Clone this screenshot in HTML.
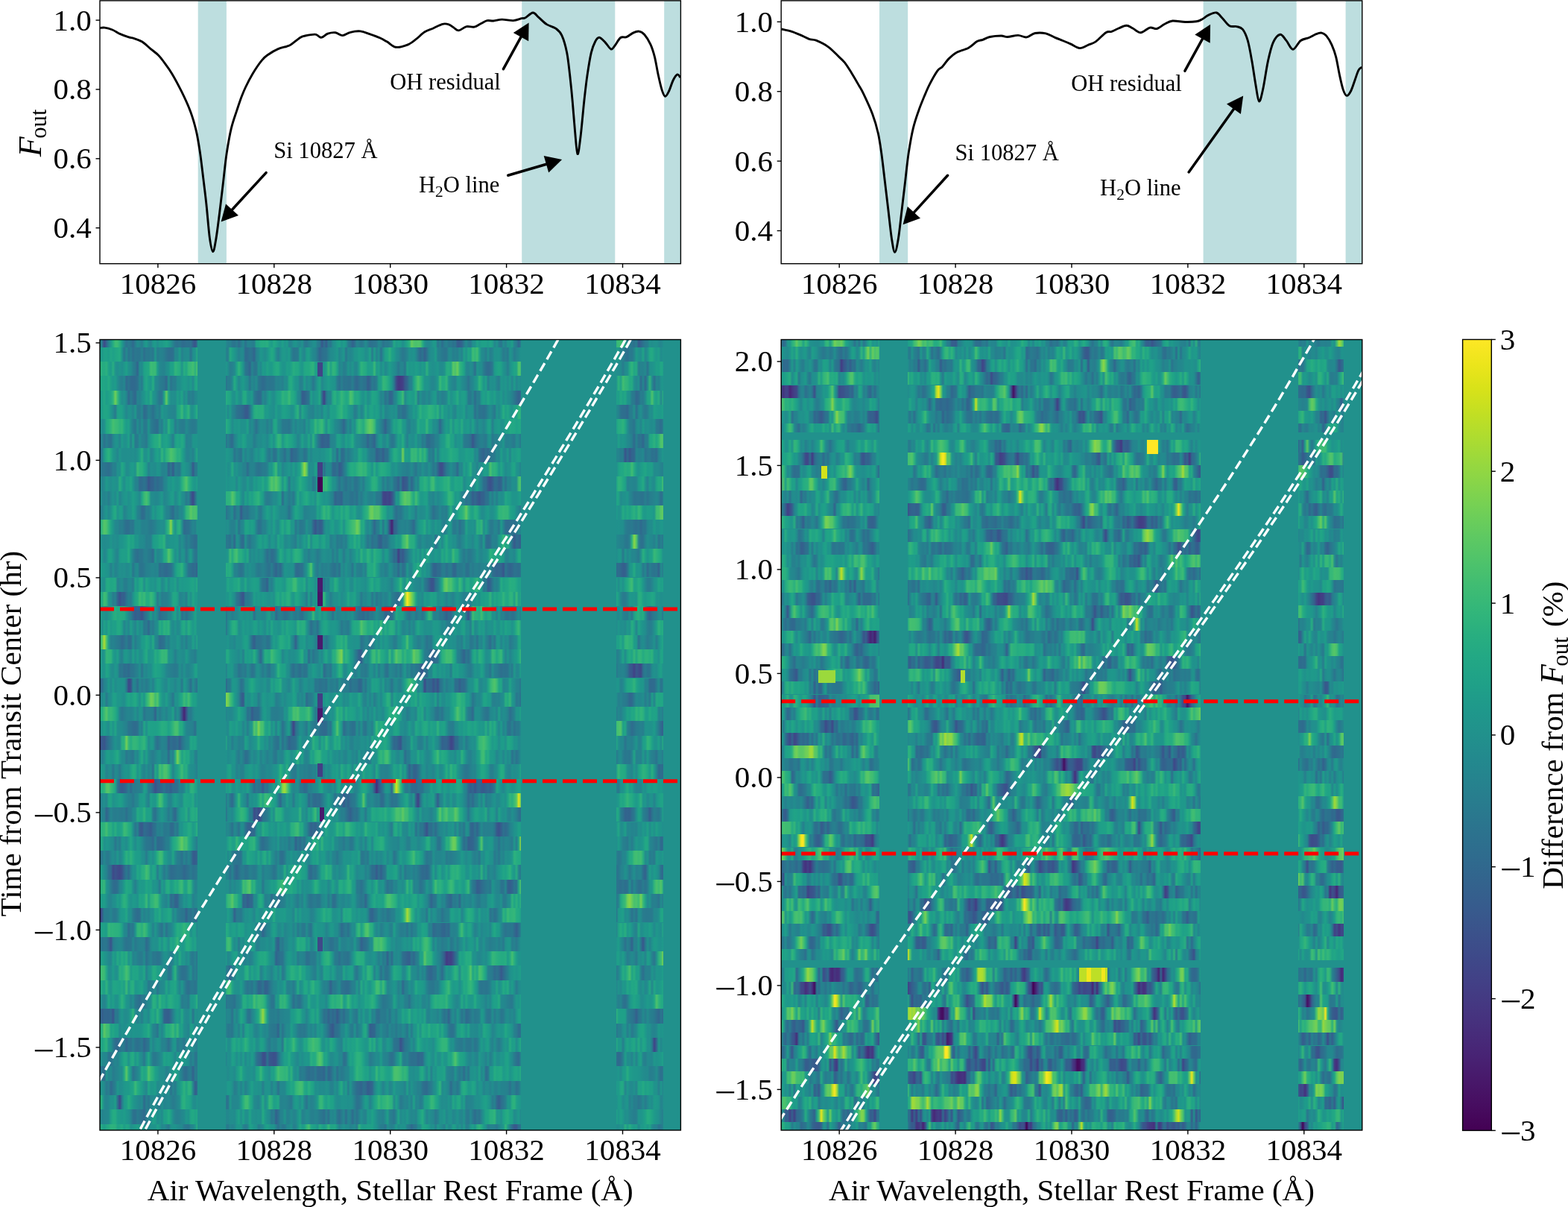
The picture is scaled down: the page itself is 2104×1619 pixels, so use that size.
<!DOCTYPE html>
<html><head><meta charset="utf-8"><title>Figure</title>
<style>
html,body{margin:0;padding:0;background:#fff}
#fig{position:relative;width:2104px;height:1619px;overflow:hidden;background:#fff}
#fig>div{position:absolute}
#ov{position:absolute;left:0;top:0}
#ov text{font-family:"Liberation Serif", "Times New Roman", serif;fill:#000}
#ov line{stroke:#000;stroke-width:1.4}
</style></head><body><div id="fig">
<div style="left:134.0px;top:455.0px;width:779.4px;height:1061.0px;background:#21918c"></div>
<div style="left:134.0px;top:455.0px;width:130.5px;height:10.8px;background:linear-gradient(90deg,#228d8d,#2a788e,#3f4788,#31688e,#26828e,#1f988b,#26ad81,#3dbc74,#3aba76,#29af7f,#1e9b8a,#25838e,#2c738e,#297b8e,#2a768e,#30698e,#287d8e,#228c8d,#25858e,#287d8e,#20928c,#1e9b8a,#238a8d,#26828e,#1f978b,#1e9b8a,#218e8d,#1f9a8a,#1f998a,#1f9e89,#20a386,#1e9c89,#21918c,#26818e,#2b758e,#2c728e,#2a778e,#2e6d8e,#2f6c8e,#2d718e,#2d708e,#2c738e,#355f8d,#3b528b,#2a788e)"></div>
<div style="left:302.5px;top:455.0px;width:396.6px;height:10.8px;background:linear-gradient(90deg,#238a8d,#27808e,#26828e,#2a768e,#2c738e,#287d8e,#2f6c8e,#297b8e,#23888e,#2c718e,#26828e,#25838e,#277f8e,#287c8e,#20a486,#20a486,#25ac82,#26ad81,#25ac82,#29af7f,#20a386,#1e9c89,#23a983,#20a386,#1f9a8a,#1f948c,#1fa088,#20938c,#1e9c89,#25838e,#25848e,#20928c,#1f958b,#228c8d,#24878e,#20928c,#29798e,#2a778e,#26818e,#23888e,#218f8d,#218f8d,#287d8e,#29798e,#39568c,#2d708e,#365c8d,#287c8e,#2b758e,#228d8d,#20928c,#1e9d89,#1fa188,#1f948c,#1e9d89,#1f958b,#297b8e,#2b748e,#33628d,#2e6e8e,#25858e,#277e8e,#2a768e,#287d8e,#228d8d,#287d8e,#2e6f8e,#2c738e,#2b758e,#2a788e,#23898e,#26828e,#2c728e,#297b8e,#29798e,#277f8e,#25858e,#23a983,#1f998a,#1f9f88,#1e9c89,#218e8d,#1f9a8a,#21a585,#2ab07f,#65cb5e,#50c46a,#4ac16d,#50c46a,#4cc26c,#27ad81,#20928c,#23898e,#23898e,#218f8d,#1f998a,#1f998a,#2b758e,#26828e,#2e6d8e,#287c8e,#26828e,#2a768e,#297a8e,#2c718e,#2a768e,#365c8d,#355e8d,#32658e,#297b8e,#228b8d,#287c8e,#29798e,#21908d,#20928c,#20a486,#1f998a,#1fa088,#1fa188,#1fa187,#1f9a8a,#20a486,#1f9e89,#25858e,#1f948c,#277e8e,#2b748e,#228d8d,#26818e,#1f958b,#20928c,#1f9f88,#26828e,#287c8e,#32658e,#287d8e)"></div>
<div style="left:827.4px;top:455.0px;width:62.8px;height:10.8px;background:linear-gradient(90deg,#34b679,#3bbb75,#40bd72,#2db27d,#21a585,#287c8e,#287c8e,#2a768e,#2d708e,#277e8e,#38598c,#31668e,#2c728e,#287c8e,#277f8e,#20928c,#228d8d,#21918c,#20928c,#228b8d,#25858e,#218e8d)"></div>
<div style="left:134.0px;top:465.8px;width:130.5px;height:19.3px;background:linear-gradient(90deg,#1fa188,#1f9a8a,#1fa188,#1fa287,#1e9d89,#22a785,#1fa188,#21a585,#22a884,#25ac82,#20938c,#2b758e,#238a8d,#2b748e,#277e8e,#2e6f8e,#2a788e,#2b758e,#2a768e,#26818e,#2e6f8e,#297a8e,#2a788e,#287d8e,#2a778e,#1f978b,#287c8e,#25838e,#26828e,#287d8e,#2b758e,#2e6f8e,#2e6f8e,#2d708e,#238a8d,#24878e,#1e9c89,#27808e,#228b8d,#228c8d,#228d8d,#2c728e,#218f8d,#20938c,#26ad81)"></div>
<div style="left:302.5px;top:465.8px;width:396.6px;height:19.3px;background:linear-gradient(90deg,#25838e,#287d8e,#25ab82,#1f9f88,#1f978b,#228d8d,#26828e,#238a8d,#23898e,#2f6b8e,#2e6d8e,#2b758e,#2d718e,#32648e,#26828e,#23888e,#1f978b,#20928c,#228c8d,#1f958b,#1fa188,#23a983,#20a386,#228d8d,#277f8e,#218e8d,#1f998a,#1f998a,#1f948c,#1e9c89,#25848e,#2b758e,#29798e,#29798e,#1e9d89,#228d8d,#24868e,#1e9c89,#1f9f88,#21918c,#23888e,#25858e,#2a768e,#32648e,#2e6e8e,#2c728e,#2c738e,#26828e,#228b8d,#228d8d,#20928c,#1f988b,#24868e,#218e8d,#1f978b,#2a778e,#238a8d,#24868e,#228b8d,#1f968b,#1f968b,#1f9e89,#1f9a8a,#1f988b,#228d8d,#20928c,#1fa287,#297b8e,#1e9d89,#26828e,#20928c,#2c718e,#228d8d,#1fa187,#20a486,#2db27d,#1fa187,#1e9c89,#218f8d,#228b8d,#27808e,#2a788e,#287c8e,#25858e,#20938c,#218f8d,#1f948c,#23898e,#2a778e,#30698e,#2b748e,#34618d,#2c738e,#23888e,#218f8d,#21908d,#1e9d89,#25838e,#277f8e,#29798e,#2b758e,#2b758e,#238a8d,#228b8d,#277e8e,#25838e,#277e8e,#218e8d,#26828e,#1fa088,#20938c,#21a685,#1f9f88,#3dbc74,#32b67a,#40bd72,#20a486,#228b8d,#23898e,#287d8e,#20928c,#277e8e,#25858e,#1f948c,#20928c,#1f948c,#238a8d,#297b8e,#26828e,#29798e,#1f958b,#228d8d,#287c8e,#25848e,#238a8d,#20928c)"></div>
<div style="left:827.4px;top:465.8px;width:62.8px;height:19.3px;background:linear-gradient(90deg,#1f9a8a,#1e9b8a,#25848e,#27808e,#2b758e,#2e6e8e,#297b8e,#2a788e,#25858e,#1e9c89,#20928c,#218e8d,#20a486,#24868e,#20938c,#22a884,#24aa83,#1f9f88,#1f988b,#1f9f88,#228b8d,#20938c)"></div>
<div style="left:134.0px;top:485.1px;width:130.5px;height:19.3px;background:linear-gradient(90deg,#32b67a,#27ad81,#25ab82,#2cb17e,#1fa188,#1e9b8a,#28ae80,#20938c,#218e8d,#1f958b,#218e8d,#1f978b,#1fa088,#21908d,#228d8d,#277f8e,#2a788e,#32658e,#218e8d,#228b8d,#1fa287,#21a685,#22a884,#3dbc74,#38b977,#3aba76,#1e9c89,#23888e,#25858e,#25838e,#228d8d,#20928c,#1fa287,#1fa188,#31b57b,#2ab07f,#26ad81,#20938c,#28ae80,#21a685,#35b779,#38b977,#44bf70,#2cb17e,#4cc26c)"></div>
<div style="left:302.5px;top:485.1px;width:396.6px;height:19.3px;background:linear-gradient(90deg,#1f998a,#218e8d,#287d8e,#26828e,#23898e,#1fa287,#2fb47c,#21a585,#20938c,#2a768e,#2d718e,#32658e,#25848e,#2a768e,#2b758e,#20928c,#23888e,#1e9d89,#1f988b,#20a386,#1e9c89,#1e9b8a,#21a585,#24aa83,#25ab82,#1e9d89,#1f958b,#1f948c,#1f9f88,#1e9d89,#20a386,#28ae80,#23a983,#23a983,#1f9e89,#1f978b,#22a785,#23a983,#23a983,#2ab07f,#2eb37c,#1fa188,#1e9b8a,#24878e,#21918c,#1f968b,#1f9f88,#3aba76,#1fa088,#31b57b,#2db27d,#1fa287,#25848e,#228b8d,#277e8e,#26828e,#1f958b,#238a8d,#1f968b,#24878e,#23888e,#1f9e89,#2fb47c,#28ae80,#25ab82,#1f9e89,#1fa088,#1fa088,#38b977,#1f998a,#1fa188,#228b8d,#1e9b8a,#23888e,#20928c,#1e9d89,#1f948c,#218e8d,#24868e,#2a778e,#25858e,#25848e,#2a768e,#1f9f88,#1f978b,#1f9a8a,#1f978b,#1f9e89,#1e9b8a,#20928c,#1e9d89,#1f948c,#2db27d,#1f968b,#20928c,#21908d,#1f948c,#1f978b,#228c8d,#228c8d,#21918c,#25ab82,#27ad81,#21a685,#5ac864,#4ac16d,#69cd5b,#31b57b,#26ad81,#1fa287,#23888e,#25858e,#218e8d,#23888e,#2e6f8e,#1f958b,#218e8d,#228d8d,#297b8e,#2c718e,#2f6b8e,#2e6f8e,#29798e,#1e9c89,#1fa188,#21a585,#1fa088,#20928c,#228c8d,#277e8e,#21918c,#1e9b8a,#20a486,#20a386,#56c667,#3fbc73)"></div>
<div style="left:827.4px;top:485.1px;width:62.8px;height:19.3px;background:linear-gradient(90deg,#228d8d,#228d8d,#228b8d,#287c8e,#228c8d,#218f8d,#24aa83,#31b57b,#21a685,#25ab82,#287d8e,#25848e,#26828e,#238a8d,#2c728e,#20928c,#20938c,#1f978b,#1f9f88,#1e9d89,#22a884,#1fa187)"></div>
<div style="left:134.0px;top:504.4px;width:130.5px;height:19.3px;background:linear-gradient(90deg,#22a884,#21a685,#21a585,#20a386,#25ab82,#1fa088,#1f988b,#1e9d89,#228d8d,#26828e,#277e8e,#24878e,#306a8e,#2b758e,#306a8e,#30698e,#2f6b8e,#2d718e,#24868e,#287c8e,#1f9e89,#22a785,#1e9d89,#1f988b,#25ac82,#228b8d,#24878e,#287d8e,#29798e,#2a768e,#31688e,#21918c,#2c738e,#277e8e,#287c8e,#218e8d,#218e8d,#1f978b,#1e9b8a,#1f998a,#20928c,#1e9c89,#23898e,#21a585,#22a884)"></div>
<div style="left:302.5px;top:504.4px;width:396.6px;height:19.3px;background:linear-gradient(90deg,#2c728e,#277e8e,#287c8e,#228b8d,#25ac82,#1e9b8a,#24878e,#1f958b,#1e9b8a,#21918c,#228c8d,#2a768e,#238a8d,#26828e,#228d8d,#2a768e,#2d718e,#2f6b8e,#2d708e,#2a778e,#2b758e,#2a768e,#2a778e,#25858e,#26828e,#24868e,#27808e,#218e8d,#228b8d,#23a983,#25ab82,#1f9e89,#1f958b,#1f948c,#27808e,#26828e,#1e9c89,#23898e,#20928c,#238a8d,#2a778e,#24878e,#1f998a,#20a486,#24878e,#20928c,#1f968b,#1f9e89,#1f978b,#1f958b,#20928c,#297b8e,#2c718e,#277f8e,#2c738e,#2a768e,#2c728e,#2c728e,#277f8e,#2e6e8e,#31688e,#2c728e,#29798e,#2c738e,#2c728e,#355e8d,#31678e,#297a8e,#2b758e,#277e8e,#1f9f88,#1fa088,#34b679,#2fb47c,#27ad81,#1fa187,#1f948c,#2a778e,#3e4a89,#453781,#443a83,#424186,#375a8c,#31678e,#277f8e,#26828e,#1fa287,#2eb37c,#48c16e,#32b67a,#22a884,#20938c,#1f968b,#21908d,#23888e,#24878e,#218e8d,#1f988b,#38b977,#25ab82,#25ac82,#32b67a,#1f948c,#228c8d,#25858e,#26828e,#1f978b,#1f978b,#228d8d,#24878e,#26818e,#2c738e,#26828e,#23888e,#20938c,#1f9a8a,#31b57b,#23a983,#1f958b,#1fa188,#277e8e,#21918c,#218e8d,#21918c,#25848e,#287d8e,#1f978b,#20928c,#1f978b,#228d8d,#1f998a,#25858e,#1e9c89,#24868e,#21918c,#228c8d)"></div>
<div style="left:827.4px;top:504.4px;width:62.8px;height:19.3px;background:linear-gradient(90deg,#1f948c,#2eb37c,#1fa187,#42be71,#34b679,#2fb47c,#23a983,#25ab82,#21908d,#24878e,#21908d,#306a8e,#23888e,#31688e,#228b8d,#31b57b,#228b8d,#2e6e8e,#23888e,#26818e,#20938c,#1f978b)"></div>
<div style="left:134.0px;top:523.7px;width:130.5px;height:19.3px;background:linear-gradient(90deg,#1f998a,#1f9f88,#22a785,#1e9d89,#1fa287,#22a785,#31b57b,#70cf57,#37b878,#1f9e89,#228d8d,#20938c,#24868e,#30698e,#287c8e,#2e6f8e,#31688e,#25858e,#26818e,#218e8d,#1f958b,#1fa188,#1f9a8a,#27ad81,#1f958b,#218f8d,#26828e,#2b758e,#2a788e,#1fa188,#63cb5f,#20a486,#228d8d,#21908d,#228c8d,#1f9f88,#1f958b,#20a486,#238a8d,#1f978b,#297b8e,#25838e,#287c8e,#23888e,#228c8d)"></div>
<div style="left:302.5px;top:523.7px;width:396.6px;height:19.3px;background:linear-gradient(90deg,#28ae80,#22a884,#21a585,#1f948c,#21918c,#1fa188,#20928c,#218f8d,#23a983,#25ab82,#1f968b,#20938c,#1e9b8a,#297b8e,#2c718e,#2f6b8e,#2e6d8e,#228b8d,#27808e,#21908d,#1e9d89,#20928c,#228c8d,#1f9a8a,#1fa287,#20a386,#2fb47c,#28ae80,#28ae80,#3bbb75,#25ac82,#23a983,#1f9e89,#23898e,#25858e,#355e8d,#33628d,#2f6c8e,#2b758e,#1fa088,#218f8d,#1f978b,#1f998a,#24aa83,#2e6d8e,#424086,#29798e,#23888e,#25848e,#24aa83,#2ab07f,#20a386,#25ab82,#35b779,#29af7f,#22a884,#24aa83,#4cc26c,#3dbc74,#22a785,#25ab82,#21a685,#1f988b,#20928c,#1fa088,#228d8d,#1f958b,#21a685,#20a486,#1fa187,#1f958b,#26828e,#228b8d,#2d718e,#277e8e,#31668e,#31688e,#26828e,#228b8d,#20a386,#24aa83,#3dbc74,#238a8d,#1f9a8a,#1fa187,#1e9d89,#1f9a8a,#27ad81,#297a8e,#20928c,#25848e,#25848e,#218e8d,#25838e,#218f8d,#1f988b,#1e9b8a,#27808e,#23898e,#277f8e,#26828e,#23898e,#20a486,#21918c,#1f9a8a,#1f9f88,#27ad81,#1f978b,#1f9e89,#1f9f88,#1f988b,#29798e,#29798e,#24868e,#2e6d8e,#27808e,#287d8e,#1e9b8a,#1fa187,#1f9a8a,#22a884,#1e9d89,#1f988b,#1fa187,#20928c,#21918c,#1e9b8a,#228c8d,#1f968b,#228d8d,#228b8d,#26828e,#2a778e,#2f6b8e,#34618d,#30698e)"></div>
<div style="left:827.4px;top:523.7px;width:62.8px;height:19.3px;background:linear-gradient(90deg,#1f9f88,#1f9e89,#23a983,#1fa187,#22a884,#20938c,#20928c,#297a8e,#29798e,#31678e,#2e6d8e,#277f8e,#297b8e,#228c8d,#21a685,#21a685,#4ec36b,#22a785,#1fa088,#27ad81,#24878e,#28ae80)"></div>
<div style="left:134.0px;top:543.0px;width:130.5px;height:19.3px;background:linear-gradient(90deg,#1f978b,#1f9f88,#21a585,#21a585,#1fa287,#1f968b,#228b8d,#29798e,#1fa287,#1fa287,#1fa088,#1f948c,#24878e,#20928c,#21908d,#25858e,#1f988b,#297b8e,#297b8e,#24878e,#2f6b8e,#2c728e,#26828e,#297b8e,#2c718e,#277e8e,#24868e,#287d8e,#1f9a8a,#21908d,#21918c,#23888e,#24878e,#25858e,#25848e,#20a486,#22a884,#38b977,#1fa088,#22a884,#32b67a,#20928c,#20928c,#1fa188,#2ab07f)"></div>
<div style="left:302.5px;top:543.0px;width:396.6px;height:19.3px;background:linear-gradient(90deg,#1fa088,#23898e,#1e9c89,#25858e,#27808e,#2c738e,#2e6f8e,#2e6d8e,#31668e,#375b8d,#375b8d,#2c728e,#218f8d,#25ab82,#2ab07f,#27ad81,#28ae80,#29af7f,#1f998a,#1e9c89,#1f948c,#20928c,#218e8d,#1f9e89,#1f948c,#1f958b,#1fa188,#1fa187,#1e9d89,#1f998a,#21908d,#1f948c,#22a785,#2db27d,#24868e,#22a785,#1f998a,#20928c,#24868e,#25858e,#26818e,#20928c,#238a8d,#20928c,#25838e,#1e9b8a,#1f978b,#228b8d,#1fa188,#1f9f88,#1f9f88,#23a983,#2ab07f,#31b57b,#21a685,#22a884,#1e9c89,#1f958b,#20928c,#297b8e,#25848e,#1f998a,#25848e,#218f8d,#25ac82,#1f958b,#20a386,#20a486,#1e9c89,#1fa187,#1e9b8a,#23888e,#1e9d89,#25848e,#23888e,#228d8d,#20928c,#228c8d,#1f948c,#2b758e,#297b8e,#2d708e,#2d718e,#277e8e,#228c8d,#218e8d,#1e9d89,#1f948c,#20a386,#2db27d,#21a585,#23a983,#25ac82,#2fb47c,#2db27d,#28ae80,#22a785,#2db27d,#20938c,#24aa83,#1f978b,#1f9a8a,#218e8d,#1f9a8a,#228b8d,#25848e,#1e9b8a,#1f968b,#1f988b,#1fa088,#23888e,#20928c,#20928c,#21918c,#2d718e,#27808e,#2c728e,#2b748e,#2d708e,#2a768e,#25848e,#228d8d,#25838e,#2a778e,#1f968b,#238a8d,#1e9b8a,#27ad81,#1f9f88,#22a785,#1f9a8a,#20928c,#1fa187,#1fa088,#31b57b,#2ab07f)"></div>
<div style="left:827.4px;top:543.0px;width:62.8px;height:19.3px;background:linear-gradient(90deg,#238a8d,#25838e,#2c728e,#2e6e8e,#2e6e8e,#31668e,#287c8e,#287c8e,#21918c,#2e6d8e,#23888e,#21908d,#27808e,#2a788e,#277e8e,#21918c,#228d8d,#1fa287,#1e9d89,#1f9a8a,#1e9b8a,#1fa187)"></div>
<div style="left:134.0px;top:562.3px;width:130.5px;height:19.3px;background:linear-gradient(90deg,#1f948c,#228d8d,#21908d,#23a983,#27ad81,#31b57b,#46c06f,#3bbb75,#38b977,#2db27d,#32b67a,#21a685,#1e9b8a,#1fa187,#228d8d,#277e8e,#2b758e,#218e8d,#287c8e,#218f8d,#29798e,#297a8e,#1f958b,#287d8e,#2a768e,#2c718e,#2f6c8e,#24878e,#277e8e,#1f9a8a,#218f8d,#2db27d,#1e9d89,#1e9b8a,#297b8e,#228b8d,#277f8e,#287c8e,#287c8e,#228c8d,#26828e,#287c8e,#297a8e,#297b8e,#24868e)"></div>
<div style="left:302.5px;top:562.3px;width:396.6px;height:19.3px;background:linear-gradient(90deg,#29af7f,#22a785,#1f9e89,#228b8d,#1f988b,#1f958b,#1f9a8a,#21918c,#20928c,#20928c,#1fa187,#25848e,#218e8d,#27808e,#2d718e,#25838e,#228d8d,#238a8d,#228b8d,#287d8e,#238a8d,#26818e,#21a585,#22a785,#228d8d,#238a8d,#29798e,#2a788e,#29798e,#2b748e,#27808e,#218f8d,#26828e,#218f8d,#24878e,#238a8d,#277f8e,#1f978b,#228c8d,#1f9f88,#1fa187,#37b878,#25ab82,#31b57b,#3bbb75,#23a983,#218f8d,#25ab82,#1f9e89,#1f988b,#228b8d,#24878e,#27808e,#2a778e,#31678e,#297b8e,#218e8d,#277e8e,#1f988b,#228c8d,#26ad81,#37b878,#2eb37c,#25ab82,#3dbc74,#54c568,#63cb5f,#56c667,#3aba76,#1f978b,#228d8d,#26828e,#2b758e,#34618d,#2a788e,#277e8e,#20928c,#21a585,#1f9f88,#24aa83,#28ae80,#1f9a8a,#1f978b,#25848e,#277f8e,#218e8d,#228b8d,#21918c,#26ad81,#1fa188,#20a386,#1fa187,#37b878,#1f9f88,#1f9e89,#228d8d,#218f8d,#24868e,#30698e,#27808e,#20928c,#1e9d89,#1f958b,#26ad81,#20928c,#21a585,#20a486,#1f998a,#27ad81,#1f968b,#1f998a,#1e9c89,#218f8d,#1fa287,#21908d,#25838e,#21908d,#228d8d,#25858e,#218f8d,#1fa088,#1fa188,#277e8e,#1f968b,#1f988b,#1e9d89,#20928c,#1f948c,#1fa188,#1fa187,#24aa83,#22a785,#22a884,#1fa287,#21a685,#22a884)"></div>
<div style="left:827.4px;top:562.3px;width:62.8px;height:19.3px;background:linear-gradient(90deg,#1fa188,#26ad81,#27ad81,#2eb37c,#22a884,#21908d,#277e8e,#297b8e,#2b748e,#228b8d,#20928c,#25858e,#1e9c89,#228d8d,#20938c,#228d8d,#228b8d,#21908d,#29798e,#2a788e,#2f6c8e,#27808e)"></div>
<div style="left:134.0px;top:581.6px;width:130.5px;height:19.3px;background:linear-gradient(90deg,#2f6c8e,#24878e,#2d718e,#26818e,#2a768e,#2c718e,#24878e,#20928c,#20938c,#25848e,#1e9d89,#21908d,#20938c,#1fa188,#27808e,#1fa188,#29798e,#297b8e,#218e8d,#26828e,#27808e,#2a788e,#20928c,#1f9a8a,#21a585,#25ab82,#25ab82,#34b679,#1e9c89,#1fa188,#20a386,#1e9d89,#21908d,#287d8e,#1f9f88,#21a685,#1fa188,#24aa83,#1fa188,#27808e,#24868e,#26828e,#1f968b,#1f958b,#1f968b)"></div>
<div style="left:302.5px;top:581.6px;width:396.6px;height:19.3px;background:linear-gradient(90deg,#2c728e,#25838e,#2c738e,#2f6b8e,#25848e,#228d8d,#1e9b8a,#1f978b,#20a386,#1e9d89,#218f8d,#218f8d,#228d8d,#287c8e,#25858e,#228d8d,#228b8d,#20928c,#21908d,#23888e,#1f968b,#1fa188,#20928c,#22a785,#34b679,#2db27d,#1f978b,#21a685,#26ad81,#21a685,#20a486,#1e9b8a,#20938c,#25848e,#228d8d,#1fa287,#20928c,#20928c,#21a685,#21908d,#2cb17e,#1f968b,#277e8e,#2e6e8e,#355e8d,#33638d,#31668e,#34608d,#25858e,#25858e,#23888e,#1fa088,#1fa188,#1f968b,#218e8d,#1fa187,#1f988b,#1fa088,#25ac82,#20928c,#238a8d,#23898e,#26828e,#287c8e,#297a8e,#32658e,#2a778e,#2e6f8e,#32648e,#26828e,#20938c,#1e9b8a,#23898e,#238a8d,#1f998a,#26818e,#2a768e,#297a8e,#21908d,#1fa287,#1f998a,#26ad81,#20928c,#27808e,#1f948c,#218f8d,#218e8d,#1e9d89,#23898e,#218f8d,#29798e,#26828e,#2f6c8e,#2f6b8e,#2b748e,#2b758e,#26828e,#26828e,#21918c,#1f9a8a,#1e9c89,#27ad81,#2cb17e,#1fa287,#20a386,#218e8d,#1f968b,#1f948c,#1f9a8a,#297b8e,#29798e,#2a778e,#2e6f8e,#39568c,#30698e,#2b758e,#287c8e,#26818e,#287d8e,#2a788e,#218e8d,#1f948c,#2a778e,#26828e,#277f8e,#238a8d,#228b8d,#1f978b,#27808e,#26818e,#25838e,#287d8e,#2a788e,#228d8d,#24878e,#2a778e)"></div>
<div style="left:827.4px;top:581.6px;width:62.8px;height:19.3px;background:linear-gradient(90deg,#228b8d,#1fa088,#20938c,#1f978b,#20938c,#238a8d,#24868e,#277e8e,#30698e,#25848e,#2d708e,#2b758e,#31668e,#277f8e,#287d8e,#22a785,#23a983,#2db27d,#21a685,#2eb37c,#52c569,#4ac16d)"></div>
<div style="left:134.0px;top:600.9px;width:130.5px;height:19.3px;background:linear-gradient(90deg,#2f6b8e,#277e8e,#1f9a8a,#24aa83,#2db27d,#22a785,#1f978b,#21918c,#24868e,#1f978b,#218e8d,#218e8d,#218e8d,#218f8d,#228d8d,#218f8d,#228b8d,#20928c,#1f9f88,#29af7f,#20928c,#20928c,#1f9f88,#25858e,#228b8d,#1e9b8a,#1fa287,#1f998a,#31b57b,#1fa187,#2db27d,#38b977,#4ec36b,#42be71,#37b878,#28ae80,#2cb17e,#20a486,#1f968b,#24868e,#25838e,#228c8d,#26818e,#1f968b,#23a983)"></div>
<div style="left:302.5px;top:600.9px;width:396.6px;height:19.3px;background:linear-gradient(90deg,#1f998a,#1f978b,#20928c,#218f8d,#2b748e,#26828e,#29798e,#2c738e,#20928c,#26828e,#218e8d,#24878e,#26818e,#218e8d,#1f988b,#218f8d,#1e9b8a,#1fa188,#1f948c,#27808e,#2a778e,#24868e,#2c718e,#2a768e,#21918c,#26828e,#287d8e,#2e6e8e,#25838e,#26828e,#34618d,#2e6d8e,#2f6c8e,#2a768e,#26818e,#26818e,#2c728e,#29798e,#20928c,#24868e,#20928c,#21918c,#20928c,#218e8d,#20938c,#20928c,#1f9a8a,#1e9c89,#22a785,#24878e,#218f8d,#2f6b8e,#218e8d,#2e6d8e,#2e6f8e,#25848e,#297a8e,#25838e,#238a8d,#1f948c,#21918c,#23a983,#20a386,#1f968b,#1f9a8a,#23888e,#277e8e,#287c8e,#297b8e,#34618d,#31688e,#2e6e8e,#355f8d,#2c718e,#2e6f8e,#228c8d,#1e9c89,#26ad81,#25ac82,#20a386,#1e9c89,#70cf57,#1f9f88,#1fa187,#1e9b8a,#38b977,#34b679,#38b977,#22a884,#3bbb75,#23a983,#34b679,#1f9f88,#297b8e,#25838e,#2a778e,#1e9c89,#26828e,#1f988b,#1fa187,#1f9f88,#1fa188,#22a884,#28ae80,#22a884,#22a785,#20a486,#1f968b,#1f998a,#1f998a,#1fa187,#1f9e89,#1e9d89,#1f9f88,#24878e,#218e8d,#2c718e,#306a8e,#33638d,#2e6f8e,#31678e,#2a788e,#2a778e,#297b8e,#228b8d,#24868e,#1f9f88,#218e8d,#218f8d,#1f9e89,#25858e,#1f9f88,#1f998a,#1f9e89,#20a386,#1e9d89)"></div>
<div style="left:827.4px;top:600.9px;width:62.8px;height:19.3px;background:linear-gradient(90deg,#25858e,#25858e,#287c8e,#277f8e,#3a538b,#2e6d8e,#39568c,#32658e,#32658e,#24878e,#26818e,#25838e,#23898e,#2c728e,#297a8e,#297b8e,#2d708e,#2b748e,#2f6c8e,#24868e,#228d8d,#1f998a)"></div>
<div style="left:134.0px;top:620.1px;width:130.5px;height:19.3px;background:linear-gradient(90deg,#287c8e,#2a768e,#2b758e,#2c728e,#2e6e8e,#2b748e,#26828e,#277e8e,#20928c,#218f8d,#23a983,#1f9e89,#228c8d,#218f8d,#1f998a,#1e9b8a,#20928c,#38b977,#2ab07f,#2ab07f,#21a585,#1f9a8a,#26828e,#218f8d,#228d8d,#228c8d,#1f958b,#20928c,#25838e,#25838e,#24878e,#33628d,#2a788e,#365c8d,#27808e,#297a8e,#2a778e,#1f978b,#1f998a,#20928c,#228d8d,#26818e,#38598c,#297a8e,#287c8e)"></div>
<div style="left:302.5px;top:620.1px;width:396.6px;height:19.3px;background:linear-gradient(90deg,#1f9a8a,#218e8d,#20928c,#25ac82,#21908d,#1f968b,#228b8d,#228b8d,#26828e,#26828e,#2e6d8e,#26828e,#25848e,#26828e,#2a778e,#2c738e,#2a768e,#287c8e,#297b8e,#26818e,#1f988b,#1f968b,#25ab82,#3bbb75,#1f948c,#1e9c89,#25858e,#218e8d,#20928c,#1f988b,#218f8d,#1f9f88,#21908d,#1e9c89,#20a486,#4ec36b,#95d840,#58c765,#228c8d,#21908d,#228d8d,#1fa188,#21908d,#1f998a,#1f958b,#2e6e8e,#238a8d,#238a8d,#23888e,#30698e,#306a8e,#2c728e,#365c8d,#31668e,#2a788e,#23888e,#1f9e89,#24aa83,#26ad81,#23a983,#2cb17e,#35b779,#38b977,#2eb37c,#34b679,#21a585,#20a386,#1f948c,#27ad81,#1f978b,#21a585,#27ad81,#25ac82,#23a983,#20a386,#1fa187,#21908d,#20928c,#1f988b,#228c8d,#23898e,#25838e,#26828e,#277e8e,#26828e,#228c8d,#27808e,#2b758e,#23888e,#26828e,#21918c,#23888e,#25838e,#21918c,#25858e,#2a768e,#27808e,#31678e,#3c4f8a,#3d4e8a,#31668e,#29798e,#26818e,#218e8d,#25838e,#27808e,#31688e,#228b8d,#25858e,#1fa188,#1f958b,#1fa188,#2ab07f,#21908d,#21918c,#26828e,#20928c,#228b8d,#1e9d89,#1f9e89,#1f9a8a,#4cc26c,#2cb17e,#2fb47c,#26ad81,#1f978b,#21a685,#1f988b,#228b8d,#20928c,#21918c,#1fa287,#21a585,#1f948c,#21908d,#26818e)"></div>
<div style="left:827.4px;top:620.1px;width:62.8px;height:19.3px;background:linear-gradient(90deg,#228d8d,#1fa187,#22a785,#22a884,#29af7f,#25ab82,#26ad81,#40bd72,#25ab82,#1e9b8a,#20928c,#1e9c89,#1fa187,#21a685,#1e9d89,#1f9e89,#1f9f88,#238a8d,#228c8d,#238a8d,#26828e,#26818e)"></div>
<div style="left:134.0px;top:639.4px;width:130.5px;height:19.3px;background:linear-gradient(90deg,#1f958b,#25848e,#238a8d,#1f9a8a,#21918c,#228d8d,#1f958b,#21918c,#21908d,#29af7f,#1e9c89,#218e8d,#1f9e89,#1e9c89,#21a685,#1f948c,#25838e,#26828e,#306a8e,#2e6d8e,#2c738e,#2f6b8e,#39568c,#33628d,#32648e,#2c718e,#30698e,#2d718e,#2d718e,#25848e,#23888e,#1f988b,#1f948c,#1e9d89,#1f958b,#20938c,#1f998a,#28ae80,#3bbb75,#52c569,#2eb37c,#22a884,#1e9b8a,#1f978b,#1fa188)"></div>
<div style="left:302.5px;top:639.4px;width:396.6px;height:19.3px;background:linear-gradient(90deg,#1f988b,#20928c,#1f968b,#1f978b,#1f998a,#24878e,#1e9c89,#20938c,#238a8d,#238a8d,#1e9b8a,#218e8d,#228b8d,#1e9d89,#1f968b,#1fa088,#1f9e89,#24aa83,#1e9c89,#20a386,#37b878,#52c569,#42be71,#58c765,#40bd72,#2cb17e,#1f958b,#26ad81,#1e9b8a,#2a778e,#1f968b,#218f8d,#1f978b,#1fa188,#28ae80,#21a585,#1f9f88,#1f978b,#228c8d,#218f8d,#2a768e,#25848e,#1e9c89,#1fa188,#35b779,#34b679,#3aba76,#25ab82,#20a486,#20928c,#21918c,#26828e,#2c738e,#26828e,#29798e,#2d718e,#287d8e,#2a788e,#25838e,#2c738e,#2b748e,#277e8e,#238a8d,#287c8e,#21918c,#1f968b,#1f9e89,#29af7f,#2cb17e,#26ad81,#1f988b,#20938c,#297b8e,#228c8d,#297a8e,#26828e,#23898e,#2b748e,#2d708e,#34608d,#297b8e,#3a538b,#375a8c,#34608d,#277f8e,#31678e,#29798e,#218f8d,#26828e,#23a983,#23a983,#2db27d,#27ad81,#1fa187,#37b878,#3fbc73,#22a785,#1fa188,#21a585,#22a884,#29af7f,#29af7f,#31b57b,#1fa088,#1e9d89,#22a884,#21a585,#20a486,#22a884,#238a8d,#1f948c,#1f998a,#1f9a8a,#25838e,#20928c,#1fa188,#228d8d,#25838e,#2e6d8e,#2f6c8e,#38598c,#3c508b,#375b8d,#2e6e8e,#2f6c8e,#34618d,#32658e,#25858e,#2c728e,#24868e,#26828e,#218f8d,#218f8d,#228d8d,#48c16e,#4ec36b)"></div>
<div style="left:827.4px;top:639.4px;width:62.8px;height:19.3px;background:linear-gradient(90deg,#1fa287,#2fb47c,#2cb17e,#23a983,#1fa287,#26828e,#25858e,#24868e,#25838e,#25858e,#1f9a8a,#1fa088,#25ab82,#20928c,#26828e,#1f998a,#218f8d,#228b8d,#20a386,#25ab82,#22a884,#46c06f)"></div>
<div style="left:134.0px;top:658.7px;width:130.5px;height:19.3px;background:linear-gradient(90deg,#1f998a,#24878e,#25838e,#238a8d,#287c8e,#238a8d,#1f948c,#238a8d,#1e9d89,#25838e,#218f8d,#1f958b,#1f988b,#218f8d,#1f978b,#1fa088,#1f998a,#20938c,#23898e,#22a785,#38b977,#46c06f,#31b57b,#228d8d,#228c8d,#23888e,#23888e,#218f8d,#1f988b,#24868e,#238a8d,#21918c,#1e9b8a,#1f9e89,#23898e,#20928c,#1fa187,#218f8d,#228c8d,#29798e,#25858e,#34618d,#3f4788,#2e6e8e,#20938c)"></div>
<div style="left:302.5px;top:658.7px;width:396.6px;height:19.3px;background:linear-gradient(90deg,#2cb17e,#2db27d,#2fb47c,#56c667,#3dbc74,#22a785,#22a884,#1f958b,#23888e,#1fa187,#1f958b,#21a685,#1f9f88,#24aa83,#29af7f,#2fb47c,#20a486,#1e9d89,#26828e,#297b8e,#277e8e,#25858e,#228d8d,#228c8d,#1f968b,#1f9e89,#2f6b8e,#228d8d,#24878e,#297a8e,#25848e,#2a778e,#20928c,#24aa83,#1f968b,#1fa088,#22a785,#25ac82,#1fa287,#1f988b,#1f9f88,#21908d,#25ab82,#1fa188,#1f9a8a,#1f948c,#1f988b,#21918c,#23888e,#26818e,#33638d,#2f6b8e,#30698e,#32648e,#287d8e,#297a8e,#287c8e,#2b748e,#2c728e,#297a8e,#2e6f8e,#25848e,#297a8e,#24878e,#218f8d,#24868e,#26828e,#26828e,#23898e,#2a788e,#2a788e,#2c738e,#404588,#414287,#3e4989,#424186,#3a538b,#2e6e8e,#1f988b,#20928c,#32b67a,#48c16e,#5ec962,#50c46a,#52c569,#32b67a,#22a785,#42be71,#27ad81,#1f9a8a,#1e9b8a,#1fa088,#1fa188,#23888e,#238a8d,#25838e,#21918c,#23888e,#218e8d,#1f948c,#1e9d89,#20a486,#34b679,#31b57b,#25ac82,#1f978b,#1f9e89,#1f968b,#26818e,#26818e,#2c728e,#297a8e,#2c728e,#355f8d,#306a8e,#355f8d,#39568c,#33628d,#33628d,#2d718e,#2c718e,#228c8d,#297b8e,#218f8d,#277e8e,#20938c,#218e8d,#21908d,#22a785,#1fa187,#1f9f88,#1f958b,#1f958b,#1f958b,#1f9a8a,#1fa287)"></div>
<div style="left:827.4px;top:658.7px;width:62.8px;height:19.3px;background:linear-gradient(90deg,#20a486,#20a486,#238a8d,#20928c,#21918c,#1f978b,#24878e,#27808e,#2b748e,#2a768e,#2a778e,#2b748e,#2c738e,#277f8e,#2b748e,#277e8e,#27808e,#25848e,#23898e,#26818e,#2f6c8e,#277f8e)"></div>
<div style="left:134.0px;top:678.0px;width:130.5px;height:19.3px;background:linear-gradient(90deg,#27808e,#26818e,#228d8d,#1f978b,#23888e,#20928c,#20a486,#25ab82,#20938c,#1f9e89,#1e9d89,#26828e,#238a8d,#20938c,#20938c,#1fa187,#1f978b,#25838e,#287d8e,#2f6c8e,#2e6f8e,#27808e,#287d8e,#23888e,#1e9c89,#21918c,#1e9d89,#1fa088,#21a685,#21918c,#25848e,#25838e,#2a768e,#2f6b8e,#26828e,#287c8e,#228b8d,#24878e,#1f978b,#31b57b,#3bbb75,#5cc863,#46c06f,#4ec36b,#38b977)"></div>
<div style="left:302.5px;top:678.0px;width:396.6px;height:19.3px;background:linear-gradient(90deg,#2c738e,#287c8e,#25838e,#218e8d,#2f6c8e,#27808e,#26828e,#375b8d,#2c738e,#2a768e,#2c728e,#277f8e,#25858e,#25858e,#20938c,#277f8e,#2a778e,#228b8d,#1f958b,#1fa188,#1e9b8a,#21918c,#1fa287,#1f998a,#20938c,#238a8d,#228b8d,#238a8d,#25848e,#2c718e,#25848e,#1f968b,#21a685,#1fa188,#1f988b,#1f948c,#26818e,#25838e,#25858e,#23898e,#23898e,#238a8d,#20a386,#1f998a,#25ab82,#35b779,#25ab82,#31b57b,#21a585,#1f968b,#1fa287,#21a685,#1fa088,#28ae80,#1fa187,#27ad81,#25ac82,#1f9a8a,#1f9e89,#21a685,#21918c,#218f8d,#20938c,#21a585,#28ae80,#31b57b,#63cb5f,#6ece58,#50c46a,#56c667,#54c568,#34b679,#25ab82,#21a685,#21918c,#1f948c,#1f958b,#277e8e,#2e6f8e,#29798e,#2a768e,#26828e,#218e8d,#228c8d,#1f9a8a,#21918c,#218e8d,#297b8e,#20928c,#228b8d,#228d8d,#218f8d,#1e9b8a,#228d8d,#277f8e,#2e6f8e,#29798e,#287d8e,#23898e,#277e8e,#26828e,#297b8e,#1f968b,#28ae80,#218e8d,#20938c,#1fa088,#26ad81,#2ab07f,#3aba76,#63cb5f,#31b57b,#21a585,#1fa187,#29af7f,#25ac82,#1e9b8a,#228d8d,#218e8d,#1f978b,#1e9c89,#21918c,#21908d,#1f978b,#1fa287,#32b67a,#31b57b,#37b878,#34b679,#34b679,#21a585,#1f9e89,#1e9c89,#228d8d,#24868e,#2b758e)"></div>
<div style="left:827.4px;top:678.0px;width:62.8px;height:19.3px;background:linear-gradient(90deg,#1e9b8a,#21918c,#1f958b,#25ab82,#1f9f88,#23a983,#1fa187,#25ab82,#2cb17e,#21a685,#37b878,#2ab07f,#1e9c89,#1f998a,#1f9f88,#1f9e89,#1e9d89,#1f968b,#40bd72,#40bd72,#5cc863,#5ec962)"></div>
<div style="left:134.0px;top:697.3px;width:130.5px;height:19.3px;background:linear-gradient(90deg,#1f988b,#38b977,#54c568,#4ac16d,#2fb47c,#20a486,#1f968b,#24878e,#23888e,#287d8e,#27808e,#2a768e,#2e6e8e,#2e6f8e,#2a788e,#2b758e,#228c8d,#238a8d,#228c8d,#26818e,#26818e,#26828e,#287d8e,#2a788e,#287d8e,#26828e,#228b8d,#218e8d,#21908d,#228d8d,#22a785,#35b779,#8bd646,#27ad81,#20928c,#25ac82,#2cb17e,#21908d,#306a8e,#2d708e,#2d718e,#287c8e,#24868e,#27808e,#1f988b)"></div>
<div style="left:302.5px;top:697.3px;width:396.6px;height:19.3px;background:linear-gradient(90deg,#228c8d,#21918c,#25838e,#27808e,#27808e,#20938c,#2b748e,#25858e,#23898e,#20a486,#20a486,#1e9c89,#1fa188,#1e9b8a,#26828e,#2d718e,#2b748e,#25838e,#26818e,#21908d,#1f998a,#21908d,#1fa187,#21908d,#228b8d,#1f9f88,#25ac82,#1f9a8a,#23a983,#26ad81,#1f958b,#1f998a,#2a778e,#23888e,#2a778e,#297a8e,#277e8e,#20928c,#25858e,#24868e,#31688e,#3a548c,#30698e,#365d8d,#33628d,#24868e,#1f968b,#21908d,#1e9c89,#1fa188,#20938c,#1f948c,#1e9d89,#23a983,#20928c,#22a884,#29af7f,#34b679,#40bd72,#48c16e,#70cf57,#56c667,#21a585,#25ac82,#21908d,#23888e,#20928c,#277f8e,#31688e,#287c8e,#27808e,#1e9b8a,#2a768e,#1f958b,#26818e,#3d4d8a,#481f70,#33628d,#31678e,#287d8e,#26828e,#25848e,#26818e,#25858e,#277f8e,#2a768e,#30698e,#25838e,#1f948c,#1e9d89,#1fa187,#27ad81,#20938c,#1fa188,#1f948c,#228d8d,#1f9a8a,#20928c,#1f948c,#25858e,#287d8e,#23888e,#1f9a8a,#1f978b,#297a8e,#297a8e,#25848e,#2d708e,#287d8e,#27808e,#20a386,#20928c,#20928c,#1f948c,#218e8d,#2db27d,#25ac82,#34b679,#218e8d,#1fa088,#228c8d,#297a8e,#297a8e,#24878e,#25848e,#2a778e,#1e9c89,#25838e,#2e6e8e,#2f6c8e,#2e6e8e,#2c728e,#2d718e,#2c738e,#23898e,#26828e)"></div>
<div style="left:827.4px;top:697.3px;width:62.8px;height:19.3px;background:linear-gradient(90deg,#21908d,#20928c,#218f8d,#218f8d,#277f8e,#297a8e,#2a788e,#297a8e,#2c738e,#2d708e,#2a768e,#30698e,#2b758e,#2b748e,#23888e,#228c8d,#228d8d,#1e9c89,#20928c,#20928c,#1f988b,#1f978b)"></div>
<div style="left:134.0px;top:716.6px;width:130.5px;height:19.3px;background:linear-gradient(90deg,#20928c,#218e8d,#238a8d,#228d8d,#228d8d,#1f968b,#228d8d,#21908d,#228b8d,#1f948c,#1f948c,#1f998a,#1f9e89,#24aa83,#1fa187,#21a585,#1f958b,#1f978b,#228b8d,#228b8d,#23898e,#277f8e,#26818e,#277f8e,#1e9b8a,#1f9f88,#1fa187,#24aa83,#23a983,#2eb37c,#21918c,#20928c,#1f968b,#1f958b,#1f978b,#1f998a,#25848e,#21918c,#24868e,#2a788e,#26828e,#2a778e,#2c738e,#2f6c8e,#2b758e)"></div>
<div style="left:302.5px;top:716.6px;width:396.6px;height:19.3px;background:linear-gradient(90deg,#2a778e,#2a788e,#2c718e,#25858e,#31678e,#20938c,#23898e,#2c718e,#306a8e,#20938c,#287d8e,#2b758e,#25838e,#24868e,#21908d,#1e9d89,#1fa287,#1f968b,#1fa088,#1f998a,#23888e,#1f988b,#1f968b,#228b8d,#21a685,#1f998a,#1f9f88,#238a8d,#228c8d,#20928c,#23888e,#25848e,#297b8e,#1f968b,#24878e,#20928c,#1f9e89,#1f948c,#28ae80,#228d8d,#20a386,#20a386,#21a585,#1f958b,#1fa188,#21a685,#1f958b,#1f998a,#277e8e,#24868e,#238a8d,#29798e,#277f8e,#297a8e,#25858e,#277e8e,#1f968b,#1fa287,#1f9f88,#2ab07f,#1fa187,#25ac82,#20928c,#1f9a8a,#24878e,#2a778e,#26828e,#2e6f8e,#2a778e,#2a778e,#32648e,#34608d,#2b758e,#2d708e,#2b758e,#25858e,#228d8d,#218f8d,#1f9e89,#1f978b,#1f9f88,#38b977,#46c06f,#63cb5f,#2cb17e,#27ad81,#27ad81,#1e9b8a,#23888e,#26828e,#21908d,#228b8d,#25848e,#24878e,#24878e,#20928c,#2c718e,#25858e,#1f9a8a,#238a8d,#1f9e89,#25ab82,#1f968b,#1f988b,#218f8d,#21918c,#25838e,#287c8e,#24878e,#228d8d,#1f9a8a,#218f8d,#218f8d,#24878e,#1f958b,#1f988b,#23888e,#287c8e,#1e9c89,#2c718e,#2f6b8e,#2d718e,#25838e,#26818e,#26818e,#1e9b8a,#20a386,#35b779,#21a685,#25ac82,#21918c,#2c738e,#38598c,#2e6d8e,#31678e,#355e8d)"></div>
<div style="left:827.4px;top:716.6px;width:62.8px;height:19.3px;background:linear-gradient(90deg,#23888e,#24868e,#26828e,#26818e,#29798e,#2a768e,#27808e,#2db27d,#8bd646,#52c569,#277f8e,#2d718e,#2c728e,#25848e,#218f8d,#23898e,#23888e,#277f8e,#21908d,#2c738e,#26818e,#2a768e)"></div>
<div style="left:134.0px;top:735.9px;width:130.5px;height:19.3px;background:linear-gradient(90deg,#218e8d,#1f988b,#25858e,#218f8d,#1fa287,#1fa287,#1f978b,#238a8d,#25838e,#1e9b8a,#1f9f88,#1f9f88,#1f9e89,#26ad81,#1f958b,#26818e,#2b748e,#2e6f8e,#2a768e,#2b758e,#277f8e,#27808e,#297a8e,#2a768e,#2f6c8e,#1f958b,#25858e,#238a8d,#21908d,#24aa83,#28ae80,#56c667,#38b977,#21a585,#218e8d,#1e9b8a,#26818e,#1f948c,#20928c,#2a788e,#228d8d,#1e9d89,#25848e,#2b748e,#2a788e)"></div>
<div style="left:302.5px;top:735.9px;width:396.6px;height:19.3px;background:linear-gradient(90deg,#20938c,#1f968b,#3fbc73,#23a983,#3bbb75,#46c06f,#27ad81,#28ae80,#21a585,#1e9b8a,#23a983,#25858e,#21908d,#228b8d,#20938c,#228b8d,#20928c,#228d8d,#277e8e,#2e6e8e,#297a8e,#2f6c8e,#2c728e,#277e8e,#1f968b,#25ab82,#20a386,#1f948c,#1fa188,#21a585,#1f978b,#24aa83,#2db27d,#2ab07f,#25ac82,#1f9e89,#23888e,#238a8d,#287d8e,#23888e,#228c8d,#25858e,#297a8e,#26828e,#228d8d,#21918c,#218e8d,#238a8d,#218f8d,#297b8e,#228c8d,#287c8e,#1f958b,#218f8d,#297b8e,#228d8d,#20928c,#26828e,#218e8d,#1f958b,#20a486,#1f978b,#2eb37c,#1fa187,#20a386,#2fb47c,#25ab82,#1e9c89,#2cb17e,#23a983,#21a685,#1fa188,#23898e,#1e9c89,#1e9b8a,#25848e,#287d8e,#31688e,#2e6f8e,#433e85,#33638d,#38598c,#2f6b8e,#2a788e,#24878e,#21918c,#1fa188,#20938c,#1fa187,#228d8d,#20a486,#20928c,#22a884,#1e9c89,#1f948c,#21918c,#1e9b8a,#1f968b,#20928c,#23a983,#1f9f88,#26ad81,#1fa088,#1e9d89,#3bbb75,#24aa83,#23a983,#21908d,#25848e,#29798e,#25848e,#29798e,#297a8e,#26818e,#23888e,#1f958b,#238a8d,#24868e,#218f8d,#218f8d,#1f988b,#2db27d,#25ab82,#22a884,#1fa287,#22a884,#1fa088,#1e9d89,#26828e,#26828e,#228d8d,#228d8d,#24868e,#1f988b,#23a983,#22a785)"></div>
<div style="left:827.4px;top:735.9px;width:62.8px;height:19.3px;background:linear-gradient(90deg,#228b8d,#1f968b,#1f988b,#2a778e,#1f968b,#25858e,#20928c,#24868e,#24878e,#26818e,#29798e,#21918c,#2ab07f,#1fa287,#1f958b,#1fa088,#20a386,#38b977,#2eb37c,#26ad81,#21a685,#218e8d)"></div>
<div style="left:134.0px;top:755.2px;width:130.5px;height:19.3px;background:linear-gradient(90deg,#1f9e89,#1f998a,#1f988b,#1f958b,#20928c,#277f8e,#20928c,#26828e,#23888e,#21918c,#228d8d,#21918c,#238a8d,#228c8d,#1f958b,#2a768e,#23888e,#228c8d,#2b748e,#2b748e,#29798e,#26818e,#26828e,#25858e,#24878e,#25838e,#24878e,#2f6c8e,#2d718e,#2e6d8e,#30698e,#2e6f8e,#2d718e,#26818e,#1e9b8a,#22a884,#25ab82,#2fb47c,#1e9d89,#23898e,#2c738e,#2c718e,#306a8e,#2e6e8e,#34618d)"></div>
<div style="left:302.5px;top:755.2px;width:396.6px;height:19.3px;background:linear-gradient(90deg,#28ae80,#24aa83,#28ae80,#1f9f88,#26828e,#25838e,#2a788e,#2c738e,#29798e,#21918c,#238a8d,#20928c,#228b8d,#228b8d,#277f8e,#29798e,#287d8e,#26828e,#287d8e,#2b758e,#2d718e,#277f8e,#2d708e,#32648e,#2b748e,#30698e,#27808e,#1f958b,#20928c,#21908d,#20928c,#21908d,#2e6e8e,#2f6b8e,#2d718e,#2c728e,#24868e,#20938c,#28ae80,#50c46a,#1e9c89,#25858e,#297a8e,#23898e,#287d8e,#25838e,#27808e,#25858e,#297b8e,#2b748e,#2c728e,#277e8e,#2d708e,#21908d,#25858e,#1f948c,#238a8d,#23888e,#2b748e,#1f948c,#27808e,#27808e,#287c8e,#228c8d,#277f8e,#23a983,#24aa83,#22a884,#2db27d,#1fa187,#1f968b,#25848e,#23888e,#287d8e,#25838e,#20928c,#228c8d,#297b8e,#27808e,#30698e,#25848e,#2e6f8e,#2a768e,#1f978b,#25858e,#24868e,#1fa188,#1fa187,#28ae80,#20a486,#20928c,#1e9c89,#218e8d,#21908d,#297a8e,#32658e,#32648e,#2e6d8e,#2e6d8e,#287c8e,#277e8e,#2d708e,#297a8e,#287d8e,#30698e,#31678e,#287c8e,#29798e,#297a8e,#26818e,#2c728e,#2d718e,#26828e,#297b8e,#26828e,#26828e,#287d8e,#25848e,#25848e,#23898e,#29798e,#228b8d,#2d708e,#306a8e,#32648e,#31688e,#31668e,#39558c,#2a768e,#306a8e,#32648e,#31688e,#2c728e,#2d718e,#2e6d8e,#2a768e)"></div>
<div style="left:827.4px;top:755.2px;width:62.8px;height:19.3px;background:linear-gradient(90deg,#306a8e,#2e6e8e,#31688e,#355f8d,#34618d,#2b758e,#1f958b,#1f998a,#25ab82,#1f958b,#1f978b,#20938c,#29798e,#23888e,#306a8e,#277f8e,#2a768e,#2c738e,#2a778e,#33628d,#228d8d,#297b8e)"></div>
<div style="left:134.0px;top:774.5px;width:130.5px;height:19.3px;background:linear-gradient(90deg,#26828e,#1f968b,#228d8d,#23a983,#24aa83,#21a585,#22a785,#24aa83,#27808e,#23888e,#228c8d,#277e8e,#287d8e,#23888e,#24878e,#287d8e,#1fa287,#1f978b,#22a785,#24aa83,#218f8d,#21a585,#1e9d89,#1f958b,#1f988b,#21918c,#1f9e89,#1fa187,#23898e,#21918c,#1fa188,#228b8d,#1e9b8a,#1f988b,#20a386,#228d8d,#1e9d89,#1f998a,#1e9b8a,#1e9c89,#1e9d89,#1fa287,#21a585,#1f9e89,#25ac82)"></div>
<div style="left:302.5px;top:774.5px;width:396.6px;height:19.3px;background:linear-gradient(90deg,#1f978b,#22a785,#1f9e89,#1f9f88,#21a685,#21a585,#27ad81,#1f988b,#1f968b,#23a983,#1f948c,#1f998a,#1f9e89,#1fa187,#1f9f88,#1e9d89,#27808e,#2d718e,#2c718e,#34618d,#24878e,#277f8e,#218f8d,#1fa188,#1f9f88,#1fa188,#1e9c89,#1f968b,#24aa83,#28ae80,#26ad81,#3bbb75,#3dbc74,#22a785,#20a486,#1fa188,#25ac82,#218e8d,#1fa187,#1e9d89,#1f9a8a,#21908d,#218f8d,#1f988b,#277f8e,#2a778e,#24878e,#277f8e,#1f9e89,#1f988b,#29af7f,#22a884,#1f948c,#20928c,#228b8d,#1f988b,#1f9e89,#228d8d,#228d8d,#1fa088,#1f948c,#1f988b,#20938c,#20928c,#218e8d,#1f998a,#21a585,#25ac82,#1e9d89,#20a486,#21a585,#1f958b,#21908d,#20938c,#218e8d,#238a8d,#277f8e,#21908d,#1f998a,#20a386,#35b779,#1f9e89,#20928c,#29af7f,#1f958b,#1f978b,#228d8d,#23898e,#23888e,#25838e,#20928c,#297a8e,#2d718e,#33628d,#3b528b,#39558c,#2c718e,#287c8e,#20928c,#24aa83,#56c667,#69cd5b,#46c06f,#4cc26c,#32b67a,#25ac82,#1fa287,#3aba76,#27ad81,#20928c,#24aa83,#26ad81,#1f9f88,#20a486,#28ae80,#37b878,#20a486,#1e9b8a,#2b748e,#297b8e,#365c8d,#32648e,#2a778e,#24868e,#26818e,#228c8d,#25ac82,#1fa187,#21a585,#22a785,#29af7f,#26ad81,#27ad81,#22a785,#1f9e89,#1fa287)"></div>
<div style="left:827.4px;top:774.5px;width:62.8px;height:19.3px;background:linear-gradient(90deg,#1fa088,#228c8d,#1f9e89,#20928c,#1fa287,#24aa83,#32b67a,#3fbc73,#1fa188,#20a386,#26ad81,#21a685,#1f968b,#24878e,#287c8e,#287c8e,#25858e,#20938c,#1f978b,#21a685,#1f9e89,#1fa287)"></div>
<div style="left:134.0px;top:793.8px;width:130.5px;height:19.3px;background:linear-gradient(90deg,#24aa83,#22a785,#40bd72,#34b679,#20938c,#21908d,#297b8e,#25838e,#32648e,#3b518b,#34618d,#355f8d,#2b748e,#26828e,#297b8e,#1f948c,#20a486,#23a983,#3dbc74,#2eb37c,#3aba76,#26ad81,#26ad81,#38b977,#2db27d,#1fa188,#287c8e,#218f8d,#287c8e,#27808e,#277f8e,#24868e,#21918c,#22a785,#22a884,#1fa188,#25838e,#24868e,#228d8d,#287d8e,#1f9f88,#218f8d,#21a685,#1f9a8a,#1e9b8a)"></div>
<div style="left:302.5px;top:793.8px;width:396.6px;height:19.3px;background:linear-gradient(90deg,#1f978b,#1f958b,#1fa188,#1f968b,#228c8d,#2a768e,#2e6f8e,#355e8d,#3b528b,#297a8e,#29798e,#277f8e,#23888e,#1f9f88,#1f968b,#1e9c89,#1f958b,#1e9b8a,#1f978b,#20938c,#21918c,#1f988b,#21918c,#21a585,#25ab82,#1f9f88,#27ad81,#21a585,#29af7f,#2cb17e,#1f9e89,#1f968b,#22a884,#21a685,#1e9d89,#20938c,#218e8d,#297a8e,#1f9e89,#277e8e,#1f978b,#1f948c,#1f968b,#23888e,#1e9c89,#37b878,#1f968b,#218e8d,#287d8e,#228c8d,#21918c,#21908d,#1f988b,#228c8d,#20928c,#1f968b,#24aa83,#1e9b8a,#1f9f88,#20a486,#20928c,#21908d,#2a788e,#238a8d,#25858e,#218f8d,#20928c,#2a778e,#228b8d,#2a768e,#25838e,#287c8e,#23898e,#26818e,#25858e,#1f958b,#287d8e,#2a788e,#2c718e,#2f6b8e,#277f8e,#1e9b8a,#89d548,#fde725,#bade28,#7cd250,#4ac16d,#20a486,#228d8d,#20928c,#23888e,#1f9e89,#1f978b,#1f9a8a,#20a386,#1f9f88,#1fa188,#228d8d,#21918c,#1f958b,#218f8d,#26828e,#21908d,#238a8d,#26828e,#218f8d,#1f968b,#218f8d,#24868e,#277f8e,#26828e,#25848e,#25838e,#21918c,#20938c,#1f9a8a,#20928c,#1f9e89,#1e9d89,#1fa187,#1fa187,#31b57b,#1f9a8a,#22a884,#1fa088,#22a884,#22a785,#31b57b,#23a983,#22a785,#2eb37c,#2fb47c,#1e9d89,#3bbb75,#1f9a8a,#22a884)"></div>
<div style="left:827.4px;top:793.8px;width:62.8px;height:19.3px;background:linear-gradient(90deg,#22a884,#1e9d89,#24868e,#297b8e,#297b8e,#24868e,#1f988b,#1f968b,#1f978b,#20928c,#29af7f,#28ae80,#1f9f88,#1f998a,#1f9f88,#1fa187,#22a785,#20a486,#20928c,#1f958b,#218e8d,#21918c)"></div>
<div style="left:134.0px;top:813.1px;width:130.5px;height:19.3px;background:linear-gradient(90deg,#1f9a8a,#1f968b,#20938c,#228c8d,#1f978b,#1e9d89,#24aa83,#29af7f,#23a983,#25ac82,#25ab82,#24aa83,#1f9a8a,#228b8d,#277f8e,#2f6b8e,#365d8d,#32648e,#355f8d,#3a548c,#306a8e,#2a778e,#24868e,#1e9c89,#24868e,#20938c,#26828e,#2f6c8e,#2c738e,#2a788e,#297a8e,#23888e,#23888e,#1f9a8a,#20a486,#23898e,#1f9e89,#2e6f8e,#277f8e,#2d708e,#277e8e,#24868e,#20928c,#20a486,#21908d)"></div>
<div style="left:302.5px;top:813.1px;width:396.6px;height:19.3px;background:linear-gradient(90deg,#2c718e,#24878e,#23888e,#277e8e,#24868e,#24878e,#218f8d,#1f978b,#20938c,#20928c,#1f968b,#20928c,#1f978b,#2d708e,#23898e,#238a8d,#228b8d,#23888e,#23898e,#1f9a8a,#1f9f88,#25858e,#218f8d,#306a8e,#29798e,#277f8e,#297a8e,#2d718e,#2b758e,#287c8e,#23888e,#277e8e,#2a788e,#277f8e,#2b748e,#2e6f8e,#26828e,#23888e,#1f958b,#1f998a,#38b977,#1f9a8a,#1f978b,#20a486,#20928c,#1f9e89,#1f998a,#228c8d,#23898e,#2c738e,#228d8d,#26828e,#25858e,#238a8d,#228b8d,#24868e,#218f8d,#238a8d,#1f948c,#26818e,#2a788e,#2e6e8e,#2d708e,#31688e,#2a768e,#2f6c8e,#297a8e,#29798e,#25838e,#228d8d,#25858e,#287c8e,#29798e,#32658e,#31688e,#2d718e,#306a8e,#24878e,#25ab82,#1fa187,#1fa187,#1f9f88,#228d8d,#277e8e,#2a768e,#27808e,#24878e,#2a768e,#287d8e,#25838e,#2b758e,#25858e,#1fa287,#37b878,#2ab07f,#25838e,#26818e,#26828e,#2a768e,#2a778e,#2e6e8e,#34618d,#2e6e8e,#306a8e,#27808e,#20928c,#20938c,#20928c,#23888e,#1f968b,#2c728e,#3a538b,#26828e,#3fbc73,#2cb17e,#2cb17e,#25ac82,#40bd72,#25ab82,#1fa088,#23a983,#25ac82,#218f8d,#1f958b,#26828e,#1f998a,#277f8e,#25838e,#2b758e,#2b748e,#297a8e,#2d718e,#2b758e,#26828e,#218e8d,#277f8e)"></div>
<div style="left:827.4px;top:813.1px;width:62.8px;height:19.3px;background:linear-gradient(90deg,#228c8d,#23888e,#1f948c,#26828e,#277e8e,#287c8e,#218f8d,#29798e,#1fa187,#26ad81,#2cb17e,#22a785,#26ad81,#21908d,#2c728e,#31668e,#2c738e,#287c8e,#26818e,#228d8d,#20928c,#2c738e)"></div>
<div style="left:134.0px;top:832.4px;width:130.5px;height:19.3px;background:linear-gradient(90deg,#22a785,#228c8d,#1fa287,#1f968b,#22a884,#1f998a,#1fa187,#1f9e89,#23a983,#23a983,#1f9f88,#25838e,#20938c,#24868e,#1f9f88,#21908d,#25858e,#1f9a8a,#228b8d,#20928c,#2a768e,#287c8e,#30698e,#26828e,#297b8e,#238a8d,#218e8d,#28ae80,#20a486,#2db27d,#26ad81,#2fb47c,#20938c,#23898e,#1f958b,#23898e,#218e8d,#21a585,#25ab82,#1f9a8a,#29af7f,#20a386,#1f988b,#20a386,#21908d)"></div>
<div style="left:302.5px;top:832.4px;width:396.6px;height:19.3px;background:linear-gradient(90deg,#2c728e,#228c8d,#1e9c89,#27ad81,#2ab07f,#23a983,#228d8d,#20928c,#1e9d89,#1f958b,#1f9a8a,#1f948c,#1f988b,#1fa187,#1fa088,#20928c,#1e9c89,#1f948c,#228c8d,#1fa088,#20928c,#22a785,#1f978b,#1f988b,#20938c,#1f958b,#21a585,#1f998a,#23a983,#1fa187,#1fa187,#1e9d89,#1f968b,#2eb37c,#24aa83,#29af7f,#29af7f,#1f978b,#25858e,#2e6e8e,#287c8e,#26818e,#2e6f8e,#228c8d,#1f9e89,#21a585,#21a685,#1e9d89,#1f968b,#1f988b,#1f988b,#1f948c,#238a8d,#2a788e,#26828e,#277f8e,#29798e,#228c8d,#21a585,#24aa83,#23a983,#27ad81,#54c568,#3aba76,#32b67a,#24aa83,#26ad81,#2cb17e,#20a386,#23a983,#1f9e89,#38b977,#1e9d89,#27ad81,#1fa287,#28ae80,#2ab07f,#25ab82,#218e8d,#1fa287,#1f958b,#25848e,#24878e,#218f8d,#27808e,#218f8d,#25838e,#1f998a,#21a685,#1f9a8a,#1f988b,#218f8d,#20928c,#20928c,#21908d,#1f9a8a,#1f998a,#1f998a,#20928c,#24868e,#228c8d,#277f8e,#297b8e,#26828e,#21918c,#1e9b8a,#20938c,#20928c,#1f9e89,#20a386,#218e8d,#21908d,#277f8e,#22a884,#228b8d,#218f8d,#1f9f88,#1f988b,#1f9e89,#238a8d,#20928c,#1f948c,#21918c,#1fa187,#1f948c,#20928c,#1fa088,#1f968b,#20a486,#1f9e89,#1f9e89,#20938c,#1f9e89,#29af7f,#38b977,#1fa287)"></div>
<div style="left:827.4px;top:832.4px;width:62.8px;height:19.3px;background:linear-gradient(90deg,#238a8d,#1f978b,#218e8d,#21908d,#238a8d,#1f998a,#20928c,#28ae80,#1fa188,#25848e,#20a486,#1f998a,#20928c,#228d8d,#27808e,#287c8e,#26828e,#21918c,#1f9f88,#2eb37c,#23a983,#26ad81)"></div>
<div style="left:134.0px;top:851.7px;width:130.5px;height:19.3px;background:linear-gradient(90deg,#27ad81,#50c46a,#addc30,#48c16e,#1e9b8a,#27808e,#25838e,#277e8e,#297a8e,#2a768e,#306a8e,#2d718e,#287d8e,#2e6d8e,#2e6e8e,#21918c,#297b8e,#23888e,#228b8d,#1e9b8a,#1e9d89,#22a884,#1fa287,#1f948c,#24aa83,#23888e,#26828e,#2f6b8e,#2e6f8e,#2c738e,#24878e,#277e8e,#21918c,#218e8d,#228c8d,#1f988b,#20928c,#26818e,#218e8d,#287c8e,#218e8d,#238a8d,#1fa188,#21908d,#22a785)"></div>
<div style="left:302.5px;top:851.7px;width:396.6px;height:19.3px;background:linear-gradient(90deg,#218f8d,#1f968b,#228b8d,#218e8d,#24868e,#20938c,#21918c,#21918c,#1e9c89,#1fa187,#1f9e89,#23888e,#2e6e8e,#355e8d,#2c738e,#2c728e,#2c738e,#297a8e,#287d8e,#2c728e,#2a768e,#21908d,#1f9f88,#1f978b,#1fa187,#27ad81,#25ab82,#21a585,#1fa188,#24aa83,#218f8d,#26818e,#34608d,#25858e,#1f998a,#1f998a,#1f9e89,#228b8d,#20928c,#21918c,#228d8d,#25838e,#2b748e,#2c728e,#2d708e,#26828e,#2b748e,#26828e,#21908d,#1f948c,#1e9b8a,#26ad81,#25ac82,#2cb17e,#21a585,#2eb37c,#1f958b,#1f958b,#20938c,#21918c,#1f948c,#21918c,#2c728e,#297b8e,#25858e,#26828e,#2b748e,#287d8e,#23888e,#1f958b,#23898e,#1e9d89,#21908d,#1f9a8a,#1f968b,#228c8d,#23898e,#287c8e,#277f8e,#20928c,#21918c,#1fa187,#21a585,#46c06f,#1fa188,#1fa187,#228d8d,#23898e,#277f8e,#26828e,#228b8d,#26818e,#2c738e,#287c8e,#2a768e,#20928c,#1e9d89,#1f998a,#1fa187,#1fa287,#218f8d,#1f998a,#218f8d,#20938c,#218f8d,#21908d,#26828e,#24878e,#287d8e,#1f988b,#24878e,#23898e,#2a778e,#297b8e,#24868e,#2c728e,#228c8d,#25848e,#1f988b,#25838e,#297b8e,#2f6c8e,#25858e,#2b748e,#1f978b,#1f988b,#25858e,#1f948c,#23898e,#218f8d,#297a8e,#277f8e,#23888e,#228c8d,#22a884,#22a884)"></div>
<div style="left:827.4px;top:851.7px;width:62.8px;height:19.3px;background:linear-gradient(90deg,#1fa188,#1fa088,#25ac82,#1e9b8a,#31b57b,#35b779,#2cb17e,#2eb37c,#1e9c89,#1f9a8a,#2d718e,#23898e,#218e8d,#25858e,#297b8e,#26828e,#24868e,#20938c,#287d8e,#20928c,#1f9e89,#21a585)"></div>
<div style="left:134.0px;top:871.0px;width:130.5px;height:19.3px;background:linear-gradient(90deg,#22a884,#20938c,#1f958b,#35b779,#2fb47c,#2fb47c,#1e9d89,#1f948c,#1fa088,#23888e,#277f8e,#1f978b,#1f998a,#21918c,#23888e,#1fa088,#218e8d,#1e9d89,#218f8d,#20928c,#1fa187,#25ab82,#1f968b,#1f988b,#1f9a8a,#27ad81,#21a585,#29af7f,#37b878,#34b679,#38b977,#20928c,#1f968b,#218f8d,#277e8e,#228d8d,#21918c,#228d8d,#228b8d,#1e9c89,#218f8d,#25858e,#25848e,#287c8e,#218e8d)"></div>
<div style="left:302.5px;top:871.0px;width:396.6px;height:19.3px;background:linear-gradient(90deg,#21a685,#25ab82,#1f9a8a,#1f968b,#20928c,#218f8d,#23898e,#1f958b,#26818e,#1fa187,#1e9b8a,#1fa187,#1e9b8a,#29af7f,#1e9c89,#26828e,#31668e,#228c8d,#28ae80,#25ab82,#22a884,#40bd72,#31b57b,#27ad81,#22a785,#1fa287,#24868e,#20938c,#1f978b,#228c8d,#21908d,#218e8d,#20928c,#1f988b,#21a585,#29af7f,#218e8d,#1f948c,#2f6b8e,#24878e,#2b748e,#277e8e,#27808e,#20938c,#23888e,#1f9e89,#22a785,#1f968b,#1f948c,#28ae80,#29af7f,#46c06f,#65cb5e,#7cd250,#25ab82,#31b57b,#26ad81,#1e9d89,#1f968b,#26828e,#2c738e,#34608d,#34608d,#27808e,#218f8d,#23888e,#1f9a8a,#35b779,#3dbc74,#24aa83,#3fbc73,#25ac82,#23a983,#1fa188,#1f998a,#3dbc74,#1e9c89,#2db27d,#5ac864,#3fbc73,#3dbc74,#24aa83,#34b679,#24aa83,#26ad81,#31b57b,#67cc5c,#4cc26c,#48c16e,#2ab07f,#1f988b,#287c8e,#297b8e,#2b748e,#34608d,#31688e,#2e6f8e,#2d718e,#1f978b,#2ab07f,#32b67a,#42be71,#3fbc73,#42be71,#29af7f,#1fa187,#26818e,#277e8e,#2d718e,#32648e,#2a788e,#2e6f8e,#26818e,#1fa287,#25ab82,#1e9c89,#2db27d,#26ad81,#1fa188,#218f8d,#21908d,#1f968b,#38b977,#2fb47c,#21a685,#2db27d,#37b878,#1f9a8a,#25858e,#1f958b,#25848e,#218e8d,#1f978b,#1e9b8a,#22a785,#37b878)"></div>
<div style="left:827.4px;top:871.0px;width:62.8px;height:19.3px;background:linear-gradient(90deg,#277e8e,#26828e,#218e8d,#20a486,#228b8d,#20a486,#25ac82,#20a386,#35b779,#21a585,#34b679,#31b57b,#24aa83,#2db27d,#2db27d,#27ad81,#2eb37c,#1f9a8a,#1e9b8a,#21908d,#21a685,#1fa188)"></div>
<div style="left:134.0px;top:890.2px;width:130.5px;height:19.3px;background:linear-gradient(90deg,#1f968b,#1f988b,#20938c,#21a685,#1f9f88,#21908d,#228c8d,#1f988b,#21918c,#2b748e,#2a788e,#2f6c8e,#2c718e,#30698e,#2b758e,#2a768e,#287d8e,#26828e,#218f8d,#2b748e,#228c8d,#24878e,#21908d,#218e8d,#1e9d89,#21a585,#1fa287,#1fa187,#1f9a8a,#20938c,#24878e,#26828e,#277f8e,#287c8e,#29798e,#287c8e,#21918c,#25838e,#20928c,#24868e,#25848e,#238a8d,#21908d,#1fa287,#1f9e89)"></div>
<div style="left:302.5px;top:890.2px;width:396.6px;height:19.3px;background:linear-gradient(90deg,#277e8e,#1f988b,#1f978b,#1f998a,#24878e,#25848e,#2c738e,#2a788e,#277f8e,#2a788e,#228b8d,#26828e,#2c738e,#2a788e,#218e8d,#21918c,#24868e,#297a8e,#24878e,#297a8e,#2b748e,#24878e,#24878e,#1f988b,#2fb47c,#21a685,#1fa187,#1fa287,#21918c,#228d8d,#2a788e,#2e6e8e,#297b8e,#2b758e,#2e6d8e,#297a8e,#2c738e,#2b758e,#21908d,#21918c,#1e9d89,#1f978b,#21908d,#228b8d,#1e9b8a,#306a8e,#297a8e,#27808e,#2b758e,#1f948c,#218f8d,#1fa088,#2db27d,#26ad81,#228b8d,#228b8d,#1f998a,#1e9d89,#20928c,#297b8e,#25848e,#218e8d,#297b8e,#287d8e,#2a788e,#26818e,#20928c,#20928c,#25838e,#1f978b,#287c8e,#228d8d,#238a8d,#2a768e,#2d718e,#23898e,#25858e,#26828e,#297a8e,#24868e,#2a778e,#228b8d,#1f988b,#26818e,#238a8d,#2a778e,#277f8e,#2a768e,#2b758e,#31688e,#39568c,#2c738e,#306a8e,#228d8d,#25848e,#1f9f88,#1e9d89,#20928c,#1f9a8a,#20938c,#1f998a,#218e8d,#20938c,#287c8e,#1fa187,#1f9a8a,#1f9f88,#1f958b,#1f958b,#218e8d,#24868e,#277f8e,#287c8e,#24878e,#1f968b,#20928c,#1f948c,#1fa287,#1f978b,#26828e,#25838e,#2b748e,#21918c,#27808e,#277e8e,#2a768e,#2e6f8e,#2b748e,#2c728e,#2b748e,#24868e,#29798e,#1f998a,#24878e,#23898e,#1fa188)"></div>
<div style="left:827.4px;top:890.2px;width:62.8px;height:19.3px;background:linear-gradient(90deg,#2a778e,#25848e,#26828e,#25858e,#277e8e,#2c738e,#38598c,#39568c,#424186,#38598c,#3d4e8a,#404688,#2d718e,#287c8e,#2b748e,#2b758e,#228b8d,#20928c,#228d8d,#1f9a8a,#1fa187,#21908d)"></div>
<div style="left:134.0px;top:909.5px;width:130.5px;height:19.3px;background:linear-gradient(90deg,#31688e,#2e6f8e,#25848e,#23898e,#1e9b8a,#23898e,#1e9c89,#228c8d,#1f948c,#20938c,#20938c,#20938c,#297a8e,#3f4788,#3a538b,#24868e,#26828e,#2e6f8e,#23888e,#287c8e,#25848e,#297a8e,#25838e,#218f8d,#26818e,#1f968b,#1fa187,#1f9e89,#1f948c,#228c8d,#24878e,#1f988b,#218f8d,#218f8d,#25848e,#21908d,#20928c,#2a778e,#1e9b8a,#21908d,#26828e,#2e6d8e,#218f8d,#287d8e,#2c728e)"></div>
<div style="left:302.5px;top:909.5px;width:396.6px;height:19.3px;background:linear-gradient(90deg,#32658e,#287c8e,#287c8e,#1f988b,#1f978b,#20938c,#24868e,#2c718e,#2a788e,#21918c,#1f958b,#1fa287,#23a983,#1fa187,#1f978b,#1f948c,#218e8d,#21918c,#1f968b,#23898e,#238a8d,#20a486,#1f9a8a,#21a585,#21a685,#2ab07f,#21918c,#21918c,#228b8d,#25848e,#20928c,#21a585,#1f968b,#1f948c,#26818e,#23898e,#1f948c,#20928c,#238a8d,#218e8d,#218e8d,#2b758e,#29798e,#2d718e,#2b748e,#2a778e,#2d708e,#24868e,#297b8e,#277e8e,#26828e,#2a778e,#21908d,#26828e,#277e8e,#297b8e,#277e8e,#2e6d8e,#2a788e,#2b758e,#2b758e,#31668e,#30698e,#25848e,#2b758e,#218e8d,#238a8d,#1fa287,#1f9e89,#1fa287,#1e9c89,#238a8d,#1f9f88,#25838e,#228d8d,#25848e,#2c738e,#238a8d,#228d8d,#25838e,#277f8e,#20928c,#1fa287,#2cb17e,#40bd72,#31b57b,#28ae80,#20a486,#27808e,#20928c,#24868e,#3f4889,#2e6d8e,#32658e,#31668e,#3a548c,#33638d,#3c508b,#2c718e,#29798e,#238a8d,#297b8e,#25858e,#24868e,#228c8d,#2f6c8e,#2e6f8e,#355f8d,#2e6d8e,#306a8e,#2a788e,#228d8d,#20928c,#20928c,#20a486,#23a983,#238a8d,#23888e,#20928c,#218e8d,#20a386,#31b57b,#44bf70,#50c46a,#3aba76,#20a386,#21a685,#25848e,#23888e,#238a8d,#20a386,#21918c,#228c8d,#26828e,#26828e,#2c738e)"></div>
<div style="left:827.4px;top:909.5px;width:62.8px;height:19.3px;background:linear-gradient(90deg,#1f948c,#1f968b,#26818e,#23888e,#1f998a,#22a785,#22a884,#25ab82,#31b57b,#21a585,#1e9c89,#1f968b,#1f978b,#27808e,#25838e,#30698e,#2f6b8e,#2f6b8e,#287c8e,#218e8d,#2c718e,#26828e)"></div>
<div style="left:134.0px;top:928.8px;width:130.5px;height:19.3px;background:linear-gradient(90deg,#23898e,#23888e,#1f958b,#2a788e,#218f8d,#218f8d,#1fa088,#1fa088,#1f968b,#1f978b,#20928c,#228d8d,#1e9d89,#21a585,#1f9f88,#21a585,#24aa83,#1f9e89,#218f8d,#21a685,#1f968b,#2db27d,#44bf70,#6ece58,#65cb5e,#3dbc74,#52c569,#23a983,#1f998a,#20928c,#1f9f88,#21908d,#24878e,#2a768e,#1f948c,#21918c,#1fa187,#22a884,#3bbb75,#2ab07f,#44bf70,#26ad81,#1fa088,#1fa187,#1f958b)"></div>
<div style="left:302.5px;top:928.8px;width:396.6px;height:19.3px;background:linear-gradient(90deg,#7fd34e,#75d054,#42be71,#2cb17e,#1e9d89,#21918c,#26828e,#32658e,#38598c,#1f958b,#218e8d,#218f8d,#1e9d89,#20928c,#20928c,#297b8e,#238a8d,#1e9c89,#1f988b,#20928c,#1f968b,#1f998a,#1f958b,#277f8e,#26828e,#23898e,#20938c,#238a8d,#20928c,#1f968b,#1f958b,#1fa287,#1e9d89,#24868e,#228d8d,#25858e,#20928c,#2f6c8e,#297b8e,#297b8e,#25848e,#1f968b,#218e8d,#1f978b,#1f988b,#1f948c,#1f9e89,#1f998a,#218f8d,#20938c,#1e9b8a,#20938c,#1e9c89,#1f988b,#238a8d,#21918c,#218e8d,#1f9f88,#1f988b,#1f968b,#1f978b,#22a884,#1f998a,#25858e,#26828e,#20938c,#25838e,#20938c,#287d8e,#238a8d,#1f968b,#23888e,#1e9b8a,#1fa187,#2cb17e,#26ad81,#25838e,#20a386,#1e9b8a,#1f958b,#1e9d89,#1f948c,#1f9a8a,#1fa187,#1f958b,#20a486,#1fa188,#25ab82,#20928c,#23a983,#1fa188,#1fa088,#1e9b8a,#1f998a,#20928c,#218f8d,#1fa287,#277f8e,#1f9a8a,#228d8d,#228d8d,#1f978b,#20938c,#1e9c89,#21a685,#20a486,#2fb47c,#32b67a,#27ad81,#28ae80,#1e9b8a,#1e9b8a,#228d8d,#2a768e,#26818e,#228b8d,#24878e,#21908d,#20a486,#20a386,#1e9c89,#1e9d89,#26818e,#27808e,#25848e,#26828e,#228b8d,#218e8d,#29af7f,#23a983,#35b779,#1f988b,#218f8d,#2a768e,#277e8e,#2e6d8e)"></div>
<div style="left:827.4px;top:928.8px;width:62.8px;height:19.3px;background:linear-gradient(90deg,#218f8d,#277f8e,#25858e,#287d8e,#297b8e,#2b758e,#31678e,#306a8e,#287c8e,#228c8d,#23888e,#23888e,#218f8d,#297b8e,#238a8d,#2a778e,#1f9f88,#25838e,#24aa83,#21a585,#22a884,#20a486)"></div>
<div style="left:134.0px;top:948.1px;width:130.5px;height:19.3px;background:linear-gradient(90deg,#24aa83,#26ad81,#3aba76,#56c667,#31b57b,#37b878,#2db27d,#25ab82,#1e9d89,#26818e,#2a778e,#287d8e,#25838e,#25858e,#25838e,#24878e,#20938c,#25858e,#1f958b,#21918c,#2b748e,#27808e,#27808e,#26818e,#277e8e,#33638d,#23898e,#297b8e,#24878e,#228d8d,#26828e,#218f8d,#218f8d,#1fa287,#287d8e,#21918c,#277e8e,#3b528b,#482374,#3b528b,#287d8e,#29798e,#23898e,#21918c,#20928c)"></div>
<div style="left:302.5px;top:948.1px;width:396.6px;height:19.3px;background:linear-gradient(90deg,#25848e,#228b8d,#23888e,#238a8d,#1f948c,#1f988b,#22a884,#1f9e89,#1f978b,#228d8d,#2c718e,#2a788e,#375b8d,#2f6b8e,#2f6c8e,#2e6d8e,#26818e,#1f978b,#1e9c89,#21918c,#20928c,#277e8e,#277e8e,#287c8e,#287d8e,#26828e,#27808e,#1f978b,#21908d,#26ad81,#27ad81,#48c16e,#40bd72,#4ec36b,#2eb37c,#2cb17e,#2cb17e,#35b779,#42be71,#27ad81,#21918c,#287c8e,#297b8e,#29798e,#287d8e,#277f8e,#27808e,#23888e,#1f948c,#21908d,#1f9e89,#34b679,#24aa83,#29af7f,#1f958b,#26ad81,#1f9f88,#20a386,#1fa287,#1f9e89,#20938c,#1f988b,#1fa187,#23898e,#1f948c,#25848e,#20938c,#228b8d,#1e9d89,#238a8d,#20938c,#21918c,#23898e,#1e9b8a,#1fa287,#29af7f,#25ab82,#2cb17e,#2ab07f,#22a785,#1fa187,#23898e,#228b8d,#287c8e,#25838e,#218e8d,#228d8d,#25848e,#21a685,#1f9f88,#23a983,#24868e,#1e9b8a,#1f948c,#238a8d,#25858e,#2a768e,#2c728e,#277e8e,#2b748e,#25858e,#228c8d,#228b8d,#1e9b8a,#1fa188,#2db27d,#4ec36b,#35b779,#25ac82,#2fb47c,#228d8d,#287c8e,#29798e,#30698e,#218f8d,#218f8d,#218f8d,#25858e,#297b8e,#2b758e,#2b748e,#23888e,#228b8d,#21908d,#25838e,#1fa088,#24878e,#218e8d,#238a8d,#26828e,#2e6f8e,#2a788e,#26828e,#1f978b,#20938c,#20a386)"></div>
<div style="left:827.4px;top:948.1px;width:62.8px;height:19.3px;background:linear-gradient(90deg,#287c8e,#23888e,#27808e,#228d8d,#1f958b,#20a386,#1f9e89,#22a884,#21a685,#31b57b,#26ad81,#32b67a,#2cb17e,#1f9e89,#1e9d89,#24aa83,#1fa187,#20a386,#1fa287,#26828e,#23888e,#297b8e)"></div>
<div style="left:134.0px;top:967.4px;width:130.5px;height:19.3px;background:linear-gradient(90deg,#228b8d,#20938c,#1e9d89,#1f958b,#228d8d,#20a486,#20938c,#21a685,#228d8d,#228d8d,#228b8d,#25858e,#26828e,#2b748e,#2b748e,#2e6d8e,#2f6c8e,#2d708e,#23898e,#277f8e,#21a585,#21908d,#20a486,#1fa188,#1fa187,#1fa088,#1fa287,#22a884,#28ae80,#26ad81,#25ab82,#1fa188,#25ab82,#34b679,#46c06f,#46c06f,#25ab82,#25ab82,#1f978b,#24868e,#25838e,#26828e,#277f8e,#2e6e8e,#1f968b)"></div>
<div style="left:302.5px;top:967.4px;width:396.6px;height:19.3px;background:linear-gradient(90deg,#21908d,#23888e,#1fa187,#1e9c89,#1f988b,#1fa188,#1f958b,#1f978b,#25848e,#20938c,#287d8e,#20938c,#1f978b,#56c667,#3bbb75,#84d44b,#46c06f,#46c06f,#21a685,#1fa187,#25ab82,#218f8d,#1e9d89,#26828e,#1e9d89,#228c8d,#2d708e,#27808e,#20928c,#1e9d89,#2d708e,#424186,#2d718e,#277e8e,#218f8d,#218e8d,#25858e,#29798e,#1f968b,#26828e,#287d8e,#2b758e,#277e8e,#2d708e,#2e6d8e,#306a8e,#2f6b8e,#277f8e,#2c738e,#1e9c89,#24aa83,#52c569,#23a983,#1f978b,#2f6c8e,#2a778e,#27808e,#2a768e,#2c718e,#2d718e,#21918c,#297b8e,#20928c,#2a788e,#2b748e,#23888e,#238a8d,#27808e,#1e9d89,#38b977,#22a785,#28ae80,#22a884,#1fa187,#1e9d89,#1f988b,#1f968b,#20a486,#21a685,#1fa187,#218e8d,#218f8d,#23888e,#218e8d,#1e9d89,#21918c,#228c8d,#22a884,#1fa287,#1f998a,#21a685,#25ab82,#24aa83,#1e9b8a,#21a585,#1fa088,#1f9e89,#2eb37c,#1f9e89,#1fa287,#20a386,#20928c,#27808e,#277e8e,#287c8e,#218e8d,#21918c,#1e9c89,#1f978b,#1fa088,#1e9c89,#21a685,#20a386,#1f9e89,#21a685,#1f9f88,#1f988b,#1f9a8a,#1f968b,#26ad81,#20938c,#29af7f,#1fa088,#27ad81,#1f968b,#24868e,#1e9b8a,#25838e,#218e8d,#2b748e,#2d718e,#26828e,#2c718e,#297b8e,#29798e,#23898e)"></div>
<div style="left:827.4px;top:967.4px;width:62.8px;height:19.3px;background:linear-gradient(90deg,#3dbc74,#4ac16d,#52c569,#1f9e89,#22a884,#27808e,#29798e,#2f6c8e,#2b748e,#287d8e,#277e8e,#26828e,#277e8e,#1f948c,#20938c,#20928c,#20938c,#1e9b8a,#228b8d,#297b8e,#306a8e,#355f8d)"></div>
<div style="left:134.0px;top:986.7px;width:130.5px;height:19.3px;background:linear-gradient(90deg,#423f85,#365c8d,#3a548c,#31668e,#2c718e,#297b8e,#23888e,#20938c,#228c8d,#228b8d,#29af7f,#2ab07f,#73d056,#34b679,#25ab82,#34b679,#34b679,#2eb37c,#25ab82,#2cb17e,#32b67a,#22a785,#228c8d,#1f998a,#1f978b,#287c8e,#2d708e,#297b8e,#25848e,#26828e,#27808e,#355f8d,#2d708e,#30698e,#30698e,#2d718e,#365d8d,#2c728e,#277e8e,#23888e,#23898e,#22a785,#1fa188,#21a585,#1f958b)"></div>
<div style="left:302.5px;top:986.7px;width:396.6px;height:19.3px;background:linear-gradient(90deg,#23a983,#23888e,#21918c,#287c8e,#228c8d,#238a8d,#27808e,#25848e,#26818e,#1fa187,#1f998a,#23898e,#218f8d,#1f958b,#1f988b,#2db27d,#1e9b8a,#1e9b8a,#228d8d,#1f958b,#26828e,#228b8d,#297b8e,#2b748e,#2c718e,#228d8d,#2d708e,#26828e,#2b758e,#32648e,#2e6d8e,#2e6e8e,#2c738e,#23898e,#1e9d89,#228c8d,#228c8d,#228b8d,#1f948c,#20928c,#2db27d,#21a685,#21a685,#228b8d,#22a884,#1f9a8a,#32b67a,#1fa188,#20938c,#1e9c89,#27ad81,#21a585,#26ad81,#21908d,#1f978b,#23898e,#20938c,#26828e,#26828e,#228d8d,#238a8d,#238a8d,#21918c,#21908d,#228c8d,#1f958b,#23888e,#24aa83,#1e9b8a,#1fa287,#22a884,#1fa188,#21a585,#23a983,#1fa088,#20938c,#29798e,#31678e,#2f6b8e,#355e8d,#39558c,#297b8e,#297a8e,#25838e,#25858e,#21a685,#20928c,#1f958b,#26818e,#277e8e,#26818e,#1f968b,#277f8e,#1f948c,#1f948c,#1f9f88,#21908d,#228c8d,#29798e,#34618d,#32658e,#32658e,#38598c,#414487,#3d4e8a,#306a8e,#2f6c8e,#26828e,#26818e,#21918c,#29798e,#25858e,#218e8d,#20928c,#218f8d,#21a585,#37b878,#3bbb75,#46c06f,#37b878,#2ab07f,#22a785,#1f9a8a,#1fa188,#1e9c89,#228d8d,#1e9b8a,#1e9d89,#21918c,#22a785,#21a585,#1fa088,#20928c,#1f958b,#23888e,#228d8d)"></div>
<div style="left:827.4px;top:986.7px;width:62.8px;height:19.3px;background:linear-gradient(90deg,#22a884,#21908d,#23888e,#23898e,#2c738e,#25838e,#26828e,#277f8e,#238a8d,#1f968b,#26828e,#25838e,#1f9f88,#1fa188,#32b67a,#2ab07f,#1fa187,#1f948c,#20938c,#1fa188,#228b8d,#26ad81)"></div>
<div style="left:134.0px;top:1006.0px;width:130.5px;height:19.3px;background:linear-gradient(90deg,#23888e,#277f8e,#23898e,#1e9c89,#1f9e89,#1f978b,#1e9b8a,#20a386,#24aa83,#1f988b,#228b8d,#228c8d,#2a788e,#26828e,#287c8e,#2a778e,#218e8d,#25858e,#1e9b8a,#24aa83,#21918c,#1fa187,#228b8d,#26828e,#287d8e,#25858e,#218e8d,#20928c,#25838e,#25858e,#23888e,#306a8e,#228c8d,#27808e,#25ab82,#7ad151,#3bbb75,#1fa187,#29af7f,#21a685,#23a983,#20928c,#1f978b,#27808e,#26828e)"></div>
<div style="left:302.5px;top:1006.0px;width:396.6px;height:19.3px;background:linear-gradient(90deg,#1f948c,#228b8d,#218f8d,#1f948c,#1f958b,#25848e,#297b8e,#238a8d,#277e8e,#2e6e8e,#2c728e,#26828e,#21908d,#24868e,#228c8d,#1f988b,#26818e,#218f8d,#23898e,#277f8e,#24878e,#23888e,#297a8e,#2a778e,#228b8d,#24868e,#25848e,#1f988b,#20a386,#1f9e89,#218e8d,#1f988b,#1f9e89,#2db27d,#1f948c,#1fa187,#24868e,#26828e,#238a8d,#21a685,#1f9e89,#29af7f,#2fb47c,#31b57b,#20a386,#1fa188,#1fa187,#20928c,#1fa088,#20928c,#218e8d,#20928c,#23888e,#21918c,#24878e,#25848e,#20928c,#20928c,#24868e,#228c8d,#26818e,#1e9b8a,#24868e,#228d8d,#25838e,#26818e,#297b8e,#1f958b,#21908d,#1f948c,#28ae80,#34b679,#28ae80,#40bd72,#44bf70,#27ad81,#20938c,#1f988b,#228d8d,#23888e,#20938c,#21918c,#2e6e8e,#287d8e,#277e8e,#1f948c,#1f948c,#21918c,#23a983,#1f948c,#1e9d89,#21908d,#23888e,#238a8d,#20928c,#21a585,#28ae80,#3dbc74,#20a486,#25ac82,#23a983,#20a486,#1f978b,#21918c,#1f948c,#23888e,#1e9c89,#1f948c,#2db27d,#1fa187,#218e8d,#25838e,#26818e,#228c8d,#228d8d,#1e9c89,#20a386,#3aba76,#40bd72,#22a884,#26ad81,#1f9a8a,#1e9b8a,#1f968b,#25858e,#218f8d,#1f968b,#24868e,#1f968b,#238a8d,#20928c,#2c728e,#26828e,#2c728e,#287d8e,#218e8d)"></div>
<div style="left:827.4px;top:1006.0px;width:62.8px;height:19.3px;background:linear-gradient(90deg,#2a778e,#23888e,#218e8d,#277e8e,#2a768e,#29798e,#2b758e,#25838e,#21a585,#27808e,#24868e,#27808e,#1f9a8a,#25848e,#1e9d89,#24878e,#27808e,#287d8e,#2c728e,#23898e,#24868e,#297b8e)"></div>
<div style="left:134.0px;top:1025.3px;width:130.5px;height:19.3px;background:linear-gradient(90deg,#1f948c,#1f988b,#1f978b,#26828e,#228c8d,#228d8d,#2a768e,#228c8d,#23888e,#2a788e,#228c8d,#20938c,#1f978b,#21918c,#20a386,#26ad81,#25ab82,#1f948c,#1fa287,#228c8d,#25838e,#21908d,#26828e,#228b8d,#2e6f8e,#22a884,#1f998a,#44bf70,#34b679,#4cc26c,#4ac16d,#34b679,#1fa188,#25848e,#1f998a,#1fa188,#29af7f,#3dbc74,#24aa83,#2ab07f,#1f968b,#218e8d,#218e8d,#23888e,#277f8e)"></div>
<div style="left:302.5px;top:1025.3px;width:396.6px;height:19.3px;background:linear-gradient(90deg,#20928c,#1fa088,#20a486,#20928c,#20938c,#26828e,#238a8d,#26828e,#26828e,#1f958b,#1f978b,#1e9d89,#1f9a8a,#20928c,#1f9a8a,#20928c,#25858e,#26828e,#24868e,#228b8d,#23888e,#228c8d,#20938c,#1f948c,#1e9d89,#2eb37c,#21a685,#1f988b,#29af7f,#20928c,#277f8e,#297a8e,#297a8e,#21908d,#25838e,#25858e,#277f8e,#26828e,#297b8e,#287d8e,#25848e,#26828e,#21918c,#20928c,#287d8e,#25848e,#20928c,#23888e,#21908d,#1e9d89,#1e9b8a,#1fa188,#21918c,#26ad81,#1fa088,#1f998a,#22a785,#1f9e89,#24868e,#21a685,#20928c,#1f978b,#21918c,#24aa83,#1f9a8a,#1e9d89,#1fa088,#1f988b,#23888e,#24aa83,#1f948c,#26828e,#25858e,#26828e,#26828e,#23898e,#20928c,#21a685,#1fa188,#1e9b8a,#26ad81,#20938c,#1f9f88,#277e8e,#33628d,#2a768e,#33638d,#32648e,#2d718e,#26818e,#20928c,#20928c,#25848e,#218e8d,#228b8d,#25858e,#20928c,#1e9c89,#228b8d,#218e8d,#1e9b8a,#28ae80,#1e9b8a,#32b67a,#21a685,#25ab82,#1f998a,#228d8d,#25848e,#297a8e,#2b758e,#29798e,#26818e,#24878e,#25858e,#1f958b,#1e9c89,#22a785,#22a785,#1f9f88,#1f978b,#27808e,#277f8e,#228b8d,#218e8d,#1fa188,#25ac82,#24aa83,#218f8d,#24878e,#25848e,#20928c,#228d8d,#21908d,#20938c,#22a785)"></div>
<div style="left:827.4px;top:1025.3px;width:62.8px;height:19.3px;background:linear-gradient(90deg,#1f9e89,#37b878,#25ab82,#25ab82,#22a884,#218f8d,#228b8d,#25848e,#1e9b8a,#228b8d,#1fa287,#23a983,#2eb37c,#29af7f,#23a983,#1f998a,#2ab07f,#1f9a8a,#25838e,#31688e,#2e6e8e,#2f6b8e)"></div>
<div style="left:134.0px;top:1044.6px;width:130.5px;height:19.3px;background:linear-gradient(90deg,#22a785,#29af7f,#2db27d,#52c569,#54c568,#38b977,#2cb17e,#20a486,#2b748e,#33628d,#365c8d,#33628d,#2f6b8e,#287d8e,#2f6b8e,#287d8e,#297a8e,#277f8e,#277f8e,#25838e,#1fa088,#1f988b,#297b8e,#29798e,#31678e,#3b528b,#355f8d,#33638d,#30698e,#2b748e,#31678e,#306a8e,#34608d,#2e6e8e,#2f6c8e,#2e6f8e,#26828e,#277e8e,#24878e,#1fa187,#1f968b,#2db27d,#2cb17e,#21a585,#1e9c89)"></div>
<div style="left:302.5px;top:1044.6px;width:396.6px;height:19.3px;background:linear-gradient(90deg,#1fa187,#1f9a8a,#21a685,#21918c,#21918c,#1e9c89,#1f958b,#20928c,#1f988b,#1f948c,#1fa187,#21908d,#25838e,#306a8e,#2a788e,#2c728e,#2c728e,#365c8d,#2a778e,#2d718e,#24868e,#21908d,#1fa088,#20928c,#20a486,#2eb37c,#86d549,#a0da39,#60ca60,#2db27d,#20928c,#24868e,#238a8d,#218e8d,#2a778e,#2a778e,#2f6c8e,#2e6f8e,#26818e,#27808e,#23898e,#228b8d,#21908d,#1fa187,#20a486,#21908d,#218f8d,#23888e,#24868e,#20928c,#25848e,#1f9e89,#21a685,#228d8d,#1f978b,#21918c,#25848e,#1f9a8a,#20938c,#26828e,#25858e,#21918c,#1fa187,#22a785,#21a585,#1f988b,#228b8d,#25848e,#365c8d,#472c7a,#3b528b,#31688e,#297a8e,#1f978b,#1f988b,#20928c,#33638d,#54c568,#d2e21b,#81d34d,#35b779,#1e9c89,#287d8e,#2a788e,#26828e,#2f6b8e,#2f6c8e,#30698e,#2d718e,#2d718e,#2c728e,#25848e,#24878e,#238a8d,#1fa287,#1f968b,#1f988b,#1fa187,#20a486,#20938c,#1f9f88,#1e9b8a,#1f948c,#1fa088,#1e9d89,#1fa188,#23a983,#22a785,#1fa088,#23898e,#26828e,#31678e,#355e8d,#31668e,#39568c,#32658e,#30698e,#365d8d,#365c8d,#33628d,#31688e,#33628d,#2f6c8e,#297b8e,#21a585,#1e9b8a,#218f8d,#23888e,#20938c,#1f9e89,#1f988b,#20928c,#1f948c,#1e9d89,#1fa188,#1fa188)"></div>
<div style="left:827.4px;top:1044.6px;width:62.8px;height:19.3px;background:linear-gradient(90deg,#26818e,#2a768e,#21918c,#20928c,#1f9f88,#26ad81,#1e9c89,#1fa188,#228c8d,#25838e,#25848e,#25838e,#1f958b,#218f8d,#1e9d89,#1f9e89,#1f9a8a,#1fa088,#1f9e89,#1f968b,#1e9c89,#1f948c)"></div>
<div style="left:134.0px;top:1063.9px;width:130.5px;height:19.3px;background:linear-gradient(90deg,#2a778e,#23898e,#218f8d,#25848e,#20a386,#20a386,#21918c,#1f978b,#1f9a8a,#1fa088,#1e9c89,#21908d,#23888e,#26818e,#26818e,#2a778e,#25858e,#24878e,#1f998a,#1e9b8a,#1f9f88,#228c8d,#26818e,#1fa088,#1f998a,#1f978b,#25ac82,#46c06f,#37b878,#1f9f88,#1f988b,#25848e,#25848e,#1f958b,#1f9e89,#1f978b,#218f8d,#228c8d,#21a685,#21a585,#20a386,#1fa188,#25ab82,#21908d,#1e9c89)"></div>
<div style="left:302.5px;top:1063.9px;width:396.6px;height:19.3px;background:linear-gradient(90deg,#2b758e,#218e8d,#2a768e,#30698e,#25858e,#1e9d89,#35b779,#1e9b8a,#21908d,#23898e,#2c728e,#20938c,#218e8d,#1f958b,#20938c,#21a585,#35b779,#21a585,#3bbb75,#35b779,#2eb37c,#21a585,#1fa188,#1f978b,#277f8e,#31688e,#23888e,#24878e,#1f9f88,#218f8d,#20938c,#2a788e,#1f948c,#1f958b,#1fa187,#1f988b,#1f948c,#228b8d,#2f6b8e,#297b8e,#2e6d8e,#306a8e,#2e6e8e,#2f6b8e,#2a778e,#25858e,#20928c,#1f9f88,#20928c,#23898e,#2c718e,#26818e,#2a788e,#2c738e,#375b8d,#2e6f8e,#33628d,#2d718e,#2a778e,#29798e,#23898e,#1e9c89,#1fa188,#58c765,#1fa287,#25848e,#24878e,#228b8d,#26828e,#287c8e,#26818e,#2f6c8e,#2e6d8e,#25838e,#228b8d,#277e8e,#2d708e,#2a778e,#2b748e,#26818e,#218e8d,#1f968b,#1fa188,#21a685,#218f8d,#24868e,#1f998a,#34618d,#424086,#2c738e,#218e8d,#1e9c89,#21908d,#1f998a,#1f9a8a,#1fa088,#277f8e,#34608d,#26828e,#23888e,#1f9e89,#218f8d,#228b8d,#1e9d89,#238a8d,#228d8d,#1f9e89,#1f988b,#1f948c,#23898e,#277f8e,#2f6b8e,#2a788e,#2f6c8e,#277e8e,#26818e,#1f958b,#26828e,#1e9d89,#297b8e,#25848e,#25848e,#218e8d,#1f948c,#23898e,#238a8d,#1f948c,#1f988b,#20928c,#20a486,#31b57b,#29af7f,#3bbb75,#58c765,#e7e419,#69cd5b)"></div>
<div style="left:827.4px;top:1063.9px;width:62.8px;height:19.3px;background:linear-gradient(90deg,#20938c,#1f998a,#23a983,#21a585,#27ad81,#34b679,#27ad81,#24aa83,#1fa188,#1f998a,#1fa287,#2db27d,#1f948c,#1f978b,#23888e,#21918c,#1f948c,#26828e,#1f968b,#1f9e89,#20a386,#20a386)"></div>
<div style="left:134.0px;top:1083.2px;width:130.5px;height:19.3px;background:linear-gradient(90deg,#23898e,#26818e,#25838e,#33638d,#2b758e,#24878e,#287d8e,#287c8e,#277e8e,#297b8e,#29798e,#287d8e,#2e6f8e,#287d8e,#287c8e,#228b8d,#228c8d,#24aa83,#20a386,#20a386,#2eb37c,#1fa088,#1fa187,#1fa088,#29798e,#2c718e,#25848e,#21908d,#1f998a,#21908d,#238a8d,#297a8e,#24878e,#2b748e,#31678e,#25858e,#1f968b,#1f9f88,#1fa088,#28ae80,#21918c,#23a983,#27ad81,#22a884,#29af7f)"></div>
<div style="left:302.5px;top:1083.2px;width:396.6px;height:19.3px;background:linear-gradient(90deg,#2e6f8e,#228c8d,#218e8d,#23888e,#1f978b,#21a585,#26ad81,#34b679,#2fb47c,#26ad81,#1e9b8a,#287c8e,#277e8e,#3e4989,#375a8c,#3e4989,#39558c,#2b748e,#2a768e,#287d8e,#238a8d,#1fa188,#218f8d,#2db27d,#28ae80,#28ae80,#20a486,#21918c,#218f8d,#20928c,#1f968b,#1f998a,#1f9a8a,#1f9a8a,#31b57b,#21908d,#1f958b,#23888e,#1fa188,#1f998a,#26ad81,#3dbc74,#1e9b8a,#23a983,#1f9e89,#1f9f88,#1f978b,#1f948c,#1fa187,#21908d,#21918c,#1f988b,#24868e,#277e8e,#27808e,#2b758e,#306a8e,#34608d,#2e6e8e,#2b758e,#2d708e,#26818e,#21918c,#21908d,#2a788e,#1f948c,#1f948c,#24aa83,#22a884,#20a486,#22a884,#25ab82,#22a785,#2cb17e,#21a585,#20a486,#27ad81,#2fb47c,#48c16e,#4ac16d,#3fbc73,#5ec962,#40bd72,#3fbc73,#27ad81,#27ad81,#1fa088,#20928c,#24868e,#1f9e89,#23888e,#228d8d,#228d8d,#23898e,#26818e,#228d8d,#20928c,#2ab07f,#58c765,#2db27d,#40bd72,#50c46a,#2fb47c,#34b679,#34b679,#5cc863,#46c06f,#25ac82,#22a785,#1f978b,#228c8d,#2a768e,#228b8d,#1f968b,#1fa287,#20a486,#1e9d89,#1f998a,#1e9d89,#25ab82,#24878e,#1f9a8a,#1f9f88,#1f988b,#26818e,#1fa287,#1f958b,#218f8d,#1f948c,#25858e,#26828e,#21908d,#23888e,#27808e,#2c728e,#2f6c8e)"></div>
<div style="left:827.4px;top:1083.2px;width:62.8px;height:19.3px;background:linear-gradient(90deg,#23a983,#21a585,#277e8e,#2c738e,#33638d,#32658e,#33628d,#2d708e,#2a788e,#218f8d,#20a386,#1f9e89,#26818e,#29798e,#2c738e,#365c8d,#2c738e,#27808e,#297b8e,#2a778e,#24868e,#1fa287)"></div>
<div style="left:134.0px;top:1102.5px;width:130.5px;height:19.3px;background:linear-gradient(90deg,#20a386,#2eb37c,#2eb37c,#44bf70,#28ae80,#2ab07f,#1fa187,#29af7f,#1f9f88,#1fa287,#22a785,#3bbb75,#34b679,#26ad81,#23a983,#218e8d,#2b758e,#26828e,#355e8d,#38598c,#2e6d8e,#31688e,#32648e,#365c8d,#2e6d8e,#2c728e,#26828e,#277f8e,#25858e,#2a788e,#29798e,#287c8e,#2f6b8e,#2f6c8e,#27808e,#2b758e,#1f968b,#1f948c,#1fa088,#1fa187,#25ab82,#23a983,#1f9a8a,#1fa287,#2db27d)"></div>
<div style="left:302.5px;top:1102.5px;width:396.6px;height:19.3px;background:linear-gradient(90deg,#25858e,#238a8d,#27808e,#2c718e,#238a8d,#26828e,#2c738e,#218e8d,#228c8d,#2c728e,#32648e,#355f8d,#306a8e,#31678e,#228c8d,#1f9a8a,#20938c,#28ae80,#20a386,#20a386,#1f968b,#1e9c89,#1f988b,#20928c,#1fa287,#1f998a,#1e9c89,#1fa187,#1f978b,#1f978b,#2ab07f,#2cb17e,#38b977,#3fbc73,#23a983,#25ab82,#21908d,#24878e,#2c728e,#34618d,#306a8e,#34618d,#2d708e,#29798e,#24878e,#1f998a,#22a785,#1f9a8a,#1f978b,#1f998a,#1fa088,#2eb37c,#24aa83,#25ac82,#1fa088,#35b779,#35b779,#28ae80,#22a884,#20a386,#1f988b,#1f9e89,#1f958b,#1e9c89,#31b57b,#21a585,#20a386,#1fa088,#1f9f88,#22a884,#20928c,#1f988b,#20928c,#1e9b8a,#20928c,#25858e,#297b8e,#22a884,#25ac82,#1f988b,#22a785,#228b8d,#228b8d,#24878e,#1e9d89,#20928c,#1f988b,#2c718e,#24878e,#2b758e,#2a788e,#31668e,#3b518b,#2c738e,#2f6c8e,#287c8e,#2f6c8e,#287d8e,#23888e,#23898e,#21918c,#24878e,#1f958b,#21918c,#1f998a,#27808e,#1f978b,#297b8e,#24868e,#2b748e,#20928c,#228c8d,#31688e,#32648e,#2b758e,#31668e,#29798e,#228b8d,#287d8e,#26818e,#277f8e,#27808e,#26818e,#2b758e,#38598c,#3b528b,#34608d,#2d708e,#306a8e,#2c728e,#26818e,#23888e,#20928c,#1f968b,#1fa187,#1e9d89)"></div>
<div style="left:827.4px;top:1102.5px;width:62.8px;height:19.3px;background:linear-gradient(90deg,#1f948c,#22a785,#228c8d,#21908d,#1f9f88,#25848e,#23898e,#25838e,#24868e,#25838e,#20928c,#228d8d,#1f9a8a,#20928c,#1fa287,#228b8d,#1e9d89,#21918c,#1fa187,#1f958b,#1f958b,#218e8d)"></div>
<div style="left:134.0px;top:1121.8px;width:130.5px;height:19.3px;background:linear-gradient(90deg,#1f978b,#23a983,#21908d,#1f988b,#1f958b,#228d8d,#228c8d,#2b758e,#24878e,#297a8e,#1f958b,#20938c,#228c8d,#1f9a8a,#22a785,#1f988b,#228b8d,#1f998a,#1f958b,#238a8d,#277e8e,#2a768e,#2b758e,#2c728e,#306a8e,#25838e,#30698e,#2f6b8e,#2e6d8e,#2b758e,#277f8e,#277e8e,#20938c,#22a785,#26ad81,#31b57b,#4ac16d,#63cb5f,#40bd72,#48c16e,#26ad81,#20a486,#20928c,#24878e,#297a8e)"></div>
<div style="left:302.5px;top:1121.8px;width:396.6px;height:19.3px;background:linear-gradient(90deg,#21918c,#1fa088,#25ab82,#1fa187,#1f9f88,#35b779,#22a884,#1e9c89,#21a685,#21a585,#20a386,#29af7f,#2ab07f,#31b57b,#1e9c89,#228d8d,#2c738e,#2e6d8e,#2b748e,#2a788e,#25838e,#238a8d,#218f8d,#23898e,#1f998a,#26828e,#23898e,#25838e,#23888e,#2a788e,#26828e,#25848e,#33628d,#2a778e,#2f6b8e,#297b8e,#2d718e,#23898e,#20928c,#20928c,#27ad81,#21a585,#2cb17e,#1e9b8a,#31b57b,#1e9d89,#1f9e89,#1f9a8a,#1f958b,#20a386,#228b8d,#228b8d,#26828e,#26828e,#2a788e,#25858e,#25848e,#2a778e,#29798e,#228c8d,#1f998a,#218f8d,#25848e,#1f958b,#27808e,#1f988b,#1fa088,#24878e,#20a386,#22a884,#24aa83,#2ab07f,#27ad81,#1f9a8a,#20938c,#228d8d,#238a8d,#23888e,#23888e,#25838e,#20928c,#21918c,#228c8d,#27808e,#27808e,#21918c,#20928c,#21918c,#24878e,#228b8d,#20928c,#1f978b,#25ab82,#26ad81,#218f8d,#1f948c,#238a8d,#2b748e,#2b748e,#228b8d,#1f968b,#29af7f,#27ad81,#4cc26c,#6ccd5a,#67cc5c,#2eb37c,#1fa287,#25838e,#2e6d8e,#2a778e,#34608d,#33638d,#32658e,#2c728e,#297b8e,#1fa287,#52c569,#1f948c,#20938c,#1f968b,#1f998a,#1f978b,#26818e,#26828e,#2c728e,#24868e,#277e8e,#24868e,#25858e,#26818e,#297a8e,#1f988b,#287d8e,#20a486,#9dd93b)"></div>
<div style="left:827.4px;top:1121.8px;width:62.8px;height:19.3px;background:linear-gradient(90deg,#228c8d,#1e9d89,#218e8d,#27808e,#277e8e,#2a788e,#228b8d,#287c8e,#228d8d,#1f9a8a,#20938c,#1f948c,#1f9a8a,#22a884,#22a884,#24868e,#26828e,#297b8e,#2b758e,#25838e,#31678e,#2c728e)"></div>
<div style="left:134.0px;top:1141.1px;width:130.5px;height:19.3px;background:linear-gradient(90deg,#2b748e,#2a788e,#23888e,#297a8e,#297a8e,#24878e,#218f8d,#25858e,#1f988b,#25858e,#218f8d,#1fa287,#2cb17e,#22a785,#2eb37c,#22a884,#1f9e89,#1e9d89,#1e9c89,#21908d,#218e8d,#297b8e,#21908d,#1f988b,#218f8d,#1e9d89,#29af7f,#3fbc73,#3aba76,#1fa088,#1f9a8a,#218f8d,#218e8d,#21a585,#228b8d,#287d8e,#287c8e,#2c718e,#25858e,#2a778e,#25858e,#297a8e,#365d8d,#365c8d,#30698e)"></div>
<div style="left:302.5px;top:1141.1px;width:396.6px;height:19.3px;background:linear-gradient(90deg,#1e9c89,#23888e,#1f968b,#287d8e,#2b758e,#2b758e,#2c738e,#2b758e,#1f968b,#1f958b,#23a983,#20a486,#1fa187,#1f9e89,#1f948c,#22a884,#1f958b,#22a785,#27ad81,#1f988b,#23a983,#20928c,#238a8d,#287d8e,#23888e,#2d708e,#2d708e,#297b8e,#218f8d,#228d8d,#1f978b,#228b8d,#20928c,#23898e,#23898e,#20a486,#1f988b,#228d8d,#25848e,#1f968b,#1fa287,#1f9f88,#22a785,#20938c,#1f9a8a,#1e9c89,#218f8d,#24878e,#1f948c,#25838e,#26828e,#2a778e,#25848e,#24878e,#1f958b,#20938c,#1f958b,#20938c,#1e9c89,#1f998a,#1f978b,#21a585,#2a778e,#2a788e,#26818e,#2a788e,#20938c,#23898e,#20938c,#24868e,#218f8d,#23898e,#20928c,#1f9a8a,#24878e,#20938c,#218f8d,#2c738e,#277f8e,#218f8d,#1fa088,#1f958b,#1f958b,#1f9f88,#23a983,#2eb37c,#42be71,#22a785,#24aa83,#1fa287,#1e9b8a,#25848e,#2a768e,#287c8e,#297a8e,#20928c,#24868e,#24878e,#24868e,#23898e,#228c8d,#297b8e,#26828e,#287c8e,#26828e,#25848e,#238a8d,#218e8d,#1f9a8a,#20928c,#238a8d,#20928c,#20928c,#25848e,#277f8e,#25858e,#2a768e,#20938c,#228b8d,#1e9b8a,#1f9a8a,#20928c,#20928c,#2a788e,#25838e,#2a768e,#238a8d,#25838e,#21918c,#218f8d,#20928c,#1f998a,#2db27d,#27ad81,#24aa83,#23a983)"></div>
<div style="left:827.4px;top:1141.1px;width:62.8px;height:19.3px;background:linear-gradient(90deg,#27808e,#2a778e,#297b8e,#23888e,#25858e,#1f988b,#24aa83,#25ab82,#3dbc74,#42be71,#3aba76,#42be71,#28ae80,#238a8d,#1f958b,#297a8e,#26818e,#2a788e,#1e9c89,#1f958b,#20928c,#1e9c89)"></div>
<div style="left:134.0px;top:1160.3px;width:130.5px;height:19.3px;background:linear-gradient(90deg,#1f9a8a,#1f988b,#228d8d,#25848e,#2d708e,#2f6c8e,#3f4889,#3a548c,#3e4c8a,#3f4889,#3b528b,#30698e,#29798e,#2f6b8e,#25848e,#1f948c,#20928c,#22a785,#1fa088,#28ae80,#2ab07f,#42be71,#34b679,#1f998a,#21a685,#1fa287,#287d8e,#1f998a,#228d8d,#29798e,#24878e,#2a788e,#2f6c8e,#2e6e8e,#2d718e,#2b758e,#2b748e,#2d718e,#31678e,#2e6e8e,#2c738e,#287c8e,#2c728e,#2b758e,#287d8e)"></div>
<div style="left:302.5px;top:1160.3px;width:396.6px;height:19.3px;background:linear-gradient(90deg,#25838e,#25838e,#2d718e,#25848e,#2e6f8e,#31668e,#2d718e,#297a8e,#287c8e,#2c738e,#2a768e,#26818e,#287d8e,#29798e,#277e8e,#218f8d,#21918c,#287c8e,#24878e,#24868e,#25848e,#277e8e,#2b748e,#297a8e,#218f8d,#23888e,#218e8d,#28ae80,#218f8d,#20a486,#1e9c89,#2cb17e,#1fa287,#25ab82,#22a884,#1fa188,#1fa088,#1f988b,#2d708e,#306a8e,#2a788e,#2c738e,#26828e,#20928c,#22a785,#21a685,#32b67a,#24aa83,#29af7f,#218f8d,#228b8d,#20928c,#23888e,#218e8d,#20928c,#1f998a,#35b779,#1f9f88,#21a585,#1f978b,#23898e,#218e8d,#21908d,#21908d,#26818e,#238a8d,#287c8e,#2f6c8e,#2e6e8e,#375b8d,#2d718e,#34608d,#2c718e,#2a788e,#1f9f88,#1e9b8a,#1e9c89,#1fa287,#21a585,#21918c,#277e8e,#1f958b,#2a788e,#26828e,#25838e,#23888e,#277e8e,#25848e,#287c8e,#2c728e,#306a8e,#2e6d8e,#31678e,#2d718e,#24878e,#1fa287,#23888e,#1f9e89,#21a685,#20928c,#1f988b,#22a785,#1f958b,#28ae80,#2db27d,#28ae80,#2fb47c,#25ab82,#1fa187,#1fa287,#20938c,#1f948c,#1fa287,#1f948c,#1f948c,#1f998a,#228c8d,#2db27d,#218e8d,#1fa088,#277f8e,#238a8d,#23888e,#27808e,#218f8d,#1f978b,#1e9d89,#21a585,#1fa287,#24aa83,#2eb37c,#1fa188,#1f968b,#27ad81,#26828e,#2a768e)"></div>
<div style="left:827.4px;top:1160.3px;width:62.8px;height:19.3px;background:linear-gradient(90deg,#2b748e,#2a768e,#26828e,#24868e,#20928c,#23898e,#2a778e,#25848e,#21908d,#27808e,#25858e,#25858e,#2e6e8e,#33628d,#26818e,#1f9e89,#21908d,#1e9b8a,#1f958b,#228b8d,#2e6d8e,#31688e)"></div>
<div style="left:134.0px;top:1179.6px;width:130.5px;height:19.3px;background:linear-gradient(90deg,#28ae80,#2cb17e,#35b779,#1f948c,#228d8d,#297b8e,#2e6e8e,#2f6b8e,#2c718e,#25858e,#228b8d,#1e9c89,#24aa83,#21a585,#21a585,#218e8d,#277e8e,#21908d,#1e9c89,#1f998a,#1e9b8a,#21a685,#1fa088,#20a386,#20938c,#1f968b,#218f8d,#29798e,#1e9d89,#21908d,#24aa83,#26ad81,#1e9c89,#1fa187,#26ad81,#22a884,#34b679,#3bbb75,#20a486,#1fa188,#37b878,#2eb37c,#20928c,#26818e,#23888e)"></div>
<div style="left:302.5px;top:1179.6px;width:396.6px;height:19.3px;background:linear-gradient(90deg,#228d8d,#21918c,#26828e,#218f8d,#24878e,#218f8d,#21908d,#1f9a8a,#40bd72,#37b878,#4cc26c,#5ac864,#26ad81,#2fb47c,#1f998a,#20938c,#1f958b,#2a768e,#218f8d,#21918c,#1f968b,#1f9f88,#1e9c89,#1fa188,#2ab07f,#2eb37c,#3fbc73,#20a386,#23a983,#22a884,#25ac82,#20a386,#20a486,#20938c,#1fa088,#228c8d,#1f948c,#218f8d,#21918c,#1f958b,#1fa287,#2cb17e,#25ac82,#1e9c89,#1f958b,#1f968b,#1f988b,#24878e,#1f958b,#21a585,#1f968b,#218f8d,#25ac82,#25ac82,#20a386,#25ab82,#2fb47c,#2eb37c,#1e9d89,#1f998a,#29798e,#297b8e,#2c718e,#287d8e,#23888e,#1f9a8a,#1f9e89,#20928c,#1fa187,#26ad81,#21908d,#20928c,#1f978b,#26818e,#2d718e,#287c8e,#2a768e,#23888e,#25838e,#20928c,#21918c,#228c8d,#1f968b,#34b679,#1fa088,#28ae80,#26828e,#24868e,#26828e,#2c728e,#29798e,#25838e,#1f988b,#228c8d,#23898e,#22a884,#42be71,#28ae80,#2db27d,#25ac82,#1fa188,#20a486,#2db27d,#3bbb75,#31b57b,#1fa287,#1fa088,#22a884,#1f9f88,#1e9b8a,#25ab82,#38b977,#228c8d,#2a788e,#2c718e,#355e8d,#34618d,#2f6c8e,#2c728e,#2a788e,#287d8e,#2a768e,#1f958b,#228c8d,#25858e,#25858e,#2c738e,#2b748e,#24878e,#33628d,#355f8d,#31668e,#2a768e,#2d708e,#22a884,#54c568)"></div>
<div style="left:827.4px;top:1179.6px;width:62.8px;height:19.3px;background:linear-gradient(90deg,#2b758e,#2c738e,#2e6f8e,#2b758e,#2e6e8e,#2c728e,#218f8d,#2c718e,#23888e,#297a8e,#2d718e,#2c718e,#287d8e,#2c728e,#287d8e,#1f968b,#1f988b,#32b67a,#4ac16d,#3bbb75,#54c568,#24aa83)"></div>
<div style="left:134.0px;top:1198.9px;width:130.5px;height:19.3px;background:linear-gradient(90deg,#1e9c89,#1e9c89,#1f9e89,#20928c,#25858e,#25858e,#218f8d,#21908d,#1f9e89,#1f978b,#23a983,#2db27d,#26ad81,#1f9a8a,#20938c,#1f9a8a,#1f988b,#20928c,#21a685,#20a386,#22a785,#3aba76,#1e9c89,#2cb17e,#31b57b,#40bd72,#3bbb75,#20a486,#218f8d,#23898e,#25838e,#1f948c,#306a8e,#2b748e,#33638d,#32648e,#27808e,#25858e,#1f978b,#218f8d,#1e9b8a,#1f9a8a,#27808e,#23888e,#238a8d)"></div>
<div style="left:302.5px;top:1198.9px;width:396.6px;height:19.3px;background:linear-gradient(90deg,#21a585,#37b878,#3dbc74,#5ac864,#31b57b,#2fb47c,#1fa088,#1e9d89,#32658e,#2f6c8e,#365d8d,#31688e,#31678e,#228c8d,#228b8d,#21a685,#26ad81,#20a386,#277f8e,#25838e,#24868e,#306a8e,#287d8e,#277e8e,#306a8e,#287c8e,#277e8e,#26828e,#20928c,#228b8d,#1f948c,#228c8d,#25848e,#297b8e,#228c8d,#26818e,#1f968b,#24878e,#29798e,#2b748e,#297a8e,#287c8e,#2a768e,#2a778e,#23888e,#228b8d,#20928c,#29798e,#228b8d,#2e6f8e,#2d718e,#25838e,#228d8d,#23888e,#24868e,#218f8d,#23898e,#218e8d,#1f998a,#1f968b,#25838e,#287d8e,#2b758e,#287d8e,#32658e,#26828e,#20938c,#1fa188,#24aa83,#1f9f88,#20a486,#20a386,#1fa188,#2fb47c,#48c16e,#48c16e,#38b977,#2fb47c,#25ac82,#1f988b,#1fa088,#22a785,#1e9d89,#20a386,#1e9b8a,#20a386,#22a884,#22a884,#1f958b,#1fa188,#1e9c89,#21908d,#238a8d,#29798e,#32648e,#2b748e,#2a768e,#218f8d,#21918c,#25848e,#23888e,#2b758e,#2e6d8e,#31668e,#287d8e,#2a788e,#26828e,#31688e,#228c8d,#25838e,#228b8d,#23888e,#25838e,#218f8d,#25858e,#287c8e,#29798e,#24868e,#24868e,#25838e,#1f978b,#1f988b,#1f9e89,#21908d,#23898e,#238a8d,#20928c,#297a8e,#287c8e,#228b8d,#218f8d,#2fb47c,#20a386,#2cb17e,#1fa088,#2db27d)"></div>
<div style="left:827.4px;top:1198.9px;width:62.8px;height:19.3px;background:linear-gradient(90deg,#2a788e,#26828e,#22a884,#2fb47c,#3bbb75,#73d056,#89d548,#67cc5c,#48c16e,#4ec36b,#3bbb75,#77d153,#37b878,#20a386,#23898e,#1f958b,#277e8e,#27808e,#277e8e,#2b748e,#228c8d,#287c8e)"></div>
<div style="left:134.0px;top:1218.2px;width:130.5px;height:19.3px;background:linear-gradient(90deg,#46307e,#375b8d,#277e8e,#287c8e,#287d8e,#24868e,#297a8e,#29798e,#26828e,#1f958b,#1e9b8a,#1e9c89,#22a785,#218f8d,#21918c,#297b8e,#2c728e,#2f6c8e,#2d708e,#228c8d,#26818e,#238a8d,#25838e,#21908d,#218f8d,#20a486,#1f9f88,#25ab82,#1f978b,#1f9f88,#1fa187,#22a884,#21a685,#25858e,#20928c,#277f8e,#297b8e,#2a768e,#2a778e,#34618d,#2a778e,#2d708e,#297b8e,#2f6c8e,#2b758e)"></div>
<div style="left:302.5px;top:1218.2px;width:396.6px;height:19.3px;background:linear-gradient(90deg,#228d8d,#1f9f88,#20938c,#238a8d,#34618d,#297b8e,#297b8e,#29798e,#23888e,#20928c,#21908d,#1f968b,#20928c,#25858e,#1f9a8a,#1f978b,#228d8d,#20928c,#1f9f88,#1e9b8a,#20928c,#1f968b,#25ab82,#1f988b,#1f978b,#1f9a8a,#1f9a8a,#1e9d89,#20938c,#20938c,#20928c,#25848e,#20a386,#218f8d,#1e9d89,#218f8d,#20928c,#20928c,#218e8d,#26828e,#25858e,#218f8d,#1f998a,#1e9d89,#21a585,#2ab07f,#20a486,#24aa83,#22a785,#20928c,#21918c,#1f948c,#1f9a8a,#24868e,#25ac82,#22a785,#24aa83,#25ab82,#1f998a,#1f9a8a,#20928c,#1f9a8a,#20928c,#1f958b,#1f968b,#24868e,#30698e,#32648e,#2d718e,#2a778e,#24878e,#26818e,#297a8e,#26818e,#2c738e,#29798e,#27808e,#27808e,#20938c,#20928c,#1f988b,#23a983,#4ac16d,#a8db34,#6ccd5a,#2fb47c,#22a785,#20928c,#1f9e89,#20928c,#23888e,#228c8d,#2b758e,#1e9d89,#25858e,#20938c,#218f8d,#26828e,#25838e,#2c738e,#287d8e,#26828e,#26828e,#1fa188,#1fa188,#1f9a8a,#1f998a,#1fa287,#25848e,#1f958b,#21a685,#29af7f,#25ac82,#22a785,#1f968b,#218e8d,#1fa187,#218f8d,#1f948c,#21918c,#1f998a,#2d718e,#287d8e,#2d708e,#2a788e,#238a8d,#218e8d,#2db27d,#24aa83,#3aba76,#2eb37c,#31b57b,#35b779,#25ac82,#24aa83,#1fa188)"></div>
<div style="left:827.4px;top:1218.2px;width:62.8px;height:19.3px;background:linear-gradient(90deg,#2c718e,#1f9a8a,#1e9b8a,#1fa088,#228b8d,#20928c,#25858e,#2c728e,#26818e,#2d718e,#21908d,#228c8d,#297b8e,#297a8e,#29798e,#297a8e,#297a8e,#238a8d,#23898e,#21908d,#21a685,#21a585)"></div>
<div style="left:134.0px;top:1237.5px;width:130.5px;height:19.3px;background:linear-gradient(90deg,#228d8d,#20a386,#1fa188,#1e9d89,#37b878,#2db27d,#2fb47c,#2cb17e,#2cb17e,#28ae80,#1fa188,#23888e,#24878e,#2e6d8e,#287c8e,#2a768e,#20938c,#31b57b,#34b679,#29af7f,#3fbc73,#2eb37c,#1f9f88,#1f968b,#26828e,#1f978b,#23888e,#297b8e,#2c728e,#228d8d,#2c728e,#25838e,#25858e,#21908d,#1fa088,#26ad81,#24aa83,#28ae80,#34b679,#29af7f,#27ad81,#218f8d,#1f9e89,#1f9e89,#26828e)"></div>
<div style="left:302.5px;top:1237.5px;width:396.6px;height:19.3px;background:linear-gradient(90deg,#25ab82,#23a983,#1f998a,#1f9f88,#1fa188,#1f978b,#20a486,#1fa187,#1fa188,#20928c,#1f968b,#1f988b,#20928c,#1f968b,#27808e,#26818e,#297b8e,#32658e,#2a768e,#25838e,#24878e,#1f988b,#1fa187,#1f998a,#238a8d,#228c8d,#1f968b,#25858e,#238a8d,#218e8d,#20928c,#26828e,#20928c,#2a788e,#23888e,#297a8e,#2a788e,#228d8d,#297a8e,#2c738e,#21918c,#1e9c89,#1f968b,#1f958b,#1f968b,#20928c,#25848e,#228d8d,#1f998a,#1f988b,#218e8d,#218e8d,#277f8e,#2f6b8e,#2b758e,#287d8e,#2c718e,#26828e,#21908d,#228b8d,#29af7f,#38b977,#1f9f88,#2ab07f,#4cc26c,#50c46a,#2cb17e,#28ae80,#1f958b,#24878e,#21908d,#277e8e,#25858e,#218f8d,#218f8d,#25838e,#27808e,#1fa088,#228d8d,#24868e,#287d8e,#277e8e,#26828e,#2b748e,#24868e,#2a768e,#25838e,#26828e,#1f988b,#1f978b,#20a486,#1fa188,#1f9e89,#277e8e,#25838e,#31688e,#2e6f8e,#2c728e,#2d708e,#31678e,#32658e,#2e6f8e,#31688e,#25848e,#26828e,#25838e,#23888e,#25ab82,#3fbc73,#21a685,#1f9a8a,#21a685,#21a585,#20928c,#26818e,#24878e,#1f948c,#24868e,#218e8d,#228d8d,#20928c,#24868e,#1f9f88,#22a884,#1e9d89,#1e9c89,#23888e,#297b8e,#2c738e,#29798e,#2a768e,#29798e,#2f6c8e,#355e8d,#2e6f8e,#26818e)"></div>
<div style="left:827.4px;top:1237.5px;width:62.8px;height:19.3px;background:linear-gradient(90deg,#26828e,#20a386,#26ad81,#1fa287,#29af7f,#1f978b,#1fa188,#1f948c,#24878e,#27808e,#23a983,#228d8d,#20928c,#1f998a,#1f968b,#1fa088,#1f988b,#23898e,#1f988b,#20928c,#218e8d,#22a785)"></div>
<div style="left:134.0px;top:1256.8px;width:130.5px;height:19.3px;background:linear-gradient(90deg,#297a8e,#2b748e,#2a778e,#2a768e,#30698e,#3b528b,#287d8e,#25848e,#24878e,#238a8d,#24868e,#29798e,#2c738e,#2a768e,#2b758e,#23888e,#2a788e,#27808e,#25838e,#26828e,#26828e,#2f6b8e,#2a768e,#238a8d,#20928c,#21908d,#21908d,#1fa287,#20928c,#21a585,#1f9e89,#218e8d,#22a884,#1fa188,#24aa83,#37b878,#1fa188,#1f978b,#1e9d89,#25ac82,#27ad81,#21a685,#1e9b8a,#20a486,#228b8d)"></div>
<div style="left:302.5px;top:1256.8px;width:396.6px;height:19.3px;background:linear-gradient(90deg,#29af7f,#42be71,#3bbb75,#1e9b8a,#228b8d,#1f948c,#297a8e,#1f948c,#228b8d,#1f998a,#1f998a,#23898e,#1fa287,#1e9d89,#27808e,#277f8e,#228c8d,#228b8d,#228d8d,#20928c,#228b8d,#218f8d,#1f988b,#2e6e8e,#34608d,#277f8e,#2a788e,#24878e,#23888e,#20938c,#1f948c,#228c8d,#1e9b8a,#29af7f,#23a983,#25ab82,#25ac82,#1f948c,#1f9e89,#26828e,#23888e,#1f998a,#20a486,#1fa188,#21a585,#27808e,#27808e,#297a8e,#2d708e,#2c738e,#287d8e,#29798e,#1f948c,#25838e,#26828e,#25848e,#238a8d,#25858e,#26828e,#1f988b,#25848e,#297b8e,#34618d,#2e6d8e,#2d718e,#297a8e,#228c8d,#218e8d,#44bf70,#48c16e,#3dbc74,#4ec36b,#3aba76,#2db27d,#1fa088,#1e9b8a,#228d8d,#20938c,#24878e,#228c8d,#228b8d,#20938c,#1f978b,#21918c,#1f988b,#218f8d,#25ab82,#1fa187,#25ab82,#1f9e89,#2cb17e,#3dbc74,#40bd72,#2db27d,#1fa287,#25838e,#1f948c,#26818e,#25858e,#297b8e,#27808e,#26818e,#228d8d,#2a778e,#277e8e,#238a8d,#287c8e,#238a8d,#218f8d,#1f9f88,#228b8d,#1f978b,#1e9c89,#1f9a8a,#228c8d,#21a685,#23898e,#24868e,#1f948c,#25858e,#25838e,#287c8e,#26818e,#26828e,#23888e,#277e8e,#24868e,#29798e,#21918c,#1f978b,#1f978b,#287c8e,#26828e,#2a788e,#25858e,#21918c)"></div>
<div style="left:827.4px;top:1256.8px;width:62.8px;height:19.3px;background:linear-gradient(90deg,#20938c,#1e9d89,#228c8d,#25838e,#2d718e,#26828e,#29798e,#33628d,#25858e,#27808e,#1f968b,#2b758e,#39568c,#29798e,#20928c,#26818e,#20928c,#1e9c89,#1f9a8a,#1f948c,#20938c,#1e9b8a)"></div>
<div style="left:134.0px;top:1276.1px;width:130.5px;height:19.3px;background:linear-gradient(90deg,#23898e,#1fa187,#1f978b,#21918c,#23888e,#25858e,#1fa088,#1f958b,#24aa83,#1f9e89,#26ad81,#20a486,#29af7f,#20928c,#1fa188,#26828e,#23888e,#27808e,#297b8e,#297b8e,#228b8d,#2c718e,#287c8e,#25848e,#2a778e,#29798e,#2c738e,#2a768e,#25848e,#21908d,#20928c,#238a8d,#277e8e,#25858e,#1e9d89,#21908d,#25ac82,#1f968b,#1f988b,#238a8d,#1f948c,#287d8e,#29798e,#25848e,#2c728e)"></div>
<div style="left:302.5px;top:1276.1px;width:396.6px;height:19.3px;background:linear-gradient(90deg,#1e9d89,#24868e,#218e8d,#1e9b8a,#1fa188,#1fa187,#25858e,#1fa187,#25848e,#26818e,#23898e,#27808e,#25858e,#20938c,#1e9b8a,#21a585,#23a983,#22a884,#25ab82,#20a386,#1f968b,#218f8d,#228c8d,#32658e,#2e6d8e,#2c738e,#2c728e,#24878e,#1f958b,#1e9c89,#1f978b,#218e8d,#1f968b,#297b8e,#24878e,#25848e,#26818e,#2d708e,#2d718e,#287c8e,#297a8e,#297b8e,#20928c,#24868e,#1fa188,#26ad81,#2cb17e,#2fb47c,#21a585,#20938c,#297a8e,#297a8e,#2e6f8e,#287c8e,#2a778e,#2b758e,#2c728e,#27808e,#20928c,#1fa287,#2ab07f,#2ab07f,#26ad81,#27ad81,#1f958b,#20928c,#218e8d,#20938c,#1f968b,#228d8d,#277f8e,#228b8d,#29798e,#26818e,#34608d,#25838e,#2f6b8e,#218e8d,#24878e,#228d8d,#25858e,#2e6f8e,#306a8e,#33638d,#355f8d,#2b758e,#30698e,#297b8e,#27808e,#20a386,#1fa188,#5ac864,#34b679,#2eb37c,#2cb17e,#1e9b8a,#21918c,#23888e,#27808e,#2e6f8e,#365d8d,#443983,#414487,#423f85,#3b518b,#2f6b8e,#277f8e,#21a685,#1fa088,#20a486,#27ad81,#25ac82,#29af7f,#20928c,#20928c,#238a8d,#24868e,#228b8d,#20928c,#228c8d,#1f978b,#20a386,#35b779,#31b57b,#2ab07f,#27ad81,#25ab82,#25ab82,#28ae80,#1e9c89,#24aa83,#44bf70,#28ae80,#1e9d89,#20928c,#1f958b)"></div>
<div style="left:827.4px;top:1276.1px;width:62.8px;height:19.3px;background:linear-gradient(90deg,#1e9c89,#1fa088,#20928c,#1f9e89,#218e8d,#287d8e,#25848e,#228b8d,#24868e,#2a788e,#21918c,#228c8d,#1f968b,#26828e,#1fa088,#1f988b,#26828e,#2b758e,#21918c,#2cb17e,#3fbc73,#77d153)"></div>
<div style="left:134.0px;top:1295.4px;width:130.5px;height:19.3px;background:linear-gradient(90deg,#32b67a,#40bd72,#3aba76,#22a785,#228c8d,#218e8d,#1e9d89,#21908d,#20928c,#2ab07f,#25ab82,#2fb47c,#46c06f,#34b679,#1e9c89,#21a685,#20a486,#21a585,#1f998a,#1f998a,#21a685,#26828e,#1f948c,#1f988b,#25ab82,#24aa83,#1f9f88,#1fa088,#228d8d,#23898e,#238a8d,#2b748e,#2a768e,#1e9d89,#2fb47c,#228b8d,#297a8e,#2c718e,#2d718e,#2b758e,#25838e,#20928c,#2a778e,#26818e,#2b758e)"></div>
<div style="left:302.5px;top:1295.4px;width:396.6px;height:19.3px;background:linear-gradient(90deg,#277f8e,#2a768e,#33638d,#26818e,#26818e,#1f9a8a,#1f978b,#1f958b,#1f958b,#25ac82,#2ab07f,#1f958b,#21a585,#1f998a,#1f9e89,#22a884,#27808e,#218e8d,#1e9b8a,#218f8d,#228b8d,#26828e,#20928c,#1f9a8a,#23888e,#1e9b8a,#2a778e,#25858e,#1fa088,#20a486,#2ab07f,#29af7f,#22a884,#21a685,#2eb37c,#20a386,#20a486,#1f948c,#1f948c,#238a8d,#26828e,#277e8e,#1f968b,#228b8d,#25838e,#20a486,#1fa088,#1fa188,#20928c,#1fa188,#20938c,#25858e,#23898e,#25858e,#21a585,#1f948c,#1e9d89,#1fa088,#1fa088,#27808e,#2a768e,#238a8d,#218f8d,#23a983,#1f9a8a,#31b57b,#2cb17e,#21a685,#26828e,#1f988b,#228c8d,#2c718e,#24868e,#2b748e,#2c738e,#26818e,#1f968b,#25ab82,#22a785,#20a386,#1fa088,#23898e,#228b8d,#1fa187,#2cb17e,#228d8d,#228c8d,#228b8d,#277e8e,#21908d,#26828e,#228b8d,#2c718e,#31688e,#31668e,#2c728e,#2c728e,#228b8d,#277f8e,#2f6c8e,#25848e,#1f9a8a,#20928c,#1f988b,#22a785,#2eb37c,#26ad81,#228c8d,#27ad81,#22a884,#22a884,#2db27d,#54c568,#21a685,#2eb37c,#21a685,#4ac16d,#3dbc74,#29af7f,#1fa088,#277f8e,#287d8e,#29798e,#2f6b8e,#2c738e,#2f6b8e,#38598c,#30698e,#2a768e,#26818e,#21908d,#1f958b,#1f9a8a,#1f958b,#1f9a8a,#1f9f88)"></div>
<div style="left:827.4px;top:1295.4px;width:62.8px;height:19.3px;background:linear-gradient(90deg,#297a8e,#25848e,#1f978b,#26ad81,#20a386,#2eb37c,#4ac16d,#20a386,#29af7f,#1e9d89,#1fa187,#27808e,#2e6e8e,#26818e,#26828e,#27808e,#1f968b,#238a8d,#1f978b,#1f958b,#1f968b,#1f9e89)"></div>
<div style="left:134.0px;top:1314.7px;width:130.5px;height:19.3px;background:linear-gradient(90deg,#20a486,#23a983,#1f9e89,#2fb47c,#1f9a8a,#20938c,#21a585,#21a585,#20a386,#1fa188,#23a983,#1f9e89,#3aba76,#1f988b,#25ac82,#2ab07f,#1f988b,#1e9c89,#1f9f88,#20a486,#1f948c,#21908d,#29798e,#27808e,#25838e,#218f8d,#2b758e,#24878e,#238a8d,#228c8d,#21a585,#20928c,#1fa287,#20a386,#22a884,#1f958b,#25858e,#1f988b,#25858e,#2b758e,#2e6f8e,#29798e,#29798e,#2c738e,#277f8e)"></div>
<div style="left:302.5px;top:1314.7px;width:396.6px;height:19.3px;background:linear-gradient(90deg,#25ab82,#3dbc74,#3bbb75,#20a386,#20938c,#20928c,#21908d,#1e9d89,#218f8d,#277e8e,#2b758e,#287c8e,#2b748e,#25858e,#29798e,#31668e,#30698e,#2b758e,#34618d,#32648e,#2c738e,#277e8e,#23888e,#23898e,#1f948c,#218f8d,#1f948c,#1fa188,#26828e,#26818e,#24878e,#297a8e,#228b8d,#25ab82,#218f8d,#1f958b,#22a884,#22a785,#1f988b,#25ab82,#2fb47c,#20a386,#21a585,#1f998a,#23898e,#27808e,#25848e,#297a8e,#34618d,#297a8e,#29798e,#26828e,#228b8d,#2b748e,#2d718e,#2e6d8e,#2e6d8e,#2a778e,#26818e,#27808e,#1f9a8a,#26828e,#25ac82,#1f968b,#22a785,#1e9c89,#1f958b,#20a486,#25ac82,#42be71,#3dbc74,#22a785,#3fbc73,#21a585,#25858e,#238a8d,#218f8d,#1f978b,#21918c,#27808e,#228b8d,#31688e,#277f8e,#26828e,#20938c,#23898e,#20928c,#24aa83,#1e9d89,#1e9c89,#1f9a8a,#1f948c,#25838e,#29798e,#2a778e,#2a768e,#277f8e,#287d8e,#218e8d,#1e9c89,#21a585,#2cb17e,#3aba76,#20a386,#1f9a8a,#1e9d89,#1f9e89,#218f8d,#1e9c89,#24aa83,#22a785,#2db27d,#35b779,#28ae80,#1fa088,#1f948c,#29798e,#2b748e,#2a788e,#2b748e,#2a778e,#26818e,#20938c,#21908d,#21a585,#21908d,#1f998a,#24aa83,#1fa287,#25ac82,#21918c,#1e9d89,#218e8d,#297a8e,#238a8d,#218f8d)"></div>
<div style="left:827.4px;top:1314.7px;width:62.8px;height:19.3px;background:linear-gradient(90deg,#25858e,#20938c,#238a8d,#1f998a,#1f958b,#22a785,#1f9e89,#22a884,#21a685,#24aa83,#20928c,#238a8d,#1f968b,#24868e,#218f8d,#22a884,#25858e,#21a685,#1f978b,#1f998a,#1f9e89,#21a585)"></div>
<div style="left:134.0px;top:1334.0px;width:130.5px;height:19.3px;background:linear-gradient(90deg,#20928c,#238a8d,#26828e,#218f8d,#22a884,#1f958b,#1f9f88,#20928c,#20928c,#20a386,#2db27d,#21a685,#1f948c,#20928c,#25838e,#218f8d,#2a788e,#2b748e,#2e6d8e,#29798e,#2a788e,#26828e,#228c8d,#21908d,#2ab07f,#28ae80,#1e9d89,#32b67a,#21a685,#23a983,#1e9c89,#24aa83,#27ad81,#22a785,#1fa187,#1fa287,#1f988b,#297b8e,#27808e,#26818e,#2a788e,#1e9b8a,#1f998a,#1fa188,#2eb37c)"></div>
<div style="left:302.5px;top:1334.0px;width:396.6px;height:19.3px;background:linear-gradient(90deg,#2b748e,#297a8e,#2a788e,#2a778e,#2c718e,#26828e,#25858e,#218f8d,#26ad81,#25ac82,#1fa187,#24aa83,#22a785,#44bf70,#2cb17e,#3bbb75,#38b977,#34b679,#26ad81,#21918c,#26818e,#2b758e,#2a768e,#1f998a,#1f968b,#34b679,#2cb17e,#34b679,#24aa83,#1f978b,#24878e,#2e6d8e,#277f8e,#2b748e,#2c728e,#26818e,#21908d,#21908d,#24aa83,#1f998a,#1f968b,#1f978b,#20a386,#20928c,#20938c,#1f948c,#24878e,#1e9c89,#27ad81,#2eb37c,#27ad81,#2eb37c,#2eb37c,#3fbc73,#1e9d89,#20a486,#38b977,#25ab82,#1e9b8a,#20a386,#1f9e89,#21918c,#1e9b8a,#1e9b8a,#22a785,#20a386,#24aa83,#2cb17e,#25ab82,#1e9b8a,#238a8d,#27808e,#2a768e,#2a788e,#287c8e,#26828e,#24878e,#20a486,#1f978b,#24878e,#218e8d,#218f8d,#27808e,#27808e,#2c728e,#24878e,#228c8d,#1f958b,#218e8d,#1f978b,#24868e,#25858e,#228c8d,#26828e,#1f9f88,#24aa83,#2cb17e,#26ad81,#2ab07f,#2ab07f,#26ad81,#34b679,#20a386,#1f9e89,#20928c,#238a8d,#24868e,#218f8d,#24aa83,#1f968b,#22a884,#1f9a8a,#1f988b,#1f998a,#25ac82,#1f9a8a,#1f978b,#21918c,#228d8d,#25838e,#218f8d,#24868e,#1e9c89,#1fa188,#1fa088,#25ac82,#23898e,#23888e,#25848e,#277f8e,#297b8e,#29798e,#228b8d,#1f998a,#1f948c,#1fa287)"></div>
<div style="left:827.4px;top:1334.0px;width:62.8px;height:19.3px;background:linear-gradient(90deg,#23898e,#277f8e,#24868e,#2b748e,#2d708e,#287c8e,#1f948c,#1f9e89,#21a585,#1f9f88,#1e9c89,#228d8d,#218e8d,#1f948c,#1f9a8a,#1f968b,#1f988b,#21a685,#4cc26c,#2fb47c,#25ab82,#22a884)"></div>
<div style="left:134.0px;top:1353.3px;width:130.5px;height:19.3px;background:linear-gradient(90deg,#2e6e8e,#355e8d,#31668e,#31668e,#32648e,#2f6b8e,#3a548c,#287c8e,#2a778e,#228d8d,#1f978b,#228d8d,#228c8d,#21918c,#1f9f88,#2fb47c,#228c8d,#277f8e,#228c8d,#277f8e,#1f948c,#20928c,#23898e,#1fa188,#23a983,#1e9c89,#2db27d,#1f9e89,#228d8d,#32648e,#34608d,#355e8d,#2f6b8e,#27808e,#20928c,#1e9c89,#20928c,#23a983,#218f8d,#23898e,#228b8d,#1e9b8a,#2c738e,#1f958b,#228b8d)"></div>
<div style="left:302.5px;top:1353.3px;width:396.6px;height:19.3px;background:linear-gradient(90deg,#25848e,#24878e,#25858e,#2d718e,#21918c,#26828e,#1f948c,#22a884,#1f9f88,#21908d,#2a768e,#2c738e,#25858e,#218f8d,#1f9e89,#24aa83,#56c667,#98d83e,#46c06f,#1e9d89,#27808e,#287d8e,#277e8e,#27808e,#2a788e,#26828e,#25838e,#24868e,#24878e,#24878e,#1e9b8a,#1e9c89,#20a386,#25ac82,#23a983,#1f988b,#20928c,#25848e,#20928c,#1fa187,#22a785,#1f998a,#23a983,#218f8d,#26828e,#2e6f8e,#2b758e,#33638d,#2c728e,#31678e,#2d708e,#375a8c,#2f6c8e,#2a788e,#2f6b8e,#287c8e,#287c8e,#20928c,#25848e,#287c8e,#2a768e,#1f998a,#23888e,#1e9d89,#228c8d,#218e8d,#1f9f88,#26828e,#24878e,#2c728e,#2e6f8e,#297b8e,#297a8e,#29798e,#24868e,#2b748e,#23898e,#228b8d,#277e8e,#20928c,#20928c,#21a685,#1e9d89,#1fa187,#2ab07f,#1f988b,#1fa187,#1fa287,#1f998a,#1fa188,#1f968b,#21a585,#25848e,#25838e,#218f8d,#238a8d,#238a8d,#26828e,#218e8d,#277e8e,#2c728e,#297a8e,#33638d,#277f8e,#218e8d,#277e8e,#1f978b,#24878e,#2b748e,#27808e,#2f6b8e,#2e6f8e,#2a788e,#26828e,#29798e,#297b8e,#277f8e,#1e9b8a,#20938c,#287d8e,#2b758e,#2a778e,#218f8d,#297a8e,#23898e,#25838e,#2a768e,#29798e,#23898e,#218e8d,#25858e,#228b8d,#26828e,#1f968b,#1fa188,#1fa187)"></div>
<div style="left:827.4px;top:1353.3px;width:62.8px;height:19.3px;background:linear-gradient(90deg,#2eb37c,#1fa187,#1fa088,#1fa088,#1fa088,#277f8e,#297b8e,#2a768e,#2d708e,#355f8d,#2b758e,#29798e,#228b8d,#287d8e,#228d8d,#27808e,#277e8e,#29798e,#2d708e,#31678e,#2a768e,#2f6b8e)"></div>
<div style="left:134.0px;top:1372.6px;width:130.5px;height:19.3px;background:linear-gradient(90deg,#2eb37c,#27ad81,#5cc863,#40bd72,#3dbc74,#1fa188,#22a884,#1f9e89,#1fa088,#23888e,#20928c,#218e8d,#21908d,#1f998a,#21908d,#1f958b,#1f948c,#20938c,#1f948c,#1f978b,#1fa088,#1fa287,#25ac82,#1f998a,#25848e,#26818e,#2b748e,#1f958b,#24868e,#1f978b,#27ad81,#24aa83,#2cb17e,#3aba76,#22a884,#38b977,#1e9c89,#1fa287,#228d8d,#228b8d,#25838e,#1f9f88,#1f9a8a,#24868e,#218f8d)"></div>
<div style="left:302.5px;top:1372.6px;width:396.6px;height:19.3px;background:linear-gradient(90deg,#24868e,#2a778e,#297a8e,#2a768e,#228b8d,#21908d,#26828e,#1f9a8a,#27808e,#1f9f88,#20a486,#1f998a,#1f9a8a,#23888e,#25838e,#23898e,#1f968b,#228c8d,#24878e,#228b8d,#297b8e,#29798e,#2a778e,#2a768e,#33638d,#23898e,#2c738e,#25848e,#228d8d,#238a8d,#1f9f88,#20928c,#228b8d,#287d8e,#2a778e,#297a8e,#2a778e,#277f8e,#228c8d,#25848e,#218f8d,#26828e,#1f998a,#20928c,#1f998a,#23888e,#277f8e,#2d708e,#34618d,#38588c,#2e6f8e,#2e6f8e,#2a788e,#23888e,#23888e,#1f998a,#218e8d,#277f8e,#29798e,#1f948c,#2a788e,#25848e,#228b8d,#21a585,#24aa83,#238a8d,#355e8d,#32648e,#31668e,#287d8e,#27808e,#228c8d,#26818e,#277f8e,#2a778e,#23898e,#277e8e,#25848e,#2a788e,#25858e,#277f8e,#228b8d,#25848e,#2a768e,#20928c,#297b8e,#1f958b,#1f958b,#23a983,#20938c,#26ad81,#22a884,#1fa287,#2ab07f,#1fa188,#21a585,#21a585,#26ad81,#1f9a8a,#23a983,#1f968b,#218f8d,#29798e,#2c728e,#2c728e,#27808e,#1f9f88,#1f9e89,#22a884,#1fa187,#20928c,#20a486,#228b8d,#228c8d,#238a8d,#23888e,#1f958b,#218e8d,#22a884,#20a386,#1f9e89,#1f968b,#25858e,#238a8d,#1f958b,#1f998a,#1f948c,#1f988b,#22a884,#1f9f88,#1f9a8a,#20938c,#27808e,#297b8e,#2f6c8e,#2c718e)"></div>
<div style="left:827.4px;top:1372.6px;width:62.8px;height:19.3px;background:linear-gradient(90deg,#2b748e,#26828e,#27808e,#21908d,#1f968b,#287d8e,#21908d,#2a788e,#25848e,#238a8d,#1f9f88,#20a486,#21a585,#1e9b8a,#21908d,#20928c,#25858e,#25838e,#23888e,#1f998a,#20928c,#1f978b)"></div>
<div style="left:134.0px;top:1391.9px;width:130.5px;height:19.3px;background:linear-gradient(90deg,#24aa83,#20a486,#25ac82,#2eb37c,#1f958b,#1f958b,#287c8e,#2e6d8e,#30698e,#2c738e,#287c8e,#29798e,#31678e,#2a778e,#2c738e,#27808e,#2c738e,#2d708e,#2b748e,#29798e,#31668e,#2c718e,#2a778e,#1f978b,#24868e,#21908d,#1f968b,#20928c,#26828e,#25848e,#287d8e,#2e6f8e,#27808e,#1f948c,#1f988b,#29798e,#26828e,#26818e,#2b758e,#23898e,#21908d,#20938c,#228b8d,#26828e,#277f8e)"></div>
<div style="left:302.5px;top:1391.9px;width:396.6px;height:19.3px;background:linear-gradient(90deg,#1fa088,#228d8d,#218e8d,#21a685,#24aa83,#1f9e89,#22a785,#1e9d89,#21a685,#2eb37c,#25ab82,#1e9d89,#1f988b,#1fa287,#218e8d,#21918c,#1fa187,#1f9f88,#20928c,#26828e,#29798e,#24878e,#25838e,#26828e,#21908d,#21908d,#2a768e,#26ad81,#1e9d89,#20a386,#25ac82,#3bbb75,#23a983,#1f9a8a,#21908d,#1f958b,#22a785,#21a585,#32b67a,#37b878,#44bf70,#38b977,#37b878,#2ab07f,#1f968b,#20928c,#1fa088,#1f958b,#25ab82,#20a486,#1e9b8a,#228c8d,#24878e,#26828e,#1fa188,#1f978b,#20a386,#1f9e89,#20a386,#1fa287,#25ac82,#21a585,#1fa188,#1e9c89,#1f968b,#1f998a,#29af7f,#1fa088,#27ad81,#218e8d,#1f9f88,#21a585,#23898e,#228c8d,#1f9a8a,#1f958b,#228c8d,#2c738e,#2c728e,#2e6f8e,#3c508b,#32658e,#2a768e,#297b8e,#25838e,#20928c,#25848e,#1f978b,#25ac82,#1fa287,#1e9b8a,#1f958b,#1e9b8a,#20938c,#1f958b,#228d8d,#1e9d89,#22a884,#29af7f,#32b67a,#32b67a,#32b67a,#1fa088,#218f8d,#1f948c,#26828e,#287d8e,#297a8e,#2a788e,#25848e,#2a788e,#2a778e,#2a778e,#26828e,#2b748e,#29798e,#228b8d,#1e9d89,#20928c,#1e9c89,#1fa088,#228b8d,#26818e,#21918c,#26828e,#297b8e,#25858e,#20938c,#1f998a,#20938c,#26ad81,#1e9d89,#1fa088,#228b8d,#1e9c89,#25ab82)"></div>
<div style="left:827.4px;top:1391.9px;width:62.8px;height:19.3px;background:linear-gradient(90deg,#25ab82,#1f968b,#1e9b8a,#277e8e,#1f998a,#20a486,#1e9b8a,#20a386,#22a884,#1f958b,#25ab82,#1f968b,#22a785,#1fa188,#21908d,#20938c,#297b8e,#414287,#31678e,#1f998a,#24868e,#1f958b)"></div>
<div style="left:134.0px;top:1411.2px;width:130.5px;height:19.3px;background:linear-gradient(90deg,#1f948c,#228d8d,#24868e,#23888e,#2c738e,#2c738e,#277f8e,#24878e,#26818e,#218f8d,#1e9c89,#22a785,#22a785,#20928c,#22a884,#25ac82,#1f978b,#20a386,#21908d,#238a8d,#2a788e,#1f948c,#22a884,#218e8d,#29798e,#29798e,#277f8e,#24878e,#218f8d,#20a486,#1e9d89,#1fa188,#1e9d89,#1f968b,#25858e,#1e9b8a,#228d8d,#20a486,#1f958b,#20938c,#218e8d,#297b8e,#23888e,#2c738e,#29798e)"></div>
<div style="left:302.5px;top:1411.2px;width:396.6px;height:19.3px;background:linear-gradient(90deg,#25838e,#21908d,#218e8d,#1fa188,#1e9c89,#218e8d,#1e9b8a,#228d8d,#1f9e89,#23898e,#1f978b,#218f8d,#1e9d89,#218f8d,#2b758e,#306a8e,#31668e,#3c4f8a,#3c508b,#2c738e,#38588c,#39558c,#3c508b,#39558c,#2c718e,#25848e,#20928c,#1fa088,#1f9f88,#25ac82,#1e9b8a,#1f968b,#228d8d,#23888e,#1f958b,#218e8d,#1f968b,#1f988b,#1f968b,#2ab07f,#24aa83,#25ac82,#42be71,#56c667,#42be71,#20a386,#21a685,#1f958b,#238a8d,#228c8d,#20938c,#20938c,#24878e,#23888e,#2e6f8e,#2b758e,#20938c,#20a486,#1f9e89,#23a983,#2db27d,#2db27d,#27ad81,#1fa188,#1f958b,#218f8d,#297b8e,#27808e,#24878e,#228d8d,#228b8d,#1e9c89,#24868e,#25838e,#26828e,#2b758e,#2d708e,#29798e,#228d8d,#1f998a,#25ac82,#26818e,#287d8e,#25838e,#2b758e,#2d708e,#2c718e,#2d718e,#31668e,#2f6c8e,#30698e,#23898e,#1f978b,#1f9f88,#20938c,#228d8d,#1fa088,#21918c,#21918c,#1fa287,#1f968b,#1f968b,#22a785,#20a386,#32b67a,#50c46a,#2fb47c,#21a585,#20a386,#1f9f88,#20938c,#23898e,#24868e,#218f8d,#23888e,#26828e,#1f9a8a,#21918c,#218e8d,#26828e,#20928c,#277e8e,#238a8d,#1f9e89,#218f8d,#218f8d,#1f988b,#1f958b,#1fa187,#1fa287,#1f948c,#228b8d,#297b8e,#2c728e,#306a8e,#25848e)"></div>
<div style="left:827.4px;top:1411.2px;width:62.8px;height:19.3px;background:linear-gradient(90deg,#2e6f8e,#30698e,#2e6e8e,#277f8e,#1f9e89,#228b8d,#218e8d,#25838e,#1f998a,#26828e,#1e9c89,#1fa187,#25838e,#277e8e,#238a8d,#23898e,#24878e,#1f988b,#20928c,#1f968b,#1f998a,#1fa188)"></div>
<div style="left:134.0px;top:1430.4px;width:130.5px;height:19.3px;background:linear-gradient(90deg,#2e6d8e,#297a8e,#30698e,#1f988b,#25848e,#228b8d,#297b8e,#26828e,#25858e,#228c8d,#228c8d,#23a983,#5ac864,#22a884,#1f948c,#2c738e,#277e8e,#24868e,#21918c,#25ac82,#20a486,#24aa83,#52c569,#35b779,#29af7f,#1fa188,#1f9a8a,#218f8d,#218e8d,#228d8d,#26818e,#25858e,#20928c,#1f998a,#1fa287,#1f9f88,#238a8d,#277e8e,#2e6f8e,#2e6d8e,#29798e,#287c8e,#33628d,#287d8e,#2a778e)"></div>
<div style="left:302.5px;top:1430.4px;width:396.6px;height:19.3px;background:linear-gradient(90deg,#21918c,#238a8d,#20928c,#20928c,#228b8d,#1f9a8a,#20a486,#29af7f,#1e9c89,#1f958b,#21908d,#21918c,#1f948c,#228b8d,#1fa287,#21a685,#37b878,#21a685,#1f988b,#1f968b,#228d8d,#1fa088,#1f9f88,#2cb17e,#46c06f,#37b878,#35b779,#2fb47c,#35b779,#1fa188,#2eb37c,#1f948c,#228d8d,#1f968b,#29798e,#277e8e,#297b8e,#2c718e,#2f6c8e,#2c728e,#2e6f8e,#297a8e,#2f6b8e,#2f6b8e,#2e6d8e,#32648e,#277f8e,#32658e,#2f6c8e,#287c8e,#23888e,#2d708e,#26818e,#29798e,#277e8e,#24868e,#24868e,#1f988b,#1f978b,#22a785,#32b67a,#29af7f,#28ae80,#22a785,#1fa187,#20a386,#20928c,#1f9e89,#1f9e89,#37b878,#20a486,#28ae80,#27ad81,#21a585,#1fa188,#1fa188,#25ab82,#46c06f,#4ac16d,#44bf70,#3bbb75,#2db27d,#34b679,#29af7f,#218f8d,#21908d,#228d8d,#20938c,#21908d,#21a585,#24aa83,#1f988b,#24878e,#1fa188,#277f8e,#1f988b,#20928c,#1fa088,#1f9e89,#1f9f88,#21a585,#24878e,#26828e,#27808e,#287c8e,#1f958b,#26828e,#29798e,#26818e,#2f6c8e,#24868e,#2b748e,#20928c,#20928c,#1f968b,#228d8d,#1fa187,#24868e,#20928c,#2e6d8e,#2b758e,#1e9c89,#1e9b8a,#26ad81,#21a685,#23a983,#24aa83,#1e9b8a,#1f9f88,#20a486,#1f958b,#1e9b8a,#20a486,#21a685,#1f9f88,#27ad81)"></div>
<div style="left:827.4px;top:1430.4px;width:62.8px;height:19.3px;background:linear-gradient(90deg,#21908d,#1f978b,#238a8d,#1e9c89,#1e9c89,#28ae80,#1e9d89,#1f9a8a,#1f978b,#1f978b,#1f958b,#20928c,#228d8d,#238a8d,#228b8d,#277e8e,#277f8e,#25838e,#218f8d,#297b8e,#2e6e8e,#297a8e)"></div>
<div style="left:134.0px;top:1449.7px;width:130.5px;height:19.3px;background:linear-gradient(90deg,#218f8d,#20938c,#238a8d,#2a788e,#27808e,#30698e,#2a778e,#27808e,#1f978b,#218e8d,#21908d,#1f978b,#1f9a8a,#1f9a8a,#1fa287,#21a585,#3aba76,#25ac82,#20a486,#1e9c89,#21918c,#24878e,#21a685,#1f978b,#1f998a,#1e9c89,#238a8d,#228d8d,#20938c,#228c8d,#25848e,#20938c,#2c738e,#25858e,#297a8e,#20928c,#1f998a,#21a585,#2db27d,#20a386,#2eb37c,#2ab07f,#25858e,#365c8d,#2d708e)"></div>
<div style="left:302.5px;top:1449.7px;width:396.6px;height:19.3px;background:linear-gradient(90deg,#21908d,#1e9b8a,#1f998a,#21918c,#287d8e,#26828e,#20928c,#25838e,#1f948c,#27808e,#228b8d,#1f968b,#1fa188,#20938c,#1f958b,#21918c,#1f948c,#287d8e,#20938c,#20938c,#1f948c,#26818e,#21918c,#228b8d,#2c728e,#23898e,#23888e,#23888e,#1e9b8a,#1f9f88,#22a884,#20a386,#31b57b,#3bbb75,#44bf70,#3fbc73,#23a983,#20a486,#2ab07f,#22a785,#1fa187,#218e8d,#20928c,#228b8d,#228d8d,#228b8d,#21918c,#218e8d,#26818e,#25838e,#20928c,#23888e,#1f9f88,#25ab82,#218f8d,#1e9d89,#287c8e,#1f988b,#26828e,#2a778e,#2e6d8e,#306a8e,#32648e,#2d718e,#2f6c8e,#365c8d,#34618d,#31678e,#25858e,#1f958b,#1f9e89,#20928c,#26828e,#21908d,#1f998a,#25858e,#228b8d,#1f9e89,#21908d,#21908d,#228d8d,#228b8d,#26828e,#1f9f88,#24868e,#1f958b,#238a8d,#23888e,#27808e,#25838e,#2c738e,#2e6d8e,#2f6b8e,#2a788e,#297b8e,#238a8d,#20928c,#20a486,#2fb47c,#228b8d,#20928c,#228c8d,#25848e,#306a8e,#27808e,#26828e,#2a768e,#25858e,#22a785,#26ad81,#22a785,#1f9a8a,#1e9c89,#21a685,#1fa188,#228c8d,#1f968b,#1f968b,#25838e,#228c8d,#228c8d,#25838e,#218e8d,#25838e,#26828e,#228b8d,#25838e,#25838e,#26828e,#27808e,#2d718e,#25838e,#27808e,#2c718e,#2a778e,#228c8d)"></div>
<div style="left:827.4px;top:1449.7px;width:62.8px;height:19.3px;background:linear-gradient(90deg,#1e9b8a,#1f9a8a,#22a884,#23a983,#25848e,#1f988b,#228b8d,#23898e,#20928c,#25858e,#21a585,#1fa188,#25ab82,#1f9f88,#21a585,#1f9f88,#1fa188,#20928c,#20938c,#27808e,#1f978b,#25858e)"></div>
<div style="left:134.0px;top:1469.0px;width:130.5px;height:19.3px;background:linear-gradient(90deg,#38b977,#22a785,#23898e,#25848e,#23888e,#20938c,#21918c,#1f9f88,#2d718e,#3f4788,#287c8e,#1e9b8a,#1f9e89,#28ae80,#20a386,#1f988b,#21918c,#228c8d,#24868e,#238a8d,#2f6b8e,#26818e,#2a778e,#23888e,#228b8d,#228b8d,#25838e,#297a8e,#21908d,#25838e,#24868e,#23898e,#26828e,#297b8e,#27808e,#24878e,#228d8d,#25ac82,#2cb17e,#22a785,#21a685,#1fa088,#218f8d,#228c8d,#1f988b)"></div>
<div style="left:302.5px;top:1469.0px;width:396.6px;height:19.3px;background:linear-gradient(90deg,#2a788e,#2d718e,#1f998a,#24868e,#24878e,#24878e,#238a8d,#1e9b8a,#29af7f,#3dbc74,#3fbc73,#25ab82,#1fa287,#238a8d,#23888e,#25838e,#21908d,#25ab82,#228d8d,#1e9b8a,#37b878,#2db27d,#1fa088,#1fa287,#22a884,#26828e,#25848e,#25858e,#26828e,#287d8e,#2a778e,#20928c,#1e9c89,#1f9a8a,#228d8d,#1f9e89,#25848e,#2b758e,#228b8d,#26828e,#25858e,#218e8d,#1e9c89,#35b779,#35b779,#22a785,#1fa088,#24aa83,#1fa287,#1fa287,#20938c,#228d8d,#218e8d,#20938c,#20938c,#20928c,#218f8d,#20928c,#228d8d,#277f8e,#2d718e,#2b748e,#287d8e,#21908d,#1e9d89,#1f988b,#26828e,#20928c,#1fa287,#24aa83,#38b977,#27ad81,#2fb47c,#31b57b,#3bbb75,#2fb47c,#2cb17e,#238a8d,#1fa187,#218f8d,#2a788e,#27808e,#24868e,#25838e,#21908d,#26828e,#1fa287,#25848e,#23898e,#287c8e,#25838e,#1fa188,#1fa187,#22a884,#37b878,#31b57b,#23a983,#1fa188,#20928c,#228c8d,#218f8d,#228c8d,#1f958b,#228c8d,#22a884,#1f9a8a,#22a884,#23a983,#20928c,#1f9f88,#277f8e,#25848e,#25848e,#24878e,#218f8d,#21918c,#21908d,#1f988b,#1f9e89,#1fa188,#1f998a,#21908d,#297b8e,#25838e,#31688e,#355e8d,#2e6e8e,#2a768e,#27808e,#1f978b,#1f958b,#29af7f,#2eb37c,#1fa187,#1f9a8a,#1f978b)"></div>
<div style="left:827.4px;top:1469.0px;width:62.8px;height:19.3px;background:linear-gradient(90deg,#218f8d,#1e9c89,#1e9c89,#228b8d,#20928c,#1f968b,#277f8e,#23898e,#287c8e,#277f8e,#2b758e,#287c8e,#238a8d,#297b8e,#23888e,#20928c,#228c8d,#1e9c89,#1f998a,#1f968b,#26828e,#238a8d)"></div>
<div style="left:134.0px;top:1488.3px;width:130.5px;height:19.3px;background:linear-gradient(90deg,#21908d,#25848e,#24868e,#24878e,#23898e,#1fa188,#25ac82,#25ac82,#1e9d89,#1e9c89,#1f988b,#1e9d89,#1f968b,#20928c,#24868e,#2c728e,#2d708e,#287c8e,#2a768e,#2d718e,#306a8e,#287c8e,#24878e,#218f8d,#1fa188,#1f9e89,#228d8d,#1f958b,#228b8d,#1fa088,#1fa187,#25ac82,#1fa088,#228d8d,#26828e,#27808e,#26828e,#23888e,#228b8d,#1f988b,#20928c,#21a685,#23a983,#20a386,#22a884)"></div>
<div style="left:302.5px;top:1488.3px;width:396.6px;height:19.3px;background:linear-gradient(90deg,#23898e,#24878e,#228d8d,#218e8d,#228b8d,#1f988b,#1fa287,#21908d,#1fa188,#21908d,#21908d,#20a486,#20938c,#21918c,#218f8d,#20938c,#218e8d,#25ab82,#1f998a,#21908d,#228b8d,#29798e,#277f8e,#33628d,#2d708e,#26828e,#25848e,#1f958b,#27808e,#25838e,#228d8d,#25848e,#24868e,#1f958b,#1fa088,#26818e,#25858e,#228d8d,#23898e,#27808e,#27808e,#25858e,#26828e,#29798e,#2a768e,#2e6e8e,#26828e,#2e6f8e,#228b8d,#25858e,#228c8d,#2a778e,#2e6f8e,#287c8e,#24878e,#2e6f8e,#24878e,#26828e,#2f6c8e,#26818e,#2c728e,#26828e,#218f8d,#24868e,#26828e,#1e9b8a,#1f968b,#1fa287,#1f988b,#218e8d,#25848e,#25858e,#27808e,#218e8d,#1fa088,#27808e,#287d8e,#2b758e,#23898e,#20a486,#23898e,#20928c,#218e8d,#1f988b,#228c8d,#24868e,#228b8d,#25848e,#1f988b,#1fa287,#26ad81,#1f978b,#25858e,#21918c,#238a8d,#24878e,#2a788e,#26818e,#20928c,#21918c,#1f998a,#24878e,#21918c,#20938c,#24868e,#228b8d,#1f948c,#23888e,#25858e,#20928c,#297b8e,#29798e,#23898e,#29798e,#2e6d8e,#297a8e,#2c738e,#25858e,#1f958b,#20a486,#20a486,#2ab07f,#2ab07f,#32b67a,#1f958b,#1f9a8a,#218f8d,#1fa287,#23a983,#27ad81,#1fa287,#1fa187,#228b8d,#21918c,#1f9a8a,#24878e)"></div>
<div style="left:827.4px;top:1488.3px;width:62.8px;height:19.3px;background:linear-gradient(90deg,#1fa188,#1f958b,#1fa188,#1f998a,#218e8d,#21918c,#24868e,#26828e,#277e8e,#277f8e,#1f978b,#1f948c,#1f9a8a,#1fa187,#26ad81,#24aa83,#20a386,#1f9a8a,#1f958b,#21908d,#25848e,#277f8e)"></div>
<div style="left:134.0px;top:1507.6px;width:130.5px;height:8.4px;background:linear-gradient(90deg,#28ae80,#22a785,#1e9d89,#22a785,#25ab82,#2db27d,#2db27d,#2cb17e,#20a386,#21a685,#25ac82,#1e9d89,#22a785,#20a486,#21918c,#1f978b,#1e9c89,#1f9f88,#1f998a,#1fa287,#20938c,#228d8d,#228b8d,#20928c,#1f958b,#20938c,#1fa188,#1f988b,#24868e,#228c8d,#26818e,#2a788e,#21918c,#1f958b,#1f948c,#218e8d,#238a8d,#23898e,#297a8e,#2a778e,#2b748e,#25848e,#24878e,#1f978b,#2ab07f)"></div>
<div style="left:302.5px;top:1507.6px;width:396.6px;height:8.4px;background:linear-gradient(90deg,#26818e,#2a788e,#23898e,#26828e,#23888e,#1f978b,#1f978b,#1f988b,#25848e,#297b8e,#26828e,#1fa188,#1f9e89,#1f948c,#20938c,#287d8e,#25858e,#238a8d,#1e9c89,#1fa187,#1f998a,#1f948c,#1f958b,#26828e,#2c718e,#26828e,#2a778e,#29798e,#23888e,#238a8d,#1f948c,#277e8e,#26828e,#1f948c,#22a884,#1e9b8a,#1fa187,#31b57b,#44bf70,#22a785,#1fa188,#1f9f88,#20938c,#26ad81,#1fa287,#1f9a8a,#20a486,#35b779,#20a486,#21a585,#22a785,#1f958b,#25838e,#228d8d,#1f948c,#228c8d,#218e8d,#26828e,#24868e,#228d8d,#297a8e,#2fb47c,#1f9f88,#1e9d89,#1f9e89,#1fa187,#1fa088,#1fa287,#1f978b,#20928c,#25858e,#287c8e,#277e8e,#2d718e,#21908d,#24868e,#27808e,#24878e,#1e9b8a,#228c8d,#1f948c,#20928c,#1f948c,#277f8e,#29798e,#30698e,#2a768e,#2a778e,#228c8d,#228c8d,#22a884,#20a486,#1fa287,#1e9b8a,#218e8d,#20938c,#277f8e,#1f988b,#21908d,#238a8d,#277f8e,#1f9a8a,#23898e,#228b8d,#1fa187,#1e9c89,#238a8d,#1f978b,#25858e,#1e9b8a,#277f8e,#26828e,#1f978b,#1fa188,#1f948c,#27ad81,#2fb47c,#25ab82,#1e9b8a,#20928c,#297a8e,#26828e,#26828e,#27808e,#29798e,#24868e,#218f8d,#1f978b,#32b67a,#1f998a,#27808e,#306a8e,#38598c,#38598c,#2c728e,#2d718e)"></div>
<div style="left:827.4px;top:1507.6px;width:62.8px;height:8.4px;background:linear-gradient(90deg,#228d8d,#228c8d,#1f978b,#21908d,#2ab07f,#1e9b8a,#28ae80,#1fa088,#1f9a8a,#1f9e89,#23888e,#1f9a8a,#1e9b8a,#1fa287,#1f998a,#20a486,#238a8d,#26828e,#25838e,#2c738e,#29798e,#26828e)"></div>
<div style="left:1048.2px;top:455.0px;width:779.6px;height:1061.0px;background:#21918c"></div>
<div style="left:1048.2px;top:455.0px;width:131.8px;height:10.2px;background:linear-gradient(90deg,#277e8e,#30698e,#2c738e,#1f988b,#1f978b,#2ab07f,#38b977,#60ca60,#3bbb75,#3bbb75,#1fa188,#38b977,#24aa83,#21908d,#218f8d,#228d8d,#228b8d,#228c8d,#1f958b,#1f948c,#2eb37c,#35b779,#1e9b8a,#38b977,#73d056,#5ec962,#56c667,#69cd5b,#44bf70,#20a486,#1e9c89,#21908d,#238a8d,#2d718e,#228c8d,#2c738e,#1f978b,#2b758e,#24868e,#1f9e89,#24aa83,#20938c,#1e9b8a,#21908d,#21a685)"></div>
<div style="left:1218.0px;top:455.0px;width:392.7px;height:10.2px;background:linear-gradient(90deg,#1e9c89,#20a386,#22a884,#40bd72,#50c46a,#77d153,#67cc5c,#40bd72,#4ec36b,#35b779,#40bd72,#3fbc73,#26ad81,#25ab82,#2ab07f,#40bd72,#1fa187,#1f958b,#287d8e,#287c8e,#365d8d,#355f8d,#375a8c,#26828e,#26818e,#228c8d,#1f948c,#1f968b,#20938c,#20938c,#277e8e,#2e6f8e,#2d708e,#2e6d8e,#297a8e,#287d8e,#2c728e,#228c8d,#25858e,#24868e,#25838e,#1e9d89,#20a386,#1f998a,#1f968b,#21908d,#20a486,#218f8d,#20928c,#1f948c,#1f988b,#1e9d89,#29af7f,#21a585,#1fa188,#23888e,#1f998a,#24868e,#1f9e89,#1f988b,#1fa287,#21908d,#1f978b,#26828e,#26818e,#2f6c8e,#2a768e,#29798e,#2d718e,#26828e,#20928c,#277f8e,#25838e,#1f9f88,#1fa188,#1f9e89,#2cb17e,#25ab82,#1f958b,#20a386,#25ac82,#1fa188,#1f958b,#277f8e,#2c728e,#25838e,#26828e,#1fa088,#24878e,#27ad81,#29af7f,#20a486,#26828e,#2c738e,#23888e,#25858e,#25848e,#287c8e,#23898e,#1f998a,#1e9c89,#31b57b,#3dbc74,#46c06f,#20a486,#26ad81,#218f8d,#27808e,#31678e,#355f8d,#32658e,#3a538b,#34618d,#306a8e,#2d718e,#2a768e,#1f998a,#20a486,#23a983,#20938c,#1f998a,#20928c,#218f8d,#228d8d,#26828e,#26828e,#277e8e,#218f8d,#2e6e8e,#21a585,#23898e,#2cb17e,#287d8e,#277e8e)"></div>
<div style="left:1742.0px;top:455.0px;width:60.8px;height:10.2px;background:linear-gradient(90deg,#24878e,#297a8e,#26828e,#297b8e,#1f968b,#277f8e,#21908d,#25848e,#287d8e,#2b758e,#26828e,#26828e,#27808e,#25838e,#26828e,#1e9d89,#21908d,#44bf70,#a0da39,#77d153,#3aba76)"></div>
<div style="left:1048.2px;top:465.2px;width:131.8px;height:17.1px;background:linear-gradient(90deg,#1e9b8a,#20928c,#228d8d,#228b8d,#20938c,#21a585,#1f978b,#2ab07f,#1f988b,#218f8d,#1f978b,#1f9a8a,#238a8d,#26828e,#1f9e89,#1f988b,#21918c,#25848e,#277f8e,#2a778e,#277e8e,#25858e,#29798e,#277e8e,#218f8d,#287d8e,#2c738e,#2f6c8e,#277e8e,#2c718e,#277e8e,#218f8d,#1fa188,#1e9b8a,#24878e,#20938c,#31b57b,#1f9e89,#42be71,#7ad151,#2fb47c,#67cc5c,#48c16e,#58c765,#40bd72)"></div>
<div style="left:1218.0px;top:465.2px;width:392.7px;height:17.1px;background:linear-gradient(90deg,#25838e,#2a788e,#1f958b,#27808e,#287c8e,#2d718e,#1f988b,#26828e,#25848e,#25ab82,#20928c,#2d708e,#26818e,#2a788e,#2f6c8e,#25838e,#20a386,#31b57b,#37b878,#22a785,#2fb47c,#21a585,#24868e,#1f948c,#228d8d,#1f988b,#24878e,#1f9e89,#23898e,#1f948c,#1f9e89,#42be71,#25ab82,#1f948c,#20928c,#1f978b,#218f8d,#21a585,#238a8d,#23898e,#277e8e,#26828e,#26828e,#24878e,#2c728e,#1f9a8a,#21908d,#20928c,#1f968b,#1fa287,#22a884,#22a785,#1f988b,#1f9e89,#306a8e,#2c738e,#287c8e,#2a788e,#2b758e,#2e6f8e,#287c8e,#228d8d,#25838e,#20928c,#277e8e,#23888e,#26818e,#20928c,#22a884,#20a486,#1e9b8a,#38b977,#1f968b,#1e9d89,#24aa83,#1f958b,#1fa088,#1f998a,#228b8d,#2a788e,#33638d,#38598c,#38598c,#2c728e,#287d8e,#2b758e,#2a788e,#23888e,#2a768e,#287c8e,#1fa088,#1e9b8a,#1fa287,#1f988b,#4ac16d,#3aba76,#5ec962,#56c667,#3fbc73,#46c06f,#67cc5c,#56c667,#2fb47c,#31b57b,#23a983,#23a983,#1f9a8a,#2db27d,#20a486,#25ab82,#1f9a8a,#228d8d,#20928c,#20938c,#24868e,#24868e,#2d718e,#2e6e8e,#287d8e,#29798e,#26828e,#218e8d,#2e6d8e,#1f968b,#2b748e,#228b8d,#228d8d,#1f968b,#23a983,#1f968b,#1f998a,#1e9c89,#23898e,#27808e)"></div>
<div style="left:1742.0px;top:465.2px;width:60.8px;height:17.1px;background:linear-gradient(90deg,#23a983,#31b57b,#26828e,#1f958b,#238a8d,#25838e,#238a8d,#228b8d,#25838e,#20938c,#1f968b,#1e9c89,#21918c,#21918c,#1f9e89,#1f968b,#228c8d,#24868e,#26828e,#20928c,#20938c)"></div>
<div style="left:1048.2px;top:482.3px;width:131.8px;height:17.1px;background:linear-gradient(90deg,#21918c,#306a8e,#2f6c8e,#306a8e,#277e8e,#1f998a,#277e8e,#1f9e89,#218f8d,#26828e,#287c8e,#21908d,#228d8d,#1f968b,#238a8d,#2b748e,#2c738e,#20928c,#228c8d,#1fa187,#1fa088,#1f9e89,#25838e,#1f9a8a,#297a8e,#2b748e,#2e6f8e,#443a83,#3a548c,#355e8d,#2e6f8e,#355e8d,#2c738e,#2e6d8e,#228c8d,#25848e,#297b8e,#23888e,#1f968b,#21918c,#1fa187,#24878e,#27808e,#218f8d,#26828e)"></div>
<div style="left:1218.0px;top:482.3px;width:392.7px;height:17.1px;background:linear-gradient(90deg,#21908d,#27808e,#24868e,#2a788e,#277e8e,#375a8c,#287d8e,#297a8e,#2e6d8e,#277f8e,#20a486,#20928c,#218f8d,#26828e,#27808e,#365c8d,#2b758e,#2e6e8e,#297a8e,#297b8e,#2a788e,#1f948c,#1f9a8a,#1f948c,#32b67a,#1f9a8a,#1fa287,#3aba76,#3dbc74,#20938c,#218e8d,#26828e,#31678e,#32658e,#414487,#39568c,#297b8e,#25858e,#1e9c89,#20a386,#218e8d,#20a486,#26ad81,#1f9f88,#25ac82,#1fa187,#21908d,#21a585,#1e9c89,#22a884,#2db27d,#1fa287,#1f9e89,#20928c,#2d708e,#228c8d,#2b758e,#2b758e,#30698e,#24868e,#277e8e,#1f968b,#228b8d,#1f9a8a,#1e9d89,#4cc26c,#3aba76,#42be71,#1fa287,#1e9d89,#25ab82,#1f958b,#228c8d,#2a788e,#287c8e,#287c8e,#218e8d,#228b8d,#1f998a,#2e6d8e,#1f948c,#228c8d,#365c8d,#25848e,#27808e,#287d8e,#23898e,#1f998a,#60ca60,#8bd646,#56c667,#1fa187,#25858e,#277f8e,#31668e,#27808e,#23888e,#20928c,#21918c,#27808e,#29798e,#277e8e,#25848e,#2e6f8e,#228d8d,#26828e,#1fa088,#20928c,#1fa188,#20938c,#1fa188,#1fa188,#1f9a8a,#1f948c,#21918c,#228d8d,#277f8e,#24878e,#25858e,#1f958b,#2c738e,#26818e,#26828e,#23898e,#24878e,#238a8d,#20928c,#20928c,#21918c,#1f958b,#21918c,#218e8d,#21a685,#2db27d)"></div>
<div style="left:1742.0px;top:482.3px;width:60.8px;height:17.1px;background:linear-gradient(90deg,#2e6f8e,#297b8e,#2c738e,#23888e,#20a386,#21a685,#28ae80,#22a884,#1fa088,#25ac82,#20a386,#21a685,#22a884,#228c8d,#24878e,#23888e,#23898e,#2a768e,#38588c,#31668e,#2b748e)"></div>
<div style="left:1048.2px;top:499.4px;width:131.8px;height:17.1px;background:linear-gradient(90deg,#1fa287,#1e9d89,#1fa187,#22a884,#28ae80,#238a8d,#1e9b8a,#22a785,#2a778e,#218e8d,#20938c,#1e9b8a,#26828e,#2a778e,#21908d,#21908d,#20938c,#2eb37c,#1f9e89,#31b57b,#38b977,#48c16e,#23a983,#27ad81,#22a884,#26ad81,#25838e,#21908d,#228c8d,#1f9e89,#2fb47c,#4cc26c,#50c46a,#25ab82,#1fa287,#23a983,#21a685,#20928c,#1e9c89,#1f978b,#1f988b,#1e9d89,#238a8d,#1f958b,#23898e)"></div>
<div style="left:1218.0px;top:499.4px;width:392.7px;height:17.1px;background:linear-gradient(90deg,#3bbb75,#20a386,#25ab82,#1f9a8a,#1f998a,#1fa287,#228b8d,#20938c,#23888e,#1e9d89,#1e9c89,#2ab07f,#2cb17e,#26ad81,#2cb17e,#20928c,#297a8e,#1f9e89,#1f968b,#1f968b,#20938c,#20a386,#1f988b,#228c8d,#2ab07f,#25ab82,#24878e,#20928c,#1fa187,#1fa287,#1f958b,#2fb47c,#21a685,#21918c,#24878e,#2a778e,#31688e,#2c728e,#3e4a89,#33638d,#32648e,#2e6e8e,#287c8e,#277e8e,#21918c,#1f968b,#22a785,#1fa088,#1fa287,#1e9c89,#238a8d,#228c8d,#238a8d,#21918c,#25838e,#228b8d,#25858e,#20928c,#1e9b8a,#1f948c,#21908d,#1f988b,#1f948c,#1f988b,#218e8d,#2b748e,#277f8e,#1f968b,#1f988b,#21a585,#3aba76,#34b679,#3fbc73,#24aa83,#31b57b,#1fa088,#24aa83,#21a585,#1fa088,#21918c,#24868e,#2a768e,#25848e,#26828e,#2e6e8e,#23888e,#297b8e,#1f948c,#25ac82,#218f8d,#46c06f,#2cb17e,#20a386,#26ad81,#218f8d,#1f998a,#27808e,#29798e,#29798e,#277f8e,#31688e,#33638d,#2b758e,#2a768e,#20928c,#228d8d,#23a983,#31b57b,#2fb47c,#28ae80,#28ae80,#1fa088,#1f998a,#20a386,#20928c,#1f9a8a,#29af7f,#67cc5c,#42be71,#29af7f,#22a785,#1fa287,#1e9b8a,#1fa188,#28ae80,#1f9a8a,#2db27d,#21a585,#21908d,#1f948c,#218f8d,#29798e,#365d8d,#2a768e)"></div>
<div style="left:1742.0px;top:499.4px;width:60.8px;height:17.1px;background:linear-gradient(90deg,#34b679,#40bd72,#1f978b,#1e9b8a,#1f958b,#228b8d,#20928c,#1e9c89,#20928c,#2eb37c,#2cb17e,#20a486,#1f948c,#24aa83,#277e8e,#297b8e,#26818e,#287d8e,#1f9a8a,#28ae80,#42be71)"></div>
<div style="left:1048.2px;top:516.5px;width:131.8px;height:17.1px;background:linear-gradient(90deg,#3c508b,#46327e,#414287,#414287,#482576,#453581,#424186,#3f4788,#2c728e,#25838e,#24868e,#2e6f8e,#2a788e,#25838e,#2b748e,#3d4e8a,#25848e,#24868e,#238a8d,#1f998a,#1f968b,#1e9d89,#2db27d,#56c667,#1f9e89,#26818e,#3e4989,#3b518b,#3b528b,#365d8d,#365d8d,#2f6c8e,#33638d,#25858e,#277f8e,#21a685,#1f9f88,#287d8e,#24878e,#2d708e,#32658e,#26818e,#2e6d8e,#25848e,#238a8d)"></div>
<div style="left:1218.0px;top:516.5px;width:392.7px;height:17.1px;background:linear-gradient(90deg,#238a8d,#20938c,#1f988b,#1f958b,#23888e,#2a778e,#277f8e,#2e6f8e,#2b758e,#26828e,#228d8d,#1fa188,#25ab82,#a8db34,#eae51a,#77d153,#1f978b,#20928c,#277e8e,#287d8e,#31668e,#2d708e,#2c738e,#1f978b,#1fa188,#1f958b,#1f968b,#287c8e,#365d8d,#2e6d8e,#2e6d8e,#2a788e,#2a788e,#297a8e,#2b748e,#23888e,#26828e,#26818e,#277f8e,#26828e,#1f9e89,#27ad81,#3dbc74,#42be71,#5ac864,#2db27d,#1f958b,#3a548c,#470d60,#443b84,#30698e,#2a788e,#30698e,#25838e,#31688e,#228c8d,#287c8e,#25858e,#1f968b,#26ad81,#21908d,#1f998a,#23a983,#2fb47c,#24aa83,#20938c,#21a585,#1fa287,#1f948c,#26828e,#20938c,#1f9e89,#22a785,#23a983,#218f8d,#228d8d,#26818e,#228d8d,#218f8d,#20928c,#1f958b,#1f968b,#25858e,#20928c,#24878e,#238a8d,#24878e,#287c8e,#2f6c8e,#25858e,#1f988b,#25838e,#277e8e,#24868e,#26818e,#277f8e,#23898e,#2b758e,#287c8e,#238a8d,#287d8e,#228d8d,#2a768e,#31678e,#2e6d8e,#33628d,#2b758e,#1f988b,#21a685,#25ab82,#29af7f,#5ac864,#20a386,#1fa187,#21a685,#20928c,#218e8d,#29798e,#297b8e,#277e8e,#32658e,#365d8d,#34608d,#31678e,#2c718e,#375a8c,#3a548c,#31678e,#26828e,#24868e,#228d8d,#2a778e,#23898e,#2d718e)"></div>
<div style="left:1742.0px;top:516.5px;width:60.8px;height:17.1px;background:linear-gradient(90deg,#2e6f8e,#2e6d8e,#30698e,#2f6c8e,#39568c,#3d4e8a,#2e6d8e,#27808e,#21908d,#24878e,#218e8d,#29798e,#23888e,#1f958b,#23888e,#1f9e89,#1f9e89,#1f958b,#1e9c89,#218e8d,#1e9d89)"></div>
<div style="left:1048.2px;top:533.6px;width:131.8px;height:17.1px;background:linear-gradient(90deg,#3aba76,#44bf70,#29af7f,#2db27d,#25ab82,#2eb37c,#23a983,#1fa188,#20938c,#25848e,#1f988b,#1e9c89,#218f8d,#1f988b,#1f9a8a,#24868e,#287c8e,#26818e,#228c8d,#20928c,#26ad81,#2db27d,#3aba76,#86d549,#38b977,#24aa83,#21a585,#23a983,#38b977,#28ae80,#28ae80,#1f9a8a,#228b8d,#25858e,#238a8d,#218e8d,#218f8d,#24868e,#20928c,#218f8d,#22a785,#1e9d89,#1fa088,#218f8d,#287c8e)"></div>
<div style="left:1218.0px;top:533.6px;width:392.7px;height:17.1px;background:linear-gradient(90deg,#228d8d,#22a785,#1f988b,#1f978b,#26828e,#1f978b,#1f948c,#228c8d,#20938c,#27808e,#31688e,#26818e,#20928c,#2f6c8e,#2e6d8e,#31668e,#2f6c8e,#2f6c8e,#32658e,#2e6d8e,#2d708e,#297b8e,#23898e,#287c8e,#25848e,#2e6f8e,#27808e,#33638d,#30698e,#277e8e,#29af7f,#c5e021,#3fbc73,#2fb47c,#35b779,#38b977,#2ab07f,#1fa188,#1fa188,#5ac864,#4cc26c,#1f968b,#23a983,#22a785,#32b67a,#34b679,#2ab07f,#3aba76,#20a386,#22a884,#28ae80,#26ad81,#297b8e,#218e8d,#228b8d,#1f948c,#20a386,#21918c,#26828e,#228b8d,#2b758e,#228b8d,#2e6f8e,#2c728e,#2c738e,#277f8e,#277f8e,#32658e,#433e85,#30698e,#20938c,#1f9f88,#24878e,#297a8e,#2b748e,#2a768e,#2e6d8e,#277e8e,#1f958b,#2c718e,#21918c,#228d8d,#27808e,#238a8d,#1f9e89,#1fa088,#38b977,#2fb47c,#1f968b,#37b878,#20a386,#27ad81,#1f968b,#34b679,#27ad81,#28ae80,#22a884,#1f958b,#2a768e,#2c728e,#26828e,#355f8d,#2f6c8e,#2f6b8e,#287d8e,#29798e,#27808e,#297a8e,#29af7f,#1fa287,#1f948c,#1f968b,#228b8d,#25848e,#1e9c89,#1f958b,#23898e,#1f948c,#1f948c,#1f998a,#20928c,#21a685,#1e9d89,#37b878,#3dbc74,#3aba76,#2eb37c,#27ad81,#21a685,#32b67a,#22a785,#1fa088,#218e8d,#1f9a8a)"></div>
<div style="left:1742.0px;top:533.6px;width:60.8px;height:17.1px;background:linear-gradient(90deg,#25848e,#24868e,#27808e,#25848e,#24878e,#3fbc73,#63cb5f,#54c568,#25ac82,#1f988b,#228d8d,#1f958b,#23898e,#21908d,#1f968b,#228b8d,#1f998a,#24868e,#277f8e,#355f8d,#26818e)"></div>
<div style="left:1048.2px;top:550.7px;width:131.8px;height:17.1px;background:linear-gradient(90deg,#218e8d,#1f998a,#228b8d,#20928c,#21a685,#2e6d8e,#25838e,#26828e,#21918c,#20938c,#21918c,#1f988b,#1f998a,#26828e,#25838e,#32658e,#2e6e8e,#33628d,#38598c,#32658e,#2b748e,#2b758e,#1fa287,#20938c,#3bbb75,#89d548,#4ec36b,#44bf70,#42be71,#1e9c89,#27808e,#26828e,#24878e,#287d8e,#277e8e,#26828e,#218e8d,#27808e,#228d8d,#32658e,#34608d,#34618d,#38588c,#3e4989,#297b8e)"></div>
<div style="left:1218.0px;top:550.7px;width:392.7px;height:17.1px;background:linear-gradient(90deg,#23888e,#2b758e,#23898e,#2e6e8e,#24878e,#1f968b,#1f9a8a,#25ab82,#3aba76,#1f9f88,#218e8d,#23888e,#24878e,#2a788e,#26818e,#27808e,#33628d,#2a778e,#306a8e,#2c718e,#2a768e,#25848e,#1f978b,#20938c,#22a785,#218f8d,#25838e,#2b758e,#2c738e,#2c728e,#25858e,#2a788e,#25848e,#2b758e,#24878e,#26818e,#2b748e,#2d718e,#2f6b8e,#2b758e,#2e6d8e,#2e6e8e,#25838e,#1f978b,#25ac82,#1f9a8a,#1e9d89,#24878e,#1f978b,#1f9f88,#4cc26c,#69cd5b,#60ca60,#2fb47c,#2cb17e,#29af7f,#25ab82,#21a585,#23898e,#297b8e,#29798e,#30698e,#2b748e,#2c728e,#297a8e,#25838e,#297b8e,#2c738e,#30698e,#277e8e,#277e8e,#228b8d,#20928c,#23888e,#1f998a,#277f8e,#26828e,#2c718e,#3a538b,#38598c,#3b518b,#2b758e,#20928c,#2a768e,#26828e,#2e6e8e,#306a8e,#34608d,#3c508b,#25858e,#25848e,#1e9b8a,#1fa188,#2cb17e,#44bf70,#44bf70,#22a785,#1e9d89,#297a8e,#297b8e,#31678e,#218f8d,#24868e,#2a778e,#2d718e,#287c8e,#1fa088,#1f9a8a,#25ac82,#1f9a8a,#218e8d,#24868e,#1f948c,#238a8d,#23898e,#21a585,#277f8e,#1fa287,#1e9d89,#2db27d,#25838e,#23898e,#26818e,#27808e,#31688e,#238a8d,#24868e,#228d8d,#1f988b,#1f988b,#27808e,#218e8d,#1fa187,#1f978b)"></div>
<div style="left:1742.0px;top:550.7px;width:60.8px;height:17.1px;background:linear-gradient(90deg,#20a486,#29af7f,#34b679,#1e9c89,#1f9a8a,#1f968b,#1f9f88,#20928c,#26818e,#26828e,#32658e,#2f6c8e,#3a538b,#2c728e,#238a8d,#24868e,#287c8e,#1f968b,#1f988b,#25838e,#277f8e)"></div>
<div style="left:1048.2px;top:567.8px;width:131.8px;height:12.2px;background:linear-gradient(90deg,#277e8e,#20928c,#1e9b8a,#2cb17e,#42be71,#2eb37c,#23888e,#297a8e,#2f6b8e,#24878e,#287d8e,#25858e,#20938c,#1fa287,#25ab82,#1f998a,#1e9c89,#1e9c89,#1e9b8a,#25ac82,#1e9d89,#21a585,#218f8d,#40bd72,#1f9e89,#2db27d,#34b679,#1f968b,#24868e,#1f958b,#2a778e,#2a788e,#2e6f8e,#2b758e,#2f6c8e,#33628d,#2d718e,#297b8e,#21918c,#21a585,#1fa188,#1f998a,#1fa188,#25858e,#2e6f8e)"></div>
<div style="left:1218.0px;top:567.8px;width:392.7px;height:12.2px;background:linear-gradient(90deg,#1f9e89,#1fa187,#228b8d,#1e9d89,#228c8d,#238a8d,#1e9c89,#21918c,#23898e,#2c738e,#29798e,#1f948c,#2d718e,#228b8d,#297a8e,#1f948c,#23888e,#277e8e,#277e8e,#24878e,#26828e,#1f988b,#1fa088,#277e8e,#20a486,#22a785,#24aa83,#1f988b,#1e9c89,#238a8d,#23888e,#23898e,#228d8d,#22a884,#32b67a,#50c46a,#32b67a,#23a983,#1f988b,#27ad81,#1e9b8a,#228c8d,#20a486,#2c718e,#30698e,#32648e,#33638d,#228b8d,#26828e,#25858e,#24868e,#32658e,#2a768e,#297b8e,#1f998a,#25858e,#21918c,#1fa088,#2fb47c,#3fbc73,#7cd250,#90d743,#5cc863,#32b67a,#54c568,#1e9d89,#20928c,#1f958b,#20928c,#23898e,#287c8e,#21908d,#26828e,#228c8d,#1f9e89,#23888e,#277e8e,#23888e,#218f8d,#1f998a,#34b679,#2cb17e,#31b57b,#46c06f,#1e9d89,#29af7f,#24868e,#1f978b,#1f998a,#20938c,#1f9a8a,#20938c,#287c8e,#297b8e,#21a685,#2a778e,#24868e,#228c8d,#20938c,#1e9b8a,#24878e,#1f998a,#29af7f,#22a884,#1f978b,#1e9d89,#1e9b8a,#26818e,#20928c,#26818e,#1e9c89,#28ae80,#1f9a8a,#21908d,#1fa287,#27808e,#23898e,#277e8e,#1f9a8a,#20928c,#29af7f,#1fa188,#25838e,#21908d,#24878e,#1f9e89,#287d8e,#2e6e8e,#2a778e,#26828e,#25838e,#21918c,#27808e,#1f968b)"></div>
<div style="left:1742.0px;top:567.8px;width:60.8px;height:12.2px;background:linear-gradient(90deg,#2a768e,#2e6f8e,#24878e,#277e8e,#297b8e,#228c8d,#238a8d,#228d8d,#20928c,#25838e,#238a8d,#31668e,#297b8e,#1fa187,#25ab82,#1f9f88,#29af7f,#1fa287,#228b8d,#26828e,#26828e)"></div>
<div style="left:1048.2px;top:589.9px;width:131.8px;height:17.1px;background:linear-gradient(90deg,#1fa088,#20a386,#21918c,#1f958b,#24aa83,#20928c,#34b679,#2db27d,#20a386,#23898e,#20928c,#277f8e,#23888e,#20928c,#26818e,#218f8d,#1f988b,#1f9f88,#46c06f,#25ab82,#228b8d,#27808e,#2c718e,#25838e,#228d8d,#1e9b8a,#1fa188,#1fa187,#20a486,#23888e,#287d8e,#218e8d,#218e8d,#21918c,#1e9d89,#23a983,#1e9b8a,#1e9d89,#2fb47c,#20a486,#1fa088,#20938c,#29af7f,#1f988b,#20928c)"></div>
<div style="left:1218.0px;top:589.9px;width:392.7px;height:17.1px;background:linear-gradient(90deg,#27808e,#29798e,#228b8d,#25848e,#1fa088,#1f978b,#1e9b8a,#25ac82,#21908d,#24868e,#1f968b,#37b878,#21a585,#25ab82,#3bbb75,#4cc26c,#42be71,#34b679,#29af7f,#20928c,#23888e,#228b8d,#1fa187,#1fa188,#3aba76,#46c06f,#21a685,#238a8d,#218e8d,#26828e,#27808e,#228b8d,#21908d,#1f9f88,#1fa187,#25ab82,#1fa188,#25848e,#277e8e,#287d8e,#31678e,#2c718e,#33638d,#26828e,#2b748e,#218e8d,#1f958b,#228c8d,#1f978b,#21918c,#25858e,#1f978b,#1f968b,#1f9f88,#25ac82,#22a785,#1e9d89,#22a785,#46c06f,#4ac16d,#3dbc74,#1e9d89,#25838e,#21918c,#1f998a,#218e8d,#26828e,#1fa187,#1e9d89,#20928c,#1f978b,#2a788e,#25838e,#2e6e8e,#32658e,#238a8d,#24868e,#26828e,#23898e,#24878e,#1f988b,#23888e,#1f998a,#38b977,#5ac864,#8bd646,#77d153,#73d056,#37b878,#22a884,#22a785,#40bd72,#5cc863,#23898e,#30698e,#3c4f8a,#3e4989,#453882,#32658e,#355f8d,#365d8d,#2e6f8e,#26828e,#24868e,#25858e,#20928c,#25858e,#25838e,#218e8d,#1fa088,#1e9b8a,#23898e,#25ac82,#20a486,#1fa088,#228d8d,#287d8e,#25858e,#2a768e,#218e8d,#24aa83,#1e9c89,#38b977,#38b977,#2fb47c,#1fa287,#22a785,#20a486,#21908d,#26818e,#1f978b,#24868e,#1f968b,#1f968b)"></div>
<div style="left:1742.0px;top:589.9px;width:60.8px;height:17.1px;background:linear-gradient(90deg,#32648e,#277f8e,#365c8d,#1f9e89,#5cc863,#20938c,#2a778e,#228b8d,#21a685,#2cb17e,#3fbc73,#3bbb75,#3dbc74,#21a685,#1fa088,#1f948c,#1f988b,#1e9b8a,#20a386,#228d8d,#1f968b)"></div>
<div style="left:1048.2px;top:607.0px;width:131.8px;height:17.1px;background:linear-gradient(90deg,#25838e,#22a785,#1fa287,#24aa83,#28ae80,#1fa287,#1f978b,#1e9b8a,#24878e,#277f8e,#30698e,#3e4989,#404688,#2f6c8e,#443983,#31678e,#2b758e,#287c8e,#26818e,#30698e,#27808e,#2d718e,#24878e,#20928c,#20928c,#277f8e,#24878e,#1f978b,#1f958b,#2db27d,#28ae80,#21a585,#1f998a,#287d8e,#25848e,#26818e,#375b8d,#3a548c,#32658e,#34618d,#2e6d8e,#27808e,#26828e,#1f988b,#1f958b)"></div>
<div style="left:1218.0px;top:607.0px;width:392.7px;height:17.1px;background:linear-gradient(90deg,#42be71,#48c16e,#50c46a,#2db27d,#1f948c,#238a8d,#23888e,#26828e,#29798e,#297b8e,#20928c,#26818e,#218f8d,#1f9a8a,#4cc26c,#d2e21b,#fde725,#dfe318,#50c46a,#56c667,#1f968b,#228d8d,#26818e,#238a8d,#26828e,#21908d,#1e9b8a,#1e9b8a,#22a884,#40bd72,#1f988b,#277f8e,#22a785,#1f968b,#1f978b,#1e9c89,#1fa088,#218e8d,#24aa83,#1f968b,#38588c,#39568c,#433e85,#414487,#3c4f8a,#31668e,#2c738e,#2a768e,#297b8e,#365d8d,#3f4889,#306a8e,#30698e,#2a768e,#2e6f8e,#277e8e,#1f9e89,#1f988b,#26ad81,#38b977,#21a585,#1f998a,#2fb47c,#1f978b,#1f9f88,#1e9c89,#1f988b,#22a785,#1f9f88,#1f948c,#21a585,#23898e,#228b8d,#218e8d,#1fa287,#1f978b,#1f948c,#20938c,#21908d,#23888e,#24878e,#297b8e,#277f8e,#26828e,#2b758e,#2a768e,#33628d,#39568c,#25848e,#29798e,#2d708e,#1fa187,#23888e,#20a386,#21908d,#22a884,#29af7f,#31b57b,#1fa187,#4ac16d,#2eb37c,#22a785,#1f9e89,#25848e,#2b758e,#2c738e,#297a8e,#287d8e,#228c8d,#26ad81,#21918c,#238a8d,#1fa088,#1f958b,#26828e,#228b8d,#23898e,#23888e,#2b758e,#277e8e,#2b758e,#2e6d8e,#2d718e,#2d708e,#228c8d,#2b758e,#3a538b,#32648e,#453882,#30698e,#2e6e8e,#287c8e,#228d8d,#32b67a)"></div>
<div style="left:1742.0px;top:607.0px;width:60.8px;height:17.1px;background:linear-gradient(90deg,#2c718e,#2d708e,#375a8c,#31668e,#2c718e,#277e8e,#26828e,#2a768e,#1f9a8a,#228d8d,#1e9b8a,#2cb17e,#25ab82,#37b878,#50c46a,#4cc26c,#25ac82,#2db27d,#34b679,#48c16e,#277e8e)"></div>
<div style="left:1048.2px;top:624.1px;width:131.8px;height:17.1px;background:linear-gradient(90deg,#25ab82,#3dbc74,#20a486,#23888e,#20928c,#2a778e,#2f6c8e,#2d708e,#2e6e8e,#1f958b,#228b8d,#21908d,#1f9e89,#1fa287,#24878e,#24868e,#287c8e,#26828e,#2c718e,#2f6c8e,#26828e,#228b8d,#1f968b,#1f9e89,#218f8d,#21a585,#27ad81,#2eb37c,#3aba76,#2cb17e,#52c569,#7ad151,#4ac16d,#1fa187,#21918c,#20928c,#21908d,#218e8d,#20938c,#1f998a,#20928c,#1e9c89,#1f9f88,#26828e,#31688e)"></div>
<div style="left:1218.0px;top:624.1px;width:392.7px;height:17.1px;background:linear-gradient(90deg,#21908d,#1f958b,#1f958b,#2b748e,#25848e,#1f9e89,#1f978b,#23a983,#34b679,#22a884,#2eb37c,#20928c,#25858e,#2f6c8e,#2a768e,#287d8e,#297b8e,#2d718e,#25848e,#297b8e,#25838e,#24878e,#277f8e,#228d8d,#26828e,#25838e,#25838e,#29798e,#26818e,#2f6b8e,#27808e,#2f6c8e,#2c738e,#26828e,#20938c,#23888e,#2e6d8e,#31668e,#30698e,#277f8e,#27808e,#20a486,#28ae80,#2db27d,#46c06f,#40bd72,#4ac16d,#38b977,#4ec36b,#50c46a,#90d743,#27ad81,#1f9a8a,#1fa287,#2c718e,#277f8e,#2d718e,#3b518b,#2f6c8e,#34618d,#20928c,#1f978b,#1f978b,#1f958b,#2eb37c,#22a785,#1e9b8a,#21918c,#228b8d,#25858e,#228b8d,#1f968b,#1e9b8a,#1e9d89,#1f988b,#2e6e8e,#32648e,#27808e,#1fa188,#22a785,#34b679,#228c8d,#218e8d,#24868e,#1f978b,#25848e,#1f958b,#228c8d,#1f9e89,#24868e,#277f8e,#29798e,#2d708e,#2a778e,#20938c,#228c8d,#20a386,#1fa187,#56c667,#34b679,#2ab07f,#4ac16d,#5cc863,#42be71,#58c765,#48c16e,#1fa188,#20938c,#20928c,#218e8d,#277f8e,#24868e,#297b8e,#26818e,#21a585,#2fb47c,#81d34d,#25ac82,#20928c,#20a386,#21a585,#1fa287,#32b67a,#4ec36b,#60ca60,#a5db36,#58c765,#52c569,#1fa188,#25ab82,#26828e,#2a768e,#34618d,#39568c)"></div>
<div style="left:1742.0px;top:624.1px;width:60.8px;height:17.1px;background:linear-gradient(90deg,#31b57b,#56c667,#54c568,#3bbb75,#26ad81,#1f9f88,#1f968b,#228b8d,#218f8d,#24868e,#2e6e8e,#2c718e,#2e6e8e,#34608d,#3e4c8a,#3d4e8a,#2e6e8e,#2f6b8e,#2a788e,#1f968b,#26828e)"></div>
<div style="left:1048.2px;top:641.1px;width:131.8px;height:17.1px;background:linear-gradient(90deg,#26828e,#50c46a,#1e9c89,#40bd72,#2cb17e,#1f9f88,#1fa188,#24868e,#1e9d89,#1f9e89,#25ac82,#29af7f,#2ab07f,#5ec962,#5cc863,#2eb37c,#21a585,#228c8d,#20938c,#25838e,#20928c,#1f9e89,#32b67a,#35b779,#3fbc73,#1e9d89,#238a8d,#2a768e,#31668e,#33628d,#29798e,#297a8e,#25858e,#218f8d,#25ab82,#1f958b,#238a8d,#26828e,#20928c,#33628d,#26828e,#218e8d,#20928c,#1fa188,#23a983)"></div>
<div style="left:1218.0px;top:641.1px;width:392.7px;height:17.1px;background:linear-gradient(90deg,#24868e,#27808e,#2b748e,#287c8e,#287c8e,#2d718e,#306a8e,#306a8e,#2e6f8e,#228c8d,#20938c,#1e9d89,#22a884,#1fa187,#228d8d,#287c8e,#238a8d,#20928c,#24868e,#1fa287,#1f958b,#1f978b,#20928c,#297a8e,#277e8e,#2e6e8e,#2c738e,#2c718e,#26828e,#2a778e,#26818e,#2a778e,#1f958b,#25858e,#25838e,#21918c,#228c8d,#1f948c,#2c728e,#20928c,#23888e,#1f978b,#31b57b,#27ad81,#1e9d89,#22a785,#5cc863,#1e9d89,#1fa187,#22a785,#38b977,#28ae80,#20a486,#2db27d,#31b57b,#1f9e89,#1fa287,#31b57b,#28ae80,#21a685,#42be71,#34b679,#21a685,#2ab07f,#277e8e,#31688e,#2d708e,#404588,#472e7c,#3f4788,#3d4e8a,#2e6d8e,#2b758e,#24868e,#1f958b,#29af7f,#21a585,#28ae80,#35b779,#29af7f,#38b977,#1f998a,#24aa83,#25858e,#277e8e,#228d8d,#1fa187,#23888e,#218f8d,#23898e,#1e9c89,#22a785,#1f9a8a,#21908d,#1fa287,#2a788e,#2e6d8e,#2e6e8e,#355f8d,#2c738e,#228d8d,#218f8d,#238a8d,#1e9d89,#2b748e,#20928c,#24878e,#20928c,#287c8e,#26828e,#20928c,#287c8e,#2d708e,#33628d,#2a768e,#2b748e,#218e8d,#2b748e,#228d8d,#1f958b,#23898e,#32648e,#355e8d,#277e8e,#2a788e,#218e8d,#20a486,#1f9f88,#1f9f88,#1f958b,#2cb17e,#1f9a8a,#1fa188,#22a884)"></div>
<div style="left:1742.0px;top:641.1px;width:60.8px;height:17.1px;background:linear-gradient(90deg,#1fa187,#23a983,#1f9a8a,#1f968b,#20a486,#21908d,#20928c,#238a8d,#277e8e,#25858e,#24878e,#33638d,#25838e,#218e8d,#27808e,#1fa188,#1f958b,#27ad81,#218f8d,#1fa287,#1f998a)"></div>
<div style="left:1048.2px;top:658.2px;width:131.8px;height:17.1px;background:linear-gradient(90deg,#20928c,#228d8d,#277f8e,#218f8d,#2c728e,#228c8d,#228d8d,#23898e,#21918c,#32658e,#277f8e,#2a788e,#218e8d,#25858e,#218e8d,#228c8d,#21a685,#1fa287,#218f8d,#1f968b,#22a785,#35b779,#228d8d,#23888e,#2b758e,#2e6e8e,#26828e,#218f8d,#218e8d,#21918c,#1fa188,#1f9a8a,#1fa187,#25858e,#1e9d89,#25858e,#1e9d89,#21918c,#1e9c89,#27808e,#287d8e,#228c8d,#1f978b,#2db27d,#37b878)"></div>
<div style="left:1218.0px;top:658.2px;width:392.7px;height:17.1px;background:linear-gradient(90deg,#1f948c,#1f9e89,#25ab82,#32b67a,#56c667,#42be71,#2ab07f,#1f998a,#218e8d,#218e8d,#218e8d,#1f948c,#1f9a8a,#2ab07f,#24aa83,#228d8d,#297b8e,#297a8e,#31688e,#27808e,#29798e,#26828e,#2a778e,#2b758e,#2a778e,#2c728e,#2c728e,#2e6e8e,#2a778e,#24868e,#21908d,#31b57b,#2cb17e,#46c06f,#1f958b,#26ad81,#287c8e,#24868e,#25858e,#218f8d,#27808e,#1e9c89,#1f9e89,#238a8d,#26828e,#25848e,#2a768e,#26818e,#24878e,#1f968b,#40bd72,#e5e419,#73d056,#2ab07f,#21a585,#2cb17e,#2eb37c,#2fb47c,#27ad81,#20928c,#287d8e,#287c8e,#238a8d,#20928c,#20a486,#2eb37c,#1f9a8a,#20928c,#218e8d,#2b748e,#2a778e,#2e6d8e,#2b748e,#2a768e,#2f6c8e,#26828e,#218f8d,#24868e,#1f968b,#21908d,#20928c,#22a785,#26ad81,#20928c,#24868e,#25848e,#1f978b,#25ac82,#3bbb75,#2cb17e,#5cc863,#44bf70,#58c765,#38b977,#38b977,#1f998a,#25848e,#29798e,#228d8d,#1fa287,#24aa83,#21a585,#1fa188,#1f988b,#1fa088,#1fa188,#20a386,#42be71,#2fb47c,#50c46a,#26ad81,#2fb47c,#2ab07f,#25ab82,#218e8d,#20938c,#1fa188,#21908d,#25ac82,#25ac82,#24aa83,#1f968b,#23888e,#1f958b,#27808e,#21918c,#26828e,#25838e,#2c718e,#2a778e,#2b748e,#2f6c8e,#29798e,#2e6e8e)"></div>
<div style="left:1742.0px;top:658.2px;width:60.8px;height:17.1px;background:linear-gradient(90deg,#1f9e89,#218e8d,#20928c,#287d8e,#2f6b8e,#24878e,#21918c,#1f988b,#1f958b,#21a585,#2ab07f,#228b8d,#20928c,#26828e,#1fa188,#1fa088,#56c667,#20a486,#29af7f,#1f958b,#31b57b)"></div>
<div style="left:1048.2px;top:675.3px;width:131.8px;height:17.1px;background:linear-gradient(90deg,#2c728e,#297a8e,#355f8d,#423f85,#3e4c8a,#355f8d,#25848e,#21908d,#22a785,#20a486,#21a585,#29af7f,#1f9a8a,#1e9c89,#25858e,#228d8d,#25ab82,#218f8d,#1e9b8a,#1fa187,#1f9e89,#21918c,#24878e,#24868e,#34618d,#21908d,#21908d,#23a983,#31b57b,#2eb37c,#3aba76,#2eb37c,#1e9b8a,#2cb17e,#20928c,#22a785,#37b878,#1e9c89,#1fa188,#22a785,#1fa287,#1fa188,#23888e,#228d8d,#25838e)"></div>
<div style="left:1218.0px;top:675.3px;width:392.7px;height:17.1px;background:linear-gradient(90deg,#3b518b,#355f8d,#32648e,#32658e,#34608d,#33638d,#24878e,#1fa187,#22a785,#27ad81,#21a585,#5ec962,#1f9a8a,#238a8d,#25848e,#2a788e,#365d8d,#34608d,#29798e,#297b8e,#20928c,#1f998a,#38b977,#3aba76,#40bd72,#5ac864,#46c06f,#3bbb75,#1fa188,#1f9a8a,#21908d,#24878e,#1f988b,#287d8e,#2a778e,#25848e,#1f9f88,#1f9f88,#20938c,#25ab82,#26ad81,#37b878,#23a983,#1f958b,#1fa187,#21a685,#1f978b,#20938c,#21918c,#1fa088,#1f978b,#23898e,#277f8e,#1e9b8a,#238a8d,#20a486,#1f9a8a,#20938c,#20928c,#2eb37c,#20928c,#20a486,#20928c,#2a788e,#22a785,#25ac82,#24878e,#1fa188,#25858e,#2a788e,#228d8d,#26828e,#2a788e,#2a768e,#287c8e,#2e6d8e,#33638d,#32658e,#355e8d,#2c728e,#228b8d,#20a486,#27ad81,#73d056,#8bd646,#3fbc73,#3dbc74,#1e9b8a,#228c8d,#1fa287,#1e9d89,#29798e,#2c718e,#26828e,#2d718e,#33638d,#287d8e,#24868e,#25838e,#20928c,#218e8d,#1f998a,#1f9a8a,#20a386,#228d8d,#21918c,#24878e,#21918c,#21918c,#20a486,#1f988b,#1f978b,#1f958b,#228b8d,#1f998a,#20928c,#24868e,#1f9a8a,#1f968b,#20a486,#1e9b8a,#28ae80,#70cf57,#f1e51d,#77d153,#24aa83,#21918c,#287d8e,#20928c,#21918c,#28ae80,#218f8d,#1fa088,#25ac82)"></div>
<div style="left:1742.0px;top:675.3px;width:60.8px;height:17.1px;background:linear-gradient(90deg,#21a585,#29af7f,#25848e,#2a778e,#26818e,#31688e,#2a778e,#32658e,#355e8d,#2b748e,#25838e,#2d718e,#2f6c8e,#297a8e,#2a788e,#287c8e,#218f8d,#228c8d,#1f998a,#27ad81,#1f968b)"></div>
<div style="left:1048.2px;top:692.4px;width:131.8px;height:17.1px;background:linear-gradient(90deg,#26ad81,#2ab07f,#20a386,#1fa088,#1f988b,#1f958b,#28ae80,#2a788e,#26828e,#2c738e,#365d8d,#26828e,#2a788e,#287d8e,#23898e,#26828e,#2c738e,#228b8d,#1f9e89,#35b779,#77d153,#70cf57,#58c765,#54c568,#34b679,#22a785,#1f968b,#24868e,#2b748e,#2a778e,#2e6d8e,#2c738e,#2c728e,#2a768e,#27808e,#26818e,#1f948c,#24878e,#1f9e89,#31668e,#33638d,#34618d,#31678e,#26818e,#1f948c)"></div>
<div style="left:1218.0px;top:692.4px;width:392.7px;height:17.1px;background:linear-gradient(90deg,#25848e,#1fa187,#22a884,#22a884,#48c16e,#1f998a,#21918c,#238a8d,#2e6f8e,#30698e,#355e8d,#2c738e,#21918c,#228c8d,#21a585,#23888e,#1f998a,#2eb37c,#27ad81,#1e9c89,#1f9e89,#1fa187,#228c8d,#1f968b,#23898e,#25838e,#2a788e,#2a778e,#31688e,#1e9c89,#23898e,#228c8d,#1f958b,#20928c,#2c738e,#2d708e,#306a8e,#2b758e,#2c728e,#2e6f8e,#306a8e,#2a778e,#2b758e,#25858e,#2b758e,#29798e,#2e6f8e,#306a8e,#2c738e,#27808e,#2b758e,#23898e,#1f9f88,#1f988b,#20928c,#21918c,#1e9c89,#20a386,#1fa187,#228c8d,#27808e,#218e8d,#228d8d,#24868e,#25838e,#20a486,#218e8d,#20938c,#2db27d,#37b878,#24aa83,#27ad81,#21a585,#2ab07f,#1e9d89,#1e9d89,#20928c,#26818e,#297a8e,#34618d,#3e4989,#2a778e,#34618d,#32658e,#2e6f8e,#2b748e,#29798e,#277f8e,#2d708e,#21a685,#22a884,#20928c,#22a785,#1e9d89,#26818e,#287c8e,#2a778e,#26818e,#32648e,#2d708e,#38598c,#32658e,#2c738e,#355e8d,#3d4e8a,#423f85,#433d84,#424186,#3d4d8a,#2e6d8e,#2c718e,#365c8d,#2e6d8e,#34608d,#277f8e,#2d708e,#23888e,#25ab82,#40bd72,#21a585,#228d8d,#1f988b,#20928c,#1f948c,#228d8d,#23888e,#277e8e,#27808e,#24878e,#25858e,#287c8e,#24868e,#1f998a,#26ad81)"></div>
<div style="left:1742.0px;top:692.4px;width:60.8px;height:17.1px;background:linear-gradient(90deg,#23a983,#1f968b,#1f968b,#25858e,#23888e,#1f9a8a,#20928c,#1f9f88,#22a884,#44bf70,#65cb5e,#26ad81,#4ec36b,#1f9a8a,#23898e,#27808e,#2e6d8e,#2c728e,#2c738e,#26828e,#2d708e)"></div>
<div style="left:1048.2px;top:709.5px;width:131.8px;height:17.1px;background:linear-gradient(90deg,#23898e,#1f948c,#27ad81,#1e9b8a,#1f968b,#1f988b,#1f9a8a,#228d8d,#2c738e,#2a788e,#26828e,#1f958b,#228b8d,#26ad81,#21a585,#21a585,#25ab82,#1fa188,#1e9c89,#26828e,#1fa287,#21a585,#1fa287,#25ac82,#44bf70,#25ab82,#21a585,#1f988b,#1fa088,#25838e,#21908d,#2c738e,#2d708e,#297a8e,#1f968b,#228c8d,#277f8e,#2e6d8e,#29798e,#2e6d8e,#27808e,#238a8d,#1f998a,#20a386,#1f988b)"></div>
<div style="left:1218.0px;top:709.5px;width:392.7px;height:17.1px;background:linear-gradient(90deg,#2e6e8e,#2b758e,#26818e,#228d8d,#228b8d,#20928c,#228b8d,#24aa83,#25ac82,#24878e,#1f9f88,#37b878,#2cb17e,#42be71,#31b57b,#25ab82,#1fa188,#26ad81,#21a685,#20928c,#1fa287,#20938c,#23888e,#1f958b,#238a8d,#1fa088,#1f9f88,#1f988b,#277f8e,#24878e,#2a788e,#218e8d,#1e9c89,#20928c,#218e8d,#277f8e,#31678e,#32658e,#365d8d,#306a8e,#306a8e,#39558c,#375a8c,#2d708e,#2b748e,#2b758e,#20928c,#26828e,#20938c,#21918c,#1f9e89,#218f8d,#1e9d89,#20938c,#2e6f8e,#26828e,#1e9b8a,#1f978b,#2ab07f,#22a785,#1f948c,#28ae80,#2fb47c,#37b878,#2cb17e,#23a983,#1e9d89,#23888e,#1f9a8a,#23888e,#2f6c8e,#34608d,#287c8e,#2c718e,#2c718e,#32658e,#287c8e,#23888e,#287d8e,#1f978b,#20a486,#20928c,#1f978b,#1f9e89,#1e9c89,#228b8d,#25838e,#23898e,#20928c,#31678e,#3e4a89,#2a788e,#21918c,#218e8d,#2c718e,#2c718e,#32648e,#29798e,#21a585,#287c8e,#2a788e,#23888e,#228b8d,#1f998a,#1f968b,#1f9e89,#1e9b8a,#58c765,#7fd34e,#9dd93b,#77d153,#69cd5b,#29af7f,#1f9e89,#1e9b8a,#228d8d,#2a788e,#2a778e,#228b8d,#1f998a,#1fa287,#40bd72,#3aba76,#56c667,#48c16e,#46c06f,#37b878,#3aba76,#1e9d89,#287c8e,#306a8e,#3a538b,#414487,#38598c)"></div>
<div style="left:1742.0px;top:709.5px;width:60.8px;height:17.1px;background:linear-gradient(90deg,#25858e,#228c8d,#23888e,#20938c,#21908d,#1f988b,#21a685,#228d8d,#21a685,#1f978b,#21a685,#1fa088,#21918c,#1f958b,#24868e,#228b8d,#287d8e,#26828e,#26818e,#1f9a8a,#218f8d)"></div>
<div style="left:1048.2px;top:726.5px;width:131.8px;height:17.1px;background:linear-gradient(90deg,#21908d,#1f948c,#1f998a,#218e8d,#20928c,#287c8e,#218e8d,#2e6e8e,#2b758e,#355f8d,#33638d,#2e6f8e,#2d718e,#1f968b,#2a778e,#1f988b,#25858e,#1f958b,#21908d,#1e9d89,#1fa287,#1f948c,#1f978b,#2c738e,#2b758e,#297a8e,#2b748e,#2a778e,#2a768e,#21908d,#23888e,#1f968b,#228b8d,#25858e,#297b8e,#218f8d,#21908d,#2c718e,#2a778e,#2e6e8e,#31668e,#355e8d,#2e6e8e,#24868e,#25848e)"></div>
<div style="left:1218.0px;top:726.5px;width:392.7px;height:17.1px;background:linear-gradient(90deg,#1fa088,#34b679,#2ab07f,#21a585,#22a785,#23888e,#26828e,#277e8e,#26828e,#29798e,#21908d,#2c738e,#2b748e,#287c8e,#2c718e,#31688e,#287d8e,#2f6c8e,#2d708e,#2c718e,#2a768e,#26828e,#25838e,#23888e,#277f8e,#1f968b,#228d8d,#29798e,#297a8e,#1f958b,#1f968b,#277f8e,#20a386,#1fa187,#1f9f88,#25ab82,#31b57b,#32b67a,#67cc5c,#2fb47c,#21a685,#25ab82,#218e8d,#2b748e,#2f6c8e,#355f8d,#287c8e,#2c728e,#25858e,#25858e,#287d8e,#25858e,#218e8d,#25848e,#27808e,#297a8e,#23898e,#1f998a,#228d8d,#25858e,#287d8e,#2e6d8e,#26828e,#31688e,#33638d,#33628d,#33638d,#2e6f8e,#2b758e,#25858e,#1f978b,#2cb17e,#1fa187,#34b679,#1e9c89,#21918c,#1fa188,#21918c,#26828e,#26828e,#23898e,#26818e,#21a685,#1f988b,#2fb47c,#25ac82,#37b878,#29af7f,#1e9b8a,#1fa088,#218e8d,#20928c,#228c8d,#26ad81,#26828e,#1f988b,#1f978b,#228c8d,#25858e,#25838e,#1f978b,#1f978b,#23898e,#2e6e8e,#2b748e,#306a8e,#33638d,#2e6d8e,#365d8d,#2d718e,#21908d,#1f958b,#25858e,#1fa088,#1e9d89,#1e9b8a,#218f8d,#218e8d,#25858e,#2c728e,#23898e,#2c718e,#31688e,#3c4f8a,#38588c,#2a778e,#30698e,#2a768e,#355f8d,#2d718e,#2e6e8e,#355f8d,#355e8d,#26828e)"></div>
<div style="left:1742.0px;top:726.5px;width:60.8px;height:17.1px;background:linear-gradient(90deg,#20928c,#24878e,#21a585,#26828e,#31688e,#2e6e8e,#218e8d,#26828e,#23888e,#1e9b8a,#26828e,#24868e,#2f6b8e,#33628d,#2c738e,#287c8e,#25848e,#218f8d,#22a884,#1f9a8a,#2cb17e)"></div>
<div style="left:1048.2px;top:743.6px;width:131.8px;height:17.1px;background:linear-gradient(90deg,#1f978b,#29af7f,#21a585,#218e8d,#1f988b,#26818e,#27808e,#23888e,#287d8e,#218e8d,#21918c,#218f8d,#1f9e89,#1f988b,#26828e,#2b748e,#287d8e,#1f978b,#228d8d,#20938c,#1fa188,#20a486,#20a386,#21a585,#1f9f88,#1e9c89,#1e9d89,#1f998a,#20a486,#20938c,#21a585,#2eb37c,#1fa287,#3fbc73,#3aba76,#2cb17e,#4ac16d,#4ac16d,#2db27d,#1fa088,#20a386,#1f998a,#21908d,#1fa187,#1e9b8a)"></div>
<div style="left:1218.0px;top:743.6px;width:392.7px;height:17.1px;background:linear-gradient(90deg,#1f958b,#1f9e89,#1e9c89,#1e9d89,#1f958b,#1f978b,#27808e,#297b8e,#2a768e,#228c8d,#25848e,#297b8e,#21918c,#1f998a,#1f9a8a,#22a884,#22a785,#27ad81,#1f9a8a,#1fa088,#29af7f,#1fa188,#218e8d,#20a386,#1f9e89,#1f998a,#1f948c,#1f9a8a,#23898e,#306a8e,#2e6f8e,#23888e,#25858e,#2c738e,#1f948c,#25ab82,#1e9c89,#25ac82,#29af7f,#29af7f,#1fa187,#1f988b,#1f9f88,#1e9c89,#228b8d,#22a785,#29af7f,#31b57b,#42be71,#3bbb75,#2db27d,#1fa287,#22a884,#21a585,#228c8d,#1e9d89,#1fa188,#2eb37c,#20928c,#27ad81,#21a685,#1e9b8a,#22a785,#2cb17e,#277f8e,#238a8d,#29798e,#23898e,#238a8d,#238a8d,#1f968b,#238a8d,#20a386,#20938c,#1f9a8a,#27ad81,#218e8d,#1fa187,#1fa287,#22a785,#20938c,#26828e,#218f8d,#29798e,#228b8d,#23898e,#24868e,#228d8d,#20938c,#1fa088,#2fb47c,#31b57b,#34b679,#34b679,#1f9f88,#1fa187,#287c8e,#23898e,#2c718e,#297a8e,#25838e,#31668e,#2f6b8e,#365d8d,#32658e,#3b518b,#2c728e,#21908d,#277e8e,#21a585,#20a386,#218e8d,#218e8d,#1f978b,#25858e,#29798e,#26828e,#23898e,#1f998a,#2db27d,#58c765,#24aa83,#4ec36b,#2cb17e,#3dbc74,#2ab07f,#1fa187,#23a983,#2fb47c,#44bf70,#50c46a,#35b779,#54c568,#2ab07f)"></div>
<div style="left:1742.0px;top:743.6px;width:60.8px;height:17.1px;background:linear-gradient(90deg,#1f968b,#2b758e,#1f978b,#24878e,#277f8e,#218f8d,#1fa188,#21908d,#25ac82,#1f948c,#31b57b,#1e9c89,#37b878,#37b878,#27ad81,#48c16e,#228b8d,#2b758e,#228b8d,#27808e,#20928c)"></div>
<div style="left:1048.2px;top:760.7px;width:131.8px;height:17.1px;background:linear-gradient(90deg,#25ab82,#2cb17e,#2ab07f,#21a685,#228c8d,#24878e,#25858e,#277e8e,#2a768e,#24878e,#1f958b,#1f9a8a,#1f958b,#1fa088,#1f998a,#20a386,#26828e,#1e9d89,#21908d,#1fa088,#50c46a,#3dbc74,#4ec36b,#21a685,#1fa187,#25838e,#58c765,#c5e021,#65cb5e,#25ab82,#1e9c89,#22a884,#1fa188,#218f8d,#23898e,#34b679,#93d741,#46c06f,#1fa188,#1fa088,#1f9f88,#29af7f,#228c8d,#23898e,#2d708e)"></div>
<div style="left:1218.0px;top:760.7px;width:392.7px;height:17.1px;background:linear-gradient(90deg,#1f988b,#2fb47c,#1fa188,#24aa83,#3aba76,#25ab82,#24aa83,#52c569,#32b67a,#2db27d,#5ac864,#28ae80,#31b57b,#37b878,#27ad81,#32b67a,#23a983,#1e9c89,#24868e,#228d8d,#297a8e,#1f988b,#26828e,#2c738e,#2e6d8e,#365d8d,#2d718e,#287c8e,#2d718e,#25858e,#1f998a,#218e8d,#2fb47c,#38b977,#35b779,#58c765,#5cc863,#4cc26c,#56c667,#54c568,#70cf57,#21a585,#20928c,#1f978b,#27808e,#21918c,#228c8d,#2a778e,#20928c,#228c8d,#25848e,#2e6f8e,#33638d,#31688e,#3b528b,#33638d,#375a8c,#2a788e,#2a788e,#2c728e,#2c728e,#31668e,#2f6c8e,#27808e,#2a768e,#228b8d,#1f958b,#1f998a,#1e9b8a,#228c8d,#24878e,#21908d,#2d708e,#2b758e,#306a8e,#30698e,#2c718e,#3b518b,#26828e,#25ac82,#4cc26c,#31b57b,#20938c,#1f9e89,#21a585,#24878e,#27808e,#287c8e,#26828e,#20928c,#1fa287,#25ab82,#34b679,#29af7f,#26ad81,#1f948c,#1e9d89,#25858e,#23898e,#20928c,#1f998a,#20928c,#20928c,#20938c,#1fa088,#28ae80,#3bbb75,#3dbc74,#25ac82,#21908d,#22a884,#228d8d,#287c8e,#1f978b,#25848e,#23898e,#297a8e,#21918c,#218e8d,#1f988b,#1f9a8a,#22a884,#44bf70,#28ae80,#34b679,#3bbb75,#1fa287,#287c8e,#2e6f8e,#2b758e,#30698e,#2a768e,#27808e,#30698e)"></div>
<div style="left:1742.0px;top:760.7px;width:60.8px;height:17.1px;background:linear-gradient(90deg,#24868e,#1fa287,#2eb37c,#1e9d89,#20a486,#1e9b8a,#1f988b,#22a884,#1fa188,#1fa188,#228d8d,#1f948c,#21908d,#20928c,#35b779,#37b878,#44bf70,#40bd72,#3fbc73,#2ab07f,#22a785)"></div>
<div style="left:1048.2px;top:777.8px;width:131.8px;height:17.1px;background:linear-gradient(90deg,#1f998a,#20928c,#24aa83,#2fb47c,#3bbb75,#37b878,#2ab07f,#44bf70,#2db27d,#2fb47c,#20a386,#1e9b8a,#1f978b,#25858e,#277f8e,#218e8d,#2c718e,#2e6f8e,#287d8e,#26818e,#30698e,#2b758e,#33638d,#297b8e,#2d718e,#29798e,#1f988b,#24878e,#228d8d,#2b758e,#26828e,#33638d,#277e8e,#375b8d,#25858e,#26828e,#277e8e,#2c738e,#1f948c,#228b8d,#20928c,#21a585,#22a785,#27808e,#228d8d)"></div>
<div style="left:1218.0px;top:777.8px;width:392.7px;height:17.1px;background:linear-gradient(90deg,#2c738e,#287c8e,#2b758e,#2d718e,#26828e,#2f6b8e,#20928c,#228b8d,#218e8d,#20938c,#228d8d,#228c8d,#24878e,#238a8d,#20928c,#25848e,#1f958b,#2ab07f,#22a884,#1fa188,#1f988b,#1f978b,#24868e,#1f9a8a,#1f968b,#20938c,#1fa187,#3fbc73,#38b977,#31b57b,#37b878,#27ad81,#48c16e,#4cc26c,#31b57b,#24aa83,#1e9d89,#1f968b,#20a386,#20a386,#2cb17e,#1f9a8a,#1e9c89,#20928c,#2e6f8e,#297b8e,#2e6e8e,#26818e,#297b8e,#25858e,#29af7f,#24aa83,#35b779,#3fbc73,#24aa83,#2ab07f,#1fa287,#2eb37c,#31b57b,#3dbc74,#54c568,#63cb5f,#44bf70,#67cc5c,#48c16e,#50c46a,#38b977,#228c8d,#26828e,#1f968b,#287d8e,#32648e,#2c718e,#2d708e,#297b8e,#23888e,#2f6b8e,#277f8e,#20928c,#26818e,#1f9a8a,#1fa188,#1f978b,#1f968b,#20928c,#21908d,#1fa188,#238a8d,#1e9b8a,#1e9d89,#1f978b,#21a685,#1f978b,#25838e,#26828e,#2d718e,#2a788e,#2d718e,#2d718e,#20928c,#1e9c89,#21a585,#1fa287,#20928c,#25858e,#20928c,#21918c,#1f998a,#21908d,#2a768e,#26818e,#277f8e,#2e6d8e,#3a548c,#2e6e8e,#2b748e,#287d8e,#2e6f8e,#1f998a,#1fa187,#1f9a8a,#1f998a,#1e9d89,#228b8d,#2b748e,#26828e,#238a8d,#26818e,#1f978b,#1e9d89,#228c8d,#2db27d,#1f9f88,#1fa088)"></div>
<div style="left:1742.0px;top:777.8px;width:60.8px;height:17.1px;background:linear-gradient(90deg,#20a386,#1fa287,#3fbc73,#2ab07f,#1e9d89,#1f948c,#1e9b8a,#20938c,#20938c,#20928c,#238a8d,#20a386,#1fa287,#23a983,#21a685,#21918c,#2c718e,#2a788e,#29798e,#29798e,#2b748e)"></div>
<div style="left:1048.2px;top:794.9px;width:131.8px;height:17.1px;background:linear-gradient(90deg,#2f6c8e,#26828e,#20928c,#228b8d,#1e9b8a,#22a884,#1f9a8a,#2a778e,#25848e,#23888e,#20928c,#26818e,#34618d,#375a8c,#3b528b,#3a538b,#31668e,#32648e,#2a768e,#20928c,#287d8e,#21908d,#20928c,#28ae80,#1fa187,#1fa188,#1e9d89,#29af7f,#24aa83,#25838e,#26828e,#228b8d,#218e8d,#1f958b,#277e8e,#34608d,#26818e,#31688e,#2f6c8e,#2f6b8e,#2f6c8e,#297b8e,#2c738e,#20928c,#2d718e)"></div>
<div style="left:1218.0px;top:794.9px;width:392.7px;height:17.1px;background:linear-gradient(90deg,#2f6c8e,#26818e,#1f988b,#218e8d,#1fa287,#24868e,#287d8e,#2b758e,#2d718e,#32658e,#33628d,#26818e,#287d8e,#375a8c,#287c8e,#24878e,#1f978b,#1f9f88,#2ab07f,#1e9c89,#1fa188,#277f8e,#2d708e,#297b8e,#32658e,#2d718e,#355e8d,#30698e,#1f988b,#287d8e,#297a8e,#29798e,#26818e,#218e8d,#25ac82,#21a685,#40bd72,#29af7f,#24878e,#31668e,#34618d,#3d4d8a,#3c508b,#3d4d8a,#3f4889,#3f4788,#34608d,#34608d,#2e6f8e,#287d8e,#287c8e,#26828e,#25838e,#25858e,#1f958b,#22a884,#38b977,#a8db34,#65cb5e,#1f9e89,#25838e,#23898e,#218e8d,#277f8e,#26828e,#20a486,#21908d,#1f9e89,#21908d,#1fa287,#20a486,#21908d,#38b977,#1fa188,#27808e,#228b8d,#2b758e,#287c8e,#1e9d89,#218e8d,#1f9f88,#297b8e,#20928c,#228b8d,#2b748e,#2c728e,#2c738e,#228b8d,#277f8e,#1f958b,#2eb37c,#37b878,#1e9b8a,#1fa088,#20a486,#228c8d,#2f6b8e,#375a8c,#34608d,#3b528b,#3a548c,#375b8d,#2b748e,#2e6d8e,#24878e,#30698e,#277f8e,#25838e,#24868e,#1fa088,#23a983,#20a486,#20a486,#1e9b8a,#31b57b,#20a386,#21a585,#25ab82,#1e9b8a,#228c8d,#228b8d,#25858e,#23898e,#238a8d,#1f958b,#20928c,#1f988b,#25848e,#1f998a,#1f988b,#20928c,#20a486,#23898e,#26ad81)"></div>
<div style="left:1742.0px;top:794.9px;width:60.8px;height:17.1px;background:linear-gradient(90deg,#1fa188,#1f988b,#218f8d,#1e9c89,#228d8d,#26818e,#2d708e,#34618d,#414487,#463480,#433d84,#423f85,#375a8c,#34618d,#375a8c,#297a8e,#25848e,#228d8d,#21a685,#1fa088,#25848e)"></div>
<div style="left:1048.2px;top:811.9px;width:131.8px;height:17.1px;background:linear-gradient(90deg,#277e8e,#21908d,#287d8e,#39558c,#24878e,#2eb37c,#4ec36b,#2db27d,#23a983,#20928c,#22a884,#218f8d,#27808e,#2b748e,#30698e,#26828e,#1e9b8a,#2db27d,#3aba76,#42be71,#3aba76,#38b977,#21a685,#3bbb75,#20a386,#1f948c,#21908d,#20a386,#25ab82,#20a486,#27ad81,#1fa187,#1f9e89,#21a585,#28ae80,#37b878,#25ab82,#28ae80,#20a486,#3bbb75,#26ad81,#4ac16d,#25ac82,#1fa088,#23898e)"></div>
<div style="left:1218.0px;top:811.9px;width:392.7px;height:17.1px;background:linear-gradient(90deg,#1f968b,#27808e,#24878e,#23898e,#1fa188,#1f978b,#1fa088,#238a8d,#1f998a,#287c8e,#23888e,#25848e,#287d8e,#25858e,#1f968b,#2d718e,#1fa187,#1fa287,#2cb17e,#1f948c,#37b878,#4ec36b,#31b57b,#25ab82,#1fa187,#21a585,#20928c,#218f8d,#23898e,#24878e,#2a778e,#20938c,#1f9f88,#30698e,#1f948c,#228d8d,#1e9b8a,#21908d,#1f968b,#20928c,#287d8e,#21908d,#26828e,#25858e,#20928c,#32b67a,#9dd93b,#32b67a,#27ad81,#28ae80,#24aa83,#23898e,#1e9d89,#1f968b,#1f998a,#4ac16d,#4ac16d,#3aba76,#25ac82,#1f9f88,#20a486,#24878e,#25838e,#2e6e8e,#2a768e,#287d8e,#228c8d,#1f958b,#1e9b8a,#1f988b,#25ab82,#1fa187,#1f958b,#1fa187,#1f968b,#2ab07f,#35b779,#22a785,#21a585,#25ab82,#1e9b8a,#297b8e,#287d8e,#287c8e,#2e6d8e,#3a538b,#2e6d8e,#2a768e,#365c8d,#2d708e,#2a778e,#2f6c8e,#218e8d,#2c718e,#20938c,#25ac82,#228c8d,#26ad81,#81d34d,#5ec962,#52c569,#77d153,#54c568,#3aba76,#4cc26c,#23a983,#25ac82,#21918c,#228c8d,#2a788e,#2c718e,#2c718e,#21918c,#238a8d,#20938c,#26828e,#2a778e,#25848e,#26828e,#2c728e,#2c728e,#26818e,#1e9d89,#1f958b,#3aba76,#2fb47c,#25ac82,#24878e,#2a768e,#3a548c,#34608d,#2b758e,#33628d,#2a778e)"></div>
<div style="left:1742.0px;top:811.9px;width:60.8px;height:17.1px;background:linear-gradient(90deg,#3bbb75,#46c06f,#26ad81,#20a486,#1e9b8a,#1f998a,#1f978b,#218f8d,#26828e,#21918c,#1e9d89,#2db27d,#22a884,#1e9c89,#1f998a,#1e9d89,#25848e,#1f968b,#1e9d89,#1f948c,#28ae80)"></div>
<div style="left:1048.2px;top:829.0px;width:131.8px;height:17.1px;background:linear-gradient(90deg,#20928c,#287d8e,#2e6e8e,#297b8e,#2e6e8e,#30698e,#30698e,#297b8e,#2a788e,#277e8e,#25848e,#2a788e,#21918c,#1f9e89,#26818e,#21a585,#21918c,#1f998a,#297a8e,#297a8e,#228b8d,#1e9b8a,#50c46a,#5ac864,#3aba76,#81d34d,#40bd72,#38b977,#20a386,#37b878,#1fa187,#1fa088,#25848e,#228b8d,#32658e,#21918c,#27808e,#1e9b8a,#25ab82,#32b67a,#1e9d89,#1fa287,#20a386,#1fa188,#1fa187)"></div>
<div style="left:1218.0px;top:829.0px;width:392.7px;height:17.1px;background:linear-gradient(90deg,#23a983,#46c06f,#42be71,#42be71,#3dbc74,#37b878,#23a983,#26828e,#25848e,#2d708e,#355f8d,#2f6c8e,#20938c,#21918c,#1f948c,#23898e,#238a8d,#29798e,#23888e,#21918c,#28ae80,#37b878,#52c569,#56c667,#21a685,#22a884,#1f9a8a,#3bbb75,#20a386,#1fa287,#29af7f,#26ad81,#35b779,#20938c,#1e9b8a,#2a788e,#31678e,#34608d,#2c718e,#228b8d,#29798e,#218f8d,#21a685,#22a884,#2db27d,#2eb37c,#22a785,#1fa287,#228d8d,#23898e,#25838e,#277f8e,#2a768e,#27808e,#2c718e,#23898e,#21908d,#25ab82,#228c8d,#2cb17e,#1e9b8a,#1f948c,#1f9e89,#297a8e,#218f8d,#277f8e,#2d708e,#24868e,#2f6c8e,#297b8e,#29798e,#2b748e,#238a8d,#25858e,#2a768e,#27808e,#25838e,#228d8d,#2c718e,#2f6c8e,#297a8e,#228b8d,#23898e,#287c8e,#3e4a89,#297a8e,#21918c,#22a785,#1f998a,#21908d,#1f978b,#1f978b,#25848e,#1fa287,#1f9f88,#1e9d89,#1f9f88,#1f998a,#1fa287,#20a386,#287c8e,#228b8d,#24868e,#35b779,#cde11d,#52c569,#228b8d,#1f988b,#2a788e,#25848e,#24868e,#24878e,#26828e,#23888e,#2a788e,#277f8e,#25858e,#24868e,#287d8e,#25848e,#2a788e,#218e8d,#1f998a,#1fa287,#20928c,#20928c,#21918c,#25848e,#20928c,#1e9b8a,#2ab07f,#21a585,#1f9f88,#26828e)"></div>
<div style="left:1742.0px;top:829.0px;width:60.8px;height:17.1px;background:linear-gradient(90deg,#2e6f8e,#25858e,#26828e,#24878e,#21918c,#218f8d,#28ae80,#29798e,#25848e,#26818e,#24868e,#27ad81,#1f998a,#1f998a,#1f978b,#23898e,#27808e,#2b758e,#26818e,#25848e,#20928c)"></div>
<div style="left:1048.2px;top:846.1px;width:131.8px;height:17.1px;background:linear-gradient(90deg,#1fa188,#1f958b,#1f9f88,#26ad81,#26ad81,#2fb47c,#1e9b8a,#23898e,#1f9e89,#218f8d,#25858e,#277e8e,#2b758e,#32648e,#25858e,#2c728e,#23898e,#277e8e,#20928c,#25848e,#25848e,#1f978b,#277e8e,#297b8e,#2b748e,#2b758e,#2f6b8e,#32648e,#306a8e,#2c728e,#25838e,#2d718e,#24878e,#1f9a8a,#25838e,#24868e,#2b758e,#3b518b,#34618d,#423f85,#482374,#453581,#481b6d,#3c4f8a,#2f6c8e)"></div>
<div style="left:1218.0px;top:846.1px;width:392.7px;height:17.1px;background:linear-gradient(90deg,#20938c,#25838e,#1f978b,#24868e,#277e8e,#2a788e,#297b8e,#277f8e,#24868e,#2a778e,#2d708e,#2b758e,#2b758e,#25848e,#2b758e,#218e8d,#297b8e,#32658e,#2c728e,#32648e,#306a8e,#218e8d,#2b748e,#26818e,#228c8d,#2b748e,#38598c,#3a538b,#32658e,#297a8e,#228c8d,#1f968b,#24878e,#27808e,#32648e,#30698e,#2f6b8e,#297b8e,#228b8d,#20928c,#21a585,#1fa088,#1f9e89,#22a884,#24868e,#1f988b,#27808e,#228c8d,#1f968b,#2cb17e,#1e9b8a,#23888e,#218f8d,#26818e,#2b758e,#2a768e,#277e8e,#277e8e,#25858e,#25858e,#24868e,#297b8e,#2b748e,#24878e,#31688e,#2d718e,#287d8e,#2e6f8e,#2a768e,#23888e,#277e8e,#1f9a8a,#24aa83,#27ad81,#3dbc74,#3dbc74,#40bd72,#38b977,#44bf70,#37b878,#3fbc73,#1f958b,#21918c,#228c8d,#228c8d,#1e9b8a,#228b8d,#287d8e,#1fa088,#228b8d,#1f948c,#1fa287,#21a585,#2a788e,#1fa287,#1e9d89,#1f9f88,#1f9a8a,#1e9c89,#238a8d,#1e9b8a,#1f9a8a,#22a884,#1f968b,#1f968b,#1fa188,#297a8e,#277f8e,#31688e,#2a778e,#2d708e,#29798e,#21908d,#25848e,#228c8d,#1fa088,#1f948c,#228d8d,#26828e,#24868e,#1f988b,#1f968b,#1f9a8a,#1fa088,#26ad81,#2db27d,#38b977,#1f948c,#228d8d,#228b8d,#25838e,#23898e,#2a788e,#2a768e)"></div>
<div style="left:1742.0px;top:846.1px;width:60.8px;height:17.1px;background:linear-gradient(90deg,#32648e,#34618d,#25848e,#20a386,#218f8d,#22a785,#20928c,#24868e,#25848e,#1e9d89,#20928c,#20938c,#1e9c89,#24868e,#26828e,#26828e,#2a768e,#277f8e,#23888e,#26828e,#2a788e)"></div>
<div style="left:1048.2px;top:863.2px;width:131.8px;height:17.1px;background:linear-gradient(90deg,#2a788e,#2e6e8e,#25848e,#23898e,#2d708e,#23888e,#1e9c89,#1f948c,#1e9b8a,#28ae80,#1f9f88,#1f998a,#1e9b8a,#1f958b,#22a884,#38b977,#48c16e,#3bbb75,#5ac864,#84d44b,#73d056,#2fb47c,#2cb17e,#1e9b8a,#238a8d,#20938c,#28ae80,#1f9e89,#1fa188,#2cb17e,#20938c,#21908d,#26818e,#2f6b8e,#355f8d,#2e6e8e,#31668e,#297a8e,#25838e,#238a8d,#1f988b,#20928c,#21908d,#1f978b,#26828e)"></div>
<div style="left:1218.0px;top:863.2px;width:392.7px;height:17.1px;background:linear-gradient(90deg,#228d8d,#22a884,#22a884,#23a983,#228c8d,#2eb37c,#1e9d89,#22a785,#1fa187,#1f9a8a,#23898e,#1e9c89,#21a685,#1f988b,#287d8e,#1e9c89,#1f998a,#218f8d,#1f978b,#26ad81,#28ae80,#4ec36b,#81d34d,#b0dd2f,#5ec962,#63cb5f,#37b878,#29af7f,#1f958b,#1f978b,#2a788e,#2f6c8e,#2f6c8e,#2e6d8e,#31668e,#30698e,#297a8e,#2c718e,#277e8e,#26818e,#26828e,#21918c,#218e8d,#218e8d,#26818e,#355e8d,#228b8d,#34b679,#2cb17e,#2ab07f,#25ab82,#27ad81,#28ae80,#26ad81,#22a785,#22a785,#26ad81,#25ac82,#218e8d,#1f958b,#20928c,#1f998a,#2e6e8e,#287c8e,#25838e,#287d8e,#23888e,#297a8e,#21908d,#2b758e,#1f958b,#218e8d,#1fa088,#25ac82,#1f9f88,#1f998a,#23a983,#228c8d,#23898e,#2e6e8e,#31688e,#23888e,#26828e,#27808e,#26828e,#24868e,#238a8d,#228c8d,#1f968b,#23a983,#1f978b,#25ac82,#1f958b,#20a486,#1f998a,#1f948c,#1fa287,#1f9e89,#29af7f,#20928c,#33638d,#2d718e,#32648e,#26828e,#1f958b,#1fa088,#20938c,#1f978b,#35b779,#6ccd5a,#65cb5e,#5ec962,#4ec36b,#2eb37c,#34b679,#1f978b,#25ab82,#1e9d89,#20a486,#2fb47c,#37b878,#1fa187,#1fa187,#26ad81,#25ac82,#1fa088,#26828e,#2a788e,#29798e,#27808e,#23888e,#20a386,#21a685,#32b67a)"></div>
<div style="left:1742.0px;top:863.2px;width:60.8px;height:17.1px;background:linear-gradient(90deg,#1fa188,#21908d,#1f988b,#2d718e,#1f968b,#228c8d,#25848e,#20938c,#25848e,#1f948c,#25858e,#29798e,#1e9d89,#1f9a8a,#2eb37c,#4cc26c,#56c667,#46c06f,#20a486,#1f9f88,#21908d)"></div>
<div style="left:1048.2px;top:880.3px;width:131.8px;height:17.1px;background:linear-gradient(90deg,#24aa83,#29af7f,#21a585,#1f9a8a,#25838e,#297b8e,#2f6c8e,#25848e,#25848e,#26818e,#297b8e,#25838e,#24868e,#20928c,#238a8d,#1f978b,#26828e,#228c8d,#2b748e,#277e8e,#238a8d,#20928c,#1f9a8a,#22a785,#20a386,#1f9a8a,#22a884,#2b748e,#238a8d,#2e6e8e,#32658e,#27808e,#25838e,#228d8d,#2d708e,#2a778e,#277f8e,#2f6b8e,#32658e,#30698e,#277f8e,#2b748e,#2a778e,#20928c,#1fa187)"></div>
<div style="left:1218.0px;top:880.3px;width:392.7px;height:17.1px;background:linear-gradient(90deg,#2c728e,#365d8d,#2d718e,#2f6b8e,#25848e,#34608d,#2c728e,#31688e,#375b8d,#375b8d,#34608d,#306a8e,#39568c,#3f4788,#404688,#3b528b,#472a7a,#365c8d,#38598c,#38598c,#26818e,#228c8d,#20a386,#1fa188,#27ad81,#24aa83,#40bd72,#1f998a,#2cb17e,#1e9d89,#26818e,#1f948c,#1e9c89,#40bd72,#21a585,#23888e,#23888e,#277e8e,#25848e,#297a8e,#24868e,#228c8d,#1f9e89,#24aa83,#20a386,#1f948c,#1f9e89,#22a785,#1fa088,#1f988b,#1f9e89,#26828e,#21908d,#297a8e,#2c738e,#26828e,#24868e,#2b758e,#27808e,#228c8d,#1e9b8a,#1e9c89,#1f948c,#1f9a8a,#35b779,#22a785,#1f988b,#1fa187,#1e9c89,#21918c,#26828e,#297a8e,#1f988b,#26828e,#22a884,#23a983,#3dbc74,#31b57b,#84d44b,#35b779,#6ece58,#4cc26c,#38b977,#48c16e,#1f988b,#228b8d,#1e9c89,#218e8d,#25858e,#31678e,#297a8e,#31678e,#33628d,#277e8e,#2b748e,#2b758e,#1f9a8a,#21918c,#1f998a,#31b57b,#40bd72,#28ae80,#34b679,#3bbb75,#26ad81,#1fa188,#23898e,#2a788e,#277f8e,#2a768e,#277e8e,#2f6c8e,#25858e,#21908d,#25858e,#297b8e,#23888e,#25838e,#33638d,#365d8d,#39568c,#375a8c,#2f6b8e,#2a788e,#20928c,#2eb37c,#27ad81,#31b57b,#23a983,#1f968b,#21908d,#1f948c,#25838e,#22a884)"></div>
<div style="left:1742.0px;top:880.3px;width:60.8px;height:17.1px;background:linear-gradient(90deg,#2d708e,#2f6b8e,#2e6f8e,#2f6b8e,#218e8d,#1f948c,#1f988b,#21a585,#31b57b,#218f8d,#1f948c,#287d8e,#1fa188,#20928c,#20928c,#23888e,#21918c,#25848e,#26818e,#2c728e,#2a768e)"></div>
<div style="left:1048.2px;top:897.3px;width:131.8px;height:17.1px;background:linear-gradient(90deg,#218f8d,#1f9a8a,#1f988b,#218e8d,#2c728e,#2f6b8e,#34608d,#39568c,#287d8e,#297a8e,#23898e,#228d8d,#20928c,#2d718e,#228b8d,#2e6d8e,#297b8e,#297a8e,#297b8e,#2d718e,#25838e,#1f9e89,#21a685,#25ac82,#38b977,#27ad81,#29af7f,#31b57b,#1f958b,#1fa188,#1f998a,#1f9f88,#25ac82,#35b779,#48c16e,#7ad151,#4ec36b,#31b57b,#1f988b,#25ac82,#23898e,#24878e,#2b748e,#297b8e,#21a685)"></div>
<div style="left:1218.0px;top:897.3px;width:392.7px;height:17.1px;background:linear-gradient(90deg,#20938c,#31b57b,#32b67a,#2ab07f,#37b878,#3dbc74,#26ad81,#1f968b,#1fa187,#1f9a8a,#1fa088,#2ab07f,#20928c,#44bf70,#32b67a,#1fa187,#25ac82,#1f9a8a,#20a386,#1f948c,#26828e,#2d708e,#306a8e,#375b8d,#33638d,#287c8e,#24878e,#27808e,#287d8e,#228c8d,#26828e,#228c8d,#21918c,#26828e,#1fa287,#1f998a,#21a585,#21a585,#1f978b,#20928c,#1fa287,#20938c,#27808e,#365c8d,#25848e,#29798e,#355e8d,#2a778e,#306a8e,#238a8d,#1f968b,#20928c,#1f978b,#1f978b,#21a685,#73d056,#25ab82,#1f9f88,#20928c,#1fa188,#1f9e89,#228d8d,#355f8d,#2a788e,#2b748e,#2e6f8e,#32648e,#277e8e,#2b748e,#26818e,#26828e,#20938c,#26828e,#238a8d,#1fa188,#218e8d,#1f9a8a,#228b8d,#1f988b,#20928c,#228c8d,#2b748e,#277e8e,#26818e,#2b758e,#20928c,#2b758e,#277e8e,#2a788e,#26818e,#2a788e,#1f958b,#1f968b,#1f978b,#1f968b,#21908d,#24868e,#20928c,#25858e,#1f958b,#2c718e,#3b528b,#2b748e,#25838e,#22a884,#48c16e,#1fa088,#2ab07f,#23898e,#23a983,#20938c,#20938c,#21908d,#26818e,#2b758e,#31678e,#25858e,#2a778e,#228b8d,#29798e,#26828e,#2e6f8e,#2a768e,#2a778e,#297b8e,#277e8e,#297a8e,#277e8e,#297a8e,#21918c,#20938c,#2a768e,#2e6d8e,#24878e)"></div>
<div style="left:1742.0px;top:897.3px;width:60.8px;height:17.1px;background:linear-gradient(90deg,#1e9b8a,#1fa287,#1f978b,#20928c,#1f998a,#1f958b,#1f9a8a,#1f998a,#1f988b,#218f8d,#22a785,#29798e,#228c8d,#21918c,#218f8d,#25838e,#2b748e,#25848e,#23888e,#26818e,#2d708e)"></div>
<div style="left:1048.2px;top:914.4px;width:131.8px;height:17.1px;background:linear-gradient(90deg,#2b748e,#24878e,#23a983,#2cb17e,#20a386,#2ab07f,#20a486,#20a386,#21a685,#1fa187,#1fa287,#1f978b,#1f9f88,#297b8e,#23898e,#365d8d,#27808e,#31678e,#31668e,#228b8d,#1e9d89,#2c718e,#277e8e,#2a778e,#2a768e,#2b748e,#2b758e,#29798e,#238a8d,#20928c,#1fa088,#1f9a8a,#1fa187,#29af7f,#23a983,#40bd72,#28ae80,#46c06f,#25ab82,#228c8d,#277f8e,#2a778e,#32658e,#2c728e,#375b8d)"></div>
<div style="left:1218.0px;top:914.4px;width:392.7px;height:17.1px;background:linear-gradient(90deg,#218f8d,#1f968b,#25848e,#1e9c89,#228b8d,#2b758e,#1f988b,#21918c,#1f968b,#1e9c89,#228b8d,#297a8e,#26828e,#1e9c89,#1f978b,#1fa188,#1f978b,#218e8d,#1f978b,#228d8d,#2a788e,#2c728e,#287c8e,#25858e,#1fa188,#24aa83,#29af7f,#20a486,#20928c,#20928c,#2e6e8e,#20928c,#1f9e89,#25ac82,#1fa188,#25ab82,#29af7f,#1fa088,#25ac82,#2db27d,#1fa187,#1f948c,#1fa088,#29798e,#218e8d,#31668e,#29798e,#306a8e,#228b8d,#26828e,#2a768e,#2c728e,#287c8e,#297a8e,#24878e,#218e8d,#24878e,#2a768e,#2b758e,#23898e,#23888e,#228b8d,#238a8d,#1fa187,#20928c,#218f8d,#1fa187,#2a778e,#1e9b8a,#26ad81,#1e9d89,#1e9b8a,#20a386,#1fa088,#26818e,#287c8e,#287c8e,#297a8e,#2b748e,#34618d,#3e4989,#2c718e,#2c718e,#1f988b,#1e9c89,#31b57b,#32b67a,#6ccd5a,#6ece58,#6ccd5a,#60ca60,#3fbc73,#3fbc73,#29af7f,#22a884,#2cb17e,#2cb17e,#2cb17e,#2ab07f,#20a486,#1fa187,#1e9d89,#1fa188,#1e9b8a,#25848e,#20938c,#21a585,#1fa088,#218f8d,#218f8d,#277e8e,#2c718e,#34608d,#33638d,#2c738e,#365c8d,#2b748e,#2a778e,#287d8e,#277e8e,#27808e,#26828e,#218e8d,#1f9a8a,#25838e,#218e8d,#26818e,#228c8d,#1f958b,#25ab82,#22a785,#20a486,#20a486,#2a788e)"></div>
<div style="left:1742.0px;top:914.4px;width:60.8px;height:17.1px;background:linear-gradient(90deg,#1e9b8a,#1f9e89,#21908d,#228c8d,#287c8e,#218e8d,#218e8d,#238a8d,#24878e,#25838e,#21908d,#2d708e,#38588c,#365d8d,#228c8d,#24878e,#1f968b,#21918c,#1f978b,#1f968b,#1e9d89)"></div>
<div style="left:1048.2px;top:931.5px;width:131.8px;height:17.1px;background:linear-gradient(90deg,#29af7f,#1f958b,#1fa287,#2db27d,#1f958b,#1f958b,#2eb37c,#28ae80,#1fa188,#1e9b8a,#22a785,#21a685,#1f988b,#23888e,#2b758e,#3c508b,#287d8e,#375b8d,#33628d,#32648e,#30698e,#31678e,#218f8d,#277f8e,#277f8e,#238a8d,#24868e,#228c8d,#218f8d,#228c8d,#1f978b,#1f998a,#1fa088,#1fa188,#1e9b8a,#228d8d,#1f9e89,#1e9c89,#1fa188,#20a386,#48c16e,#46c06f,#4cc26c,#50c46a,#52c569)"></div>
<div style="left:1218.0px;top:931.5px;width:392.7px;height:17.1px;background:linear-gradient(90deg,#27ad81,#20a386,#1f9e89,#20928c,#228c8d,#21918c,#20928c,#24878e,#1f988b,#22a884,#218e8d,#228b8d,#20a386,#1f9e89,#218e8d,#20928c,#1e9c89,#228c8d,#228c8d,#20a386,#1e9c89,#21a685,#287d8e,#20928c,#20938c,#23888e,#21918c,#1f988b,#25ab82,#1f988b,#26828e,#21918c,#1e9b8a,#25858e,#277e8e,#2a788e,#297a8e,#1fa188,#25ac82,#37b878,#23a983,#1fa287,#1fa188,#1f978b,#1f9a8a,#2e6f8e,#26828e,#2d708e,#297b8e,#287c8e,#218f8d,#25848e,#24878e,#306a8e,#297b8e,#287c8e,#1f978b,#26ad81,#2ab07f,#32b67a,#23a983,#1fa287,#218f8d,#2f6c8e,#25838e,#2e6f8e,#26828e,#23898e,#2ab07f,#37b878,#1e9b8a,#1f958b,#1f968b,#20928c,#1f9a8a,#27808e,#2a788e,#2e6d8e,#2b748e,#32658e,#228c8d,#23898e,#25848e,#228c8d,#1f9f88,#25858e,#238a8d,#1e9b8a,#228d8d,#1f9f88,#1f968b,#23898e,#26828e,#297b8e,#24868e,#21918c,#21908d,#287c8e,#1f958b,#2c738e,#26828e,#25858e,#306a8e,#218f8d,#29798e,#2a788e,#23888e,#20928c,#24aa83,#25ac82,#3bbb75,#44bf70,#22a884,#46c06f,#27ad81,#31b57b,#1fa187,#1fa287,#26828e,#277e8e,#24878e,#25858e,#2e6d8e,#24878e,#2d708e,#3d4d8a,#3f4889,#471063,#443b84,#31688e,#2a788e,#20928c,#1fa088,#21a685)"></div>
<div style="left:1742.0px;top:931.5px;width:60.8px;height:17.1px;background:linear-gradient(90deg,#1e9b8a,#21908d,#218e8d,#2a778e,#27808e,#24878e,#1fa188,#2c728e,#297a8e,#228d8d,#25858e,#1f958b,#1fa287,#37b878,#218f8d,#1f968b,#218f8d,#2d708e,#2a788e,#23888e,#287d8e)"></div>
<div style="left:1048.2px;top:948.6px;width:131.8px;height:17.1px;background:linear-gradient(90deg,#228c8d,#1fa088,#26828e,#31688e,#2c718e,#23898e,#287c8e,#1f9a8a,#20a486,#2ab07f,#31b57b,#3fbc73,#24aa83,#2cb17e,#1f9f88,#1fa088,#1fa088,#218f8d,#228b8d,#21a585,#24878e,#1f9a8a,#287d8e,#1f9e89,#20938c,#1e9d89,#22a785,#1f958b,#1f9f88,#20928c,#1f948c,#2d708e,#2c728e,#3b528b,#39568c,#2d708e,#2c718e,#27808e,#1e9b8a,#26828e,#2a788e,#287d8e,#228b8d,#2f6c8e,#2a788e)"></div>
<div style="left:1218.0px;top:948.6px;width:392.7px;height:17.1px;background:linear-gradient(90deg,#2c738e,#26828e,#20a386,#1fa088,#25ac82,#218e8d,#21908d,#238a8d,#2e6f8e,#2e6e8e,#277e8e,#25838e,#23888e,#20928c,#1f9e89,#228d8d,#21908d,#27808e,#2d718e,#1f958b,#238a8d,#29798e,#1f968b,#1e9d89,#1fa287,#20938c,#1f978b,#228d8d,#21918c,#218e8d,#2a768e,#24868e,#2b748e,#20928c,#218f8d,#297a8e,#20928c,#228b8d,#2a788e,#25838e,#1f948c,#1f9a8a,#20938c,#1f988b,#21a685,#20a486,#1f988b,#1fa188,#1f978b,#20a486,#24aa83,#46c06f,#21a685,#1fa187,#1f9a8a,#24878e,#2c718e,#2b758e,#31678e,#277e8e,#2c728e,#23888e,#23888e,#28ae80,#32b67a,#3dbc74,#21a685,#20928c,#21908d,#1fa187,#25ab82,#1e9d89,#1fa287,#24878e,#20928c,#228c8d,#297a8e,#2f6b8e,#2e6d8e,#32648e,#31688e,#21908d,#228d8d,#21908d,#23888e,#2a788e,#2c738e,#31688e,#365d8d,#3c4f8a,#375a8c,#2e6f8e,#297b8e,#2c738e,#23a983,#1e9d89,#3aba76,#42be71,#34b679,#1fa287,#25ac82,#277f8e,#20928c,#1f968b,#277e8e,#1f958b,#228d8d,#228d8d,#297a8e,#20a386,#218f8d,#1f9e89,#20a486,#1f988b,#25ab82,#1fa187,#24aa83,#2fb47c,#1fa187,#1f9f88,#218f8d,#25858e,#297a8e,#21a585,#1f958b,#20938c,#20938c,#1fa088,#2ab07f,#50c46a,#31b57b,#44bf70,#50c46a,#6ccd5a)"></div>
<div style="left:1742.0px;top:948.6px;width:60.8px;height:17.1px;background:linear-gradient(90deg,#27808e,#1fa088,#20928c,#1f9a8a,#21918c,#1f9f88,#21a685,#28ae80,#29af7f,#1f998a,#1f968b,#20928c,#218f8d,#20a386,#2ab07f,#22a785,#1e9d89,#1f9e89,#1f9f88,#1fa188,#20928c)"></div>
<div style="left:1048.2px;top:965.7px;width:131.8px;height:17.1px;background:linear-gradient(90deg,#21a585,#29798e,#21918c,#20a486,#1f958b,#21a685,#1f9f88,#21918c,#1fa088,#1f9a8a,#20938c,#22a785,#1f988b,#1fa187,#21a585,#228c8d,#218f8d,#26828e,#30698e,#31678e,#3e4989,#375a8c,#32658e,#3f4788,#2c728e,#31668e,#23898e,#29798e,#287c8e,#25848e,#277f8e,#23898e,#287d8e,#27808e,#21908d,#21918c,#1fa088,#3aba76,#2cb17e,#35b779,#48c16e,#2eb37c,#25ac82,#1e9c89,#1e9b8a)"></div>
<div style="left:1218.0px;top:965.7px;width:392.7px;height:17.1px;background:linear-gradient(90deg,#38b977,#5ec962,#40bd72,#22a884,#24aa83,#21a585,#1f948c,#1f988b,#20938c,#218e8d,#26828e,#31668e,#38598c,#39568c,#2f6c8e,#25838e,#218f8d,#228b8d,#27ad81,#228c8d,#25838e,#2b748e,#3b518b,#31688e,#30698e,#2c718e,#25858e,#1f998a,#1f958b,#25848e,#1f9e89,#20928c,#297a8e,#23898e,#2c738e,#2a778e,#30698e,#1e9b8a,#24868e,#23888e,#1e9c89,#1f968b,#1f988b,#1f998a,#21a685,#1fa088,#21a585,#1f988b,#1f978b,#1fa287,#1fa187,#2a788e,#25838e,#228b8d,#23898e,#1f958b,#21a585,#25838e,#2b748e,#26828e,#287d8e,#25848e,#2c738e,#20928c,#20928c,#238a8d,#28ae80,#25838e,#1f948c,#297b8e,#29798e,#2d718e,#31668e,#33628d,#21908d,#1f9a8a,#218f8d,#37b878,#3bbb75,#20a386,#1f988b,#22a785,#1f9f88,#1f9e89,#23a983,#20928c,#20a486,#23a983,#25ac82,#37b878,#28ae80,#2ab07f,#25ac82,#21a685,#228c8d,#218f8d,#27808e,#297a8e,#32658e,#33628d,#32658e,#2e6f8e,#2d708e,#2e6d8e,#24878e,#26828e,#23898e,#20938c,#1f998a,#1fa287,#27ad81,#23a983,#42be71,#28ae80,#25ab82,#238a8d,#218f8d,#24aa83,#25ab82,#1f9f88,#1e9c89,#20938c,#20928c,#24868e,#2c728e,#277e8e,#20928c,#21908d,#1f948c,#218f8d,#21908d,#23898e,#297b8e,#228d8d)"></div>
<div style="left:1742.0px;top:965.7px;width:60.8px;height:17.1px;background:linear-gradient(90deg,#2d718e,#2e6e8e,#2f6b8e,#2c728e,#228c8d,#25838e,#21908d,#21908d,#21918c,#1fa188,#26ad81,#2cb17e,#1fa287,#2fb47c,#2cb17e,#26ad81,#1e9b8a,#25858e,#2a778e,#27808e,#24878e)"></div>
<div style="left:1048.2px;top:982.7px;width:131.8px;height:17.1px;background:linear-gradient(90deg,#218f8d,#20928c,#2c718e,#375a8c,#3f4889,#32658e,#414487,#3c4f8a,#32648e,#2d708e,#31678e,#2c718e,#32658e,#25848e,#2e6d8e,#24878e,#2b748e,#1e9d89,#228c8d,#29af7f,#24878e,#1f958b,#238a8d,#2c738e,#26818e,#2d718e,#2c728e,#29798e,#32658e,#306a8e,#2b748e,#30698e,#34618d,#2b748e,#32648e,#228c8d,#26818e,#1f958b,#1f968b,#24aa83,#20a386,#1f978b,#34b679,#1fa287,#1f958b)"></div>
<div style="left:1218.0px;top:982.7px;width:392.7px;height:17.1px;background:linear-gradient(90deg,#24878e,#218f8d,#228d8d,#228d8d,#277f8e,#21918c,#23898e,#20928c,#25848e,#29798e,#29798e,#2b758e,#1f9f88,#1f9a8a,#31b57b,#7fd34e,#60ca60,#a8db34,#81d34d,#90d743,#8bd646,#56c667,#42be71,#24aa83,#228b8d,#25848e,#2c728e,#27808e,#31688e,#26828e,#2b748e,#2f6b8e,#33638d,#30698e,#32648e,#33628d,#25858e,#287d8e,#218e8d,#25858e,#228c8d,#25858e,#26828e,#297a8e,#218f8d,#228b8d,#1f9a8a,#277f8e,#27808e,#1f998a,#3dbc74,#a8db34,#c8e020,#32b67a,#34b679,#5ec962,#27ad81,#35b779,#42be71,#2eb37c,#2db27d,#34b679,#23a983,#1e9c89,#28ae80,#29af7f,#25ac82,#1f998a,#21a585,#20928c,#2c738e,#24868e,#277f8e,#25848e,#23898e,#1f968b,#26828e,#20928c,#2d708e,#24868e,#218e8d,#1f948c,#1f9e89,#1f9e89,#20a386,#1fa088,#1f958b,#228c8d,#21a585,#20928c,#1f948c,#1f958b,#218e8d,#1fa188,#1e9b8a,#20928c,#1fa287,#24868e,#29af7f,#228c8d,#20a386,#24878e,#23888e,#20938c,#29af7f,#2fb47c,#23a983,#2eb37c,#4ec36b,#21a685,#23a983,#32b67a,#1f998a,#1f968b,#1f978b,#1f968b,#1f968b,#24aa83,#28ae80,#25ab82,#26ad81,#38b977,#4ec36b,#4cc26c,#42be71,#42be71,#2eb37c,#2cb17e,#1fa188,#23898e,#26828e,#2d718e,#25848e,#218e8d)"></div>
<div style="left:1742.0px;top:982.7px;width:60.8px;height:17.1px;background:linear-gradient(90deg,#228b8d,#1f978b,#1e9c89,#2ab07f,#2ab07f,#7fd34e,#28ae80,#20a386,#1e9d89,#238a8d,#277e8e,#2b758e,#1f968b,#2e6d8e,#218e8d,#1f948c,#22a884,#20928c,#20a486,#5cc863,#58c765)"></div>
<div style="left:1048.2px;top:999.8px;width:131.8px;height:17.1px;background:linear-gradient(90deg,#287d8e,#24868e,#1fa188,#20a486,#21a585,#2cb17e,#63cb5f,#73d056,#5ac864,#58c765,#5cc863,#6ece58,#73d056,#9bd93c,#9dd93b,#5ac864,#54c568,#27ad81,#35b779,#20928c,#2c718e,#26818e,#2d708e,#23888e,#1f978b,#2db27d,#20928c,#22a785,#1f968b,#1f9e89,#228c8d,#218f8d,#31668e,#25858e,#30698e,#20928c,#3fbc73,#63cb5f,#35b779,#2cb17e,#1f9e89,#21a685,#26818e,#277f8e,#1f968b)"></div>
<div style="left:1218.0px;top:999.8px;width:392.7px;height:17.1px;background:linear-gradient(90deg,#29af7f,#2db27d,#1f9e89,#1f988b,#30698e,#2c738e,#306a8e,#2d708e,#2a778e,#2c718e,#277f8e,#1f968b,#228d8d,#20a486,#2eb37c,#23898e,#26818e,#2c718e,#297b8e,#25858e,#2c728e,#20938c,#2b748e,#23888e,#1f948c,#1f948c,#20938c,#20a386,#1e9b8a,#22a785,#1f958b,#21a685,#1f968b,#228d8d,#23898e,#25848e,#26818e,#277e8e,#22a884,#1e9c89,#1f948c,#2b748e,#24878e,#287d8e,#27808e,#31678e,#287d8e,#23888e,#25838e,#1f9a8a,#25ac82,#21a585,#228d8d,#1f9f88,#20928c,#2a778e,#297a8e,#31688e,#3b528b,#3b528b,#463480,#2c728e,#2e6d8e,#297b8e,#218e8d,#228d8d,#20928c,#21908d,#297b8e,#1f978b,#40bd72,#25ac82,#34b679,#3aba76,#2ab07f,#1fa287,#27ad81,#1fa187,#1f9a8a,#20928c,#218f8d,#1f9a8a,#25858e,#228b8d,#3d4e8a,#404588,#365c8d,#3c508b,#365d8d,#306a8e,#2b748e,#29798e,#287d8e,#24878e,#1f998a,#25ab82,#1fa088,#1f9e89,#287d8e,#20928c,#1f978b,#218e8d,#2d708e,#287c8e,#39568c,#32648e,#287d8e,#287d8e,#29798e,#25848e,#277e8e,#238a8d,#26828e,#297b8e,#297b8e,#2f6c8e,#3a548c,#2d718e,#306a8e,#39558c,#26828e,#2c738e,#2e6e8e,#375a8c,#31668e,#365c8d,#31678e,#1f948c,#25838e,#1e9c89,#23a983,#24aa83,#32b67a,#1fa088)"></div>
<div style="left:1742.0px;top:999.8px;width:60.8px;height:17.1px;background:linear-gradient(90deg,#1f998a,#27808e,#277f8e,#25848e,#228b8d,#24878e,#218e8d,#287d8e,#218e8d,#25858e,#20928c,#24878e,#1f9e89,#228d8d,#27808e,#2f6c8e,#30698e,#2e6e8e,#2d718e,#29798e,#2c738e)"></div>
<div style="left:1048.2px;top:1016.9px;width:131.8px;height:17.1px;background:linear-gradient(90deg,#2c738e,#238a8d,#277e8e,#27808e,#2b748e,#2c738e,#287d8e,#297b8e,#2c718e,#20928c,#1f968b,#228d8d,#26818e,#1f958b,#27808e,#21918c,#1fa187,#1fa088,#20928c,#1f958b,#24878e,#21908d,#2b758e,#2a788e,#25858e,#25858e,#24868e,#2a778e,#23888e,#218f8d,#218e8d,#20928c,#1f978b,#1e9d89,#1f958b,#1e9c89,#218f8d,#27808e,#20928c,#228d8d,#2e6e8e,#2c738e,#27808e,#277e8e,#24878e)"></div>
<div style="left:1218.0px;top:1016.9px;width:392.7px;height:17.1px;background:linear-gradient(90deg,#58c765,#25ab82,#2e6d8e,#2a768e,#277f8e,#2d708e,#2a768e,#1f948c,#1f9f88,#2eb37c,#27ad81,#27ad81,#1f958b,#228c8d,#25858e,#2c738e,#25858e,#228b8d,#1e9b8a,#1e9c89,#228c8d,#228b8d,#277e8e,#23898e,#21908d,#2a778e,#2c718e,#2a778e,#297b8e,#26828e,#25848e,#23888e,#24878e,#277f8e,#228c8d,#1e9b8a,#1fa287,#1fa188,#218e8d,#24878e,#24878e,#2a788e,#25848e,#23898e,#1f988b,#25ab82,#21a685,#3dbc74,#3fbc73,#2fb47c,#2ab07f,#1f958b,#297a8e,#25848e,#27808e,#1f958b,#23888e,#1f988b,#277e8e,#218f8d,#25858e,#21918c,#277f8e,#25838e,#24868e,#2a788e,#2f6b8e,#365c8d,#3c4f8a,#355f8d,#424086,#460b5e,#443a83,#375b8d,#355f8d,#375b8d,#3d4e8a,#414487,#404588,#3e4a89,#2c738e,#2c718e,#277f8e,#218f8d,#20928c,#24868e,#26828e,#2b758e,#1e9d89,#20938c,#1e9b8a,#20928c,#1f958b,#1e9b8a,#20928c,#24868e,#277e8e,#277f8e,#26828e,#32648e,#355e8d,#375b8d,#375a8c,#424186,#2e6f8e,#3b518b,#31678e,#2e6f8e,#30698e,#24878e,#21918c,#24aa83,#1e9b8a,#25858e,#218f8d,#30698e,#34608d,#33638d,#2f6b8e,#306a8e,#2f6c8e,#3e4989,#39568c,#2f6b8e,#355f8d,#24868e,#30698e,#26818e,#21908d,#238a8d,#2e6e8e,#21908d,#1f9e89,#1fa088)"></div>
<div style="left:1742.0px;top:1016.9px;width:60.8px;height:17.1px;background:linear-gradient(90deg,#2f6b8e,#228b8d,#29798e,#2c738e,#2e6f8e,#26828e,#297b8e,#218f8d,#277f8e,#2e6f8e,#29798e,#33628d,#2e6f8e,#23888e,#218f8d,#297a8e,#1f978b,#1f9a8a,#24868e,#27808e,#218e8d)"></div>
<div style="left:1048.2px;top:1034.0px;width:131.8px;height:17.1px;background:linear-gradient(90deg,#2ab07f,#48c16e,#2db27d,#27ad81,#21a685,#32648e,#2c738e,#228c8d,#25858e,#21908d,#1f9a8a,#20928c,#1fa287,#22a785,#1f958b,#1e9b8a,#21918c,#22a785,#218e8d,#2e6f8e,#2d708e,#2e6e8e,#375a8c,#2f6b8e,#24868e,#1e9b8a,#21a685,#29af7f,#22a884,#27ad81,#1e9d89,#21908d,#20938c,#238a8d,#20928c,#1e9d89,#37b878,#2cb17e,#52c569,#58c765,#44bf70,#3fbc73,#2fb47c,#28ae80,#1f948c)"></div>
<div style="left:1218.0px;top:1034.0px;width:392.7px;height:17.1px;background:linear-gradient(90deg,#22a785,#20a386,#24868e,#228d8d,#26828e,#238a8d,#228d8d,#20938c,#1f948c,#22a785,#27ad81,#3fbc73,#48c16e,#5cc863,#37b878,#5ac864,#3aba76,#35b779,#238a8d,#20928c,#20928c,#1fa088,#1e9b8a,#21a685,#7ad151,#32b67a,#25ac82,#1fa287,#1e9b8a,#20928c,#24868e,#20a386,#20938c,#24878e,#20928c,#277e8e,#1f958b,#25ac82,#2db27d,#22a884,#21a585,#1fa287,#218e8d,#1f958b,#27808e,#31688e,#2e6e8e,#287c8e,#24878e,#218f8d,#1e9c89,#1f978b,#1f948c,#21908d,#20928c,#1f978b,#20938c,#1f998a,#20938c,#218e8d,#23898e,#218e8d,#26828e,#21918c,#2ab07f,#2eb37c,#21a685,#4ec36b,#40bd72,#1e9b8a,#2db27d,#1fa187,#24878e,#1f948c,#24878e,#365c8d,#46307e,#375b8d,#1f968b,#22a884,#1f978b,#218e8d,#1f9f88,#2a788e,#2d708e,#1f998a,#25858e,#1f958b,#228d8d,#26818e,#218f8d,#26828e,#238a8d,#1e9c89,#1f9e89,#1fa188,#28ae80,#32b67a,#32b67a,#34b679,#4cc26c,#28ae80,#3aba76,#4ac16d,#60ca60,#3fbc73,#2ab07f,#228d8d,#23888e,#277e8e,#24878e,#277f8e,#26828e,#29af7f,#20a386,#38b977,#26ad81,#20928c,#1f9f88,#1e9b8a,#2e6f8e,#21918c,#1f968b,#1f9e89,#20928c,#25ab82,#1e9c89,#1f948c,#297a8e,#287d8e,#1f948c,#23888e,#20a386,#23a983)"></div>
<div style="left:1742.0px;top:1034.0px;width:60.8px;height:17.1px;background:linear-gradient(90deg,#1f978b,#1f948c,#20928c,#287d8e,#20928c,#1f948c,#218e8d,#21918c,#2e6f8e,#23898e,#2a778e,#1f9e89,#23898e,#1f968b,#27808e,#20928c,#29798e,#218e8d,#1f958b,#1f948c,#2a788e)"></div>
<div style="left:1048.2px;top:1051.1px;width:131.8px;height:17.1px;background:linear-gradient(90deg,#228c8d,#20a386,#3dbc74,#31b57b,#56c667,#37b878,#20928c,#228c8d,#2e6d8e,#2e6d8e,#2b758e,#297b8e,#238a8d,#238a8d,#21a585,#32b67a,#25ac82,#25ac82,#22a785,#1f998a,#20938c,#22a785,#1fa187,#1f948c,#238a8d,#2a768e,#23888e,#287c8e,#25858e,#2f6b8e,#24868e,#2a778e,#29798e,#2b748e,#25858e,#297a8e,#1f958b,#1f998a,#21908d,#1f978b,#22a785,#2e6d8e,#2b758e,#2f6b8e,#34608d)"></div>
<div style="left:1218.0px;top:1051.1px;width:392.7px;height:17.1px;background:linear-gradient(90deg,#2a788e,#2b758e,#218e8d,#24868e,#1fa287,#25848e,#228b8d,#23898e,#26828e,#25838e,#218e8d,#24aa83,#1f968b,#1f948c,#2c718e,#26828e,#2d718e,#29798e,#2f6c8e,#277f8e,#228b8d,#20928c,#1f9e89,#218f8d,#23888e,#2b758e,#2a778e,#31678e,#2d718e,#39558c,#30698e,#32658e,#228d8d,#297a8e,#2cb17e,#25ab82,#5ac864,#28ae80,#26ad81,#218f8d,#24878e,#2f6c8e,#32658e,#365c8d,#3b528b,#3b518b,#306a8e,#277e8e,#25838e,#24868e,#1f978b,#20938c,#218e8d,#23898e,#1f948c,#21a685,#22a785,#4ac16d,#3aba76,#23a983,#1f9e89,#24868e,#27808e,#297b8e,#218e8d,#20928c,#1fa187,#25ab82,#40bd72,#4ac16d,#84d44b,#84d44b,#9bd93c,#a0da39,#84d44b,#6ece58,#4ac16d,#3dbc74,#21a685,#21a685,#25ac82,#22a785,#22a785,#20a486,#20a386,#218f8d,#29798e,#2a768e,#218e8d,#25838e,#22a785,#21918c,#20928c,#20a386,#1e9c89,#21a585,#20a386,#1e9b8a,#277f8e,#23888e,#277f8e,#1f998a,#20928c,#23898e,#24aa83,#1f948c,#1fa187,#20a386,#20938c,#1fa187,#22a785,#32b67a,#21a685,#2cb17e,#1f9f88,#21a685,#22a785,#1fa188,#1fa187,#2ab07f,#27ad81,#38b977,#27ad81,#26ad81,#20928c,#1e9c89,#20938c,#25ab82,#26ad81,#28ae80,#20a386,#228b8d,#2a768e,#27808e)"></div>
<div style="left:1742.0px;top:1051.1px;width:60.8px;height:17.1px;background:linear-gradient(90deg,#1f958b,#1e9b8a,#1f9e89,#31b57b,#27ad81,#32b67a,#38b977,#3bbb75,#26ad81,#20a486,#2cb17e,#38b977,#22a785,#20a386,#20a486,#25848e,#1f9e89,#228c8d,#1f9e89,#29af7f,#1fa187)"></div>
<div style="left:1048.2px;top:1068.1px;width:131.8px;height:17.1px;background:linear-gradient(90deg,#24878e,#228d8d,#277f8e,#228b8d,#23888e,#24868e,#228d8d,#24868e,#25848e,#228b8d,#277e8e,#2e6f8e,#355e8d,#2c728e,#32658e,#23898e,#21a585,#228c8d,#22a785,#23a983,#26828e,#1fa088,#218f8d,#1f9e89,#20928c,#24868e,#25838e,#25858e,#297b8e,#2e6f8e,#2a778e,#31668e,#39558c,#375a8c,#32648e,#2a788e,#2a778e,#228d8d,#20938c,#1e9c89,#2eb37c,#3bbb75,#4cc26c,#3aba76,#3fbc73)"></div>
<div style="left:1218.0px;top:1068.1px;width:392.7px;height:17.1px;background:linear-gradient(90deg,#24878e,#20928c,#20938c,#22a884,#20938c,#22a785,#28ae80,#20a486,#38b977,#37b878,#20a486,#1f998a,#1f948c,#1e9c89,#1fa188,#20938c,#1f9f88,#21918c,#25ac82,#22a884,#20a386,#1fa287,#1f968b,#20928c,#287c8e,#277f8e,#27808e,#26818e,#25858e,#1f9f88,#1f958b,#22a884,#24868e,#20a486,#1fa287,#21908d,#27808e,#306a8e,#1fa187,#5ac864,#1f998a,#25838e,#218e8d,#228d8d,#218e8d,#228c8d,#20938c,#21918c,#23888e,#31b57b,#1e9b8a,#25838e,#2a768e,#29798e,#20938c,#238a8d,#1f9a8a,#238a8d,#2a788e,#32648e,#2e6d8e,#287d8e,#24868e,#23888e,#1f968b,#1fa287,#2a768e,#1f978b,#22a785,#21a685,#1f978b,#26828e,#25848e,#26818e,#39568c,#2e6e8e,#23888e,#26828e,#23888e,#25858e,#25838e,#27808e,#24878e,#31b57b,#25ab82,#24878e,#24878e,#1f968b,#218f8d,#23898e,#277f8e,#287d8e,#20928c,#23898e,#297b8e,#1f968b,#228b8d,#228d8d,#20928c,#238a8d,#1f988b,#4ec36b,#dae319,#95d840,#1fa188,#228c8d,#1e9b8a,#1fa188,#1f948c,#1e9c89,#25ab82,#20938c,#20938c,#20928c,#25848e,#21908d,#287d8e,#20928c,#21908d,#1fa188,#21a685,#24aa83,#1f9f88,#23a983,#1f988b,#1f988b,#1f998a,#26818e,#24878e,#228d8d,#2d718e,#21918c,#27808e,#2b748e)"></div>
<div style="left:1742.0px;top:1068.1px;width:60.8px;height:17.1px;background:linear-gradient(90deg,#29af7f,#31b57b,#54c568,#22a884,#1f9a8a,#1f998a,#24878e,#23898e,#2c718e,#2e6f8e,#287d8e,#228b8d,#23898e,#1f958b,#20a486,#4ac16d,#a2da37,#77d153,#3aba76,#3bbb75,#1f9f88)"></div>
<div style="left:1048.2px;top:1085.2px;width:131.8px;height:17.1px;background:linear-gradient(90deg,#26828e,#32658e,#375a8c,#2c718e,#1f9a8a,#1f9e89,#20a386,#1fa287,#1f9e89,#21a585,#1f9a8a,#1f958b,#20a386,#218e8d,#21908d,#2cb17e,#1e9d89,#21a685,#2db27d,#28ae80,#32b67a,#1e9c89,#22a785,#277e8e,#2c738e,#27808e,#277f8e,#228b8d,#28ae80,#20938c,#1fa187,#228c8d,#228d8d,#26828e,#228c8d,#29798e,#26818e,#218e8d,#1fa188,#25ab82,#27ad81,#25838e,#23898e,#2a778e,#26828e)"></div>
<div style="left:1218.0px;top:1085.2px;width:392.7px;height:17.1px;background:linear-gradient(90deg,#2c728e,#23898e,#27808e,#2c728e,#29798e,#25858e,#29798e,#2a788e,#228c8d,#21918c,#1f978b,#238a8d,#297a8e,#26828e,#287c8e,#25858e,#26828e,#218e8d,#297b8e,#1f958b,#1f978b,#1f978b,#23898e,#238a8d,#1e9c89,#26818e,#23898e,#2e6d8e,#2e6d8e,#29798e,#31688e,#277e8e,#277e8e,#228b8d,#1f948c,#23898e,#228d8d,#20928c,#21918c,#29af7f,#37b878,#65cb5e,#3fbc73,#32b67a,#20a486,#1f9e89,#2a788e,#2a778e,#34608d,#2e6e8e,#26828e,#26818e,#1f998a,#1fa188,#2ab07f,#20a386,#22a785,#1fa287,#1f958b,#287c8e,#20a486,#297b8e,#25858e,#1f958b,#21908d,#228d8d,#25838e,#20938c,#23898e,#27808e,#277f8e,#23a983,#1f9e89,#29af7f,#3bbb75,#29af7f,#35b779,#1f9f88,#1f988b,#2fb47c,#3bbb75,#2eb37c,#46c06f,#44bf70,#34b679,#60ca60,#32b67a,#46c06f,#1fa187,#1e9c89,#277e8e,#25838e,#31668e,#355e8d,#306a8e,#277e8e,#24868e,#25858e,#26828e,#218f8d,#277f8e,#2e6e8e,#24868e,#277e8e,#25848e,#2e6d8e,#2c738e,#2c738e,#2d708e,#26828e,#277e8e,#1fa188,#228b8d,#21918c,#20928c,#25ac82,#27ad81,#21a585,#26828e,#2a788e,#31678e,#375a8c,#27808e,#297b8e,#1e9b8a,#1f948c,#1fa287,#28ae80,#22a884,#3dbc74,#40bd72,#2fb47c,#31b57b,#29af7f)"></div>
<div style="left:1742.0px;top:1085.2px;width:60.8px;height:17.1px;background:linear-gradient(90deg,#1f978b,#27ad81,#1e9d89,#20928c,#24868e,#1f958b,#277f8e,#297a8e,#228c8d,#24868e,#2c728e,#31678e,#2b758e,#2c728e,#2c728e,#31688e,#2e6e8e,#375a8c,#38598c,#32648e,#2e6d8e)"></div>
<div style="left:1048.2px;top:1102.3px;width:131.8px;height:17.1px;background:linear-gradient(90deg,#22a785,#48c16e,#3fbc73,#3fbc73,#3fbc73,#24aa83,#34b679,#1f9f88,#24aa83,#20938c,#277e8e,#1f958b,#20928c,#1f988b,#228c8d,#2c718e,#2e6d8e,#297a8e,#375b8d,#32648e,#2a788e,#34618d,#2a778e,#277e8e,#27808e,#29798e,#2e6e8e,#2d718e,#27808e,#238a8d,#25848e,#2eb37c,#21a685,#1fa187,#28ae80,#38b977,#24aa83,#38b977,#24aa83,#2db27d,#29af7f,#1f9a8a,#1fa088,#25858e,#1f9a8a)"></div>
<div style="left:1218.0px;top:1102.3px;width:392.7px;height:17.1px;background:linear-gradient(90deg,#1e9b8a,#21908d,#228c8d,#2f6b8e,#228d8d,#297b8e,#228b8d,#25858e,#1e9c89,#20a486,#21918c,#1f9f88,#1fa088,#26818e,#26828e,#2a768e,#21918c,#287d8e,#21908d,#1fa188,#1fa287,#23888e,#26828e,#21908d,#2f6b8e,#21908d,#2db27d,#25ab82,#25ab82,#29af7f,#35b779,#31b57b,#40bd72,#2ab07f,#20928c,#1f968b,#297b8e,#31668e,#355f8d,#2d718e,#24878e,#218e8d,#1e9b8a,#1fa187,#1e9b8a,#1e9b8a,#25848e,#277f8e,#297a8e,#2c738e,#31668e,#2c728e,#20928c,#20938c,#20938c,#24aa83,#2eb37c,#26ad81,#2cb17e,#37b878,#1fa287,#25838e,#26818e,#24878e,#26828e,#21908d,#218e8d,#1e9d89,#2cb17e,#24aa83,#1f9a8a,#228d8d,#1f958b,#20938c,#277e8e,#29798e,#31678e,#31688e,#26818e,#355f8d,#2d708e,#2d708e,#2f6c8e,#287c8e,#2d718e,#27808e,#228c8d,#1f9e89,#1fa088,#1fa188,#1fa187,#25ac82,#22a785,#1f9f88,#25848e,#27808e,#218e8d,#23888e,#277f8e,#22a785,#23a983,#20a486,#3dbc74,#46c06f,#1f948c,#3f4788,#2a778e,#1f958b,#25ab82,#28ae80,#28ae80,#42be71,#25858e,#26828e,#2c718e,#39558c,#287c8e,#31678e,#2d708e,#2a778e,#24868e,#287d8e,#24868e,#20928c,#1f958b,#21918c,#1f948c,#1f9f88,#218e8d,#238a8d,#30698e,#365c8d,#414287,#3e4c8a)"></div>
<div style="left:1742.0px;top:1102.3px;width:60.8px;height:17.1px;background:linear-gradient(90deg,#1fa188,#1f9e89,#1f968b,#1f958b,#1e9b8a,#1f998a,#1e9c89,#24868e,#277e8e,#34608d,#2c718e,#375a8c,#31678e,#31668e,#2a788e,#218e8d,#25ac82,#40bd72,#63cb5f,#34b679,#46c06f)"></div>
<div style="left:1048.2px;top:1119.4px;width:131.8px;height:17.1px;background:linear-gradient(90deg,#297b8e,#1f998a,#1f968b,#20928c,#26828e,#21a685,#1f998a,#20a386,#84d44b,#f4e61e,#fde725,#5cc863,#22a785,#29798e,#26828e,#306a8e,#34608d,#355e8d,#2f6b8e,#24868e,#2ab07f,#2cb17e,#60ca60,#4ac16d,#22a785,#20928c,#1f9a8a,#2b758e,#2e6e8e,#26828e,#297b8e,#2a768e,#26818e,#33628d,#2c738e,#2c728e,#2e6d8e,#2f6b8e,#3d4d8a,#3b528b,#3e4c8a,#443983,#2e6f8e,#26818e,#228b8d)"></div>
<div style="left:1218.0px;top:1119.4px;width:392.7px;height:17.1px;background:linear-gradient(90deg,#238a8d,#2e6e8e,#25848e,#26828e,#218e8d,#20a486,#1fa187,#1f9f88,#1fa088,#21908d,#21a685,#1f9a8a,#20a486,#24868e,#20938c,#1e9d89,#218f8d,#32648e,#2c718e,#33628d,#33638d,#2f6c8e,#306a8e,#287c8e,#26818e,#1f9f88,#1f9f88,#20a486,#65cb5e,#d0e11c,#34b679,#218e8d,#29798e,#306a8e,#25838e,#1e9d89,#238a8d,#1f968b,#26828e,#218f8d,#33638d,#31678e,#3f4889,#453581,#3e4a89,#31678e,#26828e,#26828e,#228c8d,#1fa287,#1fa287,#1f9f88,#1f9f88,#1f9f88,#3bbb75,#44bf70,#23a983,#2cb17e,#2fb47c,#2ab07f,#1f958b,#1f9a8a,#26828e,#23888e,#297b8e,#1e9b8a,#2b748e,#1f988b,#32b67a,#21a585,#27ad81,#1fa088,#1e9c89,#20938c,#228c8d,#2f6b8e,#31668e,#31668e,#30698e,#2a778e,#39568c,#31668e,#2c728e,#31688e,#25838e,#1fa188,#1e9d89,#25858e,#287c8e,#2a778e,#26818e,#2e6d8e,#2c718e,#25858e,#24868e,#20928c,#277f8e,#1f9a8a,#228b8d,#26818e,#26828e,#23888e,#21908d,#2c738e,#29798e,#2a778e,#25848e,#1f968b,#238a8d,#2db27d,#4cc26c,#9bd93c,#34b679,#23888e,#2e6f8e,#31668e,#2c738e,#2a788e,#24868e,#1f9e89,#1e9d89,#228c8d,#1f9a8a,#1f998a,#2d708e,#32658e,#31688e,#375b8d,#39568c,#3f4889,#2a768e,#25858e,#20938c,#238a8d)"></div>
<div style="left:1742.0px;top:1119.4px;width:60.8px;height:17.1px;background:linear-gradient(90deg,#3fbc73,#1fa287,#1e9c89,#218e8d,#23888e,#39568c,#3e4a89,#3c4f8a,#3c4f8a,#355e8d,#2a768e,#2e6e8e,#23898e,#1f948c,#26828e,#21918c,#1fa088,#1e9b8a,#20928c,#21a585,#238a8d)"></div>
<div style="left:1048.2px;top:1136.5px;width:131.8px;height:17.1px;background:linear-gradient(90deg,#75d054,#65cb5e,#38b977,#1e9c89,#1f948c,#25ac82,#277f8e,#27808e,#218f8d,#20928c,#1f998a,#21a685,#28ae80,#31b57b,#21a685,#25ab82,#2eb37c,#46c06f,#52c569,#2cb17e,#24aa83,#2ab07f,#218e8d,#21918c,#238a8d,#297a8e,#27808e,#228b8d,#1f9e89,#2cb17e,#28ae80,#3dbc74,#40bd72,#22a884,#38b977,#20928c,#21908d,#25ab82,#228c8d,#228d8d,#1f978b,#21a585,#26ad81,#22a884,#1fa088)"></div>
<div style="left:1218.0px;top:1136.5px;width:392.7px;height:17.1px;background:linear-gradient(90deg,#1fa287,#35b779,#25ab82,#25ab82,#1f9a8a,#1f968b,#21a585,#26818e,#238a8d,#23898e,#1fa188,#24878e,#1f948c,#22a785,#27ad81,#35b779,#29af7f,#44bf70,#20928c,#25848e,#30698e,#26818e,#2a788e,#25848e,#25858e,#1f9f88,#20928c,#23898e,#218e8d,#21908d,#26828e,#1f958b,#1e9c89,#21908d,#1fa287,#21918c,#1e9c89,#218e8d,#20928c,#1f9f88,#27ad81,#3dbc74,#38b977,#34b679,#26ad81,#22a884,#228c8d,#24878e,#20928c,#238a8d,#1f978b,#218e8d,#1f9f88,#21a685,#22a884,#28ae80,#2ab07f,#24aa83,#20a386,#25ac82,#1e9d89,#38b977,#2eb37c,#5cc863,#35b779,#2eb37c,#22a884,#1f998a,#2ab07f,#42be71,#58c765,#27ad81,#1fa187,#26828e,#25838e,#46c06f,#52c569,#4cc26c,#1e9c89,#1f978b,#25858e,#2b748e,#277e8e,#287c8e,#277f8e,#1f988b,#1f9e89,#29af7f,#3dbc74,#3fbc73,#52c569,#48c16e,#35b779,#2db27d,#25ab82,#22a884,#1f968b,#1f9a8a,#1e9b8a,#21a685,#1fa188,#1e9d89,#1f988b,#27ad81,#25ab82,#1e9c89,#1fa287,#23888e,#25848e,#1f9f88,#21908d,#1f9a8a,#20a486,#1f9e89,#1fa187,#21a685,#1f9f88,#20928c,#24878e,#1f948c,#24aa83,#2cb17e,#21a685,#26ad81,#2eb37c,#22a884,#3aba76,#22a785,#1f9f88,#2b748e,#24878e,#277e8e,#2b748e,#34608d)"></div>
<div style="left:1742.0px;top:1136.5px;width:60.8px;height:17.1px;background:linear-gradient(90deg,#20938c,#21918c,#20a386,#34b679,#34b679,#44bf70,#44bf70,#67cc5c,#3fbc73,#29af7f,#1f9e89,#1e9c89,#218e8d,#228c8d,#20938c,#1f9f88,#20a386,#3aba76,#5ac864,#60ca60,#70cf57)"></div>
<div style="left:1048.2px;top:1153.5px;width:131.8px;height:17.1px;background:linear-gradient(90deg,#355e8d,#2e6f8e,#2c738e,#287c8e,#2e6e8e,#2a768e,#2c728e,#31688e,#2a768e,#2e6d8e,#423f85,#46307e,#424186,#46307e,#3c4f8a,#31688e,#277e8e,#2c718e,#2d718e,#2f6b8e,#2c718e,#2d718e,#297b8e,#218f8d,#2d718e,#20928c,#1f958b,#1fa187,#1f958b,#3dbc74,#54c568,#56c667,#1fa188,#25ac82,#28ae80,#27ad81,#1fa088,#228b8d,#1fa287,#21918c,#1f9e89,#1f948c,#24878e,#1f948c,#228d8d)"></div>
<div style="left:1218.0px;top:1153.5px;width:392.7px;height:17.1px;background:linear-gradient(90deg,#2a768e,#31678e,#34618d,#375a8c,#297a8e,#297b8e,#228d8d,#1f998a,#22a785,#218f8d,#22a884,#21918c,#228b8d,#1f9e89,#1f978b,#1e9c89,#22a785,#22a785,#25858e,#20928c,#2c738e,#2c728e,#297a8e,#24878e,#1f968b,#2a778e,#218e8d,#23888e,#27808e,#218f8d,#27808e,#1f998a,#22a785,#32b67a,#4ac16d,#2db27d,#1f9a8a,#3a548c,#2d718e,#297b8e,#365c8d,#25838e,#26818e,#20a386,#26ad81,#2cb17e,#22a785,#23888e,#24aa83,#228b8d,#287c8e,#277f8e,#238a8d,#20928c,#2e6e8e,#375b8d,#25858e,#20928c,#2a768e,#31688e,#3f4889,#3a548c,#33628d,#2f6c8e,#39568c,#365c8d,#3b518b,#34618d,#31688e,#1e9d89,#218e8d,#1f958b,#1fa088,#27808e,#2c728e,#453581,#414287,#39568c,#2e6d8e,#26828e,#26828e,#1fa187,#2db27d,#46c06f,#54c568,#75d054,#50c46a,#31b57b,#21a585,#24868e,#26828e,#34618d,#2d708e,#33638d,#34618d,#306a8e,#218f8d,#1f978b,#238a8d,#1f958b,#26828e,#365d8d,#297b8e,#26828e,#287d8e,#25858e,#287d8e,#297a8e,#297a8e,#2a768e,#365c8d,#228d8d,#277f8e,#1e9d89,#23a983,#23898e,#228c8d,#228b8d,#26818e,#24868e,#1f948c,#20928c,#1f978b,#22a884,#26ad81,#2ab07f,#1f9e89,#22a785,#228d8d,#20a386,#34b679,#35b779,#31b57b,#2cb17e)"></div>
<div style="left:1742.0px;top:1153.5px;width:60.8px;height:17.1px;background:linear-gradient(90deg,#22a884,#21a585,#24868e,#2a768e,#3e4c8a,#29798e,#2c728e,#29798e,#218e8d,#1f9e89,#23a983,#25ac82,#28ae80,#287d8e,#2e6f8e,#34608d,#2f6b8e,#365c8d,#365d8d,#38598c,#2d708e)"></div>
<div style="left:1048.2px;top:1170.6px;width:131.8px;height:17.1px;background:linear-gradient(90deg,#297b8e,#3e4989,#1f958b,#27808e,#25858e,#24878e,#3fbc73,#23a983,#24aa83,#21a585,#1f948c,#1f988b,#297b8e,#26828e,#1f968b,#24878e,#1f958b,#25848e,#1f988b,#23888e,#20928c,#1f958b,#23888e,#2a768e,#2e6d8e,#2c718e,#3c508b,#39568c,#2b748e,#2f6c8e,#297b8e,#306a8e,#2f6b8e,#218e8d,#1fa088,#21a585,#21a585,#35b779,#20a386,#3aba76,#1fa287,#20a386,#1f9e89,#1fa287,#24868e)"></div>
<div style="left:1218.0px;top:1170.6px;width:392.7px;height:17.1px;background:linear-gradient(90deg,#26828e,#20928c,#1f9f88,#22a785,#22a785,#3aba76,#56c667,#2fb47c,#1f998a,#21a685,#44bf70,#2fb47c,#42be71,#20928c,#1e9b8a,#20928c,#2d718e,#26818e,#1f968b,#1fa287,#23a983,#20938c,#21918c,#27808e,#25848e,#23888e,#218e8d,#218f8d,#23888e,#1f958b,#277f8e,#2c718e,#2e6e8e,#287d8e,#2a778e,#2a768e,#2a778e,#2b758e,#30698e,#2e6e8e,#2f6b8e,#2f6b8e,#2a778e,#30698e,#1f9a8a,#40bd72,#2cb17e,#23898e,#1fa188,#1f948c,#21a585,#3aba76,#65cb5e,#dfe318,#bade28,#86d549,#24aa83,#44bf70,#29af7f,#21918c,#1f9f88,#20928c,#20938c,#22a884,#1fa188,#3aba76,#35b779,#44bf70,#3dbc74,#28ae80,#29af7f,#1f9f88,#1fa088,#1e9c89,#228b8d,#29798e,#2d708e,#297b8e,#39568c,#33638d,#297b8e,#297a8e,#1f998a,#1e9c89,#2eb37c,#3aba76,#21a585,#21908d,#23888e,#2e6e8e,#31668e,#25858e,#23898e,#20938c,#1f9e89,#24878e,#25838e,#26828e,#1f9a8a,#1e9b8a,#20a486,#1fa088,#23898e,#238a8d,#27808e,#24868e,#2e6d8e,#24878e,#26828e,#2e6f8e,#297b8e,#2c738e,#34618d,#1f988b,#1e9c89,#21908d,#20928c,#1e9b8a,#20928c,#21a585,#26828e,#297b8e,#26ad81,#20a386,#1fa187,#20938c,#228b8d,#26818e,#277e8e,#1fa187,#297a8e,#1f978b,#1fa088,#1f9a8a)"></div>
<div style="left:1742.0px;top:1170.6px;width:60.8px;height:17.1px;background:linear-gradient(90deg,#75d054,#3bbb75,#52c569,#218f8d,#23888e,#1f9e89,#2fb47c,#27ad81,#27808e,#27808e,#2f6c8e,#2e6d8e,#277e8e,#218e8d,#20928c,#20a386,#27ad81,#1f978b,#2eb37c,#228d8d,#25838e)"></div>
<div style="left:1048.2px;top:1187.7px;width:131.8px;height:17.1px;background:linear-gradient(90deg,#25ab82,#27808e,#2c738e,#26828e,#2d718e,#24868e,#21918c,#1fa188,#31688e,#2d718e,#31668e,#2e6e8e,#414287,#3c508b,#3a548c,#375b8d,#2c738e,#34608d,#238a8d,#277e8e,#277e8e,#2a788e,#1e9c89,#228c8d,#277f8e,#26828e,#23a983,#25848e,#26828e,#40bd72,#1fa188,#228b8d,#1f958b,#21a685,#1e9b8a,#20928c,#1f998a,#25848e,#25838e,#1f9a8a,#22a884,#40bd72,#52c569,#58c765,#29af7f)"></div>
<div style="left:1218.0px;top:1187.7px;width:392.7px;height:17.1px;background:linear-gradient(90deg,#297b8e,#20928c,#20928c,#238a8d,#2e6f8e,#1f9a8a,#1f998a,#1fa287,#1fa287,#21a685,#32b67a,#1fa188,#1f988b,#1f998a,#1f9e89,#228b8d,#24868e,#1f968b,#228d8d,#1f9a8a,#1f958b,#46c06f,#3dbc74,#22a884,#2db27d,#1fa187,#35b779,#23a983,#1fa188,#1f9f88,#1fa088,#2cb17e,#22a884,#1fa187,#32b67a,#31b57b,#28ae80,#22a884,#2cb17e,#31b57b,#48c16e,#31b57b,#2fb47c,#1e9d89,#2c718e,#31688e,#365c8d,#34618d,#2c728e,#30698e,#39558c,#2b748e,#3d4d8a,#39558c,#34618d,#32648e,#34618d,#2e6d8e,#228c8d,#25848e,#33638d,#1f9e89,#24868e,#20928c,#1f9e89,#297a8e,#23898e,#24878e,#228d8d,#31668e,#2a768e,#2a778e,#2b748e,#24878e,#20928c,#23a983,#26ad81,#2db27d,#228d8d,#1f9e89,#1f978b,#1f9e89,#29798e,#23888e,#2c728e,#26828e,#306a8e,#24868e,#1fa287,#54c568,#32b67a,#1fa287,#1fa187,#1f948c,#1f9a8a,#1f998a,#24aa83,#1fa088,#1f988b,#25838e,#20a386,#25ab82,#1e9c89,#21908d,#20a486,#20938c,#25ab82,#1f988b,#22a785,#42be71,#3aba76,#25ac82,#1f948c,#228d8d,#1f948c,#1e9d89,#2c738e,#433d84,#3d4e8a,#277f8e,#26828e,#23898e,#355e8d,#2e6d8e,#2a768e,#2a768e,#23888e,#228b8d,#20928c,#2b748e,#218e8d,#2e6d8e,#23888e,#27808e)"></div>
<div style="left:1742.0px;top:1187.7px;width:60.8px;height:17.1px;background:linear-gradient(90deg,#33628d,#32658e,#39568c,#38588c,#31678e,#297a8e,#23888e,#21918c,#1f9a8a,#1f948c,#20a486,#1f968b,#2b748e,#277f8e,#46327e,#3c508b,#404588,#482475,#375a8c,#355e8d,#32648e)"></div>
<div style="left:1048.2px;top:1204.8px;width:131.8px;height:17.1px;background:linear-gradient(90deg,#228b8d,#20928c,#1fa287,#48c16e,#26ad81,#42be71,#1e9c89,#20928c,#40bd72,#32b67a,#24aa83,#3aba76,#52c569,#23a983,#1fa188,#1fa187,#26ad81,#32b67a,#1f948c,#21a685,#4cc26c,#28ae80,#2fb47c,#1e9d89,#1f948c,#21908d,#1f958b,#1f968b,#1f968b,#228c8d,#1f948c,#1f958b,#2d708e,#23888e,#26828e,#20928c,#297b8e,#21908d,#238a8d,#27808e,#355e8d,#26818e,#1f948c,#228d8d,#24868e)"></div>
<div style="left:1218.0px;top:1204.8px;width:392.7px;height:17.1px;background:linear-gradient(90deg,#2e6d8e,#24868e,#238a8d,#2d708e,#228d8d,#20928c,#2f6b8e,#2f6b8e,#3c4f8a,#355f8d,#375a8c,#2b758e,#25858e,#1f948c,#2db27d,#40bd72,#2fb47c,#277f8e,#26828e,#2a788e,#2b748e,#277f8e,#2b748e,#35b779,#1f948c,#21918c,#2b748e,#33638d,#3e4a89,#355e8d,#3b528b,#433d84,#32648e,#2c718e,#26828e,#27808e,#355f8d,#355f8d,#34608d,#38598c,#375b8d,#33628d,#3a538b,#33628d,#21918c,#1fa088,#21918c,#20928c,#20938c,#1f998a,#35b779,#29af7f,#89d548,#fde725,#b8de29,#69cd5b,#26ad81,#58c765,#34b679,#1f968b,#35b779,#25ac82,#38b977,#2ab07f,#24aa83,#31b57b,#29af7f,#2a778e,#2e6f8e,#33628d,#2c738e,#3e4989,#453781,#423f85,#3d4d8a,#32648e,#2f6c8e,#2b748e,#2d718e,#228b8d,#1fa188,#20a486,#23a983,#1fa287,#20928c,#20a486,#25ac82,#23898e,#1f998a,#1f998a,#23898e,#2a768e,#1f948c,#277e8e,#21918c,#218e8d,#25838e,#277f8e,#1f988b,#2a788e,#1f948c,#1fa187,#2db27d,#1e9b8a,#1f948c,#20a486,#1f9a8a,#26818e,#1e9d89,#228d8d,#24878e,#1f958b,#1f998a,#27808e,#25838e,#297a8e,#1f968b,#1e9c89,#23898e,#1fa187,#1fa088,#20a486,#1f9e89,#21a685,#27ad81,#21a685,#27ad81,#29af7f,#277f8e,#1f958b,#21a685,#1e9c89,#1fa088,#25838e)"></div>
<div style="left:1742.0px;top:1204.8px;width:60.8px;height:17.1px;background:linear-gradient(90deg,#2b758e,#24878e,#22a884,#1f9a8a,#21908d,#1f978b,#1f948c,#1f9f88,#1f958b,#1f988b,#26ad81,#34b679,#34b679,#37b878,#28ae80,#67cc5c,#37b878,#29af7f,#6ece58,#75d054,#58c765)"></div>
<div style="left:1048.2px;top:1221.9px;width:131.8px;height:17.1px;background:linear-gradient(90deg,#27ad81,#58c765,#20938c,#29af7f,#1f998a,#22a884,#40bd72,#48c16e,#3fbc73,#4ac16d,#2cb17e,#1f978b,#20a486,#26828e,#30698e,#29798e,#1f9f88,#228d8d,#25858e,#25848e,#277e8e,#21918c,#23888e,#20a386,#22a884,#42be71,#3fbc73,#2db27d,#1fa287,#21918c,#1fa187,#20928c,#1f948c,#228d8d,#23898e,#228c8d,#20928c,#23888e,#1f958b,#25838e,#218f8d,#20938c,#21908d,#31668e,#2c718e)"></div>
<div style="left:1218.0px;top:1221.9px;width:392.7px;height:17.1px;background:linear-gradient(90deg,#33628d,#3c508b,#33638d,#287d8e,#218e8d,#23a983,#1f998a,#42be71,#77d153,#3bbb75,#1fa188,#1e9b8a,#20a386,#21918c,#20928c,#21a685,#25ac82,#20938c,#23a983,#1e9c89,#22a884,#1f968b,#24878e,#277f8e,#20938c,#21918c,#2f6c8e,#2d718e,#32658e,#32648e,#39558c,#375b8d,#2c718e,#2b748e,#31668e,#34608d,#34618d,#26818e,#218f8d,#218e8d,#25ac82,#42be71,#2db27d,#1f9e89,#1f9f88,#1e9b8a,#1f9e89,#26ad81,#218f8d,#1e9b8a,#1e9c89,#1f9e89,#1f998a,#44bf70,#69cd5b,#95d840,#84d44b,#32b67a,#3fbc73,#25ab82,#28ae80,#3dbc74,#21a685,#31b57b,#37b878,#27808e,#3aba76,#1f9a8a,#228d8d,#48c16e,#52c569,#44bf70,#2fb47c,#2ab07f,#20a386,#22a884,#26ad81,#1fa287,#25ac82,#2ab07f,#34b679,#3dbc74,#42be71,#28ae80,#20928c,#26ad81,#22a884,#25ab82,#3fbc73,#29af7f,#2ab07f,#1fa188,#25ab82,#38b977,#44bf70,#84d44b,#44bf70,#3aba76,#27ad81,#1e9d89,#1f998a,#1e9c89,#2a788e,#297a8e,#287c8e,#21908d,#23888e,#2e6f8e,#2e6e8e,#375a8c,#2a788e,#2b748e,#2b758e,#2f6b8e,#2a768e,#2a778e,#2f6c8e,#29798e,#218e8d,#25848e,#1e9d89,#26818e,#20a386,#228c8d,#21908d,#2c738e,#2c728e,#375b8d,#2b758e,#2a788e,#2c738e,#2d708e,#1fa088,#228d8d)"></div>
<div style="left:1742.0px;top:1221.9px;width:60.8px;height:17.1px;background:linear-gradient(90deg,#20928c,#218f8d,#23888e,#218f8d,#20928c,#1f948c,#1fa287,#1e9c89,#1f9f88,#25848e,#25848e,#1f978b,#1fa187,#20928c,#26828e,#218e8d,#1f9e89,#31b57b,#38b977,#2cb17e,#46c06f)"></div>
<div style="left:1048.2px;top:1238.9px;width:131.8px;height:17.1px;background:linear-gradient(90deg,#238a8d,#1f948c,#1f9e89,#21908d,#2a768e,#238a8d,#23888e,#26828e,#27808e,#20938c,#218e8d,#20938c,#23898e,#238a8d,#1f978b,#21918c,#23898e,#277f8e,#297a8e,#375a8c,#34608d,#3d4e8a,#3c4f8a,#31678e,#297b8e,#31678e,#287c8e,#20928c,#1f9f88,#23898e,#1fa088,#1e9c89,#1f978b,#21908d,#21918c,#2a788e,#26828e,#218e8d,#29798e,#2f6c8e,#3a538b,#3d4d8a,#375a8c,#2c728e,#29798e)"></div>
<div style="left:1218.0px;top:1238.9px;width:392.7px;height:17.1px;background:linear-gradient(90deg,#277e8e,#21918c,#27ad81,#1f9f88,#21918c,#24aa83,#48c16e,#21a685,#20a486,#2cb17e,#1e9c89,#26828e,#2f6b8e,#2a768e,#23a983,#35b779,#1f9f88,#2f6b8e,#306a8e,#2b748e,#32648e,#238a8d,#297a8e,#218e8d,#2a788e,#297a8e,#29798e,#34618d,#24878e,#1e9b8a,#1f9e89,#28ae80,#21a585,#21a685,#1f9a8a,#27808e,#25858e,#25858e,#26828e,#29798e,#287d8e,#238a8d,#21908d,#2a768e,#1f958b,#20928c,#218f8d,#23888e,#228c8d,#228b8d,#21908d,#26818e,#1e9b8a,#297b8e,#1f9a8a,#23898e,#31688e,#27808e,#27808e,#32648e,#365d8d,#2a768e,#375a8c,#2d708e,#375a8c,#26828e,#27808e,#39568c,#32658e,#2f6b8e,#38598c,#365d8d,#23888e,#20a386,#23898e,#297b8e,#355f8d,#34618d,#2e6d8e,#25858e,#218e8d,#20928c,#28ae80,#1f988b,#25ac82,#1fa187,#20938c,#1fa287,#26828e,#27808e,#228b8d,#3b528b,#2a778e,#297a8e,#29798e,#2c728e,#33628d,#26828e,#21908d,#25ac82,#25ab82,#24868e,#1f968b,#1f9a8a,#20928c,#24878e,#1f9e89,#1e9d89,#23888e,#277f8e,#287d8e,#2b748e,#277e8e,#31668e,#2a768e,#21a685,#1fa287,#4cc26c,#48c16e,#6ece58,#44bf70,#3bbb75,#27ad81,#29af7f,#22a884,#1fa188,#20a386,#20a386,#26ad81,#38b977,#23898e,#1f978b,#25838e,#20928c)"></div>
<div style="left:1742.0px;top:1238.9px;width:60.8px;height:17.1px;background:linear-gradient(90deg,#29798e,#24aa83,#1f998a,#228c8d,#29798e,#287c8e,#24878e,#31678e,#2c718e,#21908d,#23898e,#20a486,#1e9c89,#1fa088,#1f978b,#2a778e,#433e85,#3c4f8a,#463480,#3e4989,#414487)"></div>
<div style="left:1048.2px;top:1256.0px;width:131.8px;height:17.1px;background:linear-gradient(90deg,#29798e,#297a8e,#228b8d,#2a768e,#2a788e,#24868e,#21908d,#28ae80,#4ac16d,#73d056,#48c16e,#27ad81,#24868e,#31678e,#31668e,#2e6e8e,#25848e,#29798e,#1e9c89,#1f968b,#21a685,#2db27d,#1f978b,#20a486,#2ab07f,#21a685,#1f9f88,#23a983,#29af7f,#26ad81,#1fa287,#27ad81,#24878e,#21918c,#24878e,#1f9f88,#26ad81,#1fa287,#22a884,#22a884,#1f9e89,#26828e,#1e9b8a,#25838e,#297b8e)"></div>
<div style="left:1218.0px;top:1256.0px;width:392.7px;height:17.1px;background:linear-gradient(90deg,#22a785,#20a486,#1f9e89,#25848e,#34608d,#355e8d,#31668e,#38598c,#355e8d,#277f8e,#27808e,#228b8d,#20928c,#1f9a8a,#25ab82,#4ec36b,#5ec962,#5ec962,#44bf70,#2eb37c,#46c06f,#1e9b8a,#20938c,#20a486,#1f958b,#24878e,#1e9c89,#20938c,#20a386,#24868e,#1f958b,#25838e,#228d8d,#1f988b,#1e9d89,#228c8d,#277f8e,#33638d,#2e6f8e,#2e6f8e,#355f8d,#28ae80,#3aba76,#28ae80,#2fb47c,#37b878,#28ae80,#26828e,#26828e,#423f85,#2a768e,#1fa187,#24878e,#21918c,#228d8d,#34618d,#30698e,#39558c,#218f8d,#21918c,#1e9d89,#31b57b,#5cc863,#2db27d,#21a685,#20928c,#25848e,#31678e,#33638d,#2f6c8e,#2c738e,#1fa088,#1f968b,#1fa287,#20a386,#1fa287,#31b57b,#26818e,#26828e,#277f8e,#31688e,#2a778e,#2b748e,#2e6f8e,#32648e,#31668e,#424186,#30698e,#2d708e,#30698e,#2a768e,#2a768e,#2a778e,#375a8c,#25838e,#218e8d,#25858e,#26818e,#1f958b,#1f958b,#33638d,#2d708e,#2f6b8e,#20938c,#1f978b,#21a585,#5ec962,#4ec36b,#26ad81,#24aa83,#228d8d,#20938c,#21a685,#1e9c89,#26ad81,#1e9b8a,#218e8d,#1fa088,#25838e,#23888e,#1f978b,#1e9b8a,#1f948c,#20928c,#1fa188,#21a585,#28ae80,#2b748e,#228d8d,#2f6b8e,#25858e,#1f968b,#22a785,#22a785)"></div>
<div style="left:1742.0px;top:1256.0px;width:60.8px;height:17.1px;background:linear-gradient(90deg,#228d8d,#21a685,#25ac82,#34b679,#25ab82,#1e9c89,#1f948c,#27808e,#1f9a8a,#26828e,#218e8d,#1fa088,#2db27d,#23888e,#1fa188,#1fa287,#20928c,#23a983,#1f9f88,#22a785,#1f948c)"></div>
<div style="left:1048.2px;top:1273.1px;width:131.8px;height:15.4px;background:linear-gradient(90deg,#26ad81,#1fa088,#20a386,#1f9f88,#1f988b,#31b57b,#24aa83,#20928c,#23898e,#277f8e,#287c8e,#2e6e8e,#21908d,#21918c,#2c738e,#287d8e,#228d8d,#228c8d,#21908d,#1e9b8a,#1f968b,#1f9a8a,#20938c,#238a8d,#37b878,#23a983,#40bd72,#46c06f,#69cd5b,#25ac82,#37b878,#1f948c,#277f8e,#21908d,#20a386,#73d056,#2fb47c,#3bbb75,#73d056,#24aa83,#20a386,#1f998a,#3aba76,#1f9a8a,#25ab82)"></div>
<div style="left:1218.0px;top:1273.1px;width:392.7px;height:15.4px;background:linear-gradient(90deg,#dde318,#56c667,#1f978b,#1f948c,#20928c,#20938c,#1fa187,#228c8d,#1f978b,#25848e,#26828e,#218e8d,#277e8e,#297b8e,#34618d,#228d8d,#25ab82,#1fa088,#1e9b8a,#25ab82,#23a983,#1f9a8a,#20928c,#24aa83,#20a486,#23898e,#2e6e8e,#31678e,#26818e,#2a778e,#27808e,#2ab07f,#20a486,#42be71,#2db27d,#2db27d,#22a785,#228b8d,#1f9f88,#20938c,#228d8d,#1e9b8a,#22a884,#28ae80,#1f988b,#42be71,#20a386,#3aba76,#27ad81,#25ab82,#20928c,#297a8e,#27808e,#31688e,#2d708e,#365c8d,#355f8d,#27808e,#297a8e,#287c8e,#25848e,#1f978b,#20938c,#2a778e,#1f9a8a,#25838e,#287d8e,#21918c,#218e8d,#26818e,#1f968b,#1e9d89,#228b8d,#25838e,#287d8e,#2c738e,#2f6b8e,#2a778e,#228b8d,#21918c,#1f948c,#27ad81,#1f988b,#28ae80,#1fa088,#1f9a8a,#20938c,#2db27d,#1f948c,#1f988b,#1fa188,#27ad81,#20a486,#1f988b,#25ac82,#218e8d,#1f978b,#23898e,#1f998a,#20928c,#2a788e,#2b758e,#1f978b,#1f948c,#21908d,#24878e,#1f978b,#1f978b,#1f978b,#228d8d,#46c06f,#22a884,#22a785,#20a486,#1fa287,#1e9d89,#21918c,#25858e,#1fa088,#24aa83,#218f8d,#2eb37c,#297b8e,#28ae80,#21a685,#218e8d,#24878e,#218f8d,#2d718e,#33628d,#3c4f8a,#26818e,#228b8d,#1fa188)"></div>
<div style="left:1742.0px;top:1273.1px;width:60.8px;height:15.4px;background:linear-gradient(90deg,#21a685,#23898e,#1fa287,#20928c,#21908d,#1f958b,#3fbc73,#31b57b,#20928c,#46c06f,#27ad81,#3dbc74,#28ae80,#35b779,#2ab07f,#20a386,#22a785,#1fa187,#1f9e89,#21a585,#22a785)"></div>
<div style="left:1048.2px;top:1298.0px;width:131.8px;height:19.0px;background:linear-gradient(90deg,#29798e,#26828e,#1f9e89,#1e9d89,#1fa188,#1fa187,#22a785,#31688e,#24868e,#1e9b8a,#25ac82,#54c568,#98d83e,#75d054,#63cb5f,#38b977,#1f978b,#32648e,#228c8d,#3e4c8a,#375a8c,#306a8e,#472f7d,#482576,#453781,#472d7b,#46327e,#38598c,#34618d,#277e8e,#1e9c89,#1f978b,#1f968b,#2b758e,#2e6f8e,#2b758e,#2a778e,#218f8d,#25ab82,#25ab82,#24868e,#31688e,#297b8e,#31688e,#228b8d)"></div>
<div style="left:1218.0px;top:1298.0px;width:392.7px;height:19.0px;background:linear-gradient(90deg,#2a778e,#23898e,#34618d,#29798e,#29798e,#2b748e,#2e6e8e,#25848e,#25ac82,#1f968b,#22a785,#21a585,#3aba76,#1e9d89,#228c8d,#218f8d,#2a778e,#2a768e,#2d718e,#21a585,#1fa088,#28ae80,#1f998a,#25ac82,#287d8e,#306a8e,#2e6e8e,#365c8d,#2f6b8e,#287c8e,#1f968b,#23a983,#a8db34,#b2dd2d,#aadc32,#84d44b,#28ae80,#2ab07f,#2fb47c,#26828e,#2cb17e,#1f948c,#25858e,#277e8e,#33628d,#2f6b8e,#2b758e,#365d8d,#2b748e,#34618d,#29798e,#2d708e,#3e4989,#443a83,#3a548c,#32648e,#1f948c,#1f998a,#23a983,#1e9c89,#21918c,#1f988b,#29798e,#306a8e,#297a8e,#21908d,#1f9f88,#1f978b,#1f978b,#21a685,#3fbc73,#20a486,#2cb17e,#24aa83,#35b779,#1e9d89,#29af7f,#228b8d,#25848e,#2c718e,#277e8e,#2b748e,#218f8d,#24868e,#20928c,#1f958b,#24868e,#26828e,#29798e,#25848e,#25848e,#2d708e,#21908d,#1f978b,#21908d,#1fa088,#29798e,#228c8d,#1fa187,#2a788e,#21918c,#20938c,#2eb37c,#46c06f,#69cd5b,#81d34d,#38b977,#37b878,#52c569,#228c8d,#1e9b8a,#31688e,#38598c,#3e4a89,#481f70,#31678e,#482173,#404588,#2e6e8e,#297b8e,#1f948c,#228d8d,#21a585,#31b57b,#70cf57,#75d054,#21a685,#25ac82,#277e8e,#2f6b8e,#31688e,#306a8e,#297a8e,#1f9e89)"></div>
<div style="left:1742.0px;top:1298.0px;width:60.8px;height:19.0px;background:linear-gradient(90deg,#2a768e,#2c738e,#29798e,#32658e,#297a8e,#2c728e,#2d708e,#20928c,#277f8e,#21a585,#2db27d,#24aa83,#1f9a8a,#3aba76,#2db27d,#26828e,#2c728e,#34618d,#3e4c8a,#482878,#443b84)"></div>
<div style="left:1048.2px;top:1317.0px;width:131.8px;height:17.1px;background:linear-gradient(90deg,#23888e,#238a8d,#228c8d,#20a486,#238a8d,#3aba76,#31678e,#2c738e,#306a8e,#404688,#3f4788,#472d7b,#443a83,#3d4e8a,#46307e,#46085c,#29798e,#30698e,#25838e,#27808e,#2b748e,#24868e,#29798e,#21908d,#24878e,#26828e,#277f8e,#25848e,#2c728e,#26828e,#2a788e,#33638d,#31688e,#2b758e,#2e6e8e,#33638d,#30698e,#287c8e,#26828e,#23898e,#287d8e,#2e6e8e,#24868e,#238a8d,#27808e)"></div>
<div style="left:1218.0px;top:1317.0px;width:392.7px;height:17.1px;background:linear-gradient(90deg,#424186,#3b518b,#34608d,#30698e,#2c728e,#23898e,#228c8d,#2c728e,#2e6f8e,#297b8e,#355e8d,#21a685,#1fa188,#297a8e,#20928c,#24868e,#22a785,#26828e,#1f948c,#42be71,#52c569,#21a585,#21a685,#1f948c,#1f9f88,#238a8d,#24878e,#1f958b,#20a386,#27ad81,#23a983,#28ae80,#20938c,#2e6d8e,#3b528b,#2d718e,#39558c,#297b8e,#218e8d,#27808e,#2e6e8e,#2e6f8e,#33628d,#39568c,#2f6b8e,#38598c,#32658e,#1f9a8a,#1fa188,#23a983,#3aba76,#2eb37c,#2cb17e,#25ab82,#277e8e,#3a548c,#3f4788,#440154,#481f70,#423f85,#355e8d,#3c508b,#1f978b,#1e9b8a,#20928c,#29798e,#2b748e,#2f6c8e,#2e6f8e,#297b8e,#1fa188,#1f978b,#1f9f88,#27ad81,#1f998a,#306a8e,#34608d,#375a8c,#404588,#39558c,#404688,#3e4989,#3d4d8a,#3e4c8a,#482475,#34608d,#472c7a,#31688e,#277f8e,#2ab07f,#5cc863,#2fb47c,#69cd5b,#7fd34e,#50c46a,#1fa287,#25ac82,#228b8d,#26828e,#20938c,#20928c,#1f958b,#1fa188,#2d708e,#3a538b,#472a7a,#414287,#472e7c,#463480,#355e8d,#39568c,#31678e,#26828e,#23a983,#1f948c,#25838e,#34b679,#38b977,#35b779,#22a884,#21a685,#24878e,#2a788e,#29798e,#25ab82,#31b57b,#228d8d,#21a585,#21a685,#25858e,#218f8d,#238a8d,#26828e,#2e6f8e)"></div>
<div style="left:1742.0px;top:1317.0px;width:60.8px;height:17.1px;background:linear-gradient(90deg,#22a884,#2eb37c,#22a785,#1f948c,#1fa188,#23a983,#20a486,#1f978b,#228d8d,#1fa187,#40bd72,#21918c,#218e8d,#1f998a,#22a884,#42be71,#28ae80,#24868e,#2eb37c,#228d8d,#228b8d)"></div>
<div style="left:1048.2px;top:1334.1px;width:131.8px;height:17.1px;background:linear-gradient(90deg,#20a386,#22a785,#1e9b8a,#1f988b,#1f998a,#1f9f88,#20928c,#1fa188,#26818e,#228b8d,#1e9d89,#26818e,#20a386,#1f9f88,#1f948c,#1fa188,#277f8e,#1e9c89,#1f948c,#21918c,#24868e,#20938c,#25ab82,#75d054,#fde725,#cae11f,#60ca60,#1f988b,#56c667,#25ac82,#2cb17e,#2ab07f,#25ab82,#2db27d,#24aa83,#1f988b,#21908d,#1fa188,#33628d,#32658e,#287d8e,#2e6e8e,#2a768e,#2c738e,#21908d)"></div>
<div style="left:1218.0px;top:1334.1px;width:392.7px;height:17.1px;background:linear-gradient(90deg,#24aa83,#29798e,#3c4f8a,#2d708e,#31678e,#2e6d8e,#33638d,#277e8e,#2d708e,#26818e,#26828e,#1fa287,#1fa287,#1f958b,#1fa088,#1f9f88,#27808e,#2c728e,#28ae80,#1f968b,#20a386,#37b878,#2eb37c,#3dbc74,#1f958b,#25848e,#2e6d8e,#3e4c8a,#34608d,#30698e,#2d708e,#25ac82,#25ab82,#2db27d,#50c46a,#b2dd2d,#89d548,#84d44b,#77d153,#2ab07f,#1f988b,#32b67a,#22a884,#40bd72,#1fa088,#1f9a8a,#1f988b,#20a486,#38588c,#450457,#423f85,#228d8d,#218e8d,#2e6d8e,#2a768e,#297a8e,#2c718e,#33638d,#2a768e,#2b748e,#29798e,#1f978b,#28ae80,#21a585,#4cc26c,#addc30,#4ec36b,#1fa187,#42be71,#24aa83,#2ab07f,#1fa287,#1f978b,#25848e,#23898e,#228b8d,#287d8e,#20928c,#1f9f88,#218e8d,#21908d,#218f8d,#23888e,#365d8d,#31688e,#277f8e,#1f9f88,#1e9c89,#238a8d,#287c8e,#2e6d8e,#365d8d,#2a768e,#26828e,#1fa188,#21a685,#238a8d,#24878e,#30698e,#2f6c8e,#297b8e,#26828e,#21908d,#34b679,#20a486,#42be71,#3fbc73,#3dbc74,#5cc863,#48c16e,#35b779,#21a585,#1f968b,#218f8d,#21918c,#20938c,#1fa188,#20938c,#218e8d,#1f9e89,#3dbc74,#b5de2b,#5ac864,#20a486,#50c46a,#22a785,#4ec36b,#25ac82,#1e9d89,#218f8d,#22a785,#24878e,#228d8d,#26828e)"></div>
<div style="left:1742.0px;top:1334.1px;width:60.8px;height:17.1px;background:linear-gradient(90deg,#2e6d8e,#297a8e,#31688e,#38598c,#470e61,#472c7a,#34608d,#2a778e,#25858e,#25838e,#4ac16d,#20a386,#1f9f88,#1e9b8a,#2a788e,#297a8e,#297a8e,#1f9e89,#2c738e,#218e8d,#228c8d)"></div>
<div style="left:1048.2px;top:1351.2px;width:131.8px;height:17.1px;background:linear-gradient(90deg,#25858e,#1fa188,#21a585,#5ac864,#4cc26c,#7fd34e,#3fbc73,#20a386,#58c765,#1fa187,#20a386,#1f998a,#29af7f,#1f948c,#26ad81,#1f988b,#1fa187,#297b8e,#32b67a,#1f9e89,#22a884,#20a486,#2eb37c,#218e8d,#26828e,#21918c,#2a768e,#365d8d,#2e6e8e,#2c738e,#2f6b8e,#1e9c89,#22a785,#3bbb75,#1f958b,#63cb5f,#20a386,#287d8e,#25858e,#1e9b8a,#1fa287,#1f9f88,#28ae80,#4ec36b,#2eb37c)"></div>
<div style="left:1218.0px;top:1351.2px;width:392.7px;height:17.1px;background:linear-gradient(90deg,#81d34d,#b2dd2d,#93d741,#aadc32,#6ece58,#81d34d,#4ec36b,#67cc5c,#42be71,#25ab82,#1fa188,#20938c,#238a8d,#228c8d,#453581,#471164,#460b5e,#443983,#46307e,#2a788e,#27ad81,#1fa287,#9bd93c,#7fd34e,#38b977,#34b679,#26ad81,#23888e,#2b748e,#1fa187,#3e4a89,#297b8e,#287c8e,#26828e,#23888e,#29798e,#1f9a8a,#287c8e,#2a788e,#2a768e,#277e8e,#2d718e,#238a8d,#1e9b8a,#1f958b,#228b8d,#22a884,#287d8e,#1fa188,#22a884,#1fa088,#4ec36b,#89d548,#2cb17e,#38b977,#24aa83,#2a788e,#29798e,#228b8d,#27ad81,#d0e11c,#60ca60,#2eb37c,#25848e,#1fa088,#50c46a,#4ac16d,#4ec36b,#2cb17e,#21a685,#228d8d,#20928c,#25ac82,#25838e,#2c718e,#21a585,#20a486,#2fb47c,#48c16e,#60ca60,#8ed645,#8ed645,#4cc26c,#3aba76,#1fa088,#25838e,#2d708e,#277f8e,#33628d,#355e8d,#25858e,#1fa188,#1fa188,#75d054,#3dbc74,#63cb5f,#6ccd5a,#40bd72,#48c16e,#29af7f,#40bd72,#2fb47c,#1f988b,#2e6d8e,#26828e,#1f948c,#20928c,#1f9f88,#1fa188,#25ac82,#228d8d,#31678e,#46307e,#3e4c8a,#2b748e,#29af7f,#21a685,#2a768e,#20a386,#24868e,#1e9d89,#2d718e,#38598c,#2e6f8e,#3a548c,#3c508b,#32658e,#2b748e,#26ad81,#1f948c,#25848e,#21918c,#1f9e89,#25848e)"></div>
<div style="left:1742.0px;top:1351.2px;width:60.8px;height:17.1px;background:linear-gradient(90deg,#31b57b,#1fa187,#27808e,#23898e,#2b748e,#277e8e,#23888e,#218f8d,#48c16e,#98d83e,#84d44b,#6ccd5a,#f6e620,#26ad81,#2a768e,#355f8d,#38588c,#3a548c,#2a778e,#355f8d,#2d718e)"></div>
<div style="left:1048.2px;top:1368.3px;width:131.8px;height:17.1px;background:linear-gradient(90deg,#31b57b,#21a685,#297b8e,#2e6d8e,#277f8e,#31668e,#365d8d,#2e6f8e,#30698e,#32658e,#39568c,#25838e,#24878e,#37b878,#cde11d,#60ca60,#27ad81,#1f9f88,#52c569,#7ad151,#37b878,#24aa83,#1fa187,#228c8d,#2d708e,#39568c,#27808e,#24878e,#1f978b,#20928c,#40bd72,#2eb37c,#42be71,#2fb47c,#2db27d,#228b8d,#20928c,#2b748e,#2d718e,#2a768e,#20928c,#75d054,#21a585,#3fbc73,#46c06f)"></div>
<div style="left:1218.0px;top:1368.3px;width:392.7px;height:17.1px;background:linear-gradient(90deg,#25848e,#27ad81,#1f9a8a,#27ad81,#42be71,#81d34d,#20a486,#38b977,#23a983,#1f948c,#1e9c89,#56c667,#1f998a,#29af7f,#1f988b,#29af7f,#287c8e,#1f9a8a,#27808e,#2b748e,#2f6c8e,#21918c,#218e8d,#2b758e,#1fa088,#20938c,#21918c,#20a386,#26828e,#23898e,#24878e,#1f9f88,#1fa188,#34b679,#2db27d,#2eb37c,#20a486,#26ad81,#1f9e89,#21a685,#26ad81,#1f9f88,#277e8e,#21a685,#25848e,#1f988b,#238a8d,#31688e,#2c718e,#228c8d,#23898e,#1fa088,#23a983,#1e9b8a,#25848e,#238a8d,#20928c,#1f988b,#26828e,#23898e,#2a768e,#24868e,#1f9a8a,#42be71,#4ac16d,#50c46a,#73d056,#addc30,#dae319,#5ec962,#77d153,#4ec36b,#2cb17e,#35b779,#238a8d,#2a778e,#28ae80,#1e9b8a,#21918c,#1f948c,#20928c,#24aa83,#28ae80,#20938c,#1f988b,#27ad81,#238a8d,#25838e,#2c728e,#306a8e,#23888e,#26828e,#228c8d,#24878e,#3e4a89,#34608d,#3c508b,#33628d,#32648e,#2c728e,#2c738e,#1f948c,#277e8e,#1f9f88,#238a8d,#1e9b8a,#34608d,#2d708e,#277e8e,#1fa287,#21a685,#5cc863,#1f9a8a,#48c16e,#24868e,#1fa187,#2ab07f,#1e9d89,#27808e,#1f978b,#48c16e,#21a585,#24878e,#297b8e,#1f9f88,#1f978b,#21a685,#2cb17e,#35b779,#2cb17e,#50c46a,#1e9d89,#58c765,#5ac864)"></div>
<div style="left:1742.0px;top:1368.3px;width:60.8px;height:17.1px;background:linear-gradient(90deg,#4ac16d,#1f9f88,#32b67a,#2ab07f,#3aba76,#52c569,#56c667,#69cd5b,#75d054,#3aba76,#3aba76,#95d840,#7ad151,#67cc5c,#60ca60,#29af7f,#70cf57,#1f948c,#25848e,#238a8d,#21908d)"></div>
<div style="left:1048.2px;top:1385.4px;width:131.8px;height:17.1px;background:linear-gradient(90deg,#228b8d,#2a788e,#32658e,#287c8e,#2e6f8e,#38588c,#3c508b,#472c7a,#2a778e,#25848e,#2c718e,#20928c,#2a788e,#1f9f88,#20a486,#20a386,#1f988b,#37b878,#26828e,#1f958b,#20a386,#26ad81,#84d44b,#2db27d,#32b67a,#22a884,#1e9c89,#1fa188,#2a778e,#27808e,#2a768e,#30698e,#2f6c8e,#228b8d,#31688e,#297b8e,#306a8e,#2e6f8e,#1fa287,#20928c,#1e9c89,#21a685,#287d8e,#33628d,#3d4e8a)"></div>
<div style="left:1218.0px;top:1385.4px;width:392.7px;height:17.1px;background:linear-gradient(90deg,#20928c,#20928c,#35b779,#1fa187,#21918c,#31688e,#1f9f88,#3a538b,#39558c,#2a778e,#297a8e,#277e8e,#1f948c,#355e8d,#3b528b,#306a8e,#3f4889,#34618d,#48186a,#472a7a,#453581,#23898e,#1f948c,#1f968b,#4ec36b,#4cc26c,#65cb5e,#22a884,#22a785,#1f978b,#2a778e,#297b8e,#1f948c,#20928c,#228d8d,#20928c,#26ad81,#26828e,#24878e,#25858e,#25858e,#355f8d,#228b8d,#2c728e,#50c46a,#2eb37c,#25ac82,#1f9a8a,#1f998a,#238a8d,#277f8e,#1f9e89,#21a585,#20a486,#28ae80,#48c16e,#1f968b,#60ca60,#2db27d,#2fb47c,#1f9e89,#25ab82,#23898e,#2b758e,#24878e,#2c718e,#2b748e,#25838e,#2a778e,#277f8e,#2e6f8e,#2c718e,#2f6b8e,#306a8e,#2a778e,#306a8e,#2e6e8e,#297b8e,#24878e,#21a685,#24868e,#1f998a,#1e9d89,#1fa088,#5ec962,#32b67a,#22a785,#31b57b,#1f9a8a,#1fa187,#1f9a8a,#22a884,#28ae80,#22a884,#63cb5f,#1f9a8a,#1f968b,#22a785,#1e9c89,#1e9d89,#1fa187,#218e8d,#228b8d,#375a8c,#31668e,#414487,#2f6c8e,#3a538b,#3a538b,#2f6c8e,#39558c,#2f6c8e,#26828e,#287c8e,#1e9b8a,#20938c,#22a785,#25ab82,#21918c,#35b779,#1f978b,#1f9e89,#29af7f,#25ac82,#42be71,#218e8d,#21908d,#2a768e,#365c8d,#2f6b8e,#2f6c8e,#2f6c8e,#25848e,#27808e)"></div>
<div style="left:1742.0px;top:1385.4px;width:60.8px;height:17.1px;background:linear-gradient(90deg,#23898e,#2a768e,#365c8d,#31668e,#29798e,#33628d,#25838e,#2c738e,#297a8e,#31668e,#2d708e,#238a8d,#2b758e,#3d4d8a,#2b748e,#34608d,#29798e,#218f8d,#21a585,#23a983,#21908d)"></div>
<div style="left:1048.2px;top:1402.5px;width:131.8px;height:17.1px;background:linear-gradient(90deg,#2d708e,#2e6d8e,#287d8e,#1f9e89,#2a778e,#39568c,#26818e,#23888e,#1e9d89,#20a386,#34b679,#25ac82,#25838e,#306a8e,#21908d,#23898e,#29798e,#1f9a8a,#25858e,#1f948c,#1fa188,#24aa83,#65cb5e,#65cb5e,#e7e419,#7fd34e,#44bf70,#65cb5e,#a8db34,#6ccd5a,#37b878,#3bbb75,#23888e,#21a585,#27808e,#39568c,#2c718e,#33638d,#414487,#472d7b,#414487,#463480,#2e6f8e,#218f8d,#21a585)"></div>
<div style="left:1218.0px;top:1402.5px;width:392.7px;height:17.1px;background:linear-gradient(90deg,#277e8e,#21908d,#29798e,#287d8e,#1f988b,#2b748e,#355f8d,#375b8d,#20938c,#228c8d,#24aa83,#21a685,#32b67a,#54c568,#65cb5e,#65cb5e,#65cb5e,#fde725,#fde725,#98d83e,#297a8e,#365d8d,#218e8d,#2d708e,#23898e,#228c8d,#24878e,#25858e,#34618d,#277e8e,#365c8d,#404688,#2e6d8e,#1f978b,#228c8d,#29798e,#287d8e,#31678e,#297b8e,#228b8d,#2c718e,#24868e,#23898e,#2f6c8e,#29798e,#2a788e,#238a8d,#2b748e,#306a8e,#2cb17e,#25ac82,#218f8d,#1fa287,#25848e,#2d708e,#39568c,#3d4d8a,#31678e,#2e6f8e,#38588c,#31688e,#1f978b,#21a585,#277e8e,#27808e,#26828e,#23898e,#2e6d8e,#287c8e,#34608d,#33628d,#24868e,#218f8d,#277f8e,#21908d,#1f958b,#24aa83,#24878e,#25848e,#20a386,#2c728e,#2f6b8e,#2d718e,#25ab82,#22a785,#2cb17e,#1fa187,#1f958b,#1f968b,#25838e,#2e6d8e,#297b8e,#287c8e,#238a8d,#21908d,#2c728e,#218f8d,#24878e,#2a768e,#1f9f88,#25ab82,#21a585,#40bd72,#31b57b,#21a685,#42be71,#1f978b,#24868e,#1e9b8a,#1fa187,#2a768e,#228d8d,#1fa088,#1e9b8a,#21a685,#21918c,#32658e,#29798e,#277e8e,#25848e,#1fa187,#20a486,#25848e,#1e9b8a,#25838e,#1f9f88,#1f998a,#228c8d,#25848e,#306a8e,#30698e,#31688e,#2c728e,#2c728e)"></div>
<div style="left:1742.0px;top:1402.5px;width:60.8px;height:17.1px;background:linear-gradient(90deg,#25858e,#1f978b,#34b679,#218f8d,#23888e,#20a386,#2e6d8e,#2f6c8e,#39568c,#3b528b,#306a8e,#2d708e,#29798e,#24878e,#23888e,#23888e,#297b8e,#2f6b8e,#2c728e,#2c738e,#277f8e)"></div>
<div style="left:1048.2px;top:1419.6px;width:131.8px;height:17.1px;background:linear-gradient(90deg,#37b878,#21a685,#25ab82,#2c718e,#24878e,#25838e,#26818e,#1fa088,#277e8e,#27808e,#2b748e,#365d8d,#355e8d,#31678e,#355f8d,#365c8d,#38598c,#31688e,#218e8d,#1f998a,#228b8d,#20a386,#3a538b,#2a788e,#3f4788,#443a83,#24878e,#2d708e,#26818e,#27ad81,#24868e,#1f948c,#1f948c,#1fa088,#29af7f,#35b779,#40bd72,#2ab07f,#1fa188,#21908d,#1e9d89,#297a8e,#24868e,#2c738e,#29798e)"></div>
<div style="left:1218.0px;top:1419.6px;width:392.7px;height:17.1px;background:linear-gradient(90deg,#2cb17e,#31b57b,#2ab07f,#56c667,#34b679,#1f9f88,#27ad81,#35b779,#1f9a8a,#277e8e,#287c8e,#25ab82,#46c06f,#44bf70,#84d44b,#35b779,#52c569,#52c569,#3fbc73,#1f9e89,#5ec962,#29af7f,#29af7f,#20938c,#38b977,#35b779,#228d8d,#375a8c,#3b518b,#31678e,#31678e,#3b518b,#306a8e,#39568c,#3e4989,#414487,#26828e,#39558c,#20928c,#30698e,#21a585,#2ab07f,#1f988b,#29af7f,#23a983,#1f948c,#20a386,#26ad81,#2fb47c,#21a685,#1e9b8a,#26828e,#277f8e,#306a8e,#2e6d8e,#2f6b8e,#3e4a89,#32658e,#365c8d,#424086,#2c728e,#355f8d,#25858e,#23898e,#34608d,#375b8d,#2a778e,#2f6b8e,#277e8e,#27808e,#1f988b,#287d8e,#355f8d,#33628d,#375b8d,#443a83,#472a7a,#460a5d,#470e61,#472a7a,#46307e,#2e6d8e,#1f9a8a,#228d8d,#25838e,#1f9e89,#26828e,#1e9c89,#20a486,#20938c,#20928c,#228b8d,#365c8d,#34618d,#365d8d,#30698e,#39568c,#3f4889,#3d4d8a,#3b528b,#297a8e,#218f8d,#297a8e,#287c8e,#287d8e,#34618d,#277e8e,#26828e,#2e6d8e,#23888e,#1f988b,#29af7f,#3bbb75,#3aba76,#37b878,#20a486,#1f958b,#2a778e,#22a785,#25838e,#218f8d,#1e9b8a,#1f948c,#2e6d8e,#228b8d,#404688,#355e8d,#2f6b8e,#24878e,#26828e,#2c728e,#306a8e,#1f958b,#1e9c89)"></div>
<div style="left:1742.0px;top:1419.6px;width:60.8px;height:17.1px;background:linear-gradient(90deg,#297a8e,#33628d,#2b748e,#21908d,#2a788e,#2b748e,#25848e,#25848e,#297a8e,#37b878,#1e9d89,#24878e,#2a788e,#1f988b,#34b679,#23888e,#443983,#472e7c,#3a538b,#23898e,#24878e)"></div>
<div style="left:1048.2px;top:1436.7px;width:131.8px;height:17.1px;background:linear-gradient(90deg,#2e6d8e,#1fa188,#1f958b,#40bd72,#3aba76,#69cd5b,#69cd5b,#42be71,#42be71,#37b878,#42be71,#1f998a,#1f998a,#2a778e,#25838e,#23898e,#297a8e,#2d718e,#24aa83,#23898e,#297a8e,#25848e,#277f8e,#1f958b,#355f8d,#2f6b8e,#26818e,#2c728e,#24878e,#228d8d,#2c718e,#26828e,#1f988b,#21918c,#25848e,#20a386,#44bf70,#1f9f88,#25ac82,#23898e,#2a778e,#365c8d,#424186,#3b518b,#39568c)"></div>
<div style="left:1218.0px;top:1436.7px;width:392.7px;height:17.1px;background:linear-gradient(90deg,#2c718e,#39558c,#3a548c,#414287,#32648e,#31688e,#3a548c,#23a983,#38b977,#2fb47c,#22a785,#26828e,#1f9f88,#26828e,#2a778e,#1f948c,#25858e,#25838e,#297a8e,#297b8e,#3e4a89,#38588c,#433d84,#472d7b,#46307e,#453581,#472c7a,#31688e,#2f6c8e,#228b8d,#277f8e,#2fb47c,#58c765,#4cc26c,#21a585,#1f968b,#1fa088,#24868e,#1f968b,#1f9a8a,#23898e,#218f8d,#24aa83,#26818e,#25848e,#1fa287,#2fb47c,#b8de29,#dae319,#dde318,#8ed645,#67cc5c,#20928c,#23898e,#355f8d,#2e6e8e,#2a778e,#25848e,#287c8e,#23888e,#5cc863,#5cc863,#9bd93c,#f8e621,#e5e419,#c5e021,#46c06f,#4ac16d,#25ab82,#20928c,#27ad81,#25858e,#1e9b8a,#1f978b,#20928c,#1f948c,#20a486,#1f988b,#2cb17e,#218e8d,#33638d,#21908d,#1e9c89,#2e6f8e,#1f958b,#228c8d,#1f9a8a,#20a386,#23a983,#2ab07f,#25ab82,#228b8d,#1f9a8a,#238a8d,#1f978b,#29798e,#23898e,#238a8d,#287d8e,#297a8e,#375a8c,#287c8e,#24868e,#1fa088,#26ad81,#22a884,#1f968b,#20928c,#1e9d89,#2eb37c,#24aa83,#28ae80,#25ab82,#26818e,#2e6e8e,#33628d,#287c8e,#20928c,#1f988b,#44bf70,#44bf70,#42be71,#48c16e,#27ad81,#2eb37c,#20a486,#1e9d89,#1fa287,#67cc5c,#f1e51d,#63cb5f,#228b8d,#1e9d89,#33628d)"></div>
<div style="left:1742.0px;top:1436.7px;width:60.8px;height:17.1px;background:linear-gradient(90deg,#1f9f88,#1f9e89,#40bd72,#70cf57,#2db27d,#27ad81,#1e9d89,#20a486,#218f8d,#22a785,#25838e,#2f6b8e,#287c8e,#2c728e,#2c718e,#20928c,#22a884,#5cc863,#81d34d,#7ad151,#7cd250)"></div>
<div style="left:1048.2px;top:1453.8px;width:131.8px;height:17.1px;background:linear-gradient(90deg,#228b8d,#1f9f88,#228d8d,#1f988b,#287d8e,#1fa187,#2c728e,#1fa188,#1f9e89,#218e8d,#1e9d89,#228b8d,#228b8d,#277e8e,#1f968b,#355f8d,#2d708e,#375b8d,#23898e,#1f988b,#4ac16d,#65cb5e,#5cc863,#c2df23,#fde725,#9dd93b,#1fa287,#1fa287,#1fa287,#2a788e,#20928c,#287d8e,#2a778e,#20928c,#2db27d,#35b779,#27ad81,#40bd72,#48c16e,#77d153,#25858e,#21918c,#228d8d,#287d8e,#2b758e)"></div>
<div style="left:1218.0px;top:1453.8px;width:392.7px;height:17.1px;background:linear-gradient(90deg,#40bd72,#1e9b8a,#2a788e,#1f948c,#26818e,#23898e,#25858e,#29798e,#1f968b,#1f978b,#26828e,#218f8d,#26828e,#31688e,#29798e,#1f978b,#31b57b,#1e9b8a,#1f9f88,#26828e,#218e8d,#287c8e,#25838e,#24868e,#28ae80,#1e9d89,#1fa187,#1e9b8a,#65cb5e,#54c568,#58c765,#86d549,#86d549,#27ad81,#1f978b,#277e8e,#287d8e,#2c728e,#27808e,#297b8e,#33628d,#228b8d,#228c8d,#1f948c,#1f9a8a,#1f958b,#2a788e,#38588c,#2f6c8e,#33638d,#287c8e,#2c718e,#277f8e,#25848e,#1f948c,#2db27d,#3aba76,#44bf70,#29798e,#2a768e,#3c4f8a,#218f8d,#238a8d,#24878e,#21918c,#1f9f88,#63cb5f,#7ad151,#56c667,#95d840,#a8db34,#1e9c89,#40bd72,#22a884,#27808e,#287c8e,#306a8e,#33628d,#2b748e,#355e8d,#23888e,#1f958b,#1f9e89,#44bf70,#40bd72,#3dbc74,#65cb5e,#7fd34e,#2db27d,#7ad151,#a2da37,#67cc5c,#2eb37c,#32b67a,#23a983,#50c46a,#23a983,#28ae80,#3fbc73,#1e9b8a,#21a685,#1f958b,#25838e,#20928c,#287c8e,#23888e,#34618d,#30698e,#2e6e8e,#2e6f8e,#23898e,#20a486,#21908d,#1fa187,#23a983,#26ad81,#1fa088,#27808e,#2b748e,#2b748e,#297a8e,#2d708e,#238a8d,#23898e,#1f988b,#228d8d,#24aa83,#1e9b8a,#25848e,#218f8d,#2f6b8e,#27808e,#228c8d,#25858e)"></div>
<div style="left:1742.0px;top:1453.8px;width:60.8px;height:17.1px;background:linear-gradient(90deg,#355f8d,#404588,#3e4c8a,#46307e,#3b528b,#228d8d,#228b8d,#1fa188,#81d34d,#6ece58,#7cd250,#63cb5f,#1fa287,#1f9e89,#20928c,#228b8d,#2d718e,#297a8e,#1fa187,#228c8d,#20928c)"></div>
<div style="left:1048.2px;top:1470.9px;width:131.8px;height:17.1px;background:linear-gradient(90deg,#20a386,#50c46a,#46c06f,#35b779,#3aba76,#1fa187,#1f998a,#1fa088,#277f8e,#24868e,#1f9f88,#25ac82,#1fa287,#2eb37c,#218f8d,#1f9e89,#1f9e89,#29798e,#228b8d,#21908d,#238a8d,#218e8d,#21918c,#1f988b,#238a8d,#26828e,#1f988b,#23888e,#228b8d,#2ab07f,#26ad81,#1f958b,#22a884,#2e6d8e,#2a788e,#1f9a8a,#287d8e,#27808e,#1f9f88,#23898e,#21a685,#1e9b8a,#21a585,#3bbb75,#25ac82)"></div>
<div style="left:1218.0px;top:1470.9px;width:392.7px;height:17.1px;background:linear-gradient(90deg,#22a884,#29af7f,#a0da39,#9bd93c,#81d34d,#7fd34e,#56c667,#3fbc73,#5cc863,#aadc32,#67cc5c,#24aa83,#38b977,#37b878,#2db27d,#29af7f,#34b679,#4ec36b,#4ec36b,#5ac864,#70cf57,#3dbc74,#3aba76,#86d549,#65cb5e,#65cb5e,#26ad81,#1f9a8a,#3aba76,#1f968b,#228c8d,#25848e,#228b8d,#24aa83,#2c718e,#20928c,#31678e,#2e6e8e,#29798e,#26818e,#238a8d,#297a8e,#1f9a8a,#24878e,#30698e,#27808e,#23888e,#228b8d,#1f968b,#28ae80,#35b779,#25ac82,#1f9e89,#297a8e,#29798e,#2a788e,#27808e,#21918c,#28ae80,#1e9c89,#22a884,#1f948c,#25858e,#25848e,#1e9c89,#20928c,#297a8e,#27ad81,#1e9c89,#2a778e,#1fa188,#277e8e,#4cc26c,#23a983,#1f948c,#1fa188,#1f958b,#238a8d,#21a685,#29798e,#2e6f8e,#32658e,#31688e,#2e6e8e,#1f948c,#24878e,#22a884,#22a785,#1f9f88,#21a685,#20928c,#25848e,#22a785,#1f958b,#21918c,#218e8d,#1f9f88,#24aa83,#1e9c89,#34b679,#21918c,#1e9d89,#2fb47c,#3bbb75,#3dbc74,#4ac16d,#2ab07f,#21a685,#3bbb75,#21a585,#86d549,#2eb37c,#1fa188,#29af7f,#22a884,#2fb47c,#24878e,#29798e,#218e8d,#23898e,#2a768e,#277f8e,#2d718e,#1f998a,#1f968b,#1e9b8a,#1f948c,#28ae80,#2db27d,#20a386,#21a685,#23898e,#1fa287,#26828e)"></div>
<div style="left:1742.0px;top:1470.9px;width:60.8px;height:17.1px;background:linear-gradient(90deg,#1f9f88,#228b8d,#21918c,#1e9b8a,#1f9a8a,#29af7f,#228d8d,#2cb17e,#21a585,#24878e,#20928c,#1e9c89,#31678e,#2e6e8e,#355f8d,#29798e,#365d8d,#228c8d,#1e9c89,#2a768e,#3e4989)"></div>
<div style="left:1048.2px;top:1488.0px;width:131.8px;height:17.1px;background:linear-gradient(90deg,#2c728e,#20928c,#38598c,#33628d,#424186,#34618d,#423f85,#30698e,#2f6c8e,#2b758e,#25848e,#27ad81,#20928c,#297b8e,#2c728e,#34618d,#1f9e89,#48c16e,#ece51b,#77d153,#46c06f,#1f9e89,#69cd5b,#20a386,#1fa088,#1f948c,#25ab82,#26828e,#31688e,#2b748e,#33638d,#287c8e,#2a778e,#20a386,#2ab07f,#54c568,#84d44b,#77d153,#22a785,#287d8e,#365c8d,#32648e,#3f4889,#2c738e,#2a788e)"></div>
<div style="left:1218.0px;top:1488.0px;width:392.7px;height:17.1px;background:linear-gradient(90deg,#2d708e,#2e6e8e,#453781,#33638d,#443b84,#2c718e,#3b528b,#238a8d,#1f948c,#25858e,#1e9d89,#423f85,#482878,#453781,#433e85,#453581,#306a8e,#424186,#38588c,#297b8e,#3a548c,#21908d,#25848e,#38588c,#31678e,#2e6f8e,#23888e,#297b8e,#2a768e,#20928c,#1fa188,#1f9f88,#1e9d89,#26ad81,#24aa83,#3fbc73,#27ad81,#1e9c89,#27ad81,#25ab82,#3aba76,#27ad81,#90d743,#40bd72,#1f948c,#20928c,#20938c,#31b57b,#3fbc73,#60ca60,#1f958b,#1fa287,#23898e,#24878e,#23898e,#25ac82,#297b8e,#21908d,#20a486,#2fb47c,#24aa83,#1f9f88,#32b67a,#20928c,#25ac82,#228c8d,#228c8d,#20928c,#2f6b8e,#33638d,#34618d,#29798e,#365c8d,#297b8e,#2e6d8e,#2a768e,#355e8d,#32658e,#1f988b,#2a778e,#2e6f8e,#25838e,#2c718e,#287c8e,#287d8e,#218e8d,#20928c,#26828e,#2eb37c,#21908d,#218e8d,#33638d,#34608d,#33638d,#2f6b8e,#26818e,#29798e,#287c8e,#297b8e,#25838e,#287d8e,#21a685,#25ac82,#50c46a,#2eb37c,#23888e,#228b8d,#218e8d,#2c718e,#32658e,#23898e,#2a778e,#277e8e,#1f998a,#1f948c,#228b8d,#21918c,#1f9f88,#21908d,#20a486,#24aa83,#50c46a,#9dd93b,#d2e21b,#7ad151,#48c16e,#20928c,#1e9b8a,#1f998a,#38598c,#20928c,#3a538b,#2a778e,#34608d)"></div>
<div style="left:1742.0px;top:1488.0px;width:60.8px;height:17.1px;background:linear-gradient(90deg,#1f9f88,#1f978b,#1f9e89,#1fa088,#2b758e,#23898e,#21908d,#23888e,#1f958b,#2db27d,#21a585,#1f958b,#1f968b,#20a386,#1e9c89,#21a585,#23a983,#35b779,#37b878,#1f978b,#22a884)"></div>
<div style="left:1048.2px;top:1505.1px;width:131.8px;height:10.9px;background:linear-gradient(90deg,#1fa088,#2db27d,#1fa188,#1fa287,#1f9a8a,#29798e,#21908d,#25838e,#24868e,#31678e,#2c718e,#2b758e,#228b8d,#277f8e,#31688e,#355e8d,#375b8d,#38588c,#33638d,#20928c,#21908d,#2f6c8e,#20a386,#1f948c,#23898e,#2a788e,#375b8d,#2b748e,#2a778e,#297b8e,#23888e,#297b8e,#20928c,#218f8d,#1f9f88,#277e8e,#24878e,#287d8e,#2c718e,#1f9f88,#1e9b8a,#4ac16d,#67cc5c,#31b57b,#21a585)"></div>
<div style="left:1218.0px;top:1505.1px;width:392.7px;height:10.9px;background:linear-gradient(90deg,#277f8e,#31678e,#38598c,#355e8d,#46337f,#453882,#3f4889,#482071,#3e4989,#1f948c,#42be71,#228d8d,#20a386,#238a8d,#238a8d,#21908d,#20a486,#25858e,#1f9f88,#228b8d,#1f998a,#228c8d,#2c728e,#355e8d,#1e9c89,#1f948c,#25838e,#25ac82,#3dbc74,#1e9c89,#1f9f88,#297b8e,#2a778e,#20928c,#1f988b,#29798e,#2e6e8e,#24868e,#39558c,#355f8d,#26818e,#297a8e,#228b8d,#1f948c,#20928c,#25ac82,#21918c,#1f948c,#2b758e,#297a8e,#33628d,#3e4989,#3a548c,#3e4a89,#440154,#404588,#443a83,#2e6d8e,#2b758e,#23898e,#228c8d,#1fa088,#25ac82,#21908d,#20a386,#228c8d,#35b779,#73d056,#84d44b,#1f9f88,#23a983,#35b779,#35b779,#1f968b,#1f958b,#31668e,#228b8d,#25858e,#4ec36b,#bddf26,#25ac82,#20928c,#20a386,#20928c,#2db27d,#29af7f,#23a983,#25ab82,#1e9c89,#2db27d,#2eb37c,#228d8d,#1f998a,#277f8e,#2eb37c,#21a685,#25ab82,#26ad81,#31b57b,#1f978b,#218f8d,#238a8d,#1f978b,#27ad81,#1f988b,#23898e,#2f6b8e,#3a548c,#3a538b,#424186,#443a83,#453781,#472f7d,#27808e,#443983,#414487,#2f6c8e,#2c718e,#3b518b,#33638d,#375a8c,#3a548c,#32648e,#375a8c,#2c718e,#365c8d,#30698e,#25848e,#24868e,#31678e,#26818e,#34608d,#287c8e,#1f968b)"></div>
<div style="left:1742.0px;top:1505.1px;width:60.8px;height:10.9px;background:linear-gradient(90deg,#24878e,#38588c,#440154,#404688,#355e8d,#1f958b,#23888e,#1f9e89,#1f998a,#1fa287,#20a386,#25ab82,#26ad81,#31b57b,#2db27d,#1e9b8a,#22a884,#32658e,#29798e,#21918c,#1fa287)"></div>
<div style="left:426.0px;top:486.0px;width:6.5px;height:18.5px;background:#414487"></div>
<div style="left:426.0px;top:620.0px;width:6.5px;height:20.0px;background:#433e85"></div>
<div style="left:426.0px;top:640.0px;width:6.5px;height:19.5px;background:#440154"></div>
<div style="left:426.0px;top:775.0px;width:6.5px;height:19.0px;background:#481a6c"></div>
<div style="left:426.0px;top:794.0px;width:6.5px;height:19.0px;background:#471365"></div>
<div style="left:426.0px;top:852.0px;width:6.5px;height:19.0px;background:#481a6c"></div>
<div style="left:426.0px;top:930.0px;width:6.5px;height:19.5px;background:#433e85"></div>
<div style="left:426.0px;top:949.5px;width:6.5px;height:19.0px;background:#481a6c"></div>
<div style="left:426.0px;top:1024.0px;width:6.5px;height:18.0px;background:#433e85"></div>
<div style="left:429.0px;top:1083.0px;width:5.5px;height:18.5px;background:#481a6c"></div>
<div style="left:426.0px;top:1257.0px;width:6.5px;height:18.5px;background:#3f4889"></div>
<div style="left:1102.0px;top:624.9px;width:8.0px;height:17.1px;background:#d2e21b"></div>
<div style="left:1098.0px;top:898.7px;width:23.0px;height:17.1px;background:#9bd93c"></div>
<div style="left:1289.0px;top:898.7px;width:6.0px;height:17.1px;background:#b2dd2d"></div>
<div style="left:1448.0px;top:1298.0px;width:38.0px;height:19.0px;background:#bddf26"></div>
<div style="left:1458.0px;top:1298.0px;width:6.0px;height:19.0px;background:#f4e61e"></div>
<div style="left:1478.0px;top:1298.0px;width:5.0px;height:19.0px;background:#f4e61e"></div>
<div style="left:1538.8px;top:590.3px;width:15.3px;height:18.6px;background:#fde725"></div>
<div style="left:1962.6px;top:455.4px;width:38.7px;height:1061.0px;background:linear-gradient(0deg,#440154,#470d60,#48186a,#482374,#472d7b,#453781,#424086,#3e4989,#3b528b,#375b8d,#33638d,#2f6b8e,#2c728e,#297a8e,#26828e,#23898e,#21918c,#1f988b,#1fa088,#22a785,#28ae80,#32b67a,#3fbc73,#4ec36b,#5ec962,#70cf57,#84d44b,#98d83e,#addc30,#c2df23,#d8e219,#ece51b,#fde725)"></div>
<svg id="ov" width="2104" height="1619" viewBox="0 0 2104 1619"><defs><clipPath id="clip_tl"><rect x="134.0" y="0.9" width="779.4" height="352.8"/></clipPath><clipPath id="clip_tr"><rect x="1048.2" y="0.9" width="779.6" height="352.8"/></clipPath><clipPath id="clip_bl"><rect x="134.0" y="455.5" width="779.4" height="1060.5"/></clipPath><clipPath id="clip_br"><rect x="1048.2" y="455.5" width="779.6" height="1060.5"/></clipPath></defs>
<rect x="265.7" y="0.9" width="38.2" height="352.8" fill="#bddedf"/>
<rect x="700.2" y="0.9" width="125.1" height="352.8" fill="#bddedf"/>
<rect x="891.2" y="0.9" width="22.2" height="352.8" fill="#bddedf"/>
<path d="M133.8 37.6C134.9 37.5 137.7 36.7 140.5 37.1C143.3 37.5 147.4 38.6 150.9 40.0C154.4 41.4 157.8 44.1 161.4 45.7C165.1 47.4 169.8 49.0 172.8 49.9C175.8 50.8 176.4 50.4 179.4 51.4C182.4 52.4 187.0 53.7 190.8 56.1C194.6 58.5 198.5 62.6 202.2 65.6C205.8 68.6 209.7 71.2 212.7 74.2C215.7 77.2 217.3 79.6 220.3 83.7C223.3 87.8 226.9 92.4 230.8 98.9C234.7 105.4 239.4 114.2 243.6 122.7C247.8 131.2 252.4 141.1 255.7 149.9C259.0 158.7 261.1 166.3 263.3 175.6C265.5 184.9 267.1 195.8 268.6 205.9C270.1 216.0 271.0 224.8 272.4 236.2C273.8 247.5 275.4 260.1 276.9 274.0C278.4 287.9 279.9 308.8 281.4 319.4C282.9 330.0 284.3 337.2 285.7 337.5C287.1 337.8 288.2 330.2 289.8 320.9C291.4 311.6 293.5 294.4 295.1 281.5C296.7 268.6 298.1 256.3 299.6 243.7C301.1 231.1 302.3 217.8 304.1 205.9C305.9 194.1 307.9 182.2 310.2 172.6C312.5 163.0 315.3 155.6 317.7 148.4C320.1 141.2 322.3 134.5 324.3 129.3C326.3 124.1 327.1 122.1 329.5 117.0C331.9 111.9 335.4 104.9 339.0 98.9C342.6 92.9 347.9 85.1 351.4 80.8C354.9 76.5 356.3 75.7 359.9 73.2C363.5 70.7 369.1 67.4 373.2 65.6C377.3 63.8 381.8 63.2 384.6 62.3C387.5 61.3 387.3 61.9 390.3 59.9C393.3 57.9 399.5 52.4 402.7 50.4C405.9 48.4 406.1 48.7 409.4 48.0C412.7 47.3 419.7 46.0 422.7 46.1C425.7 46.2 425.9 47.8 427.4 48.5C428.9 49.2 429.6 50.8 431.7 50.2C433.8 49.7 436.7 46.3 439.8 45.2C442.9 44.1 446.9 43.4 450.2 43.8C453.5 44.2 456.4 47.7 459.7 47.6C463.0 47.5 466.2 44.2 470.2 43.3C474.2 42.3 479.2 41.5 483.5 41.9C487.8 42.3 491.5 44.2 495.9 45.7C500.3 47.2 506.2 49.3 510.1 51.0C514.0 52.7 516.0 54.1 519.5 56.1C523.0 58.1 526.5 62.5 530.9 63.2C535.3 63.9 541.7 62.1 546.1 60.4C550.5 58.7 553.5 56.1 557.5 53.2C561.5 50.3 565.9 45.3 569.9 42.8C573.9 40.3 577.3 39.8 581.3 38.0C585.3 36.2 590.2 33.2 593.7 32.3C597.2 31.4 599.7 32.0 602.2 32.8C604.7 33.6 606.7 35.8 608.9 37.1C611.1 38.5 612.6 41.1 615.5 40.9C618.4 40.6 622.5 36.4 626.0 35.6C629.5 34.8 633.2 36.7 636.4 36.1C639.6 35.5 642.1 33.2 645.0 31.8C647.9 30.4 650.6 28.2 653.5 27.6C656.4 27.0 658.8 28.2 662.1 28.0C665.4 27.8 669.1 26.2 673.5 26.1C677.9 26.0 684.3 27.8 688.7 27.6C693.1 27.4 697.4 25.3 700.1 24.7C702.8 24.1 702.5 25.1 705.0 23.8C707.5 22.5 712.2 17.1 715.1 17.0C718.0 16.9 719.5 20.5 722.6 23.1C725.7 25.7 729.6 30.1 733.5 32.6C737.4 35.1 742.3 35.6 745.7 38.1C749.1 40.6 751.4 42.2 753.9 47.6C756.4 53.0 758.9 61.7 760.7 70.7C762.5 79.8 763.5 91.0 764.8 101.9C766.0 112.8 767.1 123.4 768.2 135.9C769.3 148.4 770.5 164.9 771.6 176.7C772.7 188.5 773.8 205.5 775.0 206.6C776.2 207.7 777.5 195.3 779.0 183.5C780.5 171.7 782.3 149.5 783.8 135.9C785.3 122.3 786.3 112.8 787.9 101.9C789.5 91.0 791.5 78.4 793.3 70.7C795.1 63.0 796.9 59.1 798.7 55.7C800.5 52.3 801.9 50.1 804.2 50.3C806.5 50.5 809.7 54.5 812.3 57.1C814.9 59.7 817.8 65.1 819.8 65.9C821.8 66.7 822.5 64.4 824.6 61.8C826.8 59.2 830.0 52.5 832.7 50.5C835.4 48.5 837.9 50.8 840.7 49.7C843.5 48.6 846.7 45.4 849.5 44.1C852.3 42.8 855.1 41.7 857.6 42.1C860.1 42.5 862.3 43.6 864.8 46.5C867.3 49.4 870.5 54.3 872.8 59.3C875.1 64.2 876.7 69.4 878.4 76.2C880.1 83.0 881.6 92.9 883.2 100.3C884.8 107.7 886.6 115.6 888.1 120.4C889.6 125.2 890.9 128.9 892.5 129.2C894.1 129.5 895.9 125.6 897.7 122.0C899.5 118.4 901.4 111.2 903.3 107.5C905.2 103.8 907.3 100.5 908.9 99.9C910.5 99.3 912.2 103.2 912.9 103.8" fill="none" stroke="#000" stroke-width="2.9" stroke-linejoin="round" clip-path="url(#clip_tl)"/>
<rect x="1180.0" y="0.9" width="38.2" height="352.8" fill="#bddedf"/>
<rect x="1614.6" y="0.9" width="125.1" height="352.8" fill="#bddedf"/>
<rect x="1805.6" y="0.9" width="22.2" height="352.8" fill="#bddedf"/>
<path d="M1048.6 39.0C1050.6 39.5 1056.8 40.6 1060.9 41.9C1065.0 43.2 1069.2 44.9 1073.3 46.6C1077.4 48.3 1082.0 51.0 1085.6 52.3C1089.2 53.6 1090.8 52.5 1095.1 54.2C1099.4 56.0 1106.2 59.1 1111.3 62.8C1116.4 66.4 1121.9 72.6 1125.6 76.1C1129.2 79.6 1130.3 80.1 1133.2 83.7C1136.1 87.3 1139.5 92.8 1142.7 97.9C1145.9 103.0 1149.6 109.5 1152.2 114.1C1154.8 118.7 1155.5 119.2 1158.6 125.7C1161.7 132.2 1167.4 144.2 1170.7 153.0C1174.0 161.8 1176.3 169.9 1178.3 178.7C1180.3 187.5 1181.3 195.1 1182.8 205.9C1184.3 216.7 1185.9 231.1 1187.4 243.7C1188.9 256.3 1190.4 268.9 1191.9 281.5C1193.4 294.1 1194.9 309.9 1196.4 319.4C1197.9 328.9 1199.2 338.3 1200.7 338.3C1202.2 338.3 1203.9 328.9 1205.5 319.4C1207.1 309.9 1208.6 294.1 1210.1 281.5C1211.6 268.9 1213.1 256.3 1214.6 243.7C1216.1 231.1 1217.3 217.8 1219.1 205.9C1220.9 194.1 1222.9 182.2 1225.2 172.6C1227.5 163.0 1230.2 155.6 1232.7 148.4C1235.2 141.2 1237.8 135.2 1240.2 129.3C1242.7 123.4 1244.5 118.9 1247.4 113.2C1250.3 107.5 1255.0 99.1 1257.8 95.1C1260.6 91.1 1262.0 92.1 1264.5 89.4C1267.0 86.7 1269.8 82.1 1273.0 78.9C1276.2 75.7 1279.1 72.9 1283.5 70.4C1287.9 68.0 1295.0 66.7 1299.6 64.2C1304.2 61.7 1307.8 57.4 1311.0 55.6C1314.2 53.8 1315.8 54.3 1318.7 53.3C1321.6 52.3 1324.1 50.4 1328.2 49.5C1332.3 48.6 1339.5 48.0 1343.4 48.0C1347.4 48.0 1348.1 49.6 1351.9 49.5C1355.7 49.4 1361.9 47.3 1366.2 47.4C1370.5 47.5 1373.8 50.4 1377.6 49.9C1381.4 49.4 1384.7 45.3 1389.0 44.5C1393.3 43.7 1398.9 43.9 1403.3 44.9C1407.7 45.9 1411.8 48.8 1415.6 50.4C1419.4 52.0 1422.5 53.1 1426.0 54.5C1429.5 55.9 1432.6 57.2 1436.4 58.9C1440.2 60.6 1444.7 64.4 1448.8 64.6C1452.9 64.8 1457.5 61.4 1461.1 59.9C1464.7 58.4 1466.8 58.3 1470.6 55.6C1474.4 52.9 1480.4 45.9 1483.9 43.7C1487.4 41.5 1488.7 43.2 1491.5 42.3C1494.3 41.3 1497.7 39.4 1501.0 38.0C1504.3 36.6 1508.3 34.2 1511.5 34.2C1514.7 34.2 1516.9 36.4 1520.1 38.0C1523.3 39.6 1526.7 43.9 1530.5 43.7C1534.3 43.6 1539.2 38.0 1542.9 37.1C1546.6 36.2 1549.1 39.3 1552.4 38.5C1555.7 37.7 1559.3 34.0 1562.8 32.3C1566.3 30.5 1568.7 28.5 1573.3 28.0C1577.9 27.5 1585.1 29.4 1590.4 29.5C1595.7 29.6 1601.5 29.4 1605.3 28.8C1609.1 28.2 1610.5 27.2 1613.2 25.8C1615.9 24.4 1618.1 21.9 1621.3 20.4C1624.5 18.9 1629.0 16.3 1632.2 17.0C1635.4 17.7 1637.3 21.6 1640.3 24.5C1643.2 27.4 1646.7 32.9 1649.9 34.7C1653.1 36.6 1656.5 34.8 1659.4 35.6C1662.3 36.4 1665.0 36.3 1667.5 39.4C1670.0 42.5 1672.2 47.4 1674.3 54.4C1676.3 61.4 1678.0 71.4 1679.8 81.6C1681.6 91.8 1683.6 106.5 1685.2 115.5C1686.8 124.5 1687.9 135.2 1689.5 135.9C1691.1 136.6 1692.7 128.7 1694.7 119.6C1696.7 110.5 1699.2 92.0 1701.5 81.6C1703.8 71.2 1705.6 63.0 1708.3 57.1C1711.0 51.2 1714.8 46.7 1717.8 46.2C1720.8 45.8 1723.1 51.1 1726.0 54.4C1728.9 57.7 1731.8 66.2 1735.0 66.2C1738.2 66.2 1741.7 57.1 1745.3 54.5C1748.9 51.9 1753.0 52.0 1756.5 50.5C1760.0 49.0 1763.3 46.8 1766.1 45.7C1768.9 44.6 1771.1 43.7 1773.4 44.1C1775.7 44.5 1777.5 45.4 1779.8 48.1C1782.1 50.8 1784.9 55.4 1787.0 60.1C1789.1 64.8 1790.9 69.5 1792.6 76.2C1794.3 82.9 1795.8 92.9 1797.4 100.3C1799.0 107.7 1800.7 115.7 1802.3 120.4C1803.9 125.1 1805.4 128.1 1807.1 128.4C1808.8 128.7 1810.8 125.6 1812.7 122.0C1814.6 118.4 1816.6 111.4 1818.3 106.7C1820.0 102.0 1821.5 96.7 1823.1 93.9C1824.6 91.1 1826.8 90.7 1827.6 90.0" fill="none" stroke="#000" stroke-width="2.9" stroke-linejoin="round" clip-path="url(#clip_tr)"/>
<line x1="128.5" y1="27.1" x2="134.0" y2="27.1"/>
<text x="122.8" y="40.5" font-size="41.0" text-anchor="end">1.0</text>
<line x1="128.5" y1="119.9" x2="134.0" y2="119.9"/>
<text x="122.8" y="133.3" font-size="41.0" text-anchor="end">0.8</text>
<line x1="128.5" y1="212.8" x2="134.0" y2="212.8"/>
<text x="122.8" y="226.2" font-size="41.0" text-anchor="end">0.6</text>
<line x1="128.5" y1="305.7" x2="134.0" y2="305.7"/>
<text x="122.8" y="319.1" font-size="41.0" text-anchor="end">0.4</text>
<line x1="1042.7" y1="29.3" x2="1048.2" y2="29.3"/>
<text x="1037.0" y="42.7" font-size="41.0" text-anchor="end">1.0</text>
<line x1="1042.7" y1="122.7" x2="1048.2" y2="122.7"/>
<text x="1037.0" y="136.1" font-size="41.0" text-anchor="end">0.8</text>
<line x1="1042.7" y1="216.1" x2="1048.2" y2="216.1"/>
<text x="1037.0" y="229.5" font-size="41.0" text-anchor="end">0.6</text>
<line x1="1042.7" y1="309.5" x2="1048.2" y2="309.5"/>
<text x="1037.0" y="322.9" font-size="41.0" text-anchor="end">0.4</text>
<line x1="211.9" y1="353.7" x2="211.9" y2="359.2"/>
<text x="211.9" y="394.0" font-size="41.0" text-anchor="middle">10826</text>
<line x1="367.8" y1="353.7" x2="367.8" y2="359.2"/>
<text x="367.8" y="394.0" font-size="41.0" text-anchor="middle">10828</text>
<line x1="523.7" y1="353.7" x2="523.7" y2="359.2"/>
<text x="523.7" y="394.0" font-size="41.0" text-anchor="middle">10830</text>
<line x1="679.6" y1="353.7" x2="679.6" y2="359.2"/>
<text x="679.6" y="394.0" font-size="41.0" text-anchor="middle">10832</text>
<line x1="835.5" y1="353.7" x2="835.5" y2="359.2"/>
<text x="835.5" y="394.0" font-size="41.0" text-anchor="middle">10834</text>
<line x1="1126.2" y1="353.7" x2="1126.2" y2="359.2"/>
<text x="1126.2" y="394.0" font-size="41.0" text-anchor="middle">10826</text>
<line x1="1282.1" y1="353.7" x2="1282.1" y2="359.2"/>
<text x="1282.1" y="394.0" font-size="41.0" text-anchor="middle">10828</text>
<line x1="1438.0" y1="353.7" x2="1438.0" y2="359.2"/>
<text x="1438.0" y="394.0" font-size="41.0" text-anchor="middle">10830</text>
<line x1="1593.9" y1="353.7" x2="1593.9" y2="359.2"/>
<text x="1593.9" y="394.0" font-size="41.0" text-anchor="middle">10832</text>
<line x1="1749.8" y1="353.7" x2="1749.8" y2="359.2"/>
<text x="1749.8" y="394.0" font-size="41.0" text-anchor="middle">10834</text>
<line x1="211.9" y1="1516.0" x2="211.9" y2="1521.5"/>
<text x="211.9" y="1555.7" font-size="41.0" text-anchor="middle">10826</text>
<line x1="367.8" y1="1516.0" x2="367.8" y2="1521.5"/>
<text x="367.8" y="1555.7" font-size="41.0" text-anchor="middle">10828</text>
<line x1="523.7" y1="1516.0" x2="523.7" y2="1521.5"/>
<text x="523.7" y="1555.7" font-size="41.0" text-anchor="middle">10830</text>
<line x1="679.6" y1="1516.0" x2="679.6" y2="1521.5"/>
<text x="679.6" y="1555.7" font-size="41.0" text-anchor="middle">10832</text>
<line x1="835.5" y1="1516.0" x2="835.5" y2="1521.5"/>
<text x="835.5" y="1555.7" font-size="41.0" text-anchor="middle">10834</text>
<line x1="1126.2" y1="1516.0" x2="1126.2" y2="1521.5"/>
<text x="1126.2" y="1555.7" font-size="41.0" text-anchor="middle">10826</text>
<line x1="1282.1" y1="1516.0" x2="1282.1" y2="1521.5"/>
<text x="1282.1" y="1555.7" font-size="41.0" text-anchor="middle">10828</text>
<line x1="1438.0" y1="1516.0" x2="1438.0" y2="1521.5"/>
<text x="1438.0" y="1555.7" font-size="41.0" text-anchor="middle">10830</text>
<line x1="1593.9" y1="1516.0" x2="1593.9" y2="1521.5"/>
<text x="1593.9" y="1555.7" font-size="41.0" text-anchor="middle">10832</text>
<line x1="1749.8" y1="1516.0" x2="1749.8" y2="1521.5"/>
<text x="1749.8" y="1555.7" font-size="41.0" text-anchor="middle">10834</text>
<text x="367.2" y="212.1" font-size="30.6" text-anchor="start">Si 10827 Å</text>
<text x="523.2" y="119.9" font-size="30.6" text-anchor="start">OH residual</text>
<text x="561.9" y="258.2" font-size="30.6">H<tspan font-size="21.4" dy="6">2</tspan><tspan dy="-6">O line</tspan></text>
<path d="M357.1 231.6L310.1 282.7" style="stroke:#000;stroke-width:3.5;stroke-linecap:round"/><polygon points="303.0,273.4 296.6,297.4 320.0,289.1" fill="#000"/>
<path d="M675.4 92.7L700.0 47.9" style="stroke:#000;stroke-width:3.5;stroke-linecap:round"/><polygon points="709.2,55.3 709.6,30.4 688.8,44.1" fill="#000"/>
<path d="M681.7 235.3L734.9 219.7" style="stroke:#000;stroke-width:3.5;stroke-linecap:round"/><polygon points="736.2,231.4 754.1,214.1 729.7,209.1" fill="#000"/>
<text x="1281.5" y="215.4" font-size="30.6" text-anchor="start">Si 10827 Å</text>
<text x="1437.2" y="122.4" font-size="30.6" text-anchor="start">OH residual</text>
<text x="1476.1" y="261.5" font-size="30.6">H<tspan font-size="21.4" dy="6">2</tspan><tspan dy="-6">O line</tspan></text>
<path d="M1271.6 235.3L1225.1 286.4" style="stroke:#000;stroke-width:3.5;stroke-linecap:round"/><polygon points="1217.8,277.1 1211.6,301.2 1235.0,292.7" fill="#000"/>
<path d="M1589.9 95.1L1614.5 50.3" style="stroke:#000;stroke-width:3.5;stroke-linecap:round"/><polygon points="1623.7,57.7 1624.1,32.8 1603.3,46.5" fill="#000"/>
<path d="M1595.1 230.9L1656.6 144.7" style="stroke:#000;stroke-width:3.5;stroke-linecap:round"/><polygon points="1664.9,153.0 1668.2,128.4 1646.0,139.6" fill="#000"/>
<text transform="translate(54.6 178.3) rotate(-90)" font-size="41" text-anchor="middle"><tspan font-style="italic" font-size="44">F</tspan><tspan font-size="30.8" dy="7.7" dx="-2.5">out</tspan></text>
<path d="M863.3 239.4 L860.1 246.0 L856.8 252.6 L853.6 259.2 L850.3 265.9 L847.0 272.5 L843.7 279.1 L840.4 285.7 L837.0 292.3 L833.6 298.9 L830.3 305.5 L826.8 312.2 L823.4 318.8 L820.0 325.4 L816.5 332.0 L813.0 338.6 L809.6 345.2 L806.0 351.9 L802.5 358.5 L799.0 365.1 L795.4 371.7 L791.8 378.3 L788.2 384.9 L784.6 391.5 L781.0 398.2 L777.4 404.8 L773.7 411.4 L770.0 418.0 L766.4 424.6 L762.7 431.2 L759.0 437.8 L755.2 444.5 L751.5 451.1 L747.7 457.7 L743.9 464.3 L740.2 470.9 L736.4 477.5 L732.6 484.2 L728.7 490.8 L724.9 497.4 L721.0 504.0 L717.2 510.6 L713.3 517.2 L709.4 523.8 L705.5 530.5 L701.6 537.1 L697.7 543.7 L693.7 550.3 L689.8 556.9 L685.8 563.5 L681.9 570.1 L677.9 576.8 L673.9 583.4 L669.9 590.0 L665.9 596.6 L661.8 603.2 L657.8 609.8 L653.8 616.5 L649.7 623.1 L645.6 629.7 L641.6 636.3 L637.5 642.9 L633.4 649.5 L629.3 656.1 L625.2 662.8 L621.1 669.4 L617.0 676.0 L612.8 682.6 L608.7 689.2 L604.5 695.8 L600.4 702.4 L596.2 709.1 L592.1 715.7 L587.9 722.3 L583.7 728.9 L579.5 735.5 L575.3 742.1 L571.1 748.8 L566.9 755.4 L562.7 762.0 L558.5 768.6 L554.3 775.2 L550.1 781.8 L545.8 788.4 L541.6 795.1 L537.4 801.7 L533.1 808.3 L528.9 814.9 L524.6 821.5 L520.4 828.1 L516.1 834.7 L511.9 841.4 L507.6 848.0 L503.3 854.6 L499.1 861.2 L494.8 867.8 L490.5 874.4 L486.2 881.1 L482.0 887.7 L477.7 894.3 L473.4 900.9 L469.1 907.5 L464.8 914.1 L460.6 920.7 L456.3 927.4 L452.0 934.0 L447.7 940.6 L443.4 947.2 L439.1 953.8 L434.9 960.4 L430.6 967.0 L426.3 973.7 L422.0 980.3 L417.7 986.9 L413.5 993.5 L409.2 1000.1 L404.9 1006.7 L400.6 1013.4 L396.4 1020.0 L392.1 1026.6 L387.8 1033.2 L383.6 1039.8 L379.3 1046.4 L375.1 1053.0 L370.8 1059.7 L366.6 1066.3 L362.3 1072.9 L358.1 1079.5 L353.8 1086.1 L349.6 1092.7 L345.4 1099.3 L341.2 1106.0 L337.0 1112.6 L332.7 1119.2 L328.5 1125.8 L324.3 1132.4 L320.1 1139.0 L316.0 1145.7 L311.8 1152.3 L307.6 1158.9 L303.4 1165.5 L299.3 1172.1 L295.1 1178.7 L291.0 1185.3 L286.8 1192.0 L282.7 1198.6 L278.6 1205.2 L274.5 1211.8 L270.3 1218.4 L266.2 1225.0 L262.2 1231.6 L258.1 1238.3 L254.0 1244.9 L249.9 1251.5 L245.9 1258.1 L241.8 1264.7 L237.8 1271.3 L233.8 1278.0 L229.8 1284.6 L225.8 1291.2 L221.8 1297.8 L217.8 1304.4 L213.8 1311.0 L209.8 1317.6 L205.9 1324.3 L201.9 1330.9 L198.0 1337.5 L194.1 1344.1 L190.2 1350.7 L186.3 1357.3 L182.4 1363.9 L178.6 1370.6 L174.7 1377.2 L170.9 1383.8 L167.0 1390.4 L163.2 1397.0 L159.4 1403.6 L155.6 1410.3 L151.9 1416.9 L148.1 1423.5 L144.3 1430.1 L140.6 1436.7 L136.9 1443.3 L133.2 1449.9 L129.5 1456.6 L125.8 1463.2 L122.2 1469.8 L118.5 1476.4 L114.9 1483.0 L111.3 1489.6 L107.7 1496.2 L104.1 1502.9 L100.5 1509.5 L97.0 1516.1 L93.5 1522.7 L90.0 1529.3 L86.5 1535.9 L83.0 1542.6 L79.5 1549.2 L76.1 1555.8 L72.6 1562.4" fill="none" stroke="#fff" stroke-width="3.4" stroke-dasharray="12.3 5.8" stroke-dashoffset="8.66" clip-path="url(#clip_bl)"/>
<path d="M953.7 239.4 L950.5 246.0 L947.3 252.6 L944.0 259.2 L940.7 265.9 L937.4 272.5 L934.1 279.1 L930.8 285.7 L927.4 292.3 L924.1 298.9 L920.7 305.5 L917.3 312.2 L913.8 318.8 L910.4 325.4 L906.9 332.0 L903.5 338.6 L900.0 345.2 L896.5 351.9 L892.9 358.5 L889.4 365.1 L885.8 371.7 L882.2 378.3 L878.7 384.9 L875.0 391.5 L871.4 398.2 L867.8 404.8 L864.1 411.4 L860.5 418.0 L856.8 424.6 L853.1 431.2 L849.4 437.8 L845.6 444.5 L841.9 451.1 L838.1 457.7 L834.4 464.3 L830.6 470.9 L826.8 477.5 L823.0 484.2 L819.1 490.8 L815.3 497.4 L811.4 504.0 L807.6 510.6 L803.7 517.2 L799.8 523.8 L795.9 530.5 L792.0 537.1 L788.1 543.7 L784.1 550.3 L780.2 556.9 L776.2 563.5 L772.3 570.1 L768.3 576.8 L764.3 583.4 L760.3 590.0 L756.3 596.6 L752.2 603.2 L748.2 609.8 L744.2 616.5 L740.1 623.1 L736.1 629.7 L732.0 636.3 L727.9 642.9 L723.8 649.5 L719.7 656.1 L715.6 662.8 L711.5 669.4 L707.4 676.0 L703.2 682.6 L699.1 689.2 L695.0 695.8 L690.8 702.4 L686.6 709.1 L682.5 715.7 L678.3 722.3 L674.1 728.9 L669.9 735.5 L665.7 742.1 L661.5 748.8 L657.3 755.4 L653.1 762.0 L648.9 768.6 L644.7 775.2 L640.5 781.8 L636.2 788.4 L632.0 795.1 L627.8 801.7 L623.5 808.3 L619.3 814.9 L615.0 821.5 L610.8 828.1 L606.5 834.7 L602.3 841.4 L598.0 848.0 L593.7 854.6 L589.5 861.2 L585.2 867.8 L580.9 874.4 L576.6 881.1 L572.4 887.7 L568.1 894.3 L563.8 900.9 L559.5 907.5 L555.2 914.1 L551.0 920.7 L546.7 927.4 L542.4 934.0 L538.1 940.6 L533.8 947.2 L529.6 953.8 L525.3 960.4 L521.0 967.0 L516.7 973.7 L512.4 980.3 L508.1 986.9 L503.9 993.5 L499.6 1000.1 L495.3 1006.7 L491.0 1013.4 L486.8 1020.0 L482.5 1026.6 L478.2 1033.2 L474.0 1039.8 L469.7 1046.4 L465.5 1053.0 L461.2 1059.7 L457.0 1066.3 L452.7 1072.9 L448.5 1079.5 L444.3 1086.1 L440.0 1092.7 L435.8 1099.3 L431.6 1106.0 L427.4 1112.6 L423.2 1119.2 L418.9 1125.8 L414.7 1132.4 L410.6 1139.0 L406.4 1145.7 L402.2 1152.3 L398.0 1158.9 L393.8 1165.5 L389.7 1172.1 L385.5 1178.7 L381.4 1185.3 L377.2 1192.0 L373.1 1198.6 L369.0 1205.2 L364.9 1211.8 L360.8 1218.4 L356.7 1225.0 L352.6 1231.6 L348.5 1238.3 L344.4 1244.9 L340.3 1251.5 L336.3 1258.1 L332.2 1264.7 L328.2 1271.3 L324.2 1278.0 L320.2 1284.6 L316.2 1291.2 L312.2 1297.8 L308.2 1304.4 L304.2 1311.0 L300.2 1317.6 L296.3 1324.3 L292.4 1330.9 L288.4 1337.5 L284.5 1344.1 L280.6 1350.7 L276.7 1357.3 L272.8 1363.9 L269.0 1370.6 L265.1 1377.2 L261.3 1383.8 L257.4 1390.4 L253.6 1397.0 L249.8 1403.6 L246.0 1410.3 L242.3 1416.9 L238.5 1423.5 L234.8 1430.1 L231.0 1436.7 L227.3 1443.3 L223.6 1449.9 L219.9 1456.6 L216.2 1463.2 L212.6 1469.8 L208.9 1476.4 L205.3 1483.0 L201.7 1489.6 L198.1 1496.2 L194.5 1502.9 L191.0 1509.5 L187.4 1516.1 L183.9 1522.7 L180.4 1529.3 L176.9 1535.9 L173.4 1542.6 L169.9 1549.2 L166.5 1555.8 L163.1 1562.4" fill="none" stroke="#fff" stroke-width="3.4" stroke-dasharray="12.3 5.8" stroke-dashoffset="8.66" clip-path="url(#clip_bl)"/>
<path d="M960.7 239.4 L957.5 246.0 L954.3 252.6 L951.0 259.2 L947.7 265.9 L944.4 272.5 L941.1 279.1 L937.8 285.7 L934.4 292.3 L931.1 298.9 L927.7 305.5 L924.3 312.2 L920.8 318.8 L917.4 325.4 L913.9 332.0 L910.5 338.6 L907.0 345.2 L903.5 351.9 L899.9 358.5 L896.4 365.1 L892.8 371.7 L889.3 378.3 L885.7 384.9 L882.1 391.5 L878.4 398.2 L874.8 404.8 L871.1 411.4 L867.5 418.0 L863.8 424.6 L860.1 431.2 L856.4 437.8 L852.6 444.5 L848.9 451.1 L845.1 457.7 L841.4 464.3 L837.6 470.9 L833.8 477.5 L830.0 484.2 L826.2 490.8 L822.3 497.4 L818.5 504.0 L814.6 510.6 L810.7 517.2 L806.8 523.8 L802.9 530.5 L799.0 537.1 L795.1 543.7 L791.2 550.3 L787.2 556.9 L783.2 563.5 L779.3 570.1 L775.3 576.8 L771.3 583.4 L767.3 590.0 L763.3 596.6 L759.3 603.2 L755.2 609.8 L751.2 616.5 L747.1 623.1 L743.1 629.7 L739.0 636.3 L734.9 642.9 L730.8 649.5 L726.7 656.1 L722.6 662.8 L718.5 669.4 L714.4 676.0 L710.3 682.6 L706.1 689.2 L702.0 695.8 L697.8 702.4 L693.7 709.1 L689.5 715.7 L685.3 722.3 L681.1 728.9 L677.0 735.5 L672.8 742.1 L668.6 748.8 L664.4 755.4 L660.1 762.0 L655.9 768.6 L651.7 775.2 L647.5 781.8 L643.3 788.4 L639.0 795.1 L634.8 801.7 L630.5 808.3 L626.3 814.9 L622.0 821.5 L617.8 828.1 L613.5 834.7 L609.3 841.4 L605.0 848.0 L600.7 854.6 L596.5 861.2 L592.2 867.8 L587.9 874.4 L583.7 881.1 L579.4 887.7 L575.1 894.3 L570.8 900.9 L566.5 907.5 L562.3 914.1 L558.0 920.7 L553.7 927.4 L549.4 934.0 L545.1 940.6 L540.8 947.2 L536.6 953.8 L532.3 960.4 L528.0 967.0 L523.7 973.7 L519.4 980.3 L515.2 986.9 L510.9 993.5 L506.6 1000.1 L502.3 1006.7 L498.1 1013.4 L493.8 1020.0 L489.5 1026.6 L485.3 1033.2 L481.0 1039.8 L476.7 1046.4 L472.5 1053.0 L468.2 1059.7 L464.0 1066.3 L459.7 1072.9 L455.5 1079.5 L451.3 1086.1 L447.0 1092.7 L442.8 1099.3 L438.6 1106.0 L434.4 1112.6 L430.2 1119.2 L426.0 1125.8 L421.8 1132.4 L417.6 1139.0 L413.4 1145.7 L409.2 1152.3 L405.0 1158.9 L400.9 1165.5 L396.7 1172.1 L392.5 1178.7 L388.4 1185.3 L384.3 1192.0 L380.1 1198.6 L376.0 1205.2 L371.9 1211.8 L367.8 1218.4 L363.7 1225.0 L359.6 1231.6 L355.5 1238.3 L351.4 1244.9 L347.4 1251.5 L343.3 1258.1 L339.3 1264.7 L335.2 1271.3 L331.2 1278.0 L327.2 1284.6 L323.2 1291.2 L319.2 1297.8 L315.2 1304.4 L311.2 1311.0 L307.3 1317.6 L303.3 1324.3 L299.4 1330.9 L295.4 1337.5 L291.5 1344.1 L287.6 1350.7 L283.7 1357.3 L279.8 1363.9 L276.0 1370.6 L272.1 1377.2 L268.3 1383.8 L264.5 1390.4 L260.6 1397.0 L256.8 1403.6 L253.1 1410.3 L249.3 1416.9 L245.5 1423.5 L241.8 1430.1 L238.0 1436.7 L234.3 1443.3 L230.6 1449.9 L226.9 1456.6 L223.3 1463.2 L219.6 1469.8 L216.0 1476.4 L212.3 1483.0 L208.7 1489.6 L205.1 1496.2 L201.5 1502.9 L198.0 1509.5 L194.4 1516.1 L190.9 1522.7 L187.4 1529.3 L183.9 1535.9 L180.4 1542.6 L176.9 1549.2 L173.5 1555.8 L170.1 1562.4" fill="none" stroke="#fff" stroke-width="3.4" stroke-dasharray="12.3 5.8" stroke-dashoffset="8.66" clip-path="url(#clip_bl)"/>
<line x1="134.0" y1="817.1" x2="913.4" y2="817.1" style="stroke:#ff0000;stroke-width:5.0;stroke-dasharray:19 8"/>
<line x1="134.0" y1="1047.7" x2="913.4" y2="1047.7" style="stroke:#ff0000;stroke-width:5.0;stroke-dasharray:19 8"/>
<path d="M1777.7 429.1 L1774.5 435.0 L1771.2 440.8 L1768.0 446.7 L1764.7 452.5 L1761.4 458.4 L1758.1 464.3 L1754.7 470.1 L1751.4 476.0 L1748.0 481.8 L1744.6 487.7 L1741.2 493.5 L1737.8 499.4 L1734.4 505.3 L1730.9 511.1 L1727.4 517.0 L1723.9 522.8 L1720.4 528.7 L1716.9 534.6 L1713.3 540.4 L1709.8 546.3 L1706.2 552.1 L1702.6 558.0 L1699.0 563.9 L1695.4 569.7 L1691.7 575.6 L1688.1 581.4 L1684.4 587.3 L1680.7 593.2 L1677.0 599.0 L1673.3 604.9 L1669.6 610.7 L1665.8 616.6 L1662.1 622.4 L1658.3 628.3 L1654.5 634.2 L1650.7 640.0 L1646.9 645.9 L1643.1 651.7 L1639.2 657.6 L1635.4 663.5 L1631.5 669.3 L1627.6 675.2 L1623.8 681.0 L1619.9 686.9 L1615.9 692.8 L1612.0 698.6 L1608.1 704.5 L1604.1 710.3 L1600.2 716.2 L1596.2 722.0 L1592.2 727.9 L1588.2 733.8 L1584.2 739.6 L1580.2 745.5 L1576.2 751.3 L1572.1 757.2 L1568.1 763.1 L1564.0 768.9 L1560.0 774.8 L1555.9 780.6 L1551.8 786.5 L1547.7 792.4 L1543.6 798.2 L1539.5 804.1 L1535.4 809.9 L1531.3 815.8 L1527.2 821.7 L1523.0 827.5 L1518.9 833.4 L1514.7 839.2 L1510.6 845.1 L1506.4 850.9 L1502.2 856.8 L1498.0 862.7 L1493.8 868.5 L1489.6 874.4 L1485.4 880.2 L1481.2 886.1 L1477.0 892.0 L1472.8 897.8 L1468.6 903.7 L1464.4 909.5 L1460.1 915.4 L1455.9 921.3 L1451.7 927.1 L1447.4 933.0 L1443.2 938.8 L1438.9 944.7 L1434.7 950.6 L1430.4 956.4 L1426.1 962.3 L1421.9 968.1 L1417.6 974.0 L1413.3 979.8 L1409.1 985.7 L1404.8 991.6 L1400.5 997.4 L1396.2 1003.3 L1392.0 1009.1 L1387.7 1015.0 L1383.4 1020.9 L1379.1 1026.7 L1374.8 1032.6 L1370.6 1038.4 L1366.3 1044.3 L1362.0 1050.2 L1357.7 1056.0 L1353.4 1061.9 L1349.1 1067.7 L1344.9 1073.6 L1340.6 1079.4 L1336.3 1085.3 L1332.0 1091.2 L1327.7 1097.0 L1323.5 1102.9 L1319.2 1108.7 L1314.9 1114.6 L1310.6 1120.5 L1306.4 1126.3 L1302.1 1132.2 L1297.8 1138.0 L1293.6 1143.9 L1289.3 1149.8 L1285.1 1155.6 L1280.8 1161.5 L1276.6 1167.3 L1272.3 1173.2 L1268.1 1179.1 L1263.9 1184.9 L1259.6 1190.8 L1255.4 1196.6 L1251.2 1202.5 L1247.0 1208.3 L1242.8 1214.2 L1238.6 1220.1 L1234.4 1225.9 L1230.2 1231.8 L1226.0 1237.6 L1221.8 1243.5 L1217.7 1249.4 L1213.5 1255.2 L1209.4 1261.1 L1205.2 1266.9 L1201.1 1272.8 L1196.9 1278.7 L1192.8 1284.5 L1188.7 1290.4 L1184.6 1296.2 L1180.5 1302.1 L1176.4 1307.9 L1172.3 1313.8 L1168.2 1319.7 L1164.2 1325.5 L1160.1 1331.4 L1156.1 1337.2 L1152.0 1343.1 L1148.0 1349.0 L1144.0 1354.8 L1140.0 1360.7 L1136.0 1366.5 L1132.0 1372.4 L1128.0 1378.3 L1124.1 1384.1 L1120.1 1390.0 L1116.2 1395.8 L1112.2 1401.7 L1108.3 1407.6 L1104.4 1413.4 L1100.5 1419.3 L1096.6 1425.1 L1092.8 1431.0 L1088.9 1436.8 L1085.1 1442.7 L1081.2 1448.6 L1077.4 1454.4 L1073.6 1460.3 L1069.8 1466.1 L1066.1 1472.0 L1062.3 1477.9 L1058.5 1483.7 L1054.8 1489.6 L1051.1 1495.4 L1047.4 1501.3 L1043.7 1507.2 L1040.0 1513.0 L1036.4 1518.9 L1032.7 1524.7 L1029.1 1530.6 L1025.5 1536.5 L1021.9 1542.3 L1018.3 1548.2 L1014.7 1554.0 L1011.2 1559.9 L1007.7 1565.7 L1004.1 1571.6 L1000.6 1577.5 L997.2 1583.3 L993.7 1589.2 L990.3 1595.0 L986.8 1600.9" fill="none" stroke="#fff" stroke-width="3.4" stroke-dasharray="12.3 5.8" stroke-dashoffset="14.80" clip-path="url(#clip_br)"/>
<path d="M1868.1 429.1 L1864.9 435.0 L1861.7 440.8 L1858.4 446.7 L1855.1 452.5 L1851.8 458.4 L1848.5 464.3 L1845.2 470.1 L1841.8 476.0 L1838.5 481.8 L1835.1 487.7 L1831.7 493.5 L1828.2 499.4 L1824.8 505.3 L1821.3 511.1 L1817.9 517.0 L1814.4 522.8 L1810.8 528.7 L1807.3 534.6 L1803.8 540.4 L1800.2 546.3 L1796.6 552.1 L1793.0 558.0 L1789.4 563.9 L1785.8 569.7 L1782.2 575.6 L1778.5 581.4 L1774.8 587.3 L1771.2 593.2 L1767.5 599.0 L1763.7 604.9 L1760.0 610.7 L1756.3 616.6 L1752.5 622.4 L1748.7 628.3 L1745.0 634.2 L1741.2 640.0 L1737.3 645.9 L1733.5 651.7 L1729.7 657.6 L1725.8 663.5 L1722.0 669.3 L1718.1 675.2 L1714.2 681.0 L1710.3 686.9 L1706.4 692.8 L1702.4 698.6 L1698.5 704.5 L1694.6 710.3 L1690.6 716.2 L1686.6 722.0 L1682.6 727.9 L1678.6 733.8 L1674.6 739.6 L1670.6 745.5 L1666.6 751.3 L1662.6 757.2 L1658.5 763.1 L1654.5 768.9 L1650.4 774.8 L1646.3 780.6 L1642.3 786.5 L1638.2 792.4 L1634.1 798.2 L1630.0 804.1 L1625.8 809.9 L1621.7 815.8 L1617.6 821.7 L1613.4 827.5 L1609.3 833.4 L1605.1 839.2 L1601.0 845.1 L1596.8 850.9 L1592.6 856.8 L1588.5 862.7 L1584.3 868.5 L1580.1 874.4 L1575.9 880.2 L1571.7 886.1 L1567.5 892.0 L1563.3 897.8 L1559.0 903.7 L1554.8 909.5 L1550.6 915.4 L1546.3 921.3 L1542.1 927.1 L1537.9 933.0 L1533.6 938.8 L1529.4 944.7 L1525.1 950.6 L1520.8 956.4 L1516.6 962.3 L1512.3 968.1 L1508.0 974.0 L1503.8 979.8 L1499.5 985.7 L1495.2 991.6 L1491.0 997.4 L1486.7 1003.3 L1482.4 1009.1 L1478.1 1015.0 L1473.8 1020.9 L1469.6 1026.7 L1465.3 1032.6 L1461.0 1038.4 L1456.7 1044.3 L1452.4 1050.2 L1448.1 1056.0 L1443.9 1061.9 L1439.6 1067.7 L1435.3 1073.6 L1431.0 1079.4 L1426.7 1085.3 L1422.4 1091.2 L1418.2 1097.0 L1413.9 1102.9 L1409.6 1108.7 L1405.3 1114.6 L1401.1 1120.5 L1396.8 1126.3 L1392.5 1132.2 L1388.3 1138.0 L1384.0 1143.9 L1379.8 1149.8 L1375.5 1155.6 L1371.3 1161.5 L1367.0 1167.3 L1362.8 1173.2 L1358.5 1179.1 L1354.3 1184.9 L1350.1 1190.8 L1345.9 1196.6 L1341.6 1202.5 L1337.4 1208.3 L1333.2 1214.2 L1329.0 1220.1 L1324.8 1225.9 L1320.6 1231.8 L1316.5 1237.6 L1312.3 1243.5 L1308.1 1249.4 L1303.9 1255.2 L1299.8 1261.1 L1295.6 1266.9 L1291.5 1272.8 L1287.4 1278.7 L1283.2 1284.5 L1279.1 1290.4 L1275.0 1296.2 L1270.9 1302.1 L1266.8 1307.9 L1262.7 1313.8 L1258.7 1319.7 L1254.6 1325.5 L1250.5 1331.4 L1246.5 1337.2 L1242.5 1343.1 L1238.4 1349.0 L1234.4 1354.8 L1230.4 1360.7 L1226.4 1366.5 L1222.4 1372.4 L1218.5 1378.3 L1214.5 1384.1 L1210.5 1390.0 L1206.6 1395.8 L1202.7 1401.7 L1198.7 1407.6 L1194.8 1413.4 L1191.0 1419.3 L1187.1 1425.1 L1183.2 1431.0 L1179.3 1436.8 L1175.5 1442.7 L1171.7 1448.6 L1167.9 1454.4 L1164.1 1460.3 L1160.3 1466.1 L1156.5 1472.0 L1152.7 1477.9 L1149.0 1483.7 L1145.2 1489.6 L1141.5 1495.4 L1137.8 1501.3 L1134.1 1507.2 L1130.5 1513.0 L1126.8 1518.9 L1123.2 1524.7 L1119.5 1530.6 L1115.9 1536.5 L1112.3 1542.3 L1108.7 1548.2 L1105.2 1554.0 L1101.6 1559.9 L1098.1 1565.7 L1094.6 1571.6 L1091.1 1577.5 L1087.6 1583.3 L1084.1 1589.2 L1080.7 1595.0 L1077.3 1600.9" fill="none" stroke="#fff" stroke-width="3.4" stroke-dasharray="12.3 5.8" stroke-dashoffset="14.80" clip-path="url(#clip_br)"/>
<path d="M1875.1 429.1 L1871.9 435.0 L1868.7 440.8 L1865.4 446.7 L1862.1 452.5 L1858.8 458.4 L1855.5 464.3 L1852.2 470.1 L1848.8 476.0 L1845.5 481.8 L1842.1 487.7 L1838.7 493.5 L1835.2 499.4 L1831.8 505.3 L1828.3 511.1 L1824.9 517.0 L1821.4 522.8 L1817.9 528.7 L1814.3 534.6 L1810.8 540.4 L1807.2 546.3 L1803.7 552.1 L1800.1 558.0 L1796.5 563.9 L1792.8 569.7 L1789.2 575.6 L1785.5 581.4 L1781.9 587.3 L1778.2 593.2 L1774.5 599.0 L1770.8 604.9 L1767.0 610.7 L1763.3 616.6 L1759.5 622.4 L1755.8 628.3 L1752.0 634.2 L1748.2 640.0 L1744.4 645.9 L1740.5 651.7 L1736.7 657.6 L1732.8 663.5 L1729.0 669.3 L1725.1 675.2 L1721.2 681.0 L1717.3 686.9 L1713.4 692.8 L1709.5 698.6 L1705.5 704.5 L1701.6 710.3 L1697.6 716.2 L1693.6 722.0 L1689.7 727.9 L1685.7 733.8 L1681.7 739.6 L1677.6 745.5 L1673.6 751.3 L1669.6 757.2 L1665.5 763.1 L1661.5 768.9 L1657.4 774.8 L1653.4 780.6 L1649.3 786.5 L1645.2 792.4 L1641.1 798.2 L1637.0 804.1 L1632.9 809.9 L1628.7 815.8 L1624.6 821.7 L1620.5 827.5 L1616.3 833.4 L1612.2 839.2 L1608.0 845.1 L1603.8 850.9 L1599.7 856.8 L1595.5 862.7 L1591.3 868.5 L1587.1 874.4 L1582.9 880.2 L1578.7 886.1 L1574.5 892.0 L1570.3 897.8 L1566.0 903.7 L1561.8 909.5 L1557.6 915.4 L1553.4 921.3 L1549.1 927.1 L1544.9 933.0 L1540.6 938.8 L1536.4 944.7 L1532.1 950.6 L1527.9 956.4 L1523.6 962.3 L1519.3 968.1 L1515.1 974.0 L1510.8 979.8 L1506.5 985.7 L1502.3 991.6 L1498.0 997.4 L1493.7 1003.3 L1489.4 1009.1 L1485.1 1015.0 L1480.9 1020.9 L1476.6 1026.7 L1472.3 1032.6 L1468.0 1038.4 L1463.7 1044.3 L1459.4 1050.2 L1455.2 1056.0 L1450.9 1061.9 L1446.6 1067.7 L1442.3 1073.6 L1438.0 1079.4 L1433.7 1085.3 L1429.5 1091.2 L1425.2 1097.0 L1420.9 1102.9 L1416.6 1108.7 L1412.4 1114.6 L1408.1 1120.5 L1403.8 1126.3 L1399.6 1132.2 L1395.3 1138.0 L1391.0 1143.9 L1386.8 1149.8 L1382.5 1155.6 L1378.3 1161.5 L1374.0 1167.3 L1369.8 1173.2 L1365.6 1179.1 L1361.3 1184.9 L1357.1 1190.8 L1352.9 1196.6 L1348.7 1202.5 L1344.4 1208.3 L1340.2 1214.2 L1336.0 1220.1 L1331.8 1225.9 L1327.7 1231.8 L1323.5 1237.6 L1319.3 1243.5 L1315.1 1249.4 L1311.0 1255.2 L1306.8 1261.1 L1302.7 1266.9 L1298.5 1272.8 L1294.4 1278.7 L1290.3 1284.5 L1286.1 1290.4 L1282.0 1296.2 L1277.9 1302.1 L1273.8 1307.9 L1269.8 1313.8 L1265.7 1319.7 L1261.6 1325.5 L1257.6 1331.4 L1253.5 1337.2 L1249.5 1343.1 L1245.4 1349.0 L1241.4 1354.8 L1237.4 1360.7 L1233.4 1366.5 L1229.4 1372.4 L1225.5 1378.3 L1221.5 1384.1 L1217.6 1390.0 L1213.6 1395.8 L1209.7 1401.7 L1205.8 1407.6 L1201.9 1413.4 L1198.0 1419.3 L1194.1 1425.1 L1190.2 1431.0 L1186.4 1436.8 L1182.5 1442.7 L1178.7 1448.6 L1174.9 1454.4 L1171.1 1460.3 L1167.3 1466.1 L1163.5 1472.0 L1159.7 1477.9 L1156.0 1483.7 L1152.3 1489.6 L1148.5 1495.4 L1144.8 1501.3 L1141.1 1507.2 L1137.5 1513.0 L1133.8 1518.9 L1130.2 1524.7 L1126.5 1530.6 L1122.9 1536.5 L1119.3 1542.3 L1115.8 1548.2 L1112.2 1554.0 L1108.6 1559.9 L1105.1 1565.7 L1101.6 1571.6 L1098.1 1577.5 L1094.6 1583.3 L1091.2 1589.2 L1087.7 1595.0 L1084.3 1600.9" fill="none" stroke="#fff" stroke-width="3.4" stroke-dasharray="12.3 5.8" stroke-dashoffset="14.80" clip-path="url(#clip_br)"/>
<line x1="1048.2" y1="940.8" x2="1827.8" y2="940.8" style="stroke:#ff0000;stroke-width:5.0;stroke-dasharray:19 8"/>
<line x1="1048.2" y1="1145.0" x2="1827.8" y2="1145.0" style="stroke:#ff0000;stroke-width:5.0;stroke-dasharray:19 8"/>
<line x1="128.5" y1="459.9" x2="134.0" y2="459.9"/>
<text x="122.8" y="473.3" font-size="41.0" text-anchor="end">1.5</text>
<line x1="128.5" y1="617.4" x2="134.0" y2="617.4"/>
<text x="122.8" y="630.8" font-size="41.0" text-anchor="end">1.0</text>
<line x1="128.5" y1="774.9" x2="134.0" y2="774.9"/>
<text x="122.8" y="788.3" font-size="41.0" text-anchor="end">0.5</text>
<line x1="128.5" y1="932.4" x2="134.0" y2="932.4"/>
<text x="122.8" y="945.8" font-size="41.0" text-anchor="end">0.0</text>
<line x1="128.5" y1="1089.9" x2="134.0" y2="1089.9"/>
<text transform="translate(44.6 1107.5) scale(1.23 1)" font-size="41" style="stroke:#000;stroke-width:0.35">−</text>
<text x="71.5" y="1103.3" font-size="41">0.5</text>
<line x1="128.5" y1="1247.4" x2="134.0" y2="1247.4"/>
<text transform="translate(44.6 1265.0) scale(1.23 1)" font-size="41" style="stroke:#000;stroke-width:0.35">−</text>
<text x="71.5" y="1260.8" font-size="41">1.0</text>
<line x1="128.5" y1="1404.9" x2="134.0" y2="1404.9"/>
<text transform="translate(44.6 1422.5) scale(1.23 1)" font-size="41" style="stroke:#000;stroke-width:0.35">−</text>
<text x="71.5" y="1418.3" font-size="41">1.5</text>
<line x1="1042.7" y1="484.9" x2="1048.2" y2="484.9"/>
<text x="1037.0" y="498.3" font-size="41.0" text-anchor="end">2.0</text>
<line x1="1042.7" y1="624.4" x2="1048.2" y2="624.4"/>
<text x="1037.0" y="637.8" font-size="41.0" text-anchor="end">1.5</text>
<line x1="1042.7" y1="763.9" x2="1048.2" y2="763.9"/>
<text x="1037.0" y="777.3" font-size="41.0" text-anchor="end">1.0</text>
<line x1="1042.7" y1="903.4" x2="1048.2" y2="903.4"/>
<text x="1037.0" y="916.8" font-size="41.0" text-anchor="end">0.5</text>
<line x1="1042.7" y1="1042.9" x2="1048.2" y2="1042.9"/>
<text x="1037.0" y="1056.3" font-size="41.0" text-anchor="end">0.0</text>
<line x1="1042.7" y1="1182.4" x2="1048.2" y2="1182.4"/>
<text transform="translate(958.9 1200.0) scale(1.23 1)" font-size="41" style="stroke:#000;stroke-width:0.35">−</text>
<text x="985.8" y="1195.8" font-size="41">0.5</text>
<line x1="1042.7" y1="1321.9" x2="1048.2" y2="1321.9"/>
<text transform="translate(958.9 1339.5) scale(1.23 1)" font-size="41" style="stroke:#000;stroke-width:0.35">−</text>
<text x="985.8" y="1335.3" font-size="41">1.0</text>
<line x1="1042.7" y1="1461.4" x2="1048.2" y2="1461.4"/>
<text transform="translate(958.9 1479.0) scale(1.23 1)" font-size="41" style="stroke:#000;stroke-width:0.35">−</text>
<text x="985.8" y="1474.8" font-size="41">1.5</text>
<text x="523.7" y="1610.4" font-size="41.0" text-anchor="middle">Air Wavelength, Stellar Rest Frame (Å)</text>
<text x="1438.0" y="1610.4" font-size="41.0" text-anchor="middle">Air Wavelength, Stellar Rest Frame (Å)</text>
<text transform="translate(28.3 984.2) rotate(-90)" font-size="41" text-anchor="middle">Time from Transit Center (hr)</text>
<rect x="1962.6" y="455.4" width="38.7" height="1061.0" fill="none" stroke="#000" stroke-width="1.4"/>
<line x1="2001.3" y1="455.4" x2="2006.8" y2="455.4"/>
<text x="2012.8" y="468.8" font-size="41.0" text-anchor="start">3</text>
<line x1="2001.3" y1="632.2" x2="2006.8" y2="632.2"/>
<text x="2012.8" y="645.6" font-size="41.0" text-anchor="start">2</text>
<line x1="2001.3" y1="809.1" x2="2006.8" y2="809.1"/>
<text x="2012.8" y="822.5" font-size="41.0" text-anchor="start">1</text>
<line x1="2001.3" y1="985.9" x2="2006.8" y2="985.9"/>
<text x="2012.8" y="999.3" font-size="41.0" text-anchor="start">0</text>
<line x1="2001.3" y1="1162.7" x2="2006.8" y2="1162.7"/>
<text transform="translate(2013.0 1180.3) scale(1.23 1)" font-size="41" style="stroke:#000;stroke-width:0.35">−</text>
<text x="2039.9" y="1176.1" font-size="41">1</text>
<line x1="2001.3" y1="1339.6" x2="2006.8" y2="1339.6"/>
<text transform="translate(2013.0 1357.2) scale(1.23 1)" font-size="41" style="stroke:#000;stroke-width:0.35">−</text>
<text x="2039.9" y="1353.0" font-size="41">2</text>
<line x1="2001.3" y1="1516.4" x2="2006.8" y2="1516.4"/>
<text transform="translate(2013.0 1534.0) scale(1.23 1)" font-size="41" style="stroke:#000;stroke-width:0.35">−</text>
<text x="2039.9" y="1529.8" font-size="41">3</text>
<text transform="translate(2096.5 986.2) rotate(-90)" font-size="41" text-anchor="middle">Difference from <tspan font-style="italic" font-size="44">F</tspan><tspan font-size="30.8" dy="7.7" dx="-2.5">out</tspan><tspan dy="-7.7" dx="3"> (%)</tspan></text>
<rect x="134.0" y="0.9" width="779.4" height="352.8" fill="none" stroke="#000" stroke-width="1.4"/>
<rect x="1048.2" y="0.9" width="779.6" height="352.8" fill="none" stroke="#000" stroke-width="1.4"/>
<rect x="134.0" y="455.5" width="779.4" height="1060.5" fill="none" stroke="#000" stroke-width="1.4"/>
<rect x="1048.2" y="455.5" width="779.6" height="1060.5" fill="none" stroke="#000" stroke-width="1.4"/>
</svg></div></body></html>
